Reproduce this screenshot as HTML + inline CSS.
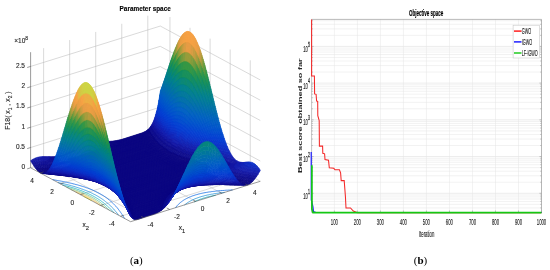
<!DOCTYPE html><html><head><meta charset="utf-8"><style>
html,body{margin:0;padding:0;background:#fff;}
svg{display:block}
text{font-family:"Liberation Sans",Arial,sans-serif;fill:#262626}
.g{stroke:#b4b4b4;stroke-width:.5}
.a{stroke:#555;stroke-width:.6}
.ct polyline{fill:none;stroke-width:.75}
.SU path{stroke-width:6;stroke-linejoin:round}
.ttl{font-size:6.4px;font-weight:bold;fill:#000;stroke:#000;stroke-width:.1}
.tk{font-size:6.5px;stroke:#262626;stroke-width:.12}
.sup{font-size:4.4px}
.sup8{font-size:5px}
.sub{font-size:4.4px}
.asub{font-size:5.8px}
.zl{font-size:6.9px}
.zl .sub{font-size:4.8px}
.mg{stroke:#e4e4e4;stroke-width:.5}
.rg{stroke:#d8d8d8;stroke-width:.5}
.rv{stroke:#e4e4e4;stroke-width:.5}
.rb{fill:none;stroke:#9c9c9c;stroke-width:.7}
.ra{fill:none;stroke:#9a9a9a;stroke-width:.6}
.rt{font-size:9.3px;stroke:#262626;stroke-width:.15}
.rlg{font-size:8.9px;stroke:#262626;stroke-width:.15}
.ryl{font-size:9.15px;font-weight:bold}
.rsup{font-size:7.6px;stroke-width:.25}
.rtt{font-size:9.6px;font-weight:bold;fill:#000;stroke:#000;stroke-width:.15}
.cap{font-family:"Liberation Serif",serif;font-size:11px;fill:#000}
.sa{fill:#080480;stroke:#080480}.sb{fill:#0c0a8b;stroke:#0c0a8b}.sc{fill:#0f0f96;stroke:#0f0f96}.sd{fill:#1216a2;stroke:#1216a2}.se{fill:#141eaf;stroke:#141eaf}.sf{fill:#1124b7;stroke:#1124b7}.sg{fill:#0f2ac0;stroke:#0f2ac0}.sh{fill:#0c30c8;stroke:#0c30c8}.si{fill:#0a35cb;stroke:#0a35cb}.sj{fill:#0739cf;stroke:#0739cf}.sk{fill:#053ed2;stroke:#053ed2}.sl{fill:#0442d1;stroke:#0442d1}.sm{fill:#0247d0;stroke:#0247d0}.sn{fill:#014cce;stroke:#014cce}.so{fill:#0050cd;stroke:#0050cd}.sp{fill:#0054cb;stroke:#0054cb}.sq{fill:#0058c8;stroke:#0058c8}.sr{fill:#005bc5;stroke:#005bc5}.ss{fill:#005fc3;stroke:#005fc3}.st{fill:#0062be;stroke:#0062be}.su{fill:#0065b9;stroke:#0065b9}.sv{fill:#0068b4;stroke:#0068b4}.sw{fill:#006baf;stroke:#006baf}.sx{fill:#006eaa;stroke:#006eaa}.sy{fill:#0071a5;stroke:#0071a5}.sz{fill:#0074a0;stroke:#0074a0}.sA{fill:#00779b;stroke:#00779b}.sB{fill:#007a96;stroke:#007a96}.sC{fill:#007d91;stroke:#007d91}.sD{fill:#00808c;stroke:#00808c}.sE{fill:#028284;stroke:#028284}.sF{fill:#05847d;stroke:#05847d}.sG{fill:#088676;stroke:#088676}.sH{fill:#0a886e;stroke:#0a886e}.sI{fill:#0c8a66;stroke:#0c8a66}.sJ{fill:#0f8c5f;stroke:#0f8c5f}.sK{fill:#168e59;stroke:#168e59}.sL{fill:#1d9053;stroke:#1d9053}.sM{fill:#24924d;stroke:#24924d}.sN{fill:#2b9447;stroke:#2b9447}.sO{fill:#329641;stroke:#329641}.sP{fill:#46973f;stroke:#46973f}.sQ{fill:#5a983d;stroke:#5a983d}.sR{fill:#6e993b;stroke:#6e993b}.sS{fill:#829a39;stroke:#829a39}.sT{fill:#969b37;stroke:#969b37}.sU{fill:#a69b39;stroke:#a69b39}.sV{fill:#b69b3b;stroke:#b69b3b}.sW{fill:#c69b3d;stroke:#c69b3d}.sX{fill:#d69b3f;stroke:#d69b3f}.sY{fill:#e69b41;stroke:#e69b41}.sZ{fill:#e99c41;stroke:#e99c41}.sba{fill:#ec9d41;stroke:#ec9d41}.sbb{fill:#f09e41;stroke:#f09e41}.sbc{fill:#f39f41;stroke:#f39f41}.sbd{fill:#f6a041;stroke:#f6a041}.sbe{fill:#f1a641;stroke:#f1a641}.sbf{fill:#ecac41;stroke:#ecac41}.sbg{fill:#e2b841;stroke:#e2b841}.sbh{fill:#d7c341;stroke:#d7c341}.sbi{fill:#d4c741;stroke:#d4c741}.sbj{fill:#d2cc41;stroke:#d2cc41}.sbk{fill:#d0d041;stroke:#d0d041}.sbl{fill:#cdd441;stroke:#cdd441}</style></head><body><svg width="550" height="270" viewBox="0 0 550 270"><g><line class="g" x1="143.62" y1="217.64" x2="43.62" y2="163.74"/><line class="g" x1="120.56" y1="216.29" x2="250.26" y2="175.89"/><line class="g" x1="169.67" y1="209.53" x2="69.67" y2="155.63"/><line class="g" x1="100.48" y1="205.47" x2="230.18" y2="165.07"/><line class="g" x1="195.71" y1="201.42" x2="95.71" y2="147.52"/><line class="g" x1="80.40" y1="194.64" x2="210.10" y2="154.24"/><line class="g" x1="221.75" y1="193.31" x2="121.75" y2="139.41"/><line class="g" x1="60.32" y1="183.82" x2="190.02" y2="143.42"/><line class="g" x1="247.80" y1="185.19" x2="147.80" y2="131.29"/><line class="g" x1="40.24" y1="173.00" x2="169.94" y2="132.60"/><line class="g" x1="43.62" y1="163.74" x2="43.62" y2="48.14"/><line class="g" x1="69.67" y1="155.63" x2="69.67" y2="40.03"/><line class="g" x1="95.71" y1="147.52" x2="95.71" y2="31.92"/><line class="g" x1="121.75" y1="139.41" x2="121.75" y2="23.81"/><line class="g" x1="147.80" y1="131.29" x2="147.80" y2="15.69"/><line class="g" x1="30.60" y1="167.80" x2="160.30" y2="127.40"/><line class="g" x1="30.60" y1="147.53" x2="160.30" y2="107.13"/><line class="g" x1="30.60" y1="127.26" x2="160.30" y2="86.86"/><line class="g" x1="30.60" y1="106.99" x2="160.30" y2="66.59"/><line class="g" x1="30.60" y1="86.72" x2="160.30" y2="46.32"/><line class="g" x1="30.60" y1="66.44" x2="160.30" y2="26.04"/><line class="g" x1="250.26" y1="175.89" x2="250.26" y2="60.29"/><line class="g" x1="230.18" y1="165.07" x2="230.18" y2="49.47"/><line class="g" x1="210.10" y1="154.24" x2="210.10" y2="38.64"/><line class="g" x1="190.02" y1="143.42" x2="190.02" y2="27.82"/><line class="g" x1="169.94" y1="132.60" x2="169.94" y2="17.00"/><line class="g" x1="260.30" y1="181.30" x2="160.30" y2="127.40"/><line class="g" x1="260.30" y1="161.03" x2="160.30" y2="107.13"/><line class="g" x1="260.30" y1="140.76" x2="160.30" y2="86.86"/><line class="g" x1="260.30" y1="120.49" x2="160.30" y2="66.59"/><line class="g" x1="260.30" y1="100.22" x2="160.30" y2="46.32"/><line class="g" x1="260.30" y1="79.94" x2="160.30" y2="26.04"/></g><g><line class="a" x1="30.60" y1="167.80" x2="30.60" y2="52.20"/><line class="a" x1="30.60" y1="167.80" x2="27.20" y2="168.85"/><line class="a" x1="30.60" y1="147.53" x2="27.20" y2="148.58"/><line class="a" x1="30.60" y1="127.26" x2="27.20" y2="128.31"/><line class="a" x1="30.60" y1="106.99" x2="27.20" y2="108.04"/><line class="a" x1="30.60" y1="86.72" x2="27.20" y2="87.77"/><line class="a" x1="30.60" y1="66.44" x2="27.20" y2="67.49"/></g><g class="ct"><polyline stroke="#0363e1" points="232.6,189.9 232.0,189.9 230.8,190.0 230.7,190.0 229.7,190.1 228.7,190.1 228.6,190.1 227.5,190.2 226.7,190.2 226.4,190.2 225.2,190.3 224.6,190.4 224.2,190.4 223.1,190.5 222.5,190.5 222.0,190.6 220.9,190.6 220.3,190.7 219.9,190.7 218.8,190.8 217.9,190.9 217.7,190.9 216.7,191.0 215.7,191.1 215.5,191.2 214.7,191.3 213.6,191.4 212.8,191.5 212.6,191.5 211.6,191.6 210.7,191.8 209.9,191.9 209.7,191.9 208.7,192.0 207.8,192.2 206.8,192.3 206.6,192.4 205.9,192.5 205.0,192.7 204.1,192.8 203.2,193.0 202.4,193.2 202.3,193.2 201.4,193.4 200.5,193.6 199.7,193.8 198.8,194.0 198.0,194.2 197.2,194.5 196.4,194.7 195.6,194.9 194.8,195.2 194.0,195.4 193.3,195.7 192.5,195.9 191.8,196.2 191.1,196.5 190.4,196.8 189.7,197.0 189.0,197.3 188.9,197.4 188.3,197.7 187.7,198.0 187.0,198.3 186.4,198.6 186.1,198.8 185.8,198.9 185.2,199.3 184.6,199.6 184.1,199.9 184.0,200.0 183.4,200.3 182.9,200.7 182.6,200.9 182.3,201.1 181.8,201.5 181.4,201.8 181.3,201.8 180.8,202.2 180.3,202.6 180.3,202.6 179.8,203.0 179.4,203.4 179.4,203.5 178.9,203.9 178.6,204.2 178.5,204.3 178.0,204.7 177.9,204.9 177.6,205.2 177.2,205.6 177.2,205.7 176.8,206.1 176.6,206.4 176.4,206.5 176.0,207.0 176.0,207.0 175.7,207.5 175.5,207.7"/><polyline stroke="#0363e1" points="124.5,218.4 124.3,218.0 124.0,217.6 123.9,217.4 123.8,217.2 123.5,216.7 123.3,216.4 123.2,216.3 123.0,215.9 122.7,215.5 122.7,215.4 122.4,215.0 122.2,214.6 122.0,214.4 121.9,214.2 121.6,213.7 121.3,213.4 121.3,213.3 121.0,212.9 120.7,212.5 120.6,212.3 120.4,212.1 120.1,211.6 119.8,211.3 119.8,211.2 119.5,210.8 119.2,210.4 119.0,210.1 118.9,210.0 118.6,209.6 118.3,209.2 118.1,209.0 117.9,208.7 117.6,208.3 117.3,207.9 117.1,207.8 116.9,207.5 116.6,207.1 116.2,206.7 116.1,206.6 115.9,206.3 115.5,205.9 115.1,205.5 114.9,205.3 114.8,205.1 114.4,204.7 114.0,204.3 113.6,203.9 113.5,203.9 113.2,203.5 112.8,203.2 112.4,202.8 112.0,202.4 112.0,202.4 111.6,202.0 111.2,201.6 110.8,201.2 110.3,200.9 110.1,200.7 109.9,200.5 109.4,200.1 109.0,199.7 108.5,199.4 108.0,199.0 107.6,198.7 107.6,198.6 107.1,198.3 106.6,197.9 106.1,197.6 105.6,197.2 105.1,196.9 104.6,196.5 104.0,196.2 103.5,195.8 103.4,195.7 103.0,195.5 102.4,195.1 101.9,194.8 101.3,194.5 100.7,194.1 100.1,193.8 99.6,193.5 99.0,193.1 98.3,192.8 97.7,192.5 97.1,192.2 96.5,191.9 95.8,191.5 95.2,191.2 94.5,190.9 94.4,190.9 93.8,190.6 93.2,190.3 92.5,190.0 91.8,189.7 91.1,189.4 90.3,189.2 89.6,188.9 88.9,188.6 88.9,188.6 88.1,188.3 87.4,188.0 86.6,187.8 85.8,187.5 85.2,187.3 85.0,187.2 84.3,186.9 83.5,186.7 82.6,186.4 82.1,186.3 81.8,186.2 81.0,185.9 80.2,185.7 79.3,185.4 79.3,185.4 78.5,185.2 77.6,184.9 76.8,184.7 76.7,184.7 75.8,184.5 74.9,184.2 74.4,184.1 74.0,184.0 73.1,183.8 72.2,183.5 72.1,183.5 71.3,183.3 70.3,183.1 69.9,183.0 69.4,182.9 68.4,182.7 67.8,182.5 67.5,182.5 66.5,182.2 65.7,182.1 65.5,182.0 64.5,181.8 63.7,181.7 63.5,181.6 62.5,181.4 61.8,181.3 61.5,181.2 60.5,181.0 59.9,180.9 59.5,180.8 58.4,180.7 58.0,180.6 57.4,180.5 56.3,180.3 56.2,180.3 55.3,180.1 54.4,179.9 54.2,179.9 53.1,179.7 52.6,179.6"/><polyline stroke="#0363e1" points="156.3,128.6 156.6,129.1 156.9,129.5 157.1,129.6 157.2,129.9 157.5,130.3 157.9,130.7 157.9,130.7 158.2,131.1 158.5,131.6 158.7,131.9 158.8,132.0 159.1,132.4 159.5,132.8 159.7,133.0 159.8,133.2 160.1,133.6 160.5,134.0 160.7,134.3 160.8,134.4 161.2,134.8 161.5,135.2 161.8,135.5 161.9,135.6 162.2,136.0 162.6,136.4 163.0,136.8 163.1,136.9 163.4,137.2 163.8,137.6 164.2,138.0 164.5,138.3 164.6,138.4 164.9,138.8 165.4,139.1 165.8,139.5 166.1,139.8 166.2,139.9 166.6,140.3 167.0,140.7 167.5,141.0 167.9,141.4 168.2,141.6 168.4,141.8 168.8,142.2 169.3,142.5 169.8,142.9 170.2,143.3 170.7,143.6 170.9,143.8 171.2,144.0 171.7,144.3 172.2,144.7 172.7,145.0 173.2,145.4 173.8,145.7 174.3,146.1 174.8,146.4 175.4,146.8 176.0,147.1 176.3,147.3 176.5,147.5 177.1,147.8 177.7,148.1 178.3,148.4 178.8,148.8 179.5,149.1 180.1,149.4 180.7,149.7 181.3,150.1 182.0,150.4 182.0,150.4 182.6,150.7 183.2,151.0 183.9,151.3 184.6,151.6 185.3,151.9 185.9,152.2 186.6,152.5 187.3,152.8 188.1,153.1 188.7,153.3 188.8,153.4 189.5,153.7 190.2,153.9 191.0,154.2 191.7,154.5 192.5,154.8 192.7,154.8 193.3,155.0 194.1,155.3 194.8,155.6 195.6,155.8 196.0,156.0 196.4,156.1 197.3,156.4 198.1,156.6 198.9,156.9 199.0,156.9 199.7,157.1 200.6,157.4 201.4,157.6 201.7,157.7 202.3,157.9 203.2,158.1 204.0,158.3 204.3,158.4 204.9,158.6 205.8,158.8 206.7,159.1 206.7,159.1 207.6,159.3 208.5,159.5 209.0,159.6 209.4,159.7 210.3,160.0 211.3,160.2 211.3,160.2 212.2,160.4 213.1,160.6 213.5,160.7 214.1,160.9 215.0,161.1 215.6,161.2 216.0,161.3 217.0,161.5 217.7,161.7 217.9,161.7 218.9,161.9 219.7,162.1 219.9,162.1 220.9,162.3 221.7,162.5 221.9,162.5 222.8,162.7 223.7,162.9 223.8,162.9 224.8,163.1 225.7,163.3 225.8,163.3 226.8,163.5 227.7,163.7"/><polyline stroke="#1389d3" points="224.6,192.4 224.3,192.4 223.2,192.6 222.2,192.7 222.1,192.7 221.2,192.8 220.2,192.9 219.4,193.0 219.2,193.0 218.2,193.2 217.2,193.3 216.5,193.4 216.3,193.4 215.3,193.6 214.3,193.7 213.4,193.9 213.1,193.9 212.5,194.1 211.5,194.2 210.6,194.4 209.7,194.6 209.0,194.7 208.8,194.8 207.9,194.9 207.1,195.1 206.2,195.3 205.3,195.5 204.5,195.7 203.7,196.0 202.8,196.2 202.0,196.4 201.2,196.6 200.4,196.9 199.7,197.1 198.9,197.4 198.2,197.6 197.4,197.9 196.7,198.2 196.0,198.4 195.2,198.7 194.5,199.0 193.9,199.3 193.2,199.6 193.1,199.7 192.5,199.9 191.9,200.2 191.2,200.6 190.6,200.9 190.3,201.0 190.0,201.2 189.4,201.6 188.8,201.9 188.4,202.2 188.2,202.3 187.7,202.6 187.1,203.0 186.9,203.2 186.6,203.4 186.0,203.7 185.6,204.1 185.5,204.1 185.0,204.5 184.5,204.9 184.5,204.9"/><polyline stroke="#1389d3" points="118.6,215.2 118.6,215.2 118.3,214.8 118.0,214.4 117.8,214.1 117.7,213.9 117.4,213.5 117.0,213.1 116.9,213.0 116.7,212.7 116.4,212.3 116.0,211.9 116.0,211.8 115.7,211.5 115.4,211.1 115.0,210.7 115.0,210.6 114.7,210.3 114.3,209.9 114.0,209.5 113.9,209.4 113.6,209.1 113.3,208.7 112.9,208.3 112.7,208.1 112.5,207.9 112.1,207.5 111.7,207.1 111.4,206.7 111.3,206.7 111.0,206.3 110.6,205.9 110.2,205.5 109.8,205.1 109.7,205.1 109.3,204.8 108.9,204.4 108.5,204.0 108.1,203.6 107.9,203.5 107.6,203.2 107.2,202.9 106.7,202.5 106.3,202.1 105.8,201.8 105.5,201.5 105.3,201.4 104.9,201.0 104.4,200.7 103.9,200.3 103.4,199.9 102.9,199.6 102.4,199.2 102.1,199.0 101.9,198.9 101.4,198.5 100.8,198.2 100.3,197.8 99.8,197.5 99.2,197.1 98.7,196.8 98.1,196.5 97.5,196.1 97.0,195.8 96.4,195.5 95.8,195.1 95.2,194.8 94.6,194.5 93.9,194.2 93.3,193.9 92.7,193.5 92.1,193.2 91.4,192.9 90.7,192.6 90.1,192.3 89.4,192.0 88.7,191.7 88.0,191.4 87.8,191.3 87.3,191.1 86.6,190.8 85.9,190.5 85.2,190.2 84.5,190.0 83.7,189.7 83.2,189.5 83.0,189.4 82.2,189.1 81.4,188.9 80.7,188.6 79.9,188.3 79.6,188.2 79.1,188.1 78.3,187.8 77.5,187.5 76.6,187.3 76.5,187.2 75.8,187.0 75.0,186.8 74.1,186.5 73.7,186.4 73.3,186.3 72.4,186.0 71.6,185.8 71.1,185.7 70.7,185.5 69.8,185.3 68.9,185.1 68.7,185.0 68.0,184.8 67.1,184.6 66.4,184.4 66.2,184.4 65.3,184.2 64.3,183.9 64.2,183.9 63.4,183.7 62.5,183.5 62.0,183.4 61.5,183.3 60.5,183.1 59.9,182.9 59.6,182.9 58.6,182.6 57.9,182.5"/><polyline stroke="#1389d3" points="159.7,127.6 160.0,127.9 160.1,128.0 160.4,128.4 160.7,128.8 160.9,129.1 161.0,129.2 161.4,129.6 161.7,130.0 161.9,130.2 162.0,130.4 162.4,130.9 162.7,131.3 162.9,131.5 163.1,131.7 163.4,132.1 163.8,132.5 164.1,132.8 164.2,132.9 164.5,133.3 164.9,133.7 165.3,134.0 165.4,134.1 165.7,134.4 166.1,134.8 166.4,135.2 166.8,135.6 166.9,135.6 167.2,136.0 167.7,136.4 168.1,136.8 168.5,137.1 168.5,137.1 168.9,137.5 169.3,137.9 169.8,138.3 170.2,138.7 170.5,138.9 170.7,139.0 171.1,139.4 171.6,139.8 172.0,140.1 172.5,140.5 173.0,140.9 173.1,140.9 173.5,141.2 174.0,141.6 174.4,142.0 174.9,142.3 175.5,142.7 176.0,143.0 176.5,143.4 177.0,143.7 177.2,143.8 177.6,144.1 178.1,144.4 178.6,144.7 179.2,145.1 179.8,145.4 180.3,145.8 180.9,146.1 181.5,146.4 182.1,146.7 182.7,147.1 183.3,147.4 183.9,147.7 184.5,148.0 185.1,148.4 185.8,148.7 186.4,149.0 187.1,149.3 187.7,149.6 188.4,149.9 188.7,150.0 189.1,150.2 189.8,150.5 190.5,150.8 191.2,151.1 191.9,151.4 192.6,151.7 193.3,152.0 194.0,152.2 194.1,152.3 194.8,152.5 195.5,152.8 196.3,153.1 197.0,153.4 197.8,153.6 198.0,153.7 198.6,153.9 199.4,154.2 200.2,154.4 201.0,154.7 201.3,154.8 201.8,155.0 202.6,155.2 203.4,155.5 204.2,155.7 204.2,155.7 205.1,156.0 205.9,156.2 206.8,156.5 206.9,156.5 207.6,156.7 208.5,157.0 209.4,157.2 209.5,157.2 210.2,157.4 211.1,157.7 211.9,157.9 212.0,157.9 212.9,158.1 213.8,158.4 214.3,158.5 214.7,158.6 215.7,158.8 216.5,159.0 216.6,159.1 217.5,159.3 218.5,159.5 218.7,159.6 219.4,159.7 220.3,159.9 220.9,160.0"/><polyline stroke="#0aacbe" points="215.7,195.2 214.9,195.4 214.0,195.5 213.1,195.7 212.2,195.9 211.3,196.1 211.0,196.1 210.4,196.3 209.6,196.5 208.7,196.7 207.9,196.9 207.0,197.1 206.2,197.3 205.4,197.6 204.6,197.8 203.8,198.0 203.0,198.3 202.3,198.5 201.5,198.8 200.8,199.0 200.0,199.3 199.3,199.6 198.6,199.9 197.9,200.2 197.2,200.4 197.2,200.4 196.5,200.7 195.8,201.0 195.2,201.4 194.5,201.7 194.0,202.0"/><polyline stroke="#0aacbe" points="113.9,212.7 113.8,212.6 113.5,212.2 113.1,211.8 112.8,211.4 112.7,211.4 112.4,211.0 112.0,210.6 111.6,210.2 111.6,210.1 111.3,209.8 110.9,209.4 110.5,209.0 110.2,208.7 110.1,208.6 109.7,208.2 109.3,207.8 108.9,207.4 108.7,207.3 108.5,207.1 108.1,206.7 107.7,206.3 107.3,205.9 107.0,205.6 106.8,205.5 106.4,205.2 106.0,204.8 105.5,204.4 105.1,204.0 104.8,203.8 104.6,203.7 104.2,203.3 103.7,202.9 103.2,202.6 102.8,202.2 102.3,201.8 101.9,201.6 101.8,201.5 101.3,201.1 100.8,200.8 100.3,200.4 99.8,200.1 99.2,199.7 98.7,199.4 98.2,199.0 97.6,198.7 97.1,198.3 96.7,198.1 96.5,198.0 95.9,197.7 95.4,197.3 94.8,197.0 94.2,196.7 93.6,196.3 93.0,196.0 92.4,195.7 91.8,195.4 91.2,195.0 90.5,194.7 89.9,194.4 89.3,194.1 89.2,194.1 88.6,193.8 88.0,193.5 87.3,193.2 86.6,192.9 85.9,192.6 85.2,192.3 84.5,192.0 83.8,191.7 83.1,191.4 82.8,191.3 82.4,191.1 81.7,190.8 80.9,190.5 80.2,190.3 79.4,190.0 78.7,189.7 78.7,189.7 77.9,189.4 77.1,189.2 76.3,188.9 75.5,188.6 75.3,188.6 74.7,188.4 73.9,188.1 73.1,187.9 72.3,187.6 72.3,187.6 71.4,187.4 70.6,187.1 69.7,186.9 69.6,186.8 68.9,186.6 68.0,186.4 67.1,186.1 67.0,186.1 66.3,185.9 65.4,185.7 64.6,185.5 64.5,185.4 63.6,185.2 62.7,185.0 62.3,184.9"/><polyline stroke="#0aacbe" points="164.1,129.4 164.3,129.7 164.7,130.1 165.1,130.5 165.2,130.7 165.4,130.9 165.8,131.3 166.2,131.7 166.5,132.1 166.5,132.1 166.9,132.5 167.3,132.9 167.7,133.3 167.9,133.5 168.1,133.7 168.5,134.1 168.9,134.5 169.3,134.8 169.5,135.0 169.7,135.2 170.1,135.6 170.6,136.0 171.0,136.4 171.4,136.7 171.4,136.7 171.9,137.1 172.3,137.5 172.8,137.9 173.2,138.2 173.7,138.6 173.8,138.7 174.2,139.0 174.6,139.3 175.1,139.7 175.6,140.1 176.1,140.4 176.6,140.8 177.1,141.1 177.1,141.1 177.6,141.5 178.1,141.8 178.7,142.2 179.2,142.5 179.7,142.9 180.3,143.2 180.8,143.6 181.4,143.9 181.9,144.2 182.5,144.6 183.1,144.9 183.7,145.2 184.3,145.6 184.9,145.9 185.5,146.2 186.1,146.5 186.7,146.8 187.3,147.2 188.0,147.5 188.6,147.8 189.2,148.1 189.9,148.4 190.6,148.7 191.2,149.0 191.9,149.3 192.6,149.6 193.3,149.9 193.9,150.2 194.0,150.2 194.7,150.5 195.4,150.8 196.1,151.1 196.9,151.4 197.6,151.6 198.4,151.9 198.5,152.0 199.1,152.2 199.9,152.5 200.6,152.8 201.4,153.0 202.1,153.3 202.2,153.3 203.0,153.6 203.8,153.8 204.6,154.1 205.3,154.3 205.4,154.3 206.2,154.6 207.0,154.9 207.9,155.1 208.2,155.2 208.7,155.4 209.6,155.6 210.4,155.9 210.8,156.0 211.3,156.1 212.1,156.3 213.0,156.6 213.4,156.7 213.9,156.8 214.8,157.1 215.7,157.3 215.8,157.3"/><polyline stroke="#59bd8c" points="109.5,210.3 109.1,209.9 108.7,209.6 108.3,209.2 108.0,208.9 107.9,208.8 107.5,208.4 107.1,208.0 106.7,207.6 106.3,207.3 106.3,207.2 105.9,206.9 105.4,206.5 105.0,206.1 104.5,205.7 104.3,205.5 104.1,205.4 103.6,205.0 103.2,204.6 102.7,204.3 102.3,203.9 101.8,203.5 101.7,203.5 101.3,203.2 100.8,202.8 100.3,202.4 99.8,202.1 99.3,201.7 98.8,201.4 98.3,201.0 97.8,200.7 97.8,200.7 97.2,200.3 96.7,200.0 96.2,199.6 95.6,199.3 95.1,199.0 94.5,198.6 93.9,198.3 93.4,198.0 92.8,197.6 92.2,197.3 91.6,197.0 91.0,196.6 90.4,196.3 89.7,196.0 89.1,195.7 88.5,195.4 87.9,195.1 87.2,194.7 86.5,194.4 85.9,194.1 85.2,193.8 84.5,193.5 84.3,193.4 83.9,193.2 83.2,192.9 82.5,192.6 81.8,192.3 81.0,192.0 80.3,191.8 79.6,191.5 79.2,191.3 78.8,191.2 78.1,190.9 77.4,190.6 76.6,190.4 75.8,190.1 75.4,189.9 75.0,189.8 74.3,189.5 73.5,189.3 72.7,189.0 72.1,188.8 71.9,188.8 71.1,188.5 70.2,188.2 69.4,188.0 69.2,187.9 68.6,187.7 67.7,187.5 66.9,187.2 66.5,187.1"/><polyline stroke="#59bd8c" points="168.7,131.9 168.7,132.0 169.1,132.3 169.5,132.7 169.9,133.1 170.3,133.4 170.3,133.5 170.7,133.9 171.2,134.3 171.6,134.6 172.0,135.0 172.1,135.1 172.4,135.4 172.9,135.8 173.3,136.2 173.8,136.5 174.2,136.9 174.3,136.9 174.7,137.3 175.2,137.6 175.6,138.0 176.1,138.4 176.6,138.7 177.1,139.1 177.2,139.2 177.6,139.4 178.1,139.8 178.6,140.2 179.1,140.5 179.6,140.9 180.1,141.2 180.7,141.6 181.2,141.9 181.7,142.2 182.3,142.6 182.3,142.6 182.9,142.9 183.4,143.3 184.0,143.6 184.6,143.9 185.1,144.3 185.7,144.6 186.3,144.9 186.9,145.2 187.5,145.6 188.2,145.9 188.8,146.2 189.4,146.5 190.0,146.8 190.7,147.1 191.2,147.4 191.3,147.4 192.0,147.8 192.7,148.1 193.3,148.4 194.0,148.7 194.7,149.0 195.4,149.3 196.1,149.6 196.8,149.8 197.5,150.1 197.6,150.1 198.2,150.4 199.0,150.7 199.7,151.0 200.5,151.3 201.2,151.5 201.8,151.7 202.0,151.8 202.7,152.1 203.5,152.4 204.3,152.6 205.1,152.9 205.2,153.0 205.9,153.2 206.7,153.4 207.5,153.7 208.3,153.9 208.3,154.0 209.1,154.2 209.9,154.5 210.8,154.7 211.2,154.8"/><polyline stroke="#b7bd64" points="105.0,207.9 104.8,207.7 104.4,207.3 103.9,207.0 103.5,206.6 103.0,206.2 102.9,206.1 102.6,205.8 102.1,205.5 101.7,205.1 101.2,204.7 100.7,204.4 100.2,204.0 100.2,204.0 99.7,203.6 99.3,203.3 98.8,202.9 98.3,202.6 97.7,202.2 97.2,201.9 96.7,201.5 96.2,201.2 95.9,201.0 95.6,200.8 95.1,200.5 94.6,200.1 94.0,199.8 93.4,199.5 92.9,199.1 92.3,198.8 91.7,198.5 91.1,198.1 90.5,197.8 89.9,197.5 89.3,197.2 88.7,196.8 88.1,196.5 87.5,196.2 86.8,195.9 86.2,195.6 85.5,195.3 84.9,195.0 84.2,194.6 83.5,194.3 83.5,194.3 82.9,194.0 82.2,193.7 81.5,193.4 80.8,193.1 80.1,192.9 79.4,192.6 78.7,192.3 78.1,192.1 77.9,192.0 77.2,191.7 76.4,191.4 75.7,191.2 74.9,190.9 74.2,190.6 74.1,190.6 73.4,190.3 72.6,190.1 71.8,189.8 71.0,189.5 70.8,189.5"/><polyline stroke="#b7bd64" points="173.4,134.5 173.5,134.6 174.0,134.9 174.4,135.3 174.8,135.7 175.3,136.0 175.7,136.4 175.8,136.4 176.2,136.8 176.7,137.1 177.2,137.5 177.7,137.9 178.2,138.2 178.7,138.6 178.9,138.7 179.2,138.9 179.7,139.3 180.2,139.7 180.7,140.0 181.2,140.4 181.7,140.7 182.3,141.0 182.8,141.4 183.4,141.7 183.9,142.1 184.5,142.4 184.9,142.6 185.1,142.7 185.6,143.1 186.2,143.4 186.8,143.7 187.4,144.1 188.0,144.4 188.6,144.7 189.2,145.0 189.8,145.4 190.4,145.7 191.1,146.0 191.2,146.0 191.7,146.3 192.4,146.6 193.0,146.9 193.7,147.2 194.3,147.5 195.0,147.8 195.7,148.1 196.4,148.4 197.1,148.7 197.8,149.0 198.5,149.3 198.5,149.3 199.2,149.6 199.9,149.9 200.7,150.2 201.4,150.5 202.1,150.7 202.9,151.0 202.9,151.0 203.7,151.3 204.4,151.6 205.2,151.8 206.0,152.1 206.4,152.3"/><polyline stroke="#fdbe3d" points="99.9,205.2 99.9,205.1 99.4,204.8 98.9,204.4 98.4,204.1 97.9,203.7 97.4,203.3 96.9,203.0 96.4,202.6 96.2,202.5 95.9,202.3 95.4,201.9 94.8,201.6 94.3,201.2 93.8,200.9 93.2,200.6 92.6,200.2 92.1,199.9 91.5,199.5 90.9,199.2 90.4,198.9 89.8,198.6 89.2,198.2 88.6,197.9 88.0,197.6 87.3,197.3 86.7,196.9 86.1,196.6 85.5,196.3 84.8,196.0 84.2,195.7 83.5,195.4 82.8,195.1 82.2,194.8 81.5,194.5 80.8,194.2 80.7,194.1 80.1,193.9 79.4,193.6 78.7,193.3 78.0,193.0 77.3,192.7 76.5,192.4 75.8,192.1 75.7,192.1"/><polyline stroke="#fdbe3d" points="179.0,137.5 179.5,137.8 180.0,138.2 180.5,138.5 181.0,138.9 181.5,139.2 182.0,139.6 182.6,139.9 183.1,140.3 183.6,140.6 183.8,140.7 184.2,141.0 184.7,141.3 185.3,141.6 185.8,142.0 186.4,142.3 187.0,142.7 187.6,143.0 188.2,143.3 188.8,143.6 189.4,144.0 190.0,144.3 190.6,144.6 191.2,144.9 191.8,145.2 192.5,145.6 193.1,145.9 193.8,146.2 194.4,146.5 194.8,146.6 195.1,146.8 195.8,147.1 196.4,147.4 197.1,147.7 197.8,148.0 198.5,148.3 199.2,148.6 199.9,148.9 200.6,149.2 200.8,149.2"/><polyline stroke="#f6f313" points="91.7,200.8 91.5,200.6 90.9,200.3 90.3,199.9 89.8,199.6 89.2,199.3 88.6,198.9 88.0,198.6 87.4,198.3 86.8,198.0 86.1,197.6 85.5,197.3 84.9,197.0 84.2,196.7 83.8,196.5"/></g><g class="SU" transform="scale(.1)"><path class=ss d="M1601 952l8-54-6 16-8 53z"/><path class=sp d="M1593 1000l8-48-6 15-8 46z"/><path class=sn d="M1586 1043l7-43-6 13-7 41z"/><path class=sl d="M1578 1081l8-38-6 11-8 36z"/><path class=sj d="M1570 1114l8-33-6 9-8 32z"/><path class=si d="M1562 1144l8-30-6 8-8 29z"/><path class=sg d="M1554 1170l8-26-6 7-8 24z"/><path class=sf d="M1547 1193l7-23-6 5-8 22z"/><path class=se d="M1539 1213l8-20-7 4-7 19z"/><path class=sd d="M1523 1246l16-33-6 3-16 32z"/><path class=sc d="M1507 1271l16-25-6 2-16 23z"/><path class=sb d="M1484 1297l16-16 7-10-6 0-7 10-16 15z"/><path class=sa d="M1093 1420l47-5 39-7 39-10 47-14 133-42 31-11 32-16 23-18-6-1-23 17-32 15-179 58-39 11-40 8-39 6-39 3z"/><path class=sb d="M1015 1427l78-7-6-6-78 5z"/><path class=sb d="M554 1570l47-6 39-10 47-17 63-29-6-8-63 30-47 19-39 11-23 4-24 3z"/><path class=sc d="M492 1571l62-1-6-3-31 1-31-1z"/><path class=sd d="M437 1572l55-1-6-4-55-1z"/><path class=se d="M335 1601l24-12 23-9 24-5 31-3-6-6-31 2-24 5-23 7-24 12z"/><path class=sd d="M312 1617l23-16-6-9-23 15z"/><path class=st d="M1607 938l8-56-6 16-8 54z"/><path class=sq d="M1599 988l8-50-6 14-8 48z"/><path class=so d="M1592 1032l7-44-6 12-7 43z"/><path class=sm d="M1584 1071l8-39-6 11-8 38z"/><path class=sk d="M1576 1106l8-35-6 10-8 33z"/><path class=si d="M1568 1137l8-31-6 8-8 30z"/><path class=sh d="M1560 1164l8-27-6 7-8 26z"/><path class=sg d="M1553 1188l7-24-6 6-7 23z"/><path class=sf d="M1545 1209l8-21-6 5-8 20z"/><path class=se d="M1537 1228l8-19-6 4-8 18z"/><path class=sd d="M1529 1244l8-16-6 3-8 15z"/><path class=sc d="M1513 1270l16-26-6 2-16 25z"/><path class=sb d="M1490 1298l16-17 7-11-6 1-7 10-16 16z"/><path class=sa d="M1092 1427l62-9 55-12 47-14 140-44 32-11 23-11 23-14 16-14-6-1-23 18-32 16-31 11-141 45-46 13-40 9-39 7-46 5z"/><path class=sb d="M998 1437l94-10-6-6-94 8z"/><path class=sc d="M498 1575l62-1-6-4-62 1z"/><path class=sd d="M427 1579l32-3 39-1-6-4-39 0-32 2z"/><path class=se d="M365 1597l31-12 31-6-6-6-31 5-31 11z"/><path class=sd d="M318 1627l23-17 24-13-6-8-24 12-23 16z"/><path class=su d="M1613 923l8-58-6 17-8 56z"/><path class=sr d="M1605 975l8-52-6 15-8 50z"/><path class=so d="M1598 1021l7-46-6 13-7 44z"/><path class=sm d="M1590 1061l8-40-6 11-8 39z"/><path class=sk d="M1582 1098l8-37-6 10-8 35z"/><path class=sj d="M1574 1130l8-32-6 8-8 31z"/><path class=sh d="M1566 1158l8-28-6 7-8 27z"/><path class=sg d="M1559 1183l7-25-6 6-7 24z"/><path class=sf d="M1551 1205l8-22-6 5-8 21z"/><path class=se d="M1543 1225l8-20-6 4-8 19z"/><path class=sd d="M1527 1256l16-31-6 3-16 30z"/><path class=sc d="M1512 1281l15-25-6 2-15 23z"/><path class=sb d="M1488 1307l16-16 8-10-6 0-24 24z"/><path class=sa d="M1082 1434l47-6 47-9 39-10 47-13 140-45 32-11 31-16 23-17-6-2-23 17-31 15-180 58-47 13-39 8-39 7-47 5z"/><path class=sc d="M504 1580l62-2-6-4-62 1z"/><path class=sd d="M332 1631l23-16 16-9 16-7 23-9 39-7 55-3-6-5-55 2-39 6-23 8-16 6-16 9-23 15z"/><path class=sc d="M324 1637l8-6-6-10-8 6z"/><path class=sv d="M1619 908l8-60-6 17-8 58z"/><path class=ss d="M1611 961l8-53-6 15-8 52z"/><path class=sp d="M1604 1009l7-48-6 14-7 46z"/><path class=sn d="M1596 1051l8-42-6 12-8 40z"/><path class=sl d="M1588 1089l8-38-6 10-8 37z"/><path class=sj d="M1580 1122l8-33-6 9-8 32z"/><path class=si d="M1572 1152l8-30-6 8-8 28z"/><path class=sh d="M1565 1178l7-26-6 6-7 25z"/><path class=sf d="M1557 1201l8-23-6 5-8 22z"/><path class=se d="M1541 1239l16-38-6 4-16 37z"/><path class=sd d="M1533 1255l8-16-6 3-8 14z"/><path class=sc d="M1518 1280l15-25-6 1-15 25z"/><path class=sb d="M1494 1308l16-17 8-11-6 1-8 10-16 16z"/><path class=sa d="M1072 1442l71-11 62-14 55-16 133-42 39-13 23-11 24-14 15-13-6-1-15 12-16 10-31 14-172 55-47 13-39 10-47 8-55 7z"/><path class=sc d="M502 1584l62-2-6-4-62 2z"/><path class=sd d="M354 1629l31-19 15-7 24-8 31-7 47-4-6-4-47 3-39 7-31 12-31 18z"/><path class=sc d="M330 1646l24-17-6-9-24 17z"/><path class=sw d="M1625 892l8-61-6 17-8 60z"/><path class=st d="M1617 948l8-56-6 16-8 53z"/><path class=sq d="M1610 997l7-49-6 13-7 48z"/><path class=so d="M1602 1041l8-44-6 12-8 42z"/><path class=sm d="M1594 1080l8-39-6 10-8 38z"/><path class=sk d="M1586 1115l8-35-6 9-8 33z"/><path class=si d="M1578 1146l8-31-6 7-8 30z"/><path class=sh d="M1571 1173l7-27-6 6-7 26z"/><path class=sg d="M1563 1197l8-24-6 5-8 23z"/><path class=sf d="M1555 1218l8-21-6 4-8 20z"/><path class=se d="M1547 1237l8-19-6 3-8 18z"/><path class=sd d="M1532 1267l15-30-6 2-15 29z"/><path class=sc d="M1524 1280l8-13-6 1-8 12z"/><path class=sb d="M1500 1309l16-18 8-11-6 0-8 11-16 17z"/><path class=sa d="M1063 1450l78-13 62-14 55-16 141-45 39-13 23-11 24-16 15-13-6-1-15 13-16 10-31 15-31 11-141 44-47 14-47 11-47 9-62 9z"/><path class=sc d="M500 1589l71-3-7-4-70 3z"/><path class=sd d="M375 1628l24-13 31-13 31-8 39-5-6-4-39 3-31 7-31 12-24 12z"/><path class=sc d="M336 1656l39-28-6-9-39 27z"/><path class=sx d="M1631 877l8-64-6 18-8 61z"/><path class=su d="M1624 934l7-57-6 15-8 56z"/><path class=sr d="M1616 985l8-51-7 14-7 49z"/><path class=sp d="M1608 1030l8-45-6 12-8 44z"/><path class=sn d="M1600 1071l8-41-6 11-8 39z"/><path class=sl d="M1592 1107l8-36-6 9-8 35z"/><path class=sj d="M1584 1139l8-32-6 8-8 31z"/><path class=si d="M1577 1167l7-28-6 7-7 27z"/><path class=sg d="M1569 1192l8-25-6 6-8 24z"/><path class=sf d="M1561 1214l8-22-6 5-8 21z"/><path class=se d="M1553 1234l8-20-6 4-8 19z"/><path class=sd d="M1538 1266l15-32-6 3-15 30z"/><path class=sc d="M1522 1291l16-25-6 1-16 24z"/><path class=sb d="M1499 1317l23-26-6 0-24 25z"/><path class=sa d="M1053 1459l70-13 47-10 47-12 55-16 133-42 31-11 31-15 16-10 16-13-7-1-15 12-16 10-31 14-180 57-47 14-46 11-110 19z"/><path class=sc d="M498 1595l79-6-6-3-79 4z"/><path class=sd d="M405 1623l23-11 24-8 23-5 23-4-6-5-23 3-23 5-24 7-23 10z"/><path class=sc d="M350 1658l31-22 24-13-6-8-24 13-31 21z"/><path class=sb d="M342 1664l8-6-6-9-8 7z"/><path class=sy d="M1637 861l8-65-6 17-8 64z"/><path class=sv d="M1630 920l7-59-6 16-7 57z"/><path class=ss d="M1622 972l8-52-6 14-8 51z"/><path class=sp d="M1614 1019l8-47-6 13-8 45z"/><path class=sn d="M1606 1061l8-42-6 11-8 41z"/><path class=sl d="M1598 1099l8-38-6 10-8 36z"/><path class=sk d="M1590 1132l8-33-6 8-8 32z"/><path class=si d="M1583 1161l7-29-6 7-7 28z"/><path class=sh d="M1575 1187l8-26-6 6-8 25z"/><path class=sg d="M1567 1210l8-23-6 5-8 22z"/><path class=sf d="M1559 1231l8-21-6 4-8 20z"/><path class=se d="M1551 1249l8-18-6 3-8 17z"/><path class=sd d="M1544 1264l7-15-6 2-7 15z"/><path class=sc d="M1528 1290l16-26-6 2-16 25z"/><path class=sb d="M1505 1318l15-17 8-11-6 1-23 26z"/><path class=sa d="M1036 1469l101-20 63-15 55-16 148-47 39-14 23-10 24-15 16-14-6-1-16 13-16 10-31 15-31 11-141 44-55 16-46 12-133 25z"/><path class=sc d="M489 1603l39-6 55-4-6-4-63 4-31 4z"/><path class=sd d="M434 1619l24-8 31-8-6-6-31 7-24 8z"/><path class=sc d="M372 1655l31-20 31-16-6-7-31 15-31 20z"/><path class=sb d="M348 1673l24-18-6-8-24 17z"/><path class=sz d="M1643 845l8-67-6 18-8 65z"/><path class=sw d="M1636 905l7-60-6 16-7 59z"/><path class=st d="M1628 960l8-55-6 15-8 52z"/><path class=sq d="M1620 1008l8-48-6 12-8 47z"/><path class=so d="M1612 1052l8-44-6 11-8 42z"/><path class=sm d="M1604 1090l8-38-6 9-8 38z"/><path class=sk d="M1596 1125l8-35-6 9-8 33z"/><path class=sj d="M1589 1155l7-30-6 7-7 29z"/><path class=sh d="M1581 1182l8-27-6 6-8 26z"/><path class=sg d="M1573 1206l8-24-6 5-8 23z"/><path class=sf d="M1565 1227l8-21-6 4-8 21z"/><path class=se d="M1557 1246l8-19-6 4-8 18z"/><path class=sd d="M1542 1277l15-31-6 3-15 29z"/><path class=sc d="M1526 1301l16-24-6 1-16 23z"/><path class=sb d="M1503 1327l23-26-6 0-23 24z"/><path class=sa d="M1018 1479l157-33 46-13 55-16 133-42 31-11 31-15 16-10 16-12-6-2-16 12-16 10-31 14-179 57-47 14-47 12-149 30z"/><path class=sc d="M393 1653l39-23 39-15 24-6 23-5 63-6-6-4-63 5-23 4-24 5-23 8-16 7-15 7-24 15z"/><path class=sb d="M354 1681l39-28-6-8-39 28z"/><path class=sA d="M1649 829l8-69-6 18-8 67z"/><path class=sx d="M1642 891l7-62-6 16-7 60z"/><path class=su d="M1634 947l8-56-6 14-8 55z"/><path class=sr d="M1626 997l8-50-6 13-8 48z"/><path class=sp d="M1618 1042l8-45-6 11-8 44z"/><path class=sn d="M1610 1082l8-40-6 10-8 38z"/><path class=sl d="M1603 1117l7-35-6 8-8 35z"/><path class=sj d="M1595 1149l8-32-7 8-7 30z"/><path class=si d="M1587 1177l8-28-6 6-8 27z"/><path class=sg d="M1579 1202l8-25-6 5-8 24z"/><path class=sf d="M1571 1224l8-22-6 4-8 21z"/><path class=se d="M1556 1261l15-37-6 3-15 36z"/><path class=sd d="M1548 1276l8-15-6 2-8 14z"/><path class=sc d="M1532 1301l16-25-6 1-16 24z"/><path class=sb d="M1509 1328l23-27-6 0-23 26z"/><path class=sa d="M977 1497l47-12 118-26 62-16 55-16 140-44 39-13 24-10 23-14 24-18-6-1-16 12-16 10-31 15-31 11-148 47-47 13-47 13-141 30-55 13z"/><path class=sc d="M407 1656l39-22 39-15 24-7 23-4 55-6-6-4-63 6-39 8-39 14-39 22z"/><path class=sb d="M360 1689l47-33-6-8-47 33z"/><path class=sB d="M1655 813l8-71-6 18-8 69z"/><path class=sy d="M1648 877l7-64-6 16-7 62z"/><path class=sv d="M1640 934l8-57-6 14-8 56z"/><path class=ss d="M1632 986l8-52-6 13-8 50z"/><path class=sp d="M1624 1032l8-46-6 11-8 45z"/><path class=sn d="M1616 1073l8-41-6 10-8 40z"/><path class=sl d="M1609 1110l7-37-6 9-7 35z"/><path class=sk d="M1601 1143l8-33-6 7-8 32z"/><path class=si d="M1593 1172l8-29-6 6-8 28z"/><path class=sh d="M1585 1198l8-26-6 5-8 25z"/><path class=sg d="M1577 1220l8-22-6 4-8 22z"/><path class=sf d="M1569 1241l8-21-6 4-8 19z"/><path class=se d="M1562 1259l7-18-6 2-7 18z"/><path class=sd d="M1546 1288l16-29-6 2-16 28z"/><path class=sc d="M1530 1311l16-23-6 1-16 22z"/><path class=sb d="M1507 1336l23-25-6 0-23 24z"/><path class=sa d="M687 1593l39-8 47-13 148-50 62-20 55-14 141-33 94-27 140-44 31-11 32-15 15-10 16-12-6-1-16 11-15 10-32 14-171 55-94 26-141 32-62 16-63 20-140 49-47 13-39 9z"/><path class=sc d="M429 1654l31-17 39-15 39-9 47-6-6-5-47 6-39 8-39 14-31 16z"/><path class=sb d="M382 1685l47-31-6-8-47 31z"/><path class=sa d="M366 1696l16-11-6-8-16 12z"/><path class=sC d="M1661 796l8-72-6 18-8 71z"/><path class=sz d="M1654 862l7-66-6 17-7 64z"/><path class=sv d="M1646 921l8-59-6 15-8 57z"/><path class=st d="M1638 974l8-53-6 13-8 52z"/><path class=sq d="M1630 1022l8-48-6 12-8 46z"/><path class=so d="M1622 1064l8-42-6 10-8 41z"/><path class=sm d="M1615 1102l7-38-6 9-7 37z"/><path class=sk d="M1607 1136l8-34-6 8-8 33z"/><path class=sj d="M1599 1166l8-30-6 7-8 29z"/><path class=sh d="M1591 1193l8-27-6 6-8 26z"/><path class=sg d="M1583 1217l8-24-6 5-8 22z"/><path class=sf d="M1576 1238l7-21-6 3-8 21z"/><path class=se d="M1568 1256l8-18-7 3-7 18z"/><path class=sd d="M1552 1287l16-31-6 3-16 29z"/><path class=sc d="M1536 1311l16-24-6 1-16 23z"/><path class=sb d="M1513 1337l23-26-6 0-23 25z"/><path class=sa d="M685 1598l47-9 47-12 148-50 63-19 54-15 141-34 94-28 132-42 39-14 32-15 15-10 16-13-6-1-16 12-15 10-32 15-39 13-140 45-94 26-133 31-55 14-62 20-148 50-47 13-47 10z"/><path class=sc d="M450 1652l32-15 31-11 31-8 47-7-6-4-47 6-31 7-31 11-32 14z"/><path class=sb d="M396 1687l31-21 23-14-6-7-23 14-31 21z"/><path class=sa d="M372 1703l24-16-6-7-24 16z"/><path class=sD d="M1667 780l8-75-6 19-8 72z"/><path class=sA d="M1660 847l7-67-6 16-7 66z"/><path class=sw d="M1652 908l8-61-6 15-8 59z"/><path class=st d="M1644 962l8-54-6 13-8 53z"/><path class=sr d="M1636 1011l8-49-6 12-8 48z"/><path class=sp d="M1628 1055l8-44-6 11-8 42z"/><path class=sn d="M1621 1094l7-39-6 9-7 38z"/><path class=sl d="M1613 1129l8-35-6 8-8 34z"/><path class=sj d="M1605 1160l8-31-6 7-8 30z"/><path class=si d="M1597 1188l8-28-6 6-8 27z"/><path class=sh d="M1589 1213l8-25-6 5-8 24z"/><path class=sf d="M1574 1254l15-41-6 4-15 39z"/><path class=se d="M1566 1271l8-17-6 2-8 17z"/><path class=sd d="M1558 1286l8-15-6 2-8 14z"/><path class=sc d="M1542 1311l16-25-6 1-16 24z"/><path class=sb d="M1511 1346l16-15 15-20-6 0-15 19-16 14z"/><path class=sa d="M691 1602l39-8 47-11 47-14 109-37 55-17 54-15 141-35 86-26 141-44 39-14 31-14 16-9 15-12-6-2-15 12-16 9-31 14-180 57-86 25-180 45-62 18-156 53-47 12-47 9z"/><path class=sc d="M472 1651l23-10 32-11 31-8 31-6-6-4-31 5-31 7-32 10-23 10z"/><path class=sb d="M410 1689l31-20 31-18-6-7-31 17-31 21z"/><path class=sa d="M378 1709l32-20-6-7-32 21z"/><path class=sE d="M1674 764l7-77-6 18-8 75z"/><path class=sB d="M1666 833l8-69-7 16-7 67z"/><path class=sx d="M1658 895l8-62-6 14-8 61z"/><path class=su d="M1650 951l8-56-6 13-8 54z"/><path class=ss d="M1642 1001l8-50-6 11-8 49z"/><path class=sp d="M1634 1046l8-45-6 10-8 44z"/><path class=sn d="M1627 1086l7-40-6 9-7 39z"/><path class=sl d="M1619 1123l8-37-6 8-8 35z"/><path class=sk d="M1611 1155l8-32-6 6-8 31z"/><path class=si d="M1603 1183l8-28-6 5-8 28z"/><path class=sh d="M1595 1209l8-26-6 5-8 25z"/><path class=sg d="M1588 1231l7-22-6 4-7 22z"/><path class=sf d="M1580 1252l8-21-6 4-8 19z"/><path class=se d="M1572 1269l8-17-6 2-8 17z"/><path class=sd d="M1556 1299l16-30-6 2-16 28z"/><path class=sc d="M1541 1322l15-23-6 0-15 23z"/><path class=sb d="M1517 1347l24-25-6 0-24 24z"/><path class=sa d="M697 1606l47-10 47-11 203-65 195-52 94-28 133-42 39-14 31-14 16-10 15-13-6-1-15 12-16 9-31 14-39 14-141 44-86 26-141 35-54 15-55 17-109 37-47 14-47 11-39 8z"/><path class=sc d="M502 1647l39-14 39-9-6-5-39 8-40 14z"/><path class=sb d="M431 1686l39-24 32-15-7-6-31 14-39 24z"/><path class=sa d="M384 1714l47-28-6-7-47 30z"/><path class=sF d="M1680 747l7-78-6 18-7 77z"/><path class=sC d="M1672 818l8-71-6 17-8 69z"/><path class=sy d="M1664 882l8-64-6 15-8 62z"/><path class=sv d="M1656 939l8-57-6 13-8 56z"/><path class=ss d="M1648 991l8-52-6 12-8 50z"/><path class=sq d="M1640 1037l8-46-6 10-8 45z"/><path class=so d="M1633 1078l7-41-6 9-7 40z"/><path class=sm d="M1625 1116l8-38-6 8-8 37z"/><path class=sk d="M1617 1149l8-33-6 7-8 32z"/><path class=sj d="M1609 1178l8-29-6 6-8 28z"/><path class=sh d="M1601 1205l8-27-6 5-8 26z"/><path class=sg d="M1594 1228l7-23-6 4-7 22z"/><path class=sf d="M1586 1249l8-21-6 3-8 21z"/><path class=se d="M1570 1284l16-35-6 3-16 33z"/><path class=sd d="M1562 1298l8-14-6 1-8 14z"/><path class=sc d="M1547 1322l15-24-6 1-15 23z"/><path class=sb d="M1523 1349l24-27-6 0-24 25z"/><path class=sa d="M703 1609l55-11 54-14 180-57 227-62 187-58 39-14 31-13 24-13 23-18-6-2-15 13-16 10-31 14-39 14-133 42-94 28-195 52-203 65-47 11-47 10z"/><path class=sb d="M445 1688l31-19 24-12 23-10 24-8-6-6-24 8-23 10-24 11-31 19z"/><path class=sa d="M390 1719l24-12 31-19-6-7-55 33z"/><path class=sG d="M1686 731l7-80-6 18-7 78z"/><path class=sD d="M1678 803l8-72-6 16-8 71z"/><path class=sz d="M1670 868l8-65-6 15-8 64z"/><path class=sw d="M1662 927l8-59-6 14-8 57z"/><path class=st d="M1654 980l8-53-6 12-8 52z"/><path class=sr d="M1646 1028l8-48-6 11-8 46z"/><path class=so d="M1639 1070l7-42-6 9-7 41z"/><path class=sm d="M1631 1109l8-39-6 8-8 38z"/><path class=sl d="M1623 1143l8-34-6 7-8 33z"/><path class=sj d="M1615 1173l8-30-6 6-8 29z"/><path class=si d="M1607 1201l8-28-6 5-8 27z"/><path class=sh d="M1600 1225l7-24-6 4-7 23z"/><path class=sf d="M1584 1265l16-40-6 3-16 39z"/><path class=se d="M1576 1282l8-17-6 2-8 17z"/><path class=sd d="M1568 1297l8-15-6 2-8 14z"/><path class=sc d="M1545 1333l16-23 7-13-6 1-7 13-16 21z"/><path class=sb d="M1521 1357l24-24-6-1-24 23z"/><path class=sa d="M701 1614l63-12 54-14 196-61 179-50 86-25 141-45 39-14 31-14 16-10 15-12-6-2-15 12-16 9-31 14-39 14-149 47-78 23-179 48-204 64-54 14-55 10z"/><path class=sb d="M467 1685l47-25 23-10 23-8 55-14 86-14-6-4-94 15-47 11-23 8-23 9-47 25z"/><path class=sa d="M396 1724l24-11 47-28-6-7-47 29-24 12z"/><path class=sH d="M1692 715l7-82-6 18-7 80z"/><path class=sE d="M1684 789l8-74-6 16-8 72z"/><path class=sA d="M1676 855l8-66-6 14-8 65z"/><path class=sx d="M1668 916l8-61-6 13-8 59z"/><path class=su d="M1660 970l8-54-6 11-8 53z"/><path class=sr d="M1653 1019l7-49-6 10-8 48z"/><path class=sp d="M1645 1062l8-43-7 9-7 42z"/><path class=sn d="M1637 1102l8-40-6 8-8 39z"/><path class=sl d="M1629 1137l8-35-6 7-8 34z"/><path class=sk d="M1621 1168l8-31-6 6-8 30z"/><path class=si d="M1613 1196l8-28-6 5-8 28z"/><path class=sh d="M1606 1221l7-25-6 5-7 24z"/><path class=sg d="M1598 1244l8-23-6 4-8 21z"/><path class=sf d="M1590 1263l8-19-6 2-8 19z"/><path class=se d="M1582 1281l8-18-6 2-8 17z"/><path class=sd d="M1567 1310l15-29-6 1-15 28z"/><path class=sc d="M1551 1333l16-23-6 0-16 23z"/><path class=sb d="M1527 1358l24-25-6 0-24 24z"/><path class=sa d="M707 1618l70-14 63-17 180-56 218-62 172-53 39-14 32-13 23-13 23-18-6-1-15 12-16 10-31 14-39 14-141 45-86 25-179 50-196 61-54 14-63 12z"/><path class=sb d="M481 1687l46-24 47-18 47-12 86-15-6-4-86 14-47 11-23 8-24 9-47 24z"/><path class=sa d="M402 1727l16-6 16-7 47-27-7-7-54 33-24 11z"/><path class=sJ d="M1698 699l7-84-6 18-7 82z"/><path class=sF d="M1690 774l8-75-6 16-8 74z"/><path class=sB d="M1682 842l8-68-6 15-8 66z"/><path class=sy d="M1674 904l8-62-6 13-8 61z"/><path class=sv d="M1666 959l8-55-6 12-8 54z"/><path class=ss d="M1659 1009l7-50-6 11-7 49z"/><path class=sq d="M1651 1054l8-45-6 10-8 43z"/><path class=so d="M1643 1095l8-41-6 8-8 40z"/><path class=sm d="M1635 1131l8-36-6 7-8 35z"/><path class=sk d="M1627 1163l8-32-6 6-8 31z"/><path class=sj d="M1619 1192l8-29-6 5-8 28z"/><path class=sh d="M1612 1218l7-26-6 4-7 25z"/><path class=sg d="M1604 1241l8-23-6 3-8 23z"/><path class=sf d="M1596 1261l8-20-6 3-8 19z"/><path class=se d="M1580 1295l16-34-6 2-16 33z"/><path class=sd d="M1573 1310l7-15-6 1-7 14z"/><path class=sc d="M1557 1333l16-23-6 0-16 23z"/><path class=sb d="M1526 1367l15-15 16-19-6 0-16 18-15 14z"/><path class=sa d="M705 1623l71-14 62-16 188-58 172-48 78-24 179-58 39-17 16-10 16-11-6-2-16 11-16 9-39 17-187 60-70 21-172 48-196 61-62 15-63 12z"/><path class=sb d="M502 1684l47-22 39-14 47-12 70-13-6-4-70 12-47 11-47 17-39 19z"/><path class=sa d="M408 1730l16-4 16-7 62-35-6-6-62 36-16 7-16 6z"/><path class=sK d="M1704 683l7-85-6 17-7 84z"/><path class=sF d="M1696 760l8-77-6 16-8 75z"/><path class=sC d="M1688 829l8-69-6 14-8 68z"/><path class=sy d="M1680 892l8-63-6 13-8 62z"/><path class=sv d="M1672 949l8-57-6 12-8 55z"/><path class=st d="M1665 1000l7-51-6 10-7 50z"/><path class=sq d="M1657 1046l8-46-6 9-8 45z"/><path class=so d="M1649 1088l8-42-6 8-8 41z"/><path class=sm d="M1641 1125l8-37-6 7-8 36z"/><path class=sl d="M1633 1158l8-33-6 6-8 32z"/><path class=sj d="M1625 1188l8-30-6 5-8 29z"/><path class=si d="M1618 1214l7-26-6 4-7 26z"/><path class=sg d="M1610 1238l8-24-6 4-8 23z"/><path class=sf d="M1594 1278l16-40-6 3-16 38z"/><path class=se d="M1586 1294l8-16-6 1-8 16z"/><path class=sd d="M1571 1322l15-28-6 1-15 27z"/><path class=sc d="M1555 1344l16-22-6 0-16 21z"/><path class=sb d="M1532 1368l23-24-6-1-23 24z"/><path class=sa d="M711 1626l78-15 71-19 179-55 196-56 172-54 47-16 31-13 23-12 24-18-6-1-16 11-16 10-39 17-179 58-78 24-172 48-188 58-62 16-71 14z"/><path class=sa d="M414 1733l16-4 23-9 63-34-6-6-70 39-16 7-16 4z"/><path class=sL d="M1710 667l7-86-6 17-7 85z"/><path class=sG d="M1702 745l8-78-6 16-8 77z"/><path class=sD d="M1694 816l8-71-6 15-8 69z"/><path class=sz d="M1686 881l8-65-6 13-8 63z"/><path class=sw d="M1678 939l8-58-6 11-8 57z"/><path class=st d="M1671 991l7-52-6 10-7 51z"/><path class=sr d="M1663 1038l8-47-6 9-8 46z"/><path class=sp d="M1655 1081l8-43-6 8-8 42z"/><path class=sn d="M1647 1119l8-38-6 7-8 37z"/><path class=sl d="M1639 1153l8-34-6 6-8 33z"/><path class=sj d="M1632 1183l7-30-6 5-8 30z"/><path class=si d="M1624 1211l8-28-7 5-7 26z"/><path class=sh d="M1616 1235l8-24-6 3-8 24z"/><path class=sg d="M1608 1257l8-22-6 3-8 21z"/><path class=sf d="M1600 1276l8-19-6 2-8 19z"/><path class=se d="M1592 1293l8-17-6 2-8 16z"/><path class=sd d="M1577 1322l15-29-6 1-15 28z"/><path class=sc d="M1561 1344l16-22-6 0-16 22z"/><path class=sb d="M1538 1370l23-26-6 0-23 24z"/><path class=sa d="M710 1632l85-18 79-20 172-53 187-55 180-56 47-16 31-13 23-13 24-18-6-2-16 12-16 10-39 18-39 14-140 44-78 24-165 47-187 57-70 18-78 16z"/><path class=sa d="M420 1734l16-2 24-8 78-40-6-5-79 41-23 9-16 4z"/><path class=sM d="M1716 652l7-88-6 17-7 86z"/><path class=sH d="M1708 731l8-79-6 15-8 78z"/><path class=sE d="M1700 804l8-73-6 14-8 71z"/><path class=sA d="M1692 869l8-65-6 12-8 65z"/><path class=sx d="M1684 929l8-60-6 12-8 58z"/><path class=su d="M1677 982l7-53-6 10-7 52z"/><path class=ss d="M1669 1030l8-48-6 9-8 47z"/><path class=sp d="M1661 1074l8-44-6 8-8 43z"/><path class=sn d="M1653 1113l8-39-6 7-8 38z"/><path class=sl d="M1645 1148l8-35-6 6-8 34z"/><path class=sk d="M1638 1179l7-31-6 5-7 30z"/><path class=si d="M1630 1207l8-28-6 4-8 28z"/><path class=sh d="M1622 1232l8-25-6 4-8 24z"/><path class=sg d="M1614 1254l8-22-6 3-8 22z"/><path class=sf d="M1606 1274l8-20-6 3-8 19z"/><path class=se d="M1591 1308l15-34-6 2-15 32z"/><path class=sd d="M1583 1322l8-14-6 0-8 14z"/><path class=sc d="M1567 1345l16-23-6 0-16 22z"/><path class=sb d="M1536 1378l16-14 15-19-6-1-15 18-16 15z"/><path class=sa d="M716 1635l86-18 70-18 414-124 141-44 39-14 39-17 15-10 16-12-6-1-16 11-15 9-39 17-39 14-149 46-226 67-188 57-70 18-78 16z"/><path class=sa d="M426 1735l8 0 16-2 23-8 86-42-6-6-93 47-24 8-16 2z"/><path class=sN d="M1722 636l8-89-7 17-7 88z"/><path class=sI d="M1714 718l8-82-6 16-8 79z"/><path class=sE d="M1706 791l8-73-6 13-8 73z"/><path class=sB d="M1698 858l8-67-6 13-8 65z"/><path class=sy d="M1690 919l8-61-6 11-8 60z"/><path class=sv d="M1683 973l7-54-6 10-7 53z"/><path class=ss d="M1675 1022l8-49-6 9-8 48z"/><path class=sq d="M1667 1067l8-45-6 8-8 44z"/><path class=so d="M1659 1107l8-40-6 7-8 39z"/><path class=sm d="M1651 1142l8-35-6 6-8 35z"/><path class=sk d="M1644 1174l7-32-6 6-7 31z"/><path class=sj d="M1636 1203l8-29-6 5-8 28z"/><path class=si d="M1628 1229l8-26-6 4-8 25z"/><path class=sg d="M1620 1252l8-23-6 3-8 22z"/><path class=sf d="M1604 1291l16-39-6 2-16 38z"/><path class=se d="M1597 1307l7-16-6 1-7 16z"/><path class=sd d="M1581 1334l16-27-6 1-16 26z"/><path class=sc d="M1565 1356l16-22-6 0-16 21z"/><path class=sb d="M1542 1380l23-24-6-1-23 23z"/><path class=sa d="M714 1641l101-22 78-20 344-104 172-53 55-19 31-13 24-13 23-17-6-2-16 12-15 10-39 17-39 14-149 47-406 121-70 18-94 20z"/><path class=sa d="M433 1735l7 1 16 0 23-7 24-10 78-38-6-5-102 49-23 8-16 2-8 0z"/><path class=sO d="M1728 621l8-91-6 17-8 89z"/><path class=sJ d="M1720 704l8-83-6 15-8 82z"/><path class=sF d="M1712 779l8-75-6 14-8 73z"/><path class=sC d="M1704 847l8-68-6 12-8 67z"/><path class=sy d="M1696 909l8-62-6 11-8 61z"/><path class=sv d="M1689 964l7-55-6 10-7 54z"/><path class=st d="M1681 1015l8-51-6 9-8 49z"/><path class=sq d="M1673 1060l8-45-6 7-8 45z"/><path class=so d="M1665 1101l8-41-6 7-8 40z"/><path class=sm d="M1657 1137l8-36-6 6-8 35z"/><path class=sl d="M1650 1170l7-33-6 5-7 32z"/><path class=sj d="M1642 1200l8-30-6 4-8 29z"/><path class=si d="M1634 1226l8-26-6 3-8 26z"/><path class=sh d="M1626 1250l8-24-6 3-8 23z"/><path class=sg d="M1618 1271l8-21-6 2-8 20z"/><path class=sf d="M1611 1289l7-18-6 1-8 19z"/><path class=se d="M1603 1306l8-17-7 2-7 16z"/><path class=sd d="M1587 1334l16-28-6 1-16 27z"/><path class=sc d="M1571 1356l16-22-6 0-16 22z"/><path class=sb d="M1548 1382l23-26-6 0-23 24z"/><path class=sa d="M712 1647l109-24 86-23 328-99 188-59 47-16 31-13 24-13 23-18-6-2-23 17-24 13-31 13-55 19-172 53-344 104-78 20-109 24z"/><path class=sa d="M439 1734l7 2 16 1 23-4 32-12 86-41-6-5-32 13-62 31-24 10-23 7-16 0-7-1z"/><path class=sP d="M1734 607l8-93-6 16-8 91z"/><path class=sK d="M1726 691l8-84-6 14-8 83z"/><path class=sG d="M1718 767l8-76-6 13-8 75z"/><path class=sC d="M1710 836l8-69-6 12-8 68z"/><path class=sz d="M1702 899l8-63-6 11-8 62z"/><path class=sw d="M1695 956l7-57-6 10-7 55z"/><path class=st d="M1687 1007l8-51-6 8-8 51z"/><path class=sr d="M1679 1053l8-46-6 8-8 45z"/><path class=sp d="M1671 1095l8-42-6 7-8 41z"/><path class=sn d="M1663 1132l8-37-6 6-8 36z"/><path class=sl d="M1656 1166l7-34-6 5-7 33z"/><path class=sk d="M1648 1196l8-30-6 4-8 30z"/><path class=si d="M1640 1223l8-27-6 4-8 26z"/><path class=sh d="M1632 1247l8-24-6 3-8 24z"/><path class=sg d="M1624 1269l8-22-6 3-8 21z"/><path class=sf d="M1617 1288l7-19-6 2-7 18z"/><path class=se d="M1609 1305l8-17-6 1-8 17z"/><path class=sd d="M1593 1334l16-29-6 1-16 28z"/><path class=sc d="M1577 1357l16-23-6 0-16 22z"/><path class=sb d="M1546 1390l16-14 15-19-6-1-15 18-16 14z"/><path class=sa d="M702 1655l133-31 78-21 321-96 172-54 54-18 32-12 31-16 23-17-6-2-15 12-16 9-39 17-47 16-156 49-383 115-70 18-118 26z"/><path class=sb d="M445 1732l7 4-6 0-7-2z"/><path class=sQ d="M1740 592l8-93-6 15-8 93z"/><path class=sL d="M1732 678l8-86-6 15-8 84z"/><path class=sH d="M1724 755l8-77-6 13-8 76z"/><path class=sD d="M1716 826l8-71-6 12-8 69z"/><path class=sA d="M1709 889l7-63-6 10-8 63z"/><path class=sx d="M1701 947l8-58-7 10-7 57z"/><path class=su d="M1693 999l8-52-6 9-8 51z"/><path class=sr d="M1685 1046l8-47-6 8-8 46z"/><path class=sp d="M1677 1089l8-43-6 7-8 42z"/><path class=sn d="M1669 1127l8-38-6 6-8 37z"/><path class=sm d="M1662 1162l7-35-6 5-7 34z"/><path class=sk d="M1654 1192l8-30-6 4-8 30z"/><path class=sj d="M1646 1220l8-28-6 4-8 27z"/><path class=sh d="M1638 1245l8-25-6 3-8 24z"/><path class=sg d="M1630 1267l8-22-6 2-8 22z"/><path class=sf d="M1623 1287l7-20-6 2-7 19z"/><path class=se d="M1607 1320l16-33-6 1-16 33z"/><path class=sd d="M1599 1334l8-14-6 1-8 13z"/><path class=sc d="M1576 1368l23-34-6 0-23 33z"/><path class=sb d="M1552 1392l24-24-6-1-24 23z"/><path class=sa d="M466 1737l8 2 16 1 23-5 31-12 78-36 55-19 47-13 133-31 70-19 313-95 187-59 47-16 31-13 24-13 23-17-6-2-23 17-24 12-31 13-39 14-187 58-329 99-70 19-125 29-47 12-31 10-31 12-79 37-23 9-23 7-16 1-8-1z"/><path class=sb d="M451 1730l15 7-6 1-15-6z"/><path class=sR d="M1746 579l8-95-6 15-8 93z"/><path class=sM d="M1738 665l8-86-6 13-8 86z"/><path class=sI d="M1730 744l8-79-6 13-8 77z"/><path class=sE d="M1722 815l8-71-6 11-8 71z"/><path class=sA d="M1715 880l7-65-6 11-7 63z"/><path class=sx d="M1707 939l8-59-6 9-8 58z"/><path class=sv d="M1699 992l8-53-6 8-8 52z"/><path class=ss d="M1691 1040l8-48-6 7-8 47z"/><path class=sq d="M1683 1083l8-43-6 6-8 43z"/><path class=so d="M1675 1122l8-39-6 6-8 38z"/><path class=sm d="M1668 1157l7-35-6 5-7 35z"/><path class=sk d="M1660 1189l8-32-6 5-8 30z"/><path class=sj d="M1652 1217l8-28-6 3-8 28z"/><path class=si d="M1644 1243l8-26-6 3-8 25z"/><path class=sh d="M1636 1265l8-22-6 2-8 22z"/><path class=sg d="M1629 1286l7-21-6 2-7 20z"/><path class=sf d="M1621 1304l8-18-6 1-8 17z"/><path class=se d="M1613 1320l8-16-6 0-8 16z"/><path class=sd d="M1597 1347l16-27-6 0-16 27z"/><path class=sc d="M1582 1369l15-22-6 0-15 21z"/><path class=sb d="M1550 1400l16-14 16-17-6-1-16 17-16 13z"/><path class=sa d="M472 1736l8 3 16 2 15-1 16-4 23-9 86-38 55-19 47-13 117-28 70-19 352-106 156-49 47-17 39-17 16-10 15-11-6-2-23 16-23 12-32 12-54 18-172 54-313 95-70 19-133 31-47 13-55 19-78 36-31 12-23 5-16-1-8-2z"/><path class=sb d="M457 1727l15 9-6 1-15-7z"/><path class=sS d="M1752 565l8-96-6 15-8 95z"/><path class=sN d="M1744 653l8-88-6 14-8 86z"/><path class=sJ d="M1736 733l8-80-6 12-8 79z"/><path class=sF d="M1728 805l8-72-6 11-8 71z"/><path class=sB d="M1721 871l7-66-6 10-7 65z"/><path class=sy d="M1713 931l8-60-6 9-8 59z"/><path class=sv d="M1705 985l8-54-6 8-8 53z"/><path class=st d="M1697 1034l8-49-6 7-8 48z"/><path class=sq d="M1689 1078l8-44-6 6-8 43z"/><path class=so d="M1681 1117l8-39-6 5-8 39z"/><path class=sm d="M1674 1153l7-36-6 5-7 35z"/><path class=sl d="M1666 1185l8-32-6 4-8 32z"/><path class=sj d="M1658 1214l8-29-6 4-8 28z"/><path class=si d="M1650 1240l8-26-6 3-8 26z"/><path class=sh d="M1642 1263l8-23-6 3-8 22z"/><path class=sg d="M1635 1284l7-21-6 2-7 21z"/><path class=sf d="M1627 1303l8-19-6 2-8 18z"/><path class=se d="M1619 1319l8-16-6 1-8 16z"/><path class=sd d="M1603 1348l16-29-6 1-16 27z"/><path class=sc d="M1588 1370l15-22-6-1-15 22z"/><path class=sb d="M1556 1402l16-14 16-18-6-1-16 17-16 14z"/><path class=sa d="M486 1738l8 3 16 1 15-1 16-4 23-9 86-37 55-19 47-13 125-31 70-19 289-88 180-56 55-18 31-12 31-16 23-17-6-2-23 16-23 13-32 12-47 16-187 59-297 90-70 19-133 32-47 13-55 19-86 38-23 9-24 5-15-1-8-1z"/><path class=sb d="M470 1730l16 8-6 1-16-7z"/><path class=sc d="M463 1723l7 7-6 2-7-5z"/><path class=sS d="M1758 552l8-97-6 14-8 96z"/><path class=sO d="M1750 641l8-89-6 13-8 88z"/><path class=sJ d="M1742 722l8-81-6 12-8 80z"/><path class=sF d="M1734 795l8-73-6 11-8 72z"/><path class=sC d="M1727 862l7-67-6 10-7 66z"/><path class=sz d="M1719 923l8-61-6 9-8 60z"/><path class=sw d="M1711 978l8-55-6 8-8 54z"/><path class=st d="M1703 1027l8-49-6 7-8 49z"/><path class=sr d="M1695 1072l8-45-6 7-8 44z"/><path class=sp d="M1688 1113l7-41-6 6-8 39z"/><path class=sn d="M1680 1149l8-36-7 4-7 36z"/><path class=sl d="M1672 1182l8-33-6 4-8 32z"/><path class=sk d="M1664 1212l8-30-6 3-8 29z"/><path class=si d="M1656 1238l8-26-6 2-8 26z"/><path class=sh d="M1648 1262l8-24-6 2-8 23z"/><path class=sg d="M1641 1283l7-21-6 1-7 21z"/><path class=sf d="M1633 1302l8-19-6 1-8 19z"/><path class=se d="M1617 1334l16-32-6 1-16 31z"/><path class=sd d="M1609 1348l8-14-6 0-8 14z"/><path class=sc d="M1586 1381l23-33-6 0-23 31z"/><path class=sb d="M1563 1404l23-23-6-2-24 23z"/><path class=sa d="M500 1740l8 2 15 1 16-2 16-3 23-9 86-36 47-17 47-13 125-31 78-22 273-83 196-61 47-16 31-12 31-17 24-17-7-2-23 17-23 12-32 13-47 16-195 61-289 88-70 19-125 31-47 13-55 19-86 37-23 9-24 5-15 0-8-1z"/><path class=sb d="M484 1732l16 8-6 1-16-6z"/><path class=sc d="M469 1718l15 14-6 3-15-12z"/><path class=sT d="M1764 540l8-99-6 14-8 97z"/><path class=sO d="M1756 630l8-90-6 12-8 89z"/><path class=sK d="M1748 712l8-82-6 11-8 81z"/><path class=sG d="M1740 786l8-74-6 10-8 73z"/><path class=sC d="M1733 854l7-68-6 9-7 67z"/><path class=sz d="M1725 915l8-61-6 8-8 61z"/><path class=sw d="M1717 971l8-56-6 8-8 55z"/><path class=su d="M1709 1021l8-50-6 7-8 49z"/><path class=sr d="M1701 1067l8-46-6 6-8 45z"/><path class=sp d="M1694 1108l7-41-6 5-7 41z"/><path class=sn d="M1686 1145l8-37-6 5-8 36z"/><path class=sl d="M1678 1179l8-34-6 4-8 33z"/><path class=sk d="M1670 1209l8-30-6 3-8 30z"/><path class=sj d="M1662 1236l8-27-6 3-8 26z"/><path class=sh d="M1654 1260l8-24-6 2-8 24z"/><path class=sg d="M1647 1282l7-22-6 2-7 21z"/><path class=sf d="M1639 1301l8-19-6 1-8 19z"/><path class=se d="M1623 1334l16-33-6 1-16 32z"/><path class=sd d="M1608 1361l15-27-6 0-15 26z"/><path class=sc d="M1592 1382l16-21-6-1-16 21z"/><path class=sb d="M1561 1412l15-13 16-17-6-1-16 16-15 13z"/><path class=sa d="M514 1742l8 2 15 0 16-2 15-4 24-8 86-36 47-16 54-15 125-32 71-20 445-137 55-18 31-12 31-16 24-16-6-2-24 16-23 12-31 12-47 16-196 61-273 83-78 22-125 31-47 13-47 17-86 36-23 9-24 5-15 0-8-1z"/><path class=sb d="M490 1729l8 6 16 7-6 0-16-5-8-5z"/><path class=sc d="M482 1722l8 7-6 3-8-6z"/><path class=sd d="M475 1713l7 9-6 4-7-8z"/><path class=sU d="M1770 528l8-100-6 13-8 99z"/><path class=sP d="M1762 619l8-91-6 12-8 90z"/><path class=sL d="M1754 702l8-83-6 11-8 82z"/><path class=sH d="M1746 777l8-75-6 10-8 74z"/><path class=sD d="M1739 846l7-69-6 9-7 68z"/><path class=sA d="M1731 908l8-62-6 8-8 61z"/><path class=sx d="M1723 965l8-57-6 7-8 56z"/><path class=su d="M1715 1016l8-51-6 6-8 50z"/><path class=ss d="M1707 1062l8-46-6 5-8 46z"/><path class=sp d="M1700 1104l7-42-6 5-7 41z"/><path class=so d="M1692 1142l8-38-6 4-8 37z"/><path class=sm d="M1684 1176l8-34-6 3-8 34z"/><path class=sk d="M1676 1206l8-30-6 3-8 30z"/><path class=sj d="M1668 1234l8-28-6 3-8 27z"/><path class=si d="M1660 1259l8-25-6 2-8 24z"/><path class=sg d="M1645 1301l15-42-6 1-15 41z"/><path class=sf d="M1637 1319l8-18-6 0-8 18z"/><path class=se d="M1629 1334l8-15-6 0-8 15z"/><path class=sd d="M1614 1361l15-27-6 0-15 27z"/><path class=sc d="M1598 1383l16-22-6 0-16 21z"/><path class=sb d="M1567 1414l15-14 16-17-6-1-16 17-15 13z"/><path class=sa d="M528 1744l7 1 16 1 16-3 15-4 24-8 78-32 55-19 46-13 133-35 71-20 445-137 47-16 31-12 31-16 24-17-6-2-24 16-23 13-31 12-47 16-196 61-265 81-71 20-125 32-54 15-47 16-86 36-24 8-23 6-23 0z"/><path class=sb d="M504 1732l8 5 16 7-6 0-16-5-8-4z"/><path class=sc d="M489 1717l15 15-6 3-16-13z"/><path class=sd d="M481 1706l8 11-7 5-7-9z"/><path class=sV d="M1776 516l8-101-6 13-8 100z"/><path class=sQ d="M1768 608l8-92-6 12-8 91z"/><path class=sM d="M1760 692l8-84-6 11-8 83z"/><path class=sH d="M1752 768l8-76-6 10-8 75z"/><path class=sE d="M1745 838l7-70-6 9-7 69z"/><path class=sA d="M1737 901l8-63-6 8-8 62z"/><path class=sx d="M1729 958l8-57-6 7-8 57z"/><path class=sv d="M1721 1010l8-52-6 7-8 51z"/><path class=ss d="M1713 1057l8-47-6 6-8 46z"/><path class=sq d="M1706 1100l7-43-6 5-7 42z"/><path class=so d="M1698 1138l8-38-6 4-8 38z"/><path class=sm d="M1690 1173l8-35-6 4-8 34z"/><path class=sl d="M1682 1204l8-31-6 3-8 30z"/><path class=sj d="M1674 1232l8-28-6 2-8 28z"/><path class=si d="M1667 1257l7-25-6 2-8 25z"/><path class=sh d="M1659 1280l8-23-7 2-7 22z"/><path class=sg d="M1651 1300l8-20-6 1-8 20z"/><path class=sf d="M1643 1318l8-18-6 1-8 18z"/><path class=se d="M1635 1335l8-17-6 1-8 15z"/><path class=sd d="M1620 1362l15-27-6-1-15 27z"/><path class=sc d="M1604 1384l16-22-6-1-16 22z"/><path class=sb d="M1573 1417l15-15 16-18-6-1-16 17-15 14z"/><path class=sa d="M534 1743l15 4 16 0 15-3 16-4 24-8 78-31 54-19 243-66 429-133 55-18 39-15 31-17 24-16-6-3-24 17-31 16-31 12-47 16-445 137-71 20-133 35-46 13-55 19-78 32-24 8-15 4-16 3-16-1-7-1z"/><path class=sb d="M518 1735l16 8-6 1-16-7z"/><path class=sc d="M502 1721l16 14-6 2-16-12z"/><path class=sd d="M495 1711l7 10-6 4-7-8z"/><path class=se d="M487 1699l8 12-6 6-8-11z"/><path class=sW d="M1782 505l8-102-6 12-8 101z"/><path class=sR d="M1774 598l8-93-6 11-8 92z"/><path class=sM d="M1766 683l8-85-6 10-8 84z"/><path class=sI d="M1758 760l8-77-6 9-8 76z"/><path class=sE d="M1751 830l7-70-6 8-7 70z"/><path class=sB d="M1743 894l8-64-6 8-8 63z"/><path class=sy d="M1735 952l8-58-6 7-8 57z"/><path class=sv d="M1727 1005l8-53-6 6-8 52z"/><path class=st d="M1719 1053l8-48-6 5-8 47z"/><path class=sq d="M1712 1096l7-43-6 4-7 43z"/><path class=so d="M1704 1135l8-39-6 4-8 38z"/><path class=sm d="M1696 1170l8-35-6 3-8 35z"/><path class=sl d="M1688 1202l8-32-6 3-8 31z"/><path class=sj d="M1680 1230l8-28-6 2-8 28z"/><path class=si d="M1673 1256l7-26-6 2-7 25z"/><path class=sh d="M1665 1279l8-23-6 1-8 23z"/><path class=sg d="M1657 1299l8-20-6 1-8 20z"/><path class=sf d="M1649 1318l8-19-6 1-8 18z"/><path class=se d="M1633 1350l16-32-6 0-16 31z"/><path class=sd d="M1626 1363l7-13-6-1-7 13z"/><path class=sc d="M1602 1395l24-32-6-1-24 32z"/><path class=sb d="M1579 1419l23-24-6-1-23 23z"/><path class=sa d="M547 1745l16 3 16 0 15-3 16-4 102-39 54-18 242-67 430-133 47-16 39-15 31-17 24-17-6-2-24 16-31 17-31 12-47 16-438 135-70 21-133 34-47 14-54 19-78 31-24 8-16 4-15 3-16 0-8-2z"/><path class=sb d="M532 1737l15 8-6 0-15-5z"/><path class=sc d="M516 1725l16 12-6 3-16-11z"/><path class=sd d="M501 1705l15 20-6 4-15-18z"/><path class=se d="M493 1691l8 14-6 6-8-12z"/><path class=sX d="M1788 495l8-103-6 11-8 102z"/><path class=sR d="M1780 589l8-94-6 10-8 93z"/><path class=sN d="M1772 674l8-85-6 9-8 85z"/><path class=sJ d="M1765 752l7-78-6 9-8 77z"/><path class=sF d="M1757 823l8-71-7 8-7 70z"/><path class=sB d="M1749 888l8-65-6 7-8 64z"/><path class=sy d="M1741 947l8-59-6 6-8 58z"/><path class=sv d="M1733 1000l8-53-6 5-8 53z"/><path class=st d="M1725 1048l8-48-6 5-8 48z"/><path class=sr d="M1718 1092l7-44-6 5-7 43z"/><path class=sp d="M1710 1132l8-40-6 4-8 39z"/><path class=sn d="M1702 1167l8-35-6 3-8 35z"/><path class=sl d="M1694 1199l8-32-6 3-8 32z"/><path class=sk d="M1686 1228l8-29-6 3-8 28z"/><path class=si d="M1679 1255l7-27-6 2-7 26z"/><path class=sh d="M1671 1278l8-23-6 1-8 23z"/><path class=sg d="M1663 1299l8-21-6 1-8 20z"/><path class=sf d="M1655 1318l8-19-6 0-8 19z"/><path class=se d="M1640 1350l15-32-6 0-16 32z"/><path class=sd d="M1624 1376l16-26-7 0-15 25z"/><path class=sc d="M1608 1397l16-21-6-1-16 20z"/><path class=sb d="M1577 1427l16-14 15-16-6-2-15 17-16 13z"/><path class=sa d="M561 1747l16 2 16 0 31-7 101-38 47-16 250-70 407-126 54-18 39-15 32-16 23-16-6-2-23 16-32 15-31 12-47 16-430 133-242 67-54 18-102 39-16 4-15 3-24-1z"/><path class=sb d="M538 1735l8 5 15 7-6 0-15-5-8-5z"/><path class=sc d="M530 1728l8 7-6 2-8-5z"/><path class=sd d="M514 1710l16 18-6 4-16-16z"/><path class=se d="M507 1697l7 13-6 6-7-11z"/><path class=sf d="M499 1683l8 14-6 8-8-14z"/><path class=sX d="M1794 485l8-103-6 10-8 103z"/><path class=sS d="M1786 580l8-95-6 10-8 94z"/><path class=sN d="M1778 666l8-86-6 9-8 85z"/><path class=sJ d="M1771 745l7-79-6 8-7 78z"/><path class=sF d="M1763 817l8-72-6 7-8 71z"/><path class=sC d="M1755 882l8-65-6 6-8 65z"/><path class=sz d="M1747 942l8-60-6 6-8 59z"/><path class=sw d="M1739 996l8-54-6 5-8 53z"/><path class=st d="M1731 1044l8-48-6 4-8 48z"/><path class=sr d="M1724 1089l7-45-6 4-7 44z"/><path class=sp d="M1716 1129l8-40-6 3-8 40z"/><path class=sn d="M1708 1165l8-36-6 3-8 35z"/><path class=sl d="M1700 1197l8-32-6 2-8 32z"/><path class=sk d="M1692 1227l8-30-6 2-8 29z"/><path class=sj d="M1685 1253l7-26-6 1-7 27z"/><path class=sh d="M1677 1277l8-24-6 2-8 23z"/><path class=sg d="M1669 1299l8-22-6 1-8 21z"/><path class=sf d="M1653 1335l16-36-6 0-16 36z"/><path class=se d="M1646 1351l7-16-6 0-7 15z"/><path class=sd d="M1630 1377l16-26-6-1-16 26z"/><path class=sc d="M1614 1398l16-21-6-1-16 21z"/><path class=sb d="M1583 1429l16-14 15-17-6-1-15 16-16 14z"/><path class=sa d="M575 1749l16 2 15-1 32-7 101-38 47-16 250-70 406-126 47-16 39-15 32-16 23-17-6-2-23 16-32 16-31 12-47 16-422 131-250 70-47 16-101 38-31 7-24-1z"/><path class=sb d="M552 1738l7 5 16 6-6-1-16-4-7-4z"/><path class=sc d="M536 1724l16 14-6 2-16-12z"/><path class=sd d="M528 1715l8 9-6 4-8-8z"/><path class=se d="M520 1703l8 12-6 5-8-10z"/><path class=sf d="M513 1689l7 14-6 7-7-13z"/><path class=sg d="M505 1673l8 16-6 8-8-14z"/><path class=sY d="M1800 476l8-104-6 10-8 103z"/><path class=sT d="M1792 571l8-95-6 9-8 95z"/><path class=sO d="M1784 659l8-88-6 9-8 86z"/><path class=sK d="M1777 738l7-79-6 7-7 79z"/><path class=sG d="M1769 811l8-73-6 7-8 72z"/><path class=sC d="M1761 877l8-66-6 6-8 65z"/><path class=sz d="M1753 937l8-60-6 5-8 60z"/><path class=sw d="M1745 991l8-54-6 5-8 54z"/><path class=su d="M1737 1041l8-50-6 5-8 48z"/><path class=sr d="M1730 1085l7-44-6 3-7 45z"/><path class=sp d="M1722 1126l8-41-6 4-8 40z"/><path class=sn d="M1714 1163l8-37-6 3-8 36z"/><path class=sm d="M1706 1196l8-33-6 2-8 32z"/><path class=sk d="M1698 1225l8-29-6 1-8 30z"/><path class=sj d="M1691 1252l7-27-6 2-7 26z"/><path class=si d="M1683 1277l8-25-6 1-8 24z"/><path class=sh d="M1675 1298l8-21-6 0-8 22z"/><path class=sg d="M1667 1318l8-20-6 1-8 19z"/><path class=sf d="M1659 1335l8-17-6 0-8 17z"/><path class=se d="M1652 1351l7-16-6 0-7 16z"/><path class=sd d="M1636 1378l16-27-6 0-16 26z"/><path class=sc d="M1612 1409l24-31-6-1-24 30z"/><path class=sb d="M1589 1431l23-22-6-2-23 22z"/><path class=sa d="M589 1750l16 2 15-1 31-7 102-38 47-15 242-69 406-126 47-15 39-16 32-17 23-17-6-2-23 17-32 16-31 13-47 15-414 129-250 70-47 16-101 38-32 7-23 0z"/><path class=sb d="M566 1741l7 4 16 5-6 0-16-4-8-3z"/><path class=sc d="M550 1728l16 13-7 2-15-11z"/><path class=sd d="M542 1719l8 9-6 4-8-8z"/><path class=se d="M526 1696l16 23-6 5-16-21z"/><path class=sf d="M519 1681l7 15-6 7-7-14z"/><path class=sg d="M511 1663l8 18-6 8-8-16z"/><path class=sZ d="M1806 468l8-106-6 10-8 104z"/><path class=sT d="M1798 564l8-96-6 8-8 95z"/><path class=sP d="M1790 652l8-88-6 7-8 88z"/><path class=sK d="M1783 732l7-80-6 7-7 79z"/><path class=sG d="M1775 805l8-73-6 6-8 73z"/><path class=sD d="M1767 872l8-67-6 6-8 66z"/><path class=sA d="M1759 932l8-60-6 5-8 60z"/><path class=sx d="M1751 987l8-55-6 5-8 54z"/><path class=su d="M1744 1037l7-50-6 4-8 50z"/><path class=ss d="M1736 1082l8-45-7 4-7 44z"/><path class=sq d="M1728 1123l8-41-6 3-8 41z"/><path class=so d="M1720 1161l8-38-6 3-8 37z"/><path class=sm d="M1712 1194l8-33-6 2-8 33z"/><path class=sk d="M1704 1224l8-30-6 2-8 29z"/><path class=sj d="M1697 1251l7-27-6 1-7 27z"/><path class=si d="M1689 1276l8-25-6 1-8 25z"/><path class=sh d="M1681 1298l8-22-6 1-8 21z"/><path class=sg d="M1673 1318l8-20-6 0-8 20z"/><path class=sf d="M1665 1336l8-18-6 0-8 17z"/><path class=se d="M1650 1366l15-30-6-1-15 30z"/><path class=sd d="M1642 1379l8-13-6-1-8 13z"/><path class=sc d="M1619 1411l23-32-6-1-24 31z"/><path class=sb d="M1587 1440l16-13 16-16-7-2-15 16-16 13z"/><path class=sa d="M595 1750l16 3 15 0 31-6 32-10 78-29 47-16 234-67 375-116 63-20 39-14 31-15 31-20-6-2-23 15-31 15-40 15-46 16-399 123-242 69-47 15-102 38-31 7-15 1-16-2z"/><path class=sb d="M579 1744l16 6-6 0-16-5z"/><path class=sc d="M564 1732l15 12-6 1-15-10z"/><path class=sd d="M548 1714l16 18-6 3-16-16z"/><path class=se d="M540 1702l8 12-6 5-8-10z"/><path class=sf d="M532 1688l8 14-6 7-8-13z"/><path class=sg d="M525 1671l7 17-6 8-7-15z"/><path class=sh d="M517 1652l8 19-6 10-8-18z"/><path class=sZ d="M1812 460l8-106-6 8-8 106z"/><path class=sU d="M1804 557l8-97-6 8-8 96z"/><path class=sP d="M1796 645l8-88-6 7-8 88z"/><path class=sL d="M1789 726l7-81-6 7-7 80z"/><path class=sH d="M1781 800l8-74-6 6-8 73z"/><path class=sD d="M1773 867l8-67-6 5-8 67z"/><path class=sA d="M1765 928l8-61-6 5-8 60z"/><path class=sx d="M1757 984l8-56-6 4-8 55z"/><path class=su d="M1750 1034l7-50-6 3-7 50z"/><path class=ss d="M1742 1080l8-46-6 3-8 45z"/><path class=sq d="M1734 1121l8-41-6 2-8 41z"/><path class=so d="M1726 1159l8-38-6 2-8 38z"/><path class=sm d="M1718 1193l8-34-6 2-8 33z"/><path class=sl d="M1710 1223l8-30-6 1-8 30z"/><path class=sj d="M1703 1251l7-28-6 1-7 27z"/><path class=si d="M1695 1276l8-25-6 0-8 25z"/><path class=sh d="M1687 1298l8-22-6 0-8 22z"/><path class=sg d="M1679 1318l8-20-6 0-8 20z"/><path class=sf d="M1671 1336l8-18-6 0-8 18z"/><path class=se d="M1656 1367l15-31-6 0-15 30z"/><path class=sd d="M1640 1392l16-25-6-1-16 25z"/><path class=sc d="M1625 1412l15-20-6-1-15 20z"/><path class=sb d="M1593 1442l16-13 16-17-6-1-16 16-16 13z"/><path class=sa d="M609 1752l15 2 16 0 31-6 32-10 78-29 47-15 234-68 375-116 63-20 39-16 31-16 23-16-6-2-23 16-31 15-39 15-47 16-391 121-242 69-47 16-102 37-31 7-16 1-15-1z"/><path class=sb d="M585 1742l8 4 16 6-6 0-16-5-8-3z"/><path class=sc d="M570 1728l15 14-6 2-15-12z"/><path class=sd d="M562 1719l8 9-6 4-8-8z"/><path class=se d="M554 1708l8 11-6 5-8-10z"/><path class=sf d="M546 1695l8 13-6 6-8-12z"/><path class=sg d="M538 1679l8 16-6 7-8-14z"/><path class=sh d="M531 1661l7 18-6 9-7-17z"/><path class=si d="M523 1640l8 21-6 10-8-19z"/><path class=sba d="M1818 453l8-107-6 8-8 106z"/><path class=sU d="M1810 550l8-97-6 7-8 97z"/><path class=sQ d="M1802 639l8-89-6 7-8 88z"/><path class=sL d="M1795 721l7-82-6 6-7 81z"/><path class=sH d="M1787 795l8-74-6 5-8 74z"/><path class=sE d="M1779 863l8-68-6 5-8 67z"/><path class=sA d="M1771 924l8-61-6 4-8 61z"/><path class=sx d="M1763 980l8-56-6 4-8 56z"/><path class=sv d="M1756 1031l7-51-6 4-7 50z"/><path class=ss d="M1748 1077l8-46-6 3-8 46z"/><path class=sq d="M1740 1119l8-42-6 3-8 41z"/><path class=so d="M1732 1157l8-38-6 2-8 38z"/><path class=sm d="M1724 1191l8-34-6 2-8 34z"/><path class=sl d="M1717 1222l7-31-6 2-8 30z"/><path class=sj d="M1709 1250l8-28-7 1-7 28z"/><path class=si d="M1701 1275l8-25-6 1-8 25z"/><path class=sh d="M1693 1298l8-23-6 1-8 22z"/><path class=sg d="M1685 1319l8-21-6 0-8 20z"/><path class=sf d="M1677 1337l8-18-6-1-8 18z"/><path class=se d="M1662 1368l15-31-6-1-15 31z"/><path class=sd d="M1646 1394l16-26-6-1-16 25z"/><path class=sc d="M1631 1414l15-20-6-2-15 20z"/><path class=sb d="M1599 1445l16-14 16-17-6-2-16 17-16 13z"/><path class=sa d="M623 1754l15 2 16-1 31-6 149-51 242-71 375-116 55-18 39-16 31-16 23-16-6-3-23 16-31 16-39 16-47 15-391 121-234 68-47 15-102 36-31 8-16 2-15-1z"/><path class=sb d="M599 1745l8 4 16 5-6 0-16-4-8-4z"/><path class=sc d="M584 1732l15 13-6 1-15-10z"/><path class=sd d="M576 1724l8 8-6 4-8-8z"/><path class=se d="M560 1701l16 23-6 4-16-20z"/><path class=sf d="M552 1687l8 14-6 7-8-13z"/><path class=sg d="M545 1670l7 17-6 8-8-16z"/><path class=si d="M537 1650l8 20-7 9-7-18z"/><path class=sj d="M529 1628l8 22-6 11-8-21z"/><path class=sba d="M1824 446l8-107-6 7-8 107z"/><path class=sV d="M1816 544l8-98-6 7-8 97z"/><path class=sQ d="M1808 634l8-90-6 6-8 89z"/><path class=sM d="M1801 716l7-82-6 5-7 82z"/><path class=sI d="M1793 791l8-75-6 5-8 74z"/><path class=sE d="M1785 859l8-68-6 4-8 68z"/><path class=sB d="M1777 921l8-62-6 4-8 61z"/><path class=sy d="M1769 977l8-56-6 3-8 56z"/><path class=sv d="M1762 1029l7-52-6 3-7 51z"/><path class=st d="M1754 1075l8-46-6 2-8 46z"/><path class=sq d="M1746 1117l8-42-6 2-8 42z"/><path class=so d="M1738 1156l8-39-6 2-8 38z"/><path class=sn d="M1730 1190l8-34-6 1-8 34z"/><path class=sl d="M1723 1222l7-32-6 1-7 31z"/><path class=sk d="M1715 1250l8-28-6 0-8 28z"/><path class=si d="M1707 1275l8-25-6 0-8 25z"/><path class=sh d="M1699 1298l8-23-6 0-8 23z"/><path class=sg d="M1691 1319l8-21-6 0-8 21z"/><path class=sf d="M1676 1354l15-35-6 0-15 34z"/><path class=se d="M1668 1369l8-15-6-1-8 15z"/><path class=sd d="M1652 1395l16-26-6-1-16 26z"/><path class=sc d="M1637 1416l15-21-6-1-15 20z"/><path class=sb d="M1605 1447l16-14 16-17-6-2-16 17-16 14z"/><path class=sa d="M636 1756l16 1 16-1 31-6 148-51 235-68 375-117 55-18 39-16 31-17 23-16-6-2-23 16-31 16-32 13-47 16-390 121-242 71-141 48-31 8-16 2-16-1z"/><path class=sb d="M613 1748l8 3 15 5-6-1-15-3-8-3z"/><path class=sc d="M597 1736l16 12-6 1-16-10z"/><path class=sd d="M582 1719l15 17-6 3-15-15z"/><path class=se d="M574 1708l8 11-6 5-8-10z"/><path class=sf d="M566 1694l8 14-6 6-8-13z"/><path class=sg d="M558 1679l8 15-6 7-8-14z"/><path class=sh d="M551 1660l7 19-6 8-7-17z"/><path class=si d="M543 1639l8 21-6 10-8-20z"/><path class=sk d="M535 1614l8 25-6 11-8-22z"/><path class=sbb d="M1830 441l8-108-6 6-8 107z"/><path class=sV d="M1822 539l8-98-6 5-8 98z"/><path class=sR d="M1814 629l8-90-6 5-8 90z"/><path class=sM d="M1807 712l7-83-6 5-7 82z"/><path class=sI d="M1799 787l8-75-6 4-8 75z"/><path class=sE d="M1791 856l8-69-6 4-8 68z"/><path class=sB d="M1783 918l8-62-6 3-8 62z"/><path class=sy d="M1775 975l8-57-6 3-8 56z"/><path class=sv d="M1768 1027l7-52-6 2-7 52z"/><path class=st d="M1760 1074l8-47-6 2-8 46z"/><path class=sr d="M1752 1116l8-42-6 1-8 42z"/><path class=sp d="M1744 1155l8-39-6 1-8 39z"/><path class=sn d="M1736 1190l8-35-6 1-8 34z"/><path class=sl d="M1729 1221l7-31-6 0-7 32z"/><path class=sk d="M1721 1250l8-29-6 1-8 28z"/><path class=sj d="M1713 1275l8-25-6 0-8 25z"/><path class=sh d="M1705 1299l8-24-6 0-8 23z"/><path class=sg d="M1689 1338l16-39-6-1-16 40z"/><path class=sf d="M1682 1355l7-17-6 0-7 16z"/><path class=se d="M1674 1371l8-16-6-1-8 15z"/><path class=sd d="M1658 1397l16-26-6-2-16 26z"/><path class=sc d="M1635 1427l23-30-6-2-23 30z"/><path class=sb d="M1604 1455l15-12 16-16-6-2-16 15-15 13z"/><path class=sa d="M643 1756l15 3 16-1 15-2 24-6 148-50 227-66 344-107 70-23 39-14 31-15 32-20-6-2-24 15-31 16-39 15-55 18-367 114-235 68-148 51-31 6-16 1-16-1z"/><path class=sb d="M619 1746l8 4 16 6-7 0-15-5-8-3z"/><path class=sc d="M603 1733l16 13-6 2-16-12z"/><path class=sd d="M596 1724l7 9-6 3-7-7z"/><path class=se d="M588 1714l8 10-6 5-8-10z"/><path class=sf d="M572 1687l16 27-6 5-16-25z"/><path class=sh d="M564 1670l8 17-6 7-8-15z"/><path class=si d="M557 1650l7 20-6 9-7-19z"/><path class=sj d="M549 1627l8 23-6 10-8-21z"/><path class=sl d="M541 1601l8 26-6 12-8-25z"/><path class=sbb d="M1836 436l8-108-6 5-8 108z"/><path class=sW d="M1828 535l8-99-6 5-8 98z"/><path class=sR d="M1821 625l7-90-6 4-8 90z"/><path class=sN d="M1813 708l8-83-7 4-7 83z"/><path class=sJ d="M1805 784l8-76-6 4-8 75z"/><path class=sF d="M1797 853l8-69-6 3-8 69z"/><path class=sB d="M1789 916l8-63-6 3-8 62z"/><path class=sy d="M1781 973l8-57-6 2-8 57z"/><path class=sw d="M1774 1025l7-52-6 2-7 52z"/><path class=st d="M1766 1072l8-47-6 2-8 47z"/><path class=sr d="M1758 1115l8-43-6 2-8 42z"/><path class=sp d="M1750 1154l8-39-6 1-8 39z"/><path class=sn d="M1742 1189l8-35-6 1-8 35z"/><path class=sm d="M1735 1221l7-32-6 1-7 31z"/><path class=sk d="M1727 1250l8-29-6 0-8 29z"/><path class=sj d="M1719 1276l8-26-6 0-8 25z"/><path class=si d="M1711 1299l8-23-6-1-8 24z"/><path class=sh d="M1703 1320l8-21-6 0-8 21z"/><path class=sg d="M1696 1339l7-19-6 0-8 18z"/><path class=sf d="M1688 1357l8-18-7-1-7 17z"/><path class=se d="M1680 1372l8-15-6-2-8 16z"/><path class=sd d="M1664 1399l16-27-6-1-16 26z"/><path class=sc d="M1641 1429l23-30-6-2-23 30z"/><path class=sb d="M1610 1458l15-13 16-16-6-2-16 16-15 12z"/><path class=sa d="M656 1758l16 2 16-1 15-2 24-6 148-49 227-67 351-110 63-20 39-16 31-15 24-16-6-3-24 16-31 15-39 16-55 18-359 111-235 69-148 50-31 7-16 2-16-1z"/><path class=sb d="M633 1749l8 4 15 5-6 0-15-4-8-4z"/><path class=sc d="M617 1737l16 12-6 1-16-10z"/><path class=sd d="M602 1720l15 17-6 3-15-16z"/><path class=se d="M594 1708l8 12-6 4-8-10z"/><path class=sf d="M586 1695l8 13-6 6-8-13z"/><path class=sg d="M578 1679l8 16-6 6-8-14z"/><path class=sh d="M570 1660l8 19-6 8-8-17z"/><path class=sj d="M563 1639l7 21-6 10-7-20z"/><path class=sk d="M555 1614l8 25-6 11-8-23z"/><path class=sm d="M547 1586l8 28-6 13-8-26z"/><path class=sbc d="M1842 432l8-108-6 4-8 108z"/><path class=sW d="M1834 531l8-99-6 4-8 99z"/><path class=sR d="M1827 622l7-91-6 4-7 90z"/><path class=sN d="M1819 705l8-83-6 3-8 83z"/><path class=sJ d="M1811 781l8-76-6 3-8 76z"/><path class=sF d="M1803 850l8-69-6 3-8 69z"/><path class=sC d="M1795 914l8-64-6 3-8 63z"/><path class=sz d="M1787 971l8-57-6 2-8 57z"/><path class=sw d="M1780 1023l7-52-6 2-7 52z"/><path class=st d="M1772 1071l8-48-6 2-8 47z"/><path class=sr d="M1764 1114l8-43-6 1-8 43z"/><path class=sp d="M1756 1153l8-39-6 1-8 39z"/><path class=sn d="M1748 1189l8-36-6 1-8 35z"/><path class=sm d="M1741 1221l7-32-6 0-7 32z"/><path class=sk d="M1733 1250l8-29-6 0-8 29z"/><path class=sj d="M1725 1276l8-26-6 0-8 26z"/><path class=si d="M1717 1300l8-24-6 0-8 23z"/><path class=sh d="M1709 1321l8-21-6-1-8 21z"/><path class=sg d="M1702 1340l7-19-6-1-7 19z"/><path class=sf d="M1694 1358l8-18-6-1-8 18z"/><path class=se d="M1678 1388l16-30-6-1-16 29z"/><path class=sd d="M1670 1400l8-12-6-2-8 13z"/><path class=sc d="M1647 1431l23-31-6-1-23 30z"/><path class=sb d="M1616 1461l15-14 16-16-6-2-16 16-15 13z"/><path class=sa d="M670 1760l16 2 15-1 16-3 24-6 148-49 227-67 343-107 55-18 39-15 31-15 32-20-6-3-24 16-31 15-39 16-47 16-359 111-235 70-148 49-32 7-15 2-16-1z"/><path class=sb d="M647 1752l8 4 15 4-6-1-15-3-8-3z"/><path class=sc d="M631 1742l16 10-6 1-16-9z"/><path class=sd d="M615 1725l16 17-6 2-16-15z"/><path class=se d="M608 1715l7 10-6 4-7-9z"/><path class=sf d="M600 1702l8 13-6 5-8-12z"/><path class=sg d="M592 1687l8 15-6 6-8-13z"/><path class=sh d="M584 1670l8 17-6 8-8-16z"/><path class=si d="M576 1650l8 20-6 9-8-19z"/><path class=sj d="M569 1627l7 23-6 10-7-21z"/><path class=sl d="M561 1601l8 26-6 12-8-25z"/><path class=sn d="M553 1571l8 30-6 13-8-28z"/><path class=sbc d="M1848 429l8-109-6 4-8 108z"/><path class=sX d="M1840 528l8-99-6 3-8 99z"/><path class=sS d="M1833 619l7-91-6 3-7 91z"/><path class=sN d="M1825 703l8-84-6 3-8 83z"/><path class=sJ d="M1817 779l8-76-6 2-8 76z"/><path class=sF d="M1809 849l8-70-6 2-8 69z"/><path class=sC d="M1801 912l8-63-6 1-8 64z"/><path class=sz d="M1794 970l7-58-6 2-8 57z"/><path class=sw d="M1786 1022l8-52-7 1-7 52z"/><path class=su d="M1778 1070l8-48-6 1-8 48z"/><path class=sr d="M1770 1114l8-44-6 1-8 43z"/><path class=sp d="M1762 1153l8-39-6 0-8 39z"/><path class=so d="M1754 1189l8-36-6 0-8 36z"/><path class=sm d="M1747 1221l7-32-6 0-7 32z"/><path class=sk d="M1739 1250l8-29-6 0-8 29z"/><path class=sj d="M1731 1277l8-27-6 0-8 26z"/><path class=si d="M1723 1301l8-24-6-1-8 24z"/><path class=sh d="M1715 1322l8-21-6-1-8 21z"/><path class=sg d="M1708 1342l7-20-6-1-7 19z"/><path class=sf d="M1700 1359l8-17-6-2-8 18z"/><path class=se d="M1684 1389l16-30-6-1-16 30z"/><path class=sd d="M1668 1414l16-25-6-1-16 24z"/><path class=sc d="M1653 1433l15-19-6-2-15 19z"/><path class=sb d="M1622 1463l15-13 16-17-6-2-16 16-15 14z"/><path class=sa d="M676 1761l16 2 15 0 24-4 23-6 141-47 227-67 336-105 62-20 39-15 31-15 32-21-6-2-32 20-31 15-39 15-55 18-343 107-227 67-148 49-24 6-16 3-15 1-16-2z"/><path class=sb d="M653 1751l8 4 15 6-6-1-15-4-8-4z"/><path class=sc d="M637 1739l16 12-6 1-16-10z"/><path class=sd d="M629 1731l8 8-6 3-8-8z"/><path class=se d="M614 1709l15 22-6 3-15-19z"/><path class=sf d="M606 1695l8 14-6 6-8-13z"/><path class=sg d="M598 1679l8 16-6 7-8-15z"/><path class=sh d="M590 1661l8 18-6 8-8-17z"/><path class=sj d="M582 1640l8 21-6 9-8-20z"/><path class=sk d="M575 1615l7 25-6 10-7-23z"/><path class=sm d="M567 1587l8 28-6 12-8-26z"/><path class=so d="M559 1556l8 31-6 14-8-30z"/><path class=sbc d="M1854 426l8-109-6 3-8 109z"/><path class=sX d="M1846 526l8-100-6 3-8 99z"/><path class=sS d="M1839 617l7-91-6 2-7 91z"/><path class=sN d="M1831 701l8-84-6 2-8 84z"/><path class=sJ d="M1823 777l8-76-6 2-8 76z"/><path class=sG d="M1815 847l8-70-6 2-8 70z"/><path class=sC d="M1807 911l8-64-6 2-8 63z"/><path class=sz d="M1800 969l7-58-6 1-7 58z"/><path class=sw d="M1792 1022l8-53-6 1-8 52z"/><path class=su d="M1784 1070l8-48-6 0-8 48z"/><path class=ss d="M1776 1114l8-44-6 0-8 44z"/><path class=sq d="M1768 1153l8-39-6 0-8 39z"/><path class=so d="M1760 1189l8-36-6 0-8 36z"/><path class=sm d="M1753 1222l7-33-6 0-7 32z"/><path class=sl d="M1745 1251l8-29-6-1-8 29z"/><path class=sj d="M1737 1278l8-27-6-1-8 27z"/><path class=si d="M1729 1302l8-24-6-1-8 24z"/><path class=sh d="M1721 1323l8-21-6-1-8 21z"/><path class=sg d="M1714 1343l7-20-6-1-7 20z"/><path class=sf d="M1706 1361l8-18-6-1-8 17z"/><path class=se d="M1690 1391l16-30-6-2-16 30z"/><path class=sd d="M1675 1416l15-25-6-2-16 25z"/><path class=sc d="M1659 1436l16-20-7-2-15 19z"/><path class=sb d="M1628 1466l15-14 16-16-6-3-16 17-15 13z"/><path class=sa d="M690 1763l16 1 15 0 24-4 23-6 141-46 226-68 336-105 55-18 39-15 31-16 32-20-6-3-24 16-31 16-39 16-55 18-351 110-227 67-141 47-39 9-15 1-16-1z"/><path class=sb d="M667 1754l7 4 16 5-6-1-16-4-7-3z"/><path class=sc d="M651 1743l16 11-6 1-16-9z"/><path class=sd d="M635 1727l16 16-6 3-16-15z"/><path class=se d="M628 1716l7 11-6 4-7-10z"/><path class=sf d="M620 1703l8 13-6 5-8-12z"/><path class=sg d="M612 1688l8 15-6 6-8-14z"/><path class=sh d="M604 1671l8 17-6 7-8-16z"/><path class=si d="M596 1651l8 20-6 8-8-18z"/><path class=sk d="M588 1629l8 22-6 10-8-21z"/><path class=sl d="M581 1602l7 27-6 11-7-25z"/><path class=sn d="M573 1573l8 29-6 13-8-28z"/><path class=sp d="M565 1540l8 33-6 14-8-31z"/><path class=sbd d="M1860 424l8-109-6 2-8 109z"/><path class=sX d="M1852 524l8-100-6 2-8 100z"/><path class=sS d="M1845 616l7-92-6 2-7 91z"/><path class=sO d="M1837 700l8-84-6 1-8 84z"/><path class=sK d="M1829 777l8-77-6 1-8 76z"/><path class=sG d="M1821 847l8-70-6 0-8 70z"/><path class=sC d="M1813 910l8-63-6 0-8 64z"/><path class=sz d="M1806 969l7-59-6 1-7 58z"/><path class=sx d="M1798 1022l8-53-6 0-8 53z"/><path class=su d="M1790 1070l8-48-6 0-8 48z"/><path class=ss d="M1782 1114l8-44-6 0-8 44z"/><path class=sq d="M1774 1154l8-40-6 0-8 39z"/><path class=so d="M1766 1190l8-36-6-1-8 36z"/><path class=sm d="M1759 1222l7-32-6-1-7 33z"/><path class=sl d="M1751 1252l8-30-6 0-8 29z"/><path class=sj d="M1743 1279l8-27-6-1-8 27z"/><path class=si d="M1735 1303l8-24-6-1-8 24z"/><path class=sh d="M1727 1325l8-22-6-1-8 21z"/><path class=sg d="M1720 1344l7-19-6-2-7 20z"/><path class=sf d="M1712 1362l8-18-6-1-8 18z"/><path class=se d="M1696 1393l16-31-6-1-16 30z"/><path class=sd d="M1681 1418l15-25-6-2-15 25z"/><path class=sc d="M1665 1438l16-20-6-2-16 20z"/><path class=sb d="M1634 1468l15-13 16-17-6-2-16 16-15 14z"/><path class=sa d="M704 1765l16 1 15-1 24-4 23-6 141-46 218-66 336-105 55-18 39-15 31-16 32-21-6-2-24 16-31 16-39 16-55 19-344 107-226 68-141 46-39 9-16 1-15 0z"/><path class=sb d="M680 1757l8 4 16 4-6-1-24-6z"/><path class=sc d="M657 1741l8 7 15 9-6 1-15-9-8-6z"/><path class=sd d="M649 1732l8 9-6 2-8-7z"/><path class=se d="M641 1723l8 9-6 4-8-9z"/><path class=sf d="M626 1697l15 26-6 4-15-24z"/><path class=sg d="M618 1681l8 16-6 6-8-15z"/><path class=si d="M610 1663l8 18-6 7-8-17z"/><path class=sj d="M602 1641l8 22-6 8-8-20z"/><path class=sk d="M594 1617l8 24-6 10-8-22z"/><path class=sm d="M587 1589l7 28-6 12-7-27z"/><path class=so d="M579 1558l8 31-6 13-8-29z"/><path class=sq d="M571 1523l8 35-6 15-8-33z"/><path class=sbd d="M1866 424l8-110-6 1-8 109z"/><path class=sX d="M1858 524l8-100-6 0-8 100z"/><path class=sS d="M1851 615l7-91-6 0-7 92z"/><path class=sO d="M1843 699l8-84-6 1-8 84z"/><path class=sK d="M1835 776l8-77-6 1-8 77z"/><path class=sG d="M1827 846l8-70-6 1-8 70z"/><path class=sD d="M1819 910l8-64-6 1-8 63z"/><path class=sA d="M1812 969l7-59-6 0-7 59z"/><path class=sx d="M1804 1022l8-53-6 0-8 53z"/><path class=su d="M1796 1070l8-48-6 0-8 48z"/><path class=ss d="M1788 1114l8-44-6 0-8 44z"/><path class=sq d="M1780 1154l8-40-6 0-8 40z"/><path class=so d="M1773 1190l7-36-6 0-8 36z"/><path class=sm d="M1765 1223l8-33-7 0-7 32z"/><path class=sl d="M1757 1253l8-30-6-1-8 30z"/><path class=sj d="M1749 1280l8-27-6-1-8 27z"/><path class=si d="M1741 1304l8-24-6-1-8 24z"/><path class=sh d="M1733 1326l8-22-6-1-8 22z"/><path class=sg d="M1726 1346l7-20-6-1-7 19z"/><path class=sf d="M1710 1380l16-34-6-2-16 34z"/><path class=se d="M1702 1395l8-15-6-2-8 15z"/><path class=sd d="M1687 1420l15-25-6-2-15 25z"/><path class=sc d="M1663 1449l24-29-6-2-24 29z"/><path class=sb d="M1632 1477l16-13 15-15-6-2-16 15-15 12z"/><path class=sa d="M710 1765l16 2 15 0 24-3 23-6 148-48 211-64 297-92 78-25 47-18 32-14 31-20-6-3-31 20-32 14-39 15-62 20-321 100-218 66-141 46-23 6-24 4-15 1-16-1z"/><path class=sb d="M686 1756l8 4 16 5-6 0-16-4-8-4z"/><path class=sc d="M671 1745l15 11-6 1-15-9z"/><path class=sd d="M655 1729l16 16-6 3-16-16z"/><path class=se d="M647 1718l8 11-6 3-8-9z"/><path class=sf d="M640 1705l7 13-6 5-7-12z"/><path class=sg d="M632 1690l8 15-6 6-8-14z"/><path class=sh d="M624 1673l8 17-6 7-8-16z"/><path class=si d="M616 1653l8 20-6 8-8-18z"/><path class=sk d="M608 1631l8 22-6 10-8-22z"/><path class=sl d="M601 1605l7 26-6 10-8-24z"/><path class=sn d="M593 1576l8 29-7 12-7-28z"/><path class=sp d="M585 1543l8 33-6 13-8-31z"/><path class=sr d="M577 1506l8 37-6 15-8-35z"/><path class=sbd d="M1872 423l8-109-6 0-8 110z"/><path class=sY d="M1864 524l8-101-6 1-8 100z"/><path class=sT d="M1857 615l7-91-6 0-7 91z"/><path class=sO d="M1849 700l8-85-6 0-8 84z"/><path class=sK d="M1841 776l8-76-6-1-8 77z"/><path class=sG d="M1833 847l8-71-6 0-8 70z"/><path class=sD d="M1825 911l8-64-6-1-8 64z"/><path class=sA d="M1818 969l7-58-6-1-7 59z"/><path class=sx d="M1810 1023l8-54-6 0-8 53z"/><path class=su d="M1802 1071l8-48-6-1-8 48z"/><path class=ss d="M1794 1115l8-44-6-1-8 44z"/><path class=sq d="M1786 1155l8-40-6-1-8 40z"/><path class=so d="M1779 1192l7-37-6-1-7 36z"/><path class=sm d="M1771 1225l8-33-6-2-8 33z"/><path class=sl d="M1763 1254l8-29-6-2-8 30z"/><path class=sk d="M1755 1281l8-27-6-1-8 27z"/><path class=si d="M1747 1306l8-25-6-1-8 24z"/><path class=sh d="M1739 1328l8-22-6-2-8 22z"/><path class=sg d="M1732 1348l7-20-6-2-7 20z"/><path class=sf d="M1716 1382l16-34-6-2-16 34z"/><path class=se d="M1708 1397l8-15-6-2-8 15z"/><path class=sd d="M1693 1422l15-25-6-2-15 25z"/><path class=sc d="M1669 1452l24-30-6-2-24 29z"/><path class=sb d="M1638 1480l16-13 15-15-6-3-15 15-16 13z"/><path class=sa d="M724 1767l15 2 16-1 23-3 24-6 141-46 210-63 313-98 63-20 46-18 32-14 31-20-6-3-31 20-32 14-39 15-54 18-329 102-211 64-140 46-24 6-23 4-16 1-15 0z"/><path class=sb d="M700 1760l8 3 16 4-6 0-24-7z"/><path class=sc d="M685 1750l15 10-6 0-15-8z"/><path class=sd d="M669 1735l16 15-6 2-16-14z"/><path class=se d="M661 1725l8 10-6 3-8-9z"/><path class=sf d="M653 1713l8 12-6 4-8-11z"/><path class=sg d="M646 1699l7 14-6 5-7-13z"/><path class=sh d="M638 1683l8 16-6 6-8-15z"/><path class=si d="M630 1665l8 18-6 7-8-17z"/><path class=sj d="M622 1644l8 21-6 8-8-20z"/><path class=sk d="M614 1620l8 24-6 9-8-22z"/><path class=sm d="M607 1593l7 27-6 11-7-26z"/><path class=so d="M599 1562l8 31-6 12-8-29z"/><path class=sq d="M591 1527l8 35-6 14-8-33z"/><path class=ss d="M583 1488l8 39-6 16-8-37z"/><path class=sbd d="M1878 424l8-109-6-1-8 109z"/><path class=sY d="M1871 524l7-100-6-1-8 101z"/><path class=sT d="M1863 616l8-92-7 0-7 91z"/><path class=sO d="M1855 700l8-84-6-1-8 85z"/><path class=sK d="M1847 777l8-77-6 0-8 76z"/><path class=sG d="M1839 848l8-71-6-1-8 71z"/><path class=sD d="M1831 912l8-64-6-1-8 64z"/><path class=sA d="M1824 970l7-58-6-1-7 58z"/><path class=sx d="M1816 1024l8-54-6-1-8 54z"/><path class=su d="M1808 1072l8-48-6-1-8 48z"/><path class=ss d="M1800 1116l8-44-6-1-8 44z"/><path class=sq d="M1792 1157l8-41-6-1-8 40z"/><path class=so d="M1785 1193l7-36-6-2-7 37z"/><path class=sm d="M1777 1226l8-33-6-1-8 33z"/><path class=sl d="M1769 1256l8-30-6-1-8 29z"/><path class=sk d="M1761 1283l8-27-6-2-8 27z"/><path class=si d="M1753 1308l8-25-6-2-8 25z"/><path class=sh d="M1745 1330l8-22-6-2-8 22z"/><path class=sg d="M1738 1350l7-20-6-2-7 20z"/><path class=sf d="M1722 1384l16-34-6-2-16 34z"/><path class=se d="M1714 1399l8-15-6-2-8 15z"/><path class=sd d="M1699 1425l15-26-6-2-15 25z"/><path class=sc d="M1675 1454l24-29-6-3-24 30z"/><path class=sb d="M1644 1483l16-13 15-16-6-2-15 15-16 13z"/><path class=sa d="M738 1770l15 1 16-1 23-4 24-6 140-46 211-64 313-97 62-21 39-15 32-15 31-19-6-3-24 15-31 16-39 16-55 18-328 102-218 66-133 43-24 7-23 4-16 2-15 0z"/><path class=sb d="M706 1759l16 7 16 4-6-1-16-3-16-6z"/><path class=sc d="M691 1748l15 11-6 1-15-10z"/><path class=sd d="M683 1740l8 8-6 2-8-7z"/><path class=se d="M667 1720l16 20-6 3-16-18z"/><path class=sf d="M659 1708l8 12-6 5-8-12z"/><path class=sg d="M652 1693l7 15-6 5-7-14z"/><path class=sh d="M644 1676l8 17-6 6-8-16z"/><path class=si d="M636 1657l8 19-6 7-8-18z"/><path class=sk d="M628 1634l8 23-6 8-8-21z"/><path class=sl d="M620 1609l8 25-6 10-8-24z"/><path class=sn d="M613 1580l7 29-6 11-7-27z"/><path class=sp d="M605 1548l8 32-6 13-8-31z"/><path class=sr d="M597 1511l8 37-6 14-8-35z"/><path class=st d="M589 1470l8 41-6 16-8-39z"/><path class=sbd d="M1884 426l8-109-6-2-8 109z"/><path class=sY d="M1877 526l7-100-6-2-7 100z"/><path class=sT d="M1869 618l8-92-6-2-8 92z"/><path class=sO d="M1861 702l8-84-6-2-8 84z"/><path class=sK d="M1853 779l8-77-6-2-8 77z"/><path class=sG d="M1845 849l8-70-6-2-8 71z"/><path class=sD d="M1837 913l8-64-6-1-8 64z"/><path class=sA d="M1830 972l7-59-6-1-7 58z"/><path class=sx d="M1822 1025l8-53-6-2-8 54z"/><path class=sv d="M1814 1074l8-49-6-1-8 48z"/><path class=ss d="M1806 1118l8-44-6-2-8 44z"/><path class=sq d="M1798 1158l8-40-6-2-8 41z"/><path class=so d="M1791 1195l7-37-6-1-7 36z"/><path class=sn d="M1783 1228l8-33-6-2-8 33z"/><path class=sl d="M1775 1258l8-30-6-2-8 30z"/><path class=sk d="M1767 1285l8-27-6-2-8 27z"/><path class=si d="M1759 1310l8-25-6-2-8 25z"/><path class=sh d="M1752 1332l7-22-6-2-8 22z"/><path class=sg d="M1744 1352l8-20-7-2-7 20z"/><path class=sf d="M1728 1387l16-35-6-2-16 34z"/><path class=se d="M1720 1401l8-14-6-3-8 15z"/><path class=sd d="M1705 1427l15-26-6-2-15 26z"/><path class=sc d="M1681 1457l24-30-6-2-24 29z"/><path class=sb d="M1650 1485l16-13 15-15-6-3-15 16-16 13z"/><path class=sa d="M744 1770l15 2 24-1 23-4 24-7 140-45 203-61 305-95 63-21 46-17 32-16 31-20-6-2-31 19-32 15-39 15-62 21-313 97-211 64-140 46-24 6-23 4-16 1-15-1z"/><path class=sb d="M720 1763l8 3 16 4-6 0-24-7z"/><path class=sc d="M705 1753l15 10-6 0-15-9z"/><path class=sd d="M689 1737l16 16-6 1-16-14z"/><path class=se d="M681 1728l8 9-6 3-8-9z"/><path class=sf d="M673 1716l8 12-6 3-8-11z"/><path class=sg d="M665 1702l8 14-6 4-8-12z"/><path class=sh d="M658 1687l7 15-6 6-7-15z"/><path class=si d="M650 1669l8 18-6 6-8-17z"/><path class=sj d="M642 1648l8 21-6 7-8-19z"/><path class=sk d="M634 1624l8 24-6 9-8-23z"/><path class=sm d="M626 1597l8 27-6 10-8-25z"/><path class=so d="M619 1567l7 30-6 12-7-29z"/><path class=sq d="M611 1533l8 34-6 13-8-32z"/><path class=ss d="M603 1494l8 39-6 15-8-37z"/><path class=sv d="M595 1452l8 42-6 17-8-41z"/><path class=sbd d="M1890 428l8-109-6-2-8 109z"/><path class=sY d="M1883 528l7-100-6-2-7 100z"/><path class=sT d="M1875 620l8-92-6-2-8 92z"/><path class=sO d="M1867 704l8-84-6-2-8 84z"/><path class=sK d="M1859 781l8-77-6-2-8 77z"/><path class=sH d="M1851 851l8-70-6-2-8 70z"/><path class=sD d="M1843 915l8-64-6-2-8 64z"/><path class=sA d="M1836 974l7-59-6-2-7 59z"/><path class=sx d="M1828 1027l8-53-6-2-8 53z"/><path class=sv d="M1820 1076l8-49-6-2-8 49z"/><path class=ss d="M1812 1120l8-44-6-2-8 44z"/><path class=sq d="M1804 1160l8-40-6-2-8 40z"/><path class=so d="M1797 1197l7-37-6-2-7 37z"/><path class=sn d="M1789 1230l8-33-6-2-8 33z"/><path class=sl d="M1781 1260l8-30-6-2-8 30z"/><path class=sk d="M1773 1287l8-27-6-2-8 27z"/><path class=sj d="M1765 1312l8-25-6-2-8 25z"/><path class=sh d="M1758 1334l7-22-6-2-7 22z"/><path class=sg d="M1742 1373l16-39-6-2-16 38z"/><path class=sf d="M1734 1389l8-16-6-3-8 17z"/><path class=se d="M1726 1404l8-15-6-2-8 14z"/><path class=sd d="M1711 1430l15-26-6-3-15 26z"/><path class=sc d="M1687 1460l24-30-6-3-24 30z"/><path class=sb d="M1656 1488l16-13 15-15-6-3-15 15-16 13z"/><path class=sa d="M757 1773l16 1 24-2 23-5 23-6 141-45 508-156 62-21 39-15 32-16 31-20-6-3-31 20-32 16-39 15-54 18-313 97-211 64-140 45-24 7-23 4-16 1-16 0z"/><path class=sb d="M734 1766l23 7-6-1-23-6z"/><path class=sc d="M711 1751l7 6 16 9-6 0-16-8-7-5z"/><path class=sd d="M703 1743l8 8-6 2-8-7z"/><path class=se d="M687 1724l16 19-6 3-16-18z"/><path class=sf d="M679 1711l8 13-6 4-8-12z"/><path class=sg d="M672 1697l7 14-6 5-8-14z"/><path class=sh d="M664 1680l8 17-7 5-7-15z"/><path class=si d="M656 1661l8 19-6 7-8-18z"/><path class=sk d="M648 1639l8 22-6 8-8-21z"/><path class=sl d="M640 1614l8 25-6 9-8-24z"/><path class=sn d="M632 1586l8 28-6 10-8-27z"/><path class=sp d="M625 1554l7 32-6 11-7-30z"/><path class=sr d="M617 1518l8 36-6 13-8-34z"/><path class=st d="M609 1478l8 40-6 15-8-39z"/><path class=sw d="M601 1433l8 45-6 16-8-42z"/><path class=sbd d="M1896 432l8-109-6-4-8 109z"/><path class=sY d="M1889 531l7-99-6-4-7 100z"/><path class=sT d="M1881 623l8-92-6-3-8 92z"/><path class=sO d="M1873 707l8-84-6-3-8 84z"/><path class=sK d="M1865 783l8-76-6-3-8 77z"/><path class=sH d="M1857 854l8-71-6-2-8 70z"/><path class=sD d="M1850 918l7-64-6-3-8 64z"/><path class=sA d="M1842 976l8-58-7-3-7 59z"/><path class=sx d="M1834 1030l8-54-6-2-8 53z"/><path class=sv d="M1826 1078l8-48-6-3-8 49z"/><path class=ss d="M1818 1122l8-44-6-2-8 44z"/><path class=sq d="M1810 1163l8-41-6-2-8 40z"/><path class=so d="M1803 1199l7-36-6-3-7 37z"/><path class=sn d="M1795 1232l8-33-6-2-8 33z"/><path class=sl d="M1787 1262l8-30-6-2-8 30z"/><path class=sk d="M1779 1290l8-28-6-2-8 27z"/><path class=sj d="M1771 1314l8-24-6-3-8 25z"/><path class=sh d="M1764 1337l7-23-6-2-7 22z"/><path class=sg d="M1748 1375l16-38-6-3-16 39z"/><path class=sf d="M1740 1392l8-17-6-2-8 16z"/><path class=se d="M1724 1420l16-28-6-3-16 28z"/><path class=sd d="M1717 1432l7-12-6-3-7 13z"/><path class=sc d="M1693 1462l24-30-6-2-24 30z"/><path class=sb d="M1662 1491l16-13 15-16-6-2-15 15-16 13z"/><path class=sa d="M763 1774l16 1 24-1 23-4 31-8 133-42 492-152 71-23 46-18 32-16 31-20-6-3-31 20-32 16-39 15-62 21-508 156-141 45-23 6-23 5-24 2-16-1z"/><path class=sb d="M740 1766l23 8-6-1-23-7z"/><path class=sc d="M724 1756l16 10-6 0-16-9z"/><path class=sd d="M709 1741l15 15-6 1-15-14z"/><path class=se d="M701 1731l8 10-6 2-8-9z"/><path class=sf d="M693 1720l8 11-6 3-8-10z"/><path class=sg d="M685 1706l8 14-6 4-8-13z"/><path class=sh d="M678 1691l7 15-6 5-7-14z"/><path class=si d="M670 1673l8 18-6 6-8-17z"/><path class=sj d="M662 1653l8 20-6 7-8-19z"/><path class=sk d="M654 1629l8 24-6 8-8-22z"/><path class=sm d="M646 1603l8 26-6 10-8-25z"/><path class=so d="M638 1573l8 30-6 11-8-28z"/><path class=sq d="M631 1540l7 33-6 13-7-32z"/><path class=ss d="M623 1502l8 38-6 14-8-36z"/><path class=su d="M615 1460l8 42-6 16-8-40z"/><path class=sx d="M607 1414l8 46-6 18-8-45z"/><path class=sbd d="M1902 436l8-109-6-4-8 109z"/><path class=sY d="M1895 535l7-99-6-4-7 99z"/><path class=sT d="M1887 627l8-92-6-4-8 92z"/><path class=sO d="M1879 710l8-83-6-4-8 84z"/><path class=sK d="M1871 787l8-77-6-3-8 76z"/><path class=sH d="M1863 857l8-70-6-4-8 71z"/><path class=sD d="M1856 921l7-64-6-3-7 64z"/><path class=sA d="M1848 979l8-58-6-3-8 58z"/><path class=sx d="M1840 1032l8-53-6-3-8 54z"/><path class=sv d="M1832 1081l8-49-6-2-8 48z"/><path class=ss d="M1824 1125l8-44-6-3-8 44z"/><path class=sq d="M1816 1165l8-40-6-3-8 41z"/><path class=so d="M1809 1202l7-37-6-2-7 36z"/><path class=sn d="M1801 1235l8-33-6-3-8 33z"/><path class=sl d="M1793 1265l8-30-6-3-8 30z"/><path class=sk d="M1785 1292l8-27-6-3-8 28z"/><path class=sj d="M1777 1317l8-25-6-2-8 24z"/><path class=sh d="M1770 1339l7-22-6-3-7 23z"/><path class=sg d="M1754 1378l16-39-6-2-16 38z"/><path class=sf d="M1746 1394l8-16-6-3-8 17z"/><path class=se d="M1731 1423l15-29-6-2-16 28z"/><path class=sd d="M1715 1446l16-23-7-3-15 23z"/><path class=sc d="M1699 1465l16-19-6-3-16 19z"/><path class=sb d="M1668 1494l16-13 15-16-6-3-15 16-16 13z"/><path class=sa d="M777 1776l16 1 23-1 24-5 31-8 625-195 63-20 47-18 31-16 31-20-6-3-31 20-32 16-39 15-54 18-516 160-133 42-47 11-23 2-16 0z"/><path class=sb d="M754 1769l23 7-6-1-23-6z"/><path class=sc d="M730 1754l8 6 16 9-6 0-16-8-8-5z"/><path class=sd d="M723 1747l7 7-6 2-7-7z"/><path class=se d="M707 1727l16 20-6 2-16-18z"/><path class=sf d="M699 1715l8 12-6 4-8-11z"/><path class=sg d="M691 1701l8 14-6 5-8-14z"/><path class=sh d="M684 1685l7 16-6 5-7-15z"/><path class=si d="M676 1666l8 19-6 6-8-18z"/><path class=sk d="M668 1644l8 22-6 7-8-20z"/><path class=sl d="M660 1620l8 24-6 9-8-24z"/><path class=sn d="M652 1592l8 28-6 9-8-26z"/><path class=sp d="M644 1561l8 31-6 11-8-30z"/><path class=sr d="M637 1526l7 35-6 12-7-33z"/><path class=st d="M629 1487l8 39-6 14-8-38z"/><path class=sw d="M621 1443l8 44-6 15-8-42z"/><path class=sy d="M613 1394l8 49-6 17-8-46z"/><path class=sbd d="M1908 441l8-108-6-6-8 109z"/><path class=sY d="M1901 540l7-99-6-5-7 99z"/><path class=sT d="M1893 631l8-91-6-5-8 92z"/><path class=sO d="M1885 714l8-83-6-4-8 83z"/><path class=sK d="M1877 791l8-77-6-4-8 77z"/><path class=sH d="M1869 861l8-70-6-4-8 70z"/><path class=sD d="M1862 924l7-63-6-4-7 64z"/><path class=sA d="M1854 983l8-59-6-3-8 58z"/><path class=sx d="M1846 1036l8-53-6-4-8 53z"/><path class=sv d="M1838 1084l8-48-6-4-8 49z"/><path class=ss d="M1830 1128l8-44-6-3-8 44z"/><path class=sq d="M1822 1168l8-40-6-3-8 40z"/><path class=so d="M1815 1205l7-37-6-3-7 37z"/><path class=sn d="M1807 1238l8-33-6-3-8 33z"/><path class=sl d="M1799 1268l8-30-6-3-8 30z"/><path class=sk d="M1791 1295l8-27-6-3-8 27z"/><path class=sj d="M1783 1320l8-25-6-3-8 25z"/><path class=si d="M1776 1342l7-22-6-3-7 22z"/><path class=sh d="M1768 1362l8-20-6-3-8 20z"/><path class=sg d="M1760 1381l8-19-6-3-8 19z"/><path class=sf d="M1752 1397l8-16-6-3-8 16z"/><path class=se d="M1737 1426l15-29-6-3-15 29z"/><path class=sd d="M1721 1449l16-23-6-3-16 23z"/><path class=sc d="M1705 1468l16-19-6-3-16 19z"/><path class=sb d="M1674 1497l16-13 15-16-6-3-15 16-16 13z"/><path class=sa d="M791 1778l16 1 23-2 24-5 31-8 625-195 62-21 40-15 31-15 31-21-6-3-31 20-31 16-40 15-54 19-641 199-47 11-23 3-16 0z"/><path class=sb d="M760 1769l16 6 15 3-6-1-16-3-15-5z"/><path class=sc d="M744 1759l16 10-6 0-16-9z"/><path class=sd d="M729 1744l15 15-6 1-15-13z"/><path class=se d="M721 1735l8 9-6 3-8-9z"/><path class=sf d="M713 1724l8 11-6 3-8-11z"/><path class=sg d="M705 1711l8 13-6 3-8-12z"/><path class=sh d="M697 1696l8 15-6 4-8-14z"/><path class=si d="M690 1678l7 18-6 5-7-16z"/><path class=sj d="M682 1658l8 20-6 7-8-19z"/><path class=sk d="M674 1636l8 22-6 8-8-22z"/><path class=sm d="M666 1610l8 26-6 8-8-24z"/><path class=so d="M658 1581l8 29-6 10-8-28z"/><path class=sp d="M651 1548l7 33-6 11-8-31z"/><path class=ss d="M643 1512l8 36-7 13-7-35z"/><path class=su d="M635 1471l8 41-6 14-8-39z"/><path class=sx d="M627 1425l8 46-6 16-8-44z"/><path class=sA d="M619 1375l8 50-6 18-8-49z"/><path class=sbd d="M1914 447l8-108-6-6-8 108z"/><path class=sY d="M1907 545l7-98-6-6-7 99z"/><path class=sT d="M1899 636l8-91-6-5-8 91z"/><path class=sO d="M1891 719l8-83-6-5-8 83z"/><path class=sK d="M1883 795l8-76-6-5-8 77z"/><path class=sG d="M1875 865l8-70-6-4-8 70z"/><path class=sD d="M1868 928l7-63-6-4-7 63z"/><path class=sA d="M1860 987l8-59-6-4-8 59z"/><path class=sx d="M1852 1040l8-53-6-4-8 53z"/><path class=sv d="M1844 1088l8-48-6-4-8 48z"/><path class=ss d="M1836 1132l8-44-6-4-8 44z"/><path class=sq d="M1829 1172l7-40-6-4-8 40z"/><path class=so d="M1821 1208l8-36-7-4-7 37z"/><path class=sn d="M1813 1241l8-33-6-3-8 33z"/><path class=sl d="M1805 1271l8-30-6-3-8 30z"/><path class=sk d="M1797 1298l8-27-6-3-8 27z"/><path class=sj d="M1789 1323l8-25-6-3-8 25z"/><path class=si d="M1782 1345l7-22-6-3-7 22z"/><path class=sh d="M1774 1365l8-20-6-3-8 20z"/><path class=sg d="M1766 1384l8-19-6-3-8 19z"/><path class=sf d="M1758 1400l8-16-6-3-8 16z"/><path class=se d="M1743 1429l15-29-6-3-15 29z"/><path class=sd d="M1727 1452l16-23-6-3-16 23z"/><path class=sc d="M1711 1471l16-19-6-3-16 19z"/><path class=sb d="M1672 1506l24-19 15-16-6-3-15 16-24 19z"/><path class=sa d="M797 1779l16 2 23-2 24-4 31-8 578-180 86-27 47-17 39-18 31-19-6-3-31 19-31 14-47 18-63 20-617 192-47 11-23 2-16-1z"/><path class=sb d="M774 1773l23 6-6-1-23-5z"/><path class=sc d="M750 1758l8 6 16 9-6 0-16-8-8-6z"/><path class=sd d="M742 1751l8 7-6 1-8-7z"/><path class=se d="M727 1732l15 19-6 1-15-17z"/><path class=sf d="M719 1720l8 12-6 3-8-11z"/><path class=sg d="M711 1706l8 14-6 4-8-13z"/><path class=sh d="M703 1690l8 16-6 5-8-15z"/><path class=si d="M696 1672l7 18-6 6-7-18z"/><path class=sj d="M688 1651l8 21-6 6-8-20z"/><path class=sl d="M680 1627l8 24-6 7-8-22z"/><path class=sn d="M672 1600l8 27-6 9-8-26z"/><path class=so d="M664 1570l8 30-6 10-8-29z"/><path class=sq d="M657 1536l7 34-6 11-7-33z"/><path class=st d="M649 1498l8 38-6 12-8-36z"/><path class=sv d="M641 1455l8 43-6 14-8-41z"/><path class=sy d="M633 1407l8 48-6 16-8-46z"/><path class=sB d="M625 1355l8 52-6 18-8-50z"/><path class=sbd d="M1920 453l8-107-6-7-8 108z"/><path class=sX d="M1913 552l7-99-6-6-7 98z"/><path class=sT d="M1905 642l8-90-6-7-8 91z"/><path class=sO d="M1897 725l8-83-6-6-8 83z"/><path class=sK d="M1889 800l8-75-6-6-8 76z"/><path class=sG d="M1881 870l8-70-6-5-8 70z"/><path class=sD d="M1874 933l7-63-6-5-7 63z"/><path class=sA d="M1866 991l8-58-6-5-8 59z"/><path class=sx d="M1858 1044l8-53-6-4-8 53z"/><path class=sv d="M1850 1092l8-48-6-4-8 48z"/><path class=ss d="M1842 1136l8-44-6-4-8 44z"/><path class=sq d="M1835 1175l7-39-6-4-7 40z"/><path class=so d="M1827 1212l8-37-6-3-8 36z"/><path class=sn d="M1819 1245l8-33-6-4-8 33z"/><path class=sl d="M1811 1274l8-29-6-4-8 30z"/><path class=sk d="M1803 1302l8-28-6-3-8 27z"/><path class=sj d="M1795 1326l8-24-6-4-8 25z"/><path class=si d="M1788 1348l7-22-6-3-7 22z"/><path class=sh d="M1780 1368l8-20-6-3-8 20z"/><path class=sg d="M1772 1387l8-19-6-3-8 19z"/><path class=sf d="M1764 1403l8-16-6-3-8 16z"/><path class=se d="M1749 1432l15-29-6-3-15 29z"/><path class=sd d="M1733 1455l16-23-6-3-16 23z"/><path class=sc d="M1717 1474l16-19-6-3-16 19z"/><path class=sb d="M1678 1509l24-19 15-16-6-3-15 16-24 19z"/><path class=sa d="M811 1782l16 1 23-2 24-5 31-8 594-185 70-23 47-17 31-15 31-19-6-3-31 19-31 14-39 15-63 21-617 192-47 11-23 3-16-1z"/><path class=sb d="M780 1773l15 6 16 3-6-2-16-2-15-5z"/><path class=sc d="M764 1763l16 10-6 0-16-9z"/><path class=sd d="M749 1749l15 14-6 1-16-13z"/><path class=se d="M741 1739l8 10-7 2-7-9z"/><path class=sf d="M725 1716l16 23-6 3-16-22z"/><path class=sg d="M717 1701l8 15-6 4-8-14z"/><path class=si d="M709 1684l8 17-6 5-8-16z"/><path class=sj d="M702 1665l7 19-6 6-7-18z"/><path class=sk d="M694 1643l8 22-6 7-8-21z"/><path class=sm d="M686 1618l8 25-6 8-8-24z"/><path class=sn d="M678 1590l8 28-6 9-8-27z"/><path class=sp d="M670 1558l8 32-6 10-8-30z"/><path class=sr d="M663 1523l7 35-6 12-7-34z"/><path class=su d="M655 1483l8 40-6 13-8-38z"/><path class=sw d="M647 1439l8 44-6 15-8-43z"/><path class=sz d="M639 1389l8 50-6 16-8-48z"/><path class=sC d="M631 1335l8 54-6 18-8-52z"/><path class=sbd d="M1927 461l7-107-6-8-8 107z"/><path class=sX d="M1919 559l8-98-7-8-7 99z"/><path class=sS d="M1911 648l8-89-6-7-8 90z"/><path class=sO d="M1903 731l8-83-6-6-8 83z"/><path class=sK d="M1895 806l8-75-6-6-8 75z"/><path class=sG d="M1887 875l8-69-6-6-8 70z"/><path class=sD d="M1880 938l7-63-6-5-7 63z"/><path class=sA d="M1872 996l8-58-6-5-8 58z"/><path class=sx d="M1864 1048l8-52-6-5-8 53z"/><path class=sv d="M1856 1096l8-48-6-4-8 48z"/><path class=ss d="M1848 1140l8-44-6-4-8 44z"/><path class=sq d="M1841 1180l7-40-6-4-7 39z"/><path class=so d="M1833 1216l8-36-6-5-8 37z"/><path class=sn d="M1825 1248l8-32-6-4-8 33z"/><path class=sl d="M1817 1278l8-30-6-3-8 29z"/><path class=sk d="M1809 1305l8-27-6-4-8 28z"/><path class=sj d="M1801 1330l8-25-6-3-8 24z"/><path class=si d="M1794 1352l7-22-6-4-7 22z"/><path class=sh d="M1786 1372l8-20-6-4-8 20z"/><path class=sg d="M1778 1390l8-18-6-4-8 19z"/><path class=sf d="M1770 1406l8-16-6-3-8 16z"/><path class=se d="M1755 1435l15-29-6-3-15 29z"/><path class=sd d="M1739 1458l16-23-6-3-16 23z"/><path class=sc d="M1723 1477l16-19-6-3-16 19z"/><path class=sb d="M1684 1512l24-19 15-16-6-3-15 16-24 19z"/><path class=sa d="M817 1783l16 1 23-1 24-4 31-8 570-177 86-28 47-17 39-18 31-19-6-3-31 19-31 15-47 17-70 23-594 185-31 8-24 5-23 2-16-1z"/><path class=sb d="M794 1777l23 6-6-1-23-6z"/><path class=sc d="M770 1762l8 6 16 9-6-1-16-8-8-5z"/><path class=sd d="M762 1755l8 7-6 1-8-6z"/><path class=se d="M747 1737l15 18-6 2-15-18z"/><path class=sf d="M739 1725l8 12-6 2-8-10z"/><path class=sg d="M731 1712l8 13-6 4-8-13z"/><path class=sh d="M723 1696l8 16-6 4-8-15z"/><path class=si d="M715 1678l8 18-6 5-8-17z"/><path class=sj d="M708 1658l7 20-6 6-7-19z"/><path class=sl d="M700 1635l8 23-6 7-8-22z"/><path class=sm d="M692 1609l8 26-6 8-8-25z"/><path class=so d="M684 1580l8 29-6 9-8-28z"/><path class=sq d="M676 1547l8 33-6 10-8-32z"/><path class=ss d="M669 1510l7 37-6 11-7-35z"/><path class=sv d="M661 1468l8 42-6 13-8-40z"/><path class=sx d="M653 1422l8 46-6 15-8-44z"/><path class=sA d="M645 1371l8 51-6 17-8-50z"/><path class=sE d="M637 1315l8 56-6 18-8-54z"/><path class=sbc d="M1933 469l7-106-6-9-7 107z"/><path class=sX d="M1925 566l8-97-6-8-8 98z"/><path class=sS d="M1917 656l8-90-6-7-8 89z"/><path class=sO d="M1909 737l8-81-6-8-8 83z"/><path class=sK d="M1901 812l8-75-6-6-8 75z"/><path class=sG d="M1893 881l8-69-6-6-8 69z"/><path class=sD d="M1886 944l7-63-6-6-7 63z"/><path class=sA d="M1878 1001l8-57-6-6-8 58z"/><path class=sx d="M1870 1053l8-52-6-5-8 52z"/><path class=su d="M1862 1101l8-48-6-5-8 48z"/><path class=ss d="M1854 1144l8-43-6-5-8 44z"/><path class=sq d="M1847 1184l7-40-6-4-7 40z"/><path class=so d="M1839 1220l8-36-6-4-8 36z"/><path class=sn d="M1831 1252l8-32-6-4-8 32z"/><path class=sl d="M1823 1282l8-30-6-4-8 30z"/><path class=sk d="M1815 1309l8-27-6-4-8 27z"/><path class=sj d="M1808 1333l7-24-6-4-8 25z"/><path class=sh d="M1792 1375l16-42-7-3-15 42z"/><path class=sg d="M1784 1394l8-19-6-3-8 18z"/><path class=sf d="M1776 1410l8-16-6-4-8 16z"/><path class=se d="M1761 1438l15-28-6-4-15 29z"/><path class=sd d="M1745 1461l16-23-6-3-16 23z"/><path class=sc d="M1729 1480l16-19-6-3-16 19z"/><path class=sb d="M1690 1515l24-19 15-16-6-3-15 16-24 19z"/><path class=sa d="M831 1786l15 0 24-2 23-4 32-8 578-180 70-23 47-17 39-18 31-19-6-3-31 19-31 15-47 17-63 21-593 185-32 8-23 5-24 2-15 0z"/><path class=sb d="M800 1777l15 6 16 3-6-2-16-2-15-5z"/><path class=sc d="M784 1767l16 10-6 0-16-9z"/><path class=sd d="M768 1754l16 13-6 1-16-13z"/><path class=se d="M761 1745l7 9-6 1-7-8z"/><path class=sf d="M745 1722l16 23-6 2-16-22z"/><path class=sg d="M737 1707l8 15-6 3-8-13z"/><path class=sh d="M729 1691l8 16-6 5-8-16z"/><path class=sj d="M721 1672l8 19-6 5-8-18z"/><path class=sk d="M714 1651l7 21-6 6-7-20z"/><path class=sl d="M706 1627l8 24-6 7-8-23z"/><path class=sn d="M698 1600l8 27-6 8-8-26z"/><path class=sp d="M690 1569l8 31-6 9-8-29z"/><path class=sr d="M682 1535l8 34-6 11-8-33z"/><path class=st d="M675 1496l7 39-6 12-7-37z"/><path class=sw d="M667 1454l8 42-6 14-8-42z"/><path class=sy d="M659 1406l8 48-6 14-8-46z"/><path class=sB d="M651 1353l8 53-6 16-8-51z"/><path class=sF d="M643 1294l8 59-6 18-8-56z"/><path class=sbc d="M1939 478l7-105-6-10-7 106z"/><path class=sX d="M1931 575l8-97-6-9-8 97z"/><path class=sS d="M1923 664l8-89-6-9-8 90z"/><path class=sO d="M1915 745l8-81-6-8-8 81z"/><path class=sK d="M1907 819l8-74-6-8-8 75z"/><path class=sG d="M1899 888l8-69-6-7-8 69z"/><path class=sD d="M1892 950l7-62-6-7-7 63z"/><path class=sA d="M1884 1007l8-57-6-6-8 57z"/><path class=sx d="M1876 1059l8-52-6-6-8 52z"/><path class=su d="M1868 1106l8-47-6-6-8 48z"/><path class=ss d="M1860 1149l8-43-6-5-8 43z"/><path class=sq d="M1853 1189l7-40-6-5-7 40z"/><path class=so d="M1845 1224l8-35-6-5-8 36z"/><path class=sn d="M1837 1257l8-33-6-4-8 32z"/><path class=sl d="M1829 1286l8-29-6-5-8 30z"/><path class=sk d="M1821 1313l8-27-6-4-8 27z"/><path class=sj d="M1814 1337l7-24-6-4-7 24z"/><path class=sh d="M1806 1359l8-22-6-4-8 22z"/><path class=sg d="M1790 1397l16-38-6-4-16 39z"/><path class=sf d="M1782 1413l8-16-6-3-8 16z"/><path class=se d="M1767 1442l15-29-6-3-15 28z"/><path class=sd d="M1751 1465l16-23-6-4-16 23z"/><path class=sc d="M1735 1484l16-19-6-4-16 19z"/><path class=sb d="M1696 1518l24-18 15-16-6-4-15 16-24 19z"/><path class=sa d="M837 1787l16 1 23-1 31-6 31-8 547-170 86-28 55-20 39-17 31-20-6-3-31 19-39 18-47 17-70 23-578 180-32 8-23 4-24 2-15 0z"/><path class=sb d="M813 1781l24 6-6-1-24-6z"/><path class=sc d="M790 1767l8 5 15 9-6-1-15-7-8-6z"/><path class=sd d="M774 1752l16 15-6 0-16-13z"/><path class=se d="M767 1742l7 10-6 2-7-9z"/><path class=sf d="M759 1731l8 11-6 3-8-11z"/><path class=sg d="M751 1718l8 13-6 3-8-12z"/><path class=sh d="M743 1703l8 15-6 4-8-15z"/><path class=si d="M735 1686l8 17-6 4-8-16z"/><path class=sj d="M728 1666l7 20-6 5-8-19z"/><path class=sk d="M720 1644l8 22-7 6-7-21z"/><path class=sm d="M712 1619l8 25-6 7-8-24z"/><path class=so d="M704 1591l8 28-6 8-8-27z"/><path class=sq d="M696 1559l8 32-6 9-8-31z"/><path class=ss d="M688 1523l8 36-6 10-8-34z"/><path class=su d="M681 1483l7 40-6 12-7-39z"/><path class=sx d="M673 1439l8 44-6 13-8-42z"/><path class=sz d="M665 1389l8 50-6 15-8-48z"/><path class=sD d="M657 1335l8 54-6 17-8-53z"/><path class=sG d="M649 1274l8 61-6 18-8-59z"/><path class=sbc d="M1945 488l7-105-6-10-7 105z"/><path class=sW d="M1937 584l8-96-6-10-8 97z"/><path class=sS d="M1929 672l8-88-6-9-8 89z"/><path class=sN d="M1921 753l8-81-6-8-8 81z"/><path class=sJ d="M1913 827l8-74-6-8-8 74z"/><path class=sG d="M1906 895l7-68-6-8-8 69z"/><path class=sC d="M1898 957l8-62-7-7-7 62z"/><path class=sz d="M1890 1013l8-56-6-7-8 57z"/><path class=sx d="M1882 1065l8-52-6-6-8 52z"/><path class=su d="M1874 1112l8-47-6-6-8 47z"/><path class=ss d="M1866 1155l8-43-6-6-8 43z"/><path class=sq d="M1859 1194l7-39-6-6-7 40z"/><path class=so d="M1851 1229l8-35-6-5-8 35z"/><path class=sn d="M1843 1261l8-32-6-5-8 33z"/><path class=sl d="M1835 1291l8-30-6-4-8 29z"/><path class=sk d="M1827 1317l8-26-6-5-8 27z"/><path class=si d="M1820 1341l7-24-6-4-7 24z"/><path class=sh d="M1812 1363l8-22-6-4-8 22z"/><path class=sg d="M1796 1401l16-38-6-4-16 38z"/><path class=sf d="M1788 1417l8-16-6-4-8 16z"/><path class=se d="M1773 1445l15-28-6-4-15 29z"/><path class=sd d="M1757 1468l16-23-6-3-16 23z"/><path class=sc d="M1741 1487l16-19-6-3-16 19z"/><path class=sb d="M1702 1522l24-19 15-16-6-3-15 16-24 18z"/><path class=sa d="M851 1789l15 1 24-2 31-6 31-9 563-174 70-23 47-17 39-18 31-19-6-4-31 20-31 14-47 18-63 20-586 183-31 8-23 5-24 2-15 0z"/><path class=sb d="M819 1781l16 6 16 2-6-1-16-2-16-5z"/><path class=sc d="M804 1772l15 9-6 0-15-9z"/><path class=sd d="M788 1759l16 13-6 0-16-12z"/><path class=se d="M773 1740l15 19-6 1-15-18z"/><path class=sf d="M765 1728l8 12-6 2-8-11z"/><path class=sg d="M757 1715l8 13-6 3-8-13z"/><path class=sh d="M749 1699l8 16-6 3-8-15z"/><path class=si d="M741 1681l8 18-6 4-8-17z"/><path class=sk d="M734 1660l7 21-6 5-7-20z"/><path class=sl d="M726 1637l8 23-6 6-8-22z"/><path class=sn d="M718 1611l8 26-6 7-8-25z"/><path class=so d="M710 1581l8 30-6 8-8-28z"/><path class=sq d="M702 1548l8 33-6 10-8-32z"/><path class=ss d="M694 1511l8 37-6 11-8-36z"/><path class=sv d="M687 1470l7 41-6 12-7-40z"/><path class=sy d="M679 1424l8 46-6 13-8-44z"/><path class=sB d="M671 1373l8 51-6 15-8-50z"/><path class=sE d="M663 1316l8 57-6 16-8-54z"/><path class=sH d="M655 1254l8 62-6 19-8-61z"/><path class=sbb d="M1951 499l7-104-6-12-7 105z"/><path class=sW d="M1943 594l8-95-6-11-8 96z"/><path class=sR d="M1935 681l8-87-6-10-8 88z"/><path class=sN d="M1927 762l8-81-6-9-8 81z"/><path class=sJ d="M1919 835l8-73-6-9-8 74z"/><path class=sF d="M1912 902l7-67-6-8-7 68z"/><path class=sC d="M1904 964l8-62-6-7-8 62z"/><path class=sz d="M1896 1020l8-56-6-7-8 56z"/><path class=sx d="M1888 1071l8-51-6-7-8 52z"/><path class=su d="M1880 1118l8-47-6-6-8 47z"/><path class=ss d="M1872 1160l8-42-6-6-8 43z"/><path class=sq d="M1865 1199l7-39-6-5-7 39z"/><path class=so d="M1857 1234l8-35-6-5-8 35z"/><path class=sm d="M1849 1266l8-32-6-5-8 32z"/><path class=sl d="M1841 1295l8-29-6-5-8 30z"/><path class=sk d="M1833 1322l8-27-6-4-8 26z"/><path class=si d="M1826 1346l7-24-6-5-7 24z"/><path class=sh d="M1818 1367l8-21-6-5-8 22z"/><path class=sg d="M1802 1405l16-38-6-4-16 38z"/><path class=sf d="M1794 1421l8-16-6-4-8 16z"/><path class=se d="M1779 1449l15-28-6-4-15 28z"/><path class=sd d="M1763 1472l16-23-6-4-16 23z"/><path class=sc d="M1747 1491l16-19-6-4-16 19z"/><path class=sb d="M1708 1525l24-19 15-15-6-4-15 16-24 19z"/><path class=sa d="M857 1791l15 1 24-1 31-6 31-8 532-165 93-30 55-20 39-18 31-19-6-3-31 19-39 18-47 17-70 23-563 174-31 9-31 6-24 2-15-1z"/><path class=sc d="M810 1772l8 5 15 8-6-1-15-7-8-5z"/><path class=sd d="M794 1758l16 14-6 0-16-13z"/><path class=se d="M786 1748l8 10-6 1-8-9z"/><path class=sf d="M779 1738l7 10-6 2-7-10z"/><path class=sg d="M771 1725l8 13-6 2-8-12z"/><path class=sh d="M763 1711l8 14-6 3-8-13z"/><path class=si d="M755 1694l8 17-6 4-8-16z"/><path class=sj d="M747 1676l8 18-6 5-8-18z"/><path class=sk d="M740 1654l7 22-6 5-7-21z"/><path class=sm d="M732 1630l8 24-6 6-8-23z"/><path class=sn d="M724 1603l8 27-6 7-8-26z"/><path class=sp d="M716 1572l8 31-6 8-8-30z"/><path class=sr d="M708 1538l8 34-6 9-8-33z"/><path class=st d="M700 1499l8 39-6 10-8-37z"/><path class=sw d="M693 1457l7 42-6 12-7-41z"/><path class=sz d="M685 1409l8 48-6 13-8-46z"/><path class=sC d="M677 1356l8 53-6 15-8-51z"/><path class=sF d="M669 1298l8 58-6 17-8-57z"/><path class=sJ d="M661 1234l8 64-6 18-8-62z"/><path class=sbb d="M1957 510l7-103-6-12-7 104z"/><path class=sW d="M1949 605l8-95-6-11-8 95z"/><path class=sR d="M1941 691l8-86-6-11-8 87z"/><path class=sN d="M1933 771l8-80-6-10-8 81z"/><path class=sJ d="M1925 844l8-73-6-9-8 73z"/><path class=sF d="M1918 910l7-66-6-9-7 67z"/><path class=sC d="M1910 971l8-61-6-8-8 62z"/><path class=sz d="M1902 1027l8-56-6-7-8 56z"/><path class=sw d="M1894 1078l8-51-6-7-8 51z"/><path class=su d="M1886 1124l8-46-6-7-8 47z"/><path class=ss d="M1878 1166l8-42-6-6-8 42z"/><path class=sq d="M1871 1205l7-39-6-6-7 39z"/><path class=so d="M1863 1240l8-35-6-6-8 35z"/><path class=sm d="M1855 1272l8-32-6-6-8 32z"/><path class=sl d="M1847 1300l8-28-6-6-8 29z"/><path class=sk d="M1839 1327l8-27-6-5-8 27z"/><path class=si d="M1832 1350l7-23-6-5-7 24z"/><path class=sh d="M1824 1372l8-22-6-4-8 21z"/><path class=sg d="M1808 1409l16-37-6-5-16 38z"/><path class=sf d="M1800 1425l8-16-6-4-8 16z"/><path class=se d="M1793 1440l7-15-6-4-7 15z"/><path class=sd d="M1769 1475l24-35-6-4-24 36z"/><path class=sc d="M1753 1494l16-19-6-3-16 19z"/><path class=sb d="M1714 1528l24-18 15-16-6-3-15 15-24 19z"/><path class=sa d="M871 1794l15 0 24-2 31-6 31-9 555-172 70-23 47-17 39-18 31-19-6-3-31 19-31 15-47 17-62 21-571 177-31 9-31 6-24 3-15 0z"/><path class=sb d="M839 1786l16 5 16 3-6-2-16-2-16-5z"/><path class=sc d="M824 1777l15 9-6-1-15-8z"/><path class=sd d="M808 1765l16 12-6 0-16-12z"/><path class=se d="M792 1747l16 18-6 0-16-17z"/><path class=sf d="M785 1735l7 12-6 1-7-10z"/><path class=sg d="M777 1722l8 13-6 3-8-13z"/><path class=sh d="M769 1707l8 15-6 3-8-14z"/><path class=si d="M761 1690l8 17-6 4-8-17z"/><path class=sj d="M753 1670l8 20-6 4-8-18z"/><path class=sl d="M746 1648l7 22-6 6-7-22z"/><path class=sm d="M738 1623l8 25-6 6-8-24z"/><path class=so d="M730 1594l8 29-6 7-8-27z"/><path class=sq d="M722 1563l8 31-6 9-8-31z"/><path class=ss d="M714 1527l8 36-6 9-8-34z"/><path class=su d="M707 1487l7 40-6 11-8-39z"/><path class=sx d="M699 1443l8 44-7 12-7-42z"/><path class=sA d="M691 1394l8 49-6 14-8-48z"/><path class=sD d="M683 1340l8 54-6 15-8-53z"/><path class=sG d="M675 1280l8 60-6 16-8-58z"/><path class=sK d="M667 1213l8 67-6 18-8-64z"/><path class=sba d="M1963 522l7-102-6-13-7 103z"/><path class=sV d="M1955 616l8-94-6-12-8 95z"/><path class=sR d="M1947 702l8-86-6-11-8 86z"/><path class=sM d="M1939 781l8-79-6-11-8 80z"/><path class=sI d="M1931 853l8-72-6-10-8 73z"/><path class=sF d="M1924 919l7-66-6-9-7 66z"/><path class=sC d="M1916 980l8-61-6-9-8 61z"/><path class=sz d="M1908 1035l8-55-6-9-8 56z"/><path class=sw d="M1900 1085l8-50-6-8-8 51z"/><path class=su d="M1892 1131l8-46-6-7-8 46z"/><path class=ss d="M1885 1173l7-42-6-7-8 42z"/><path class=sq d="M1877 1211l8-38-7-7-7 39z"/><path class=so d="M1869 1246l8-35-6-6-8 35z"/><path class=sm d="M1861 1277l8-31-6-6-8 32z"/><path class=sl d="M1853 1306l8-29-6-5-8 28z"/><path class=sj d="M1845 1332l8-26-6-6-8 27z"/><path class=si d="M1838 1355l7-23-6-5-7 23z"/><path class=sh d="M1830 1376l8-21-6-5-8 22z"/><path class=sg d="M1822 1396l8-20-6-4-8 19z"/><path class=sf d="M1806 1429l16-33-6-5-16 34z"/><path class=se d="M1799 1444l7-15-6-4-7 15z"/><path class=sd d="M1783 1468l16-24-6-4-16 25z"/><path class=sc d="M1760 1498l23-30-6-3-24 29z"/><path class=sb d="M1720 1532l24-19 16-15-7-4-15 16-24 18z"/><path class=sa d="M877 1795l15 1 24-1 31-6 31-8 524-163 86-27 54-20 47-20 31-19-6-4-31 19-39 18-47 17-70 23-555 172-31 9-31 6-24 2-15 0z"/><path class=sb d="M845 1787l16 5 16 3-6-1-16-3-16-5z"/><path class=sc d="M830 1777l15 10-6-1-15-9z"/><path class=sd d="M814 1764l16 13-6 0-16-12z"/><path class=se d="M806 1755l8 9-6 1-8-9z"/><path class=sf d="M791 1733l15 22-6 1-15-21z"/><path class=sg d="M783 1719l8 14-6 2-8-13z"/><path class=sh d="M775 1703l8 16-6 3-8-15z"/><path class=si d="M767 1685l8 18-6 4-8-17z"/><path class=sk d="M759 1665l8 20-6 5-8-20z"/><path class=sl d="M752 1642l7 23-6 5-7-22z"/><path class=sn d="M744 1616l8 26-6 6-8-25z"/><path class=so d="M736 1586l8 30-6 7-8-29z"/><path class=sq d="M728 1553l8 33-6 8-8-31z"/><path class=st d="M720 1517l8 36-6 10-8-36z"/><path class=sv d="M713 1476l7 41-6 10-7-40z"/><path class=sy d="M705 1430l8 46-6 11-8-44z"/><path class=sB d="M697 1379l8 51-6 13-8-49z"/><path class=sE d="M689 1323l8 56-6 15-8-54z"/><path class=sH d="M681 1262l8 61-6 17-8-60z"/><path class=sL d="M673 1193l8 69-6 18-8-67z"/><path class=sba d="M1969 535l7-101-6-14-7 102z"/><path class=sV d="M1961 628l8-93-6-13-8 94z"/><path class=sQ d="M1953 713l8-85-6-12-8 86z"/><path class=sM d="M1945 791l8-78-6-11-8 79z"/><path class=sI d="M1937 863l8-72-6-10-8 72z"/><path class=sF d="M1930 928l7-65-6-10-7 66z"/><path class=sB d="M1922 988l8-60-6-9-8 61z"/><path class=sz d="M1914 1043l8-55-6-8-8 55z"/><path class=sw d="M1906 1093l8-50-6-8-8 50z"/><path class=su d="M1898 1138l8-45-6-8-8 46z"/><path class=sr d="M1891 1180l7-42-6-7-7 42z"/><path class=sp d="M1883 1217l8-37-6-7-8 38z"/><path class=so d="M1875 1252l8-35-6-6-8 35z"/><path class=sm d="M1867 1283l8-31-6-6-8 31z"/><path class=sl d="M1859 1311l8-28-6-6-8 29z"/><path class=sj d="M1851 1337l8-26-6-5-8 26z"/><path class=si d="M1844 1360l7-23-6-5-7 23z"/><path class=sh d="M1836 1381l8-21-6-5-8 21z"/><path class=sg d="M1828 1400l8-19-6-5-8 20z"/><path class=sf d="M1812 1433l16-33-6-4-16 33z"/><path class=se d="M1805 1448l7-15-6-4-7 15z"/><path class=sd d="M1789 1472l16-24-6-4-16 24z"/><path class=sc d="M1766 1501l23-29-6-4-23 30z"/><path class=sb d="M1734 1530l16-13 16-16-6-3-16 15-16 13z"/><path class=sa d="M890 1798l16 0 24-2 31-6 31-9 570-177 63-21 47-18 31-15 31-20-6-4-31 20-31 16-39 15-63 21-578 180-31 9-32 6-23 3-16 0z"/><path class=sc d="M836 1777l8 6 15 8-6-1-15-8-8-5z"/><path class=sd d="M828 1771l8 6-6 0-8-6z"/><path class=se d="M812 1754l16 17-6 0-16-16z"/><path class=sf d="M805 1743l7 11-6 1-8-10z"/><path class=sg d="M797 1731l8 12-7 2-7-12z"/><path class=sh d="M789 1716l8 15-6 2-8-14z"/><path class=si d="M781 1700l8 16-6 3-8-16z"/><path class=sj d="M773 1681l8 19-6 3-8-18z"/><path class=sk d="M765 1660l8 21-6 4-8-20z"/><path class=sm d="M758 1636l7 24-6 5-7-23z"/><path class=sn d="M750 1609l8 27-6 6-8-26z"/><path class=sp d="M742 1578l8 31-6 7-8-30z"/><path class=sr d="M734 1544l8 34-6 8-8-33z"/><path class=st d="M726 1506l8 38-6 9-8-36z"/><path class=sw d="M719 1464l7 42-6 11-7-41z"/><path class=sz d="M711 1417l8 47-6 12-8-46z"/><path class=sC d="M703 1365l8 52-6 13-8-51z"/><path class=sF d="M695 1307l8 58-6 14-8-56z"/><path class=sJ d="M687 1244l8 63-6 16-8-61z"/><path class=sN d="M679 1173l8 71-6 18-8-69z"/><path class=sZ d="M1975 549l8-100-7-15-7 101z"/><path class=sU d="M1967 641l8-92-6-14-8 93z"/><path class=sQ d="M1959 725l8-84-6-13-8 85z"/><path class=sL d="M1951 802l8-77-6-12-8 78z"/><path class=sI d="M1943 873l8-71-6-11-8 72z"/><path class=sE d="M1936 938l7-65-6-10-7 65z"/><path class=sB d="M1928 997l8-59-6-10-8 60z"/><path class=sy d="M1920 1051l8-54-6-9-8 55z"/><path class=sw d="M1912 1101l8-50-6-8-8 50z"/><path class=st d="M1904 1146l8-45-6-8-8 45z"/><path class=sr d="M1897 1187l7-41-6-8-7 42z"/><path class=sp d="M1889 1224l8-37-6-7-8 37z"/><path class=sn d="M1881 1258l8-34-6-7-8 35z"/><path class=sm d="M1873 1289l8-31-6-6-8 31z"/><path class=sk d="M1865 1317l8-28-6-6-8 28z"/><path class=sj d="M1858 1342l7-25-6-6-8 26z"/><path class=si d="M1850 1365l8-23-7-5-7 23z"/><path class=sh d="M1842 1386l8-21-6-5-8 21z"/><path class=sg d="M1834 1405l8-19-6-5-8 19z"/><path class=sf d="M1818 1438l16-33-6-5-16 33z"/><path class=se d="M1811 1452l7-14-6-5-7 15z"/><path class=sd d="M1795 1476l16-24-6-4-16 24z"/><path class=sc d="M1772 1505l23-29-6-4-23 29z"/><path class=sb d="M1740 1533l16-13 16-15-6-4-16 16-16 13z"/><path class=sa d="M896 1800l16 0 24-1 31-6 31-8 555-173 70-23 47-17 39-19 31-20-6-3-31 20-31 15-47 18-63 21-570 177-31 9-31 6-24 2-16 0z"/><path class=sb d="M865 1792l16 5 15 3-6-2-15-2-16-5z"/><path class=sc d="M850 1783l15 9-6-1-15-8z"/><path class=sd d="M834 1770l16 13-6 0-16-12z"/><path class=se d="M818 1752l16 18-6 1-16-17z"/><path class=sf d="M811 1741l7 11-6 2-7-11z"/><path class=sg d="M803 1728l8 13-6 2-8-12z"/><path class=sh d="M795 1713l8 15-6 3-8-15z"/><path class=si d="M787 1696l8 17-6 3-8-16z"/><path class=sj d="M779 1677l8 19-6 4-8-19z"/><path class=sl d="M771 1654l8 23-6 4-8-21z"/><path class=sm d="M764 1630l7 24-6 6-7-24z"/><path class=so d="M756 1602l8 28-6 6-8-27z"/><path class=sq d="M748 1570l8 32-6 7-8-31z"/><path class=ss d="M740 1535l8 35-6 8-8-34z"/><path class=su d="M732 1496l8 39-6 9-8-38z"/><path class=sx d="M725 1452l7 44-6 10-7-42z"/><path class=sz d="M717 1404l8 48-6 12-8-47z"/><path class=sD d="M709 1350l8 54-6 13-8-52z"/><path class=sG d="M701 1291l8 59-6 15-8-58z"/><path class=sK d="M693 1226l8 65-6 16-8-63z"/><path class=sO d="M686 1154l7 72-6 18-8-71z"/><path class=sY d="M1981 563l8-99-6-15-8 100z"/><path class=sU d="M1973 654l8-91-6-14-8 92z"/><path class=sP d="M1965 738l8-84-6-13-8 84z"/><path class=sL d="M1957 814l8-76-6-13-8 77z"/><path class=sH d="M1949 884l8-70-6-12-8 71z"/><path class=sE d="M1942 948l7-64-6-11-7 65z"/><path class=sB d="M1934 1007l8-59-6-10-8 59z"/><path class=sy d="M1926 1060l8-53-6-10-8 54z"/><path class=sv d="M1918 1109l8-49-6-9-8 50z"/><path class=st d="M1910 1153l8-44-6-8-8 45z"/><path class=sr d="M1903 1194l7-41-6-7-7 41z"/><path class=sp d="M1895 1231l8-37-6-7-8 37z"/><path class=sn d="M1887 1264l8-33-6-7-8 34z"/><path class=sm d="M1879 1295l8-31-6-6-8 31z"/><path class=sk d="M1871 1323l8-28-6-6-8 28z"/><path class=sj d="M1864 1348l7-25-6-6-7 25z"/><path class=si d="M1856 1371l8-23-6-6-8 23z"/><path class=sh d="M1848 1391l8-20-6-6-8 21z"/><path class=sg d="M1840 1410l8-19-6-5-8 19z"/><path class=sf d="M1824 1442l16-32-6-5-16 33z"/><path class=se d="M1817 1456l7-14-6-4-7 14z"/><path class=sd d="M1801 1480l16-24-6-4-16 24z"/><path class=sc d="M1778 1509l23-29-6-4-23 29z"/><path class=sb d="M1746 1537l16-13 16-15-6-4-16 15-16 13z"/><path class=sa d="M910 1802l16 1 23-3 32-6 31-9 562-174 63-21 47-18 31-16 31-19-6-4-31 20-31 15-39 16-63 21-570 177-31 9-32 6-23 3-16 0z"/><path class=sc d="M856 1784l7 5 16 7-6-1-16-7-7-5z"/><path class=sd d="M840 1770l16 14-6-1-16-13z"/><path class=se d="M832 1761l8 9-6 0-8-8z"/><path class=sf d="M817 1739l15 22-6 1-15-21z"/><path class=sg d="M809 1726l8 13-6 2-8-13z"/><path class=sh d="M801 1710l8 16-6 2-8-15z"/><path class=si d="M793 1692l8 18-6 3-8-17z"/><path class=sk d="M785 1672l8 20-6 4-8-19z"/><path class=sl d="M777 1649l8 23-6 5-8-23z"/><path class=sn d="M770 1624l7 25-6 5-7-24z"/><path class=so d="M762 1595l8 29-6 6-8-28z"/><path class=sq d="M754 1562l8 33-6 7-8-32z"/><path class=ss d="M746 1526l8 36-6 8-8-35z"/><path class=sv d="M738 1486l8 40-6 9-8-39z"/><path class=sx d="M731 1441l7 45-6 10-7-44z"/><path class=sA d="M723 1391l8 50-6 11-8-48z"/><path class=sE d="M715 1336l8 55-6 13-8-54z"/><path class=sH d="M707 1275l8 61-6 14-8-59z"/><path class=sL d="M699 1208l8 67-6 16-8-65z"/><path class=sP d="M692 1134l7 74-6 18-7-72z"/><path class=sY d="M1987 578l8-98-6-16-8 99z"/><path class=sT d="M1979 668l8-90-6-15-8 91z"/><path class=sP d="M1971 751l8-83-6-14-8 84z"/><path class=sL d="M1963 826l8-75-6-13-8 76z"/><path class=sH d="M1956 895l7-69-6-12-8 70z"/><path class=sD d="M1948 959l8-64-7-11-7 64z"/><path class=sA d="M1940 1017l8-58-6-11-8 59z"/><path class=sy d="M1932 1069l8-52-6-10-8 53z"/><path class=sv d="M1924 1118l8-49-6-9-8 49z"/><path class=st d="M1916 1162l8-44-6-9-8 44z"/><path class=sr d="M1909 1202l7-40-6-9-7 41z"/><path class=sp d="M1901 1238l8-36-6-8-8 37z"/><path class=sn d="M1893 1271l8-33-6-7-8 33z"/><path class=sm d="M1885 1301l8-30-6-7-8 31z"/><path class=sk d="M1877 1329l8-28-6-6-8 28z"/><path class=sj d="M1870 1354l7-25-6-6-7 25z"/><path class=si d="M1862 1376l8-22-6-6-8 23z"/><path class=sh d="M1854 1396l8-20-6-5-8 20z"/><path class=sg d="M1846 1415l8-19-6-5-8 19z"/><path class=sf d="M1838 1432l8-17-6-5-8 17z"/><path class=se d="M1823 1461l15-29-6-5-15 29z"/><path class=sd d="M1807 1485l16-24-6-5-16 24z"/><path class=sc d="M1784 1513l23-28-6-5-23 29z"/><path class=sb d="M1752 1540l16-12 16-15-6-4-16 15-16 13z"/><path class=sa d="M916 1804l24 1 23-3 31-7 32-9 539-167 70-23 47-18 39-18 31-20-6-3-31 19-31 16-47 18-63 21-562 174-31 9-32 6-23 3-16-1z"/><path class=sb d="M885 1797l16 5 15 2-6-2-15-2-16-4z"/><path class=sc d="M862 1784l7 5 16 8-6-1-16-7-7-5z"/><path class=sd d="M854 1777l8 7-6 0-8-7z"/><path class=se d="M838 1760l16 17-6 0-16-16z"/><path class=sf d="M830 1750l8 10-6 1-8-10z"/><path class=sg d="M823 1738l7 12-6 1-7-12z"/><path class=sh d="M815 1723l8 15-6 1-8-13z"/><path class=si d="M807 1707l8 16-6 3-8-16z"/><path class=sj d="M799 1689l8 18-6 3-8-18z"/><path class=sk d="M791 1668l8 21-6 3-8-20z"/><path class=sm d="M784 1644l7 24-6 4-8-23z"/><path class=sn d="M776 1618l8 26-7 5-7-25z"/><path class=sp d="M768 1588l8 30-6 6-8-29z"/><path class=sr d="M760 1554l8 34-6 7-8-33z"/><path class=st d="M752 1517l8 37-6 8-8-36z"/><path class=sw d="M744 1476l8 41-6 9-8-40z"/><path class=sy d="M737 1429l7 47-6 10-7-45z"/><path class=sB d="M729 1378l8 51-6 12-8-50z"/><path class=sE d="M721 1322l8 56-6 13-8-55z"/><path class=sI d="M713 1260l8 62-6 14-8-61z"/><path class=sM d="M705 1191l8 69-6 15-8-67z"/><path class=sQ d="M698 1115l7 76-6 17-7-74z"/><path class=sX d="M1993 594l8-97-6-17-8 98z"/><path class=sS d="M1985 683l8-89-6-16-8 90z"/><path class=sO d="M1977 764l8-81-6-15-8 83z"/><path class=sK d="M1969 839l8-75-6-13-8 75z"/><path class=sG d="M1962 907l7-68-6-13-7 69z"/><path class=sD d="M1954 970l8-63-6-12-8 64z"/><path class=sA d="M1946 1027l8-57-6-11-8 58z"/><path class=sx d="M1938 1079l8-52-6-10-8 52z"/><path class=sv d="M1930 1127l8-48-6-10-8 49z"/><path class=ss d="M1922 1170l8-43-6-9-8 44z"/><path class=sq d="M1915 1210l7-40-6-8-7 40z"/><path class=sp d="M1907 1246l8-36-6-8-8 36z"/><path class=sn d="M1899 1278l8-32-6-8-8 33z"/><path class=sl d="M1891 1308l8-30-6-7-8 30z"/><path class=sk d="M1883 1335l8-27-6-7-8 28z"/><path class=sj d="M1876 1360l7-25-6-6-7 25z"/><path class=si d="M1868 1382l8-22-6-6-8 22z"/><path class=sh d="M1860 1402l8-20-6-6-8 20z"/><path class=sg d="M1852 1420l8-18-6-6-8 19z"/><path class=sf d="M1844 1437l8-17-6-5-8 17z"/><path class=se d="M1829 1465l15-28-6-5-15 29z"/><path class=sd d="M1813 1489l16-24-6-4-16 24z"/><path class=sc d="M1790 1517l23-28-6-4-23 28z"/><path class=sb d="M1758 1544l16-13 16-14-6-4-16 15-16 12z"/><path class=sa d="M922 1807l24 0 23-3 31-6 32-8 523-163 86-28 47-17 39-19 31-19-6-4-31 20-39 18-47 18-70 23-539 167-32 9-31 7-23 3-24-1z"/><path class=sb d="M891 1799l16 5 15 3-6-3-15-2-16-5z"/><path class=sc d="M875 1790l16 9-6-2-16-8z"/><path class=sd d="M860 1777l15 13-6-1-15-12z"/><path class=se d="M844 1760l16 17-6 0-16-17z"/><path class=sf d="M836 1749l8 11-6 0-8-10z"/><path class=sg d="M829 1736l7 13-6 1-7-12z"/><path class=sh d="M821 1721l8 15-6 2-8-15z"/><path class=si d="M813 1704l8 17-6 2-8-16z"/><path class=sj d="M805 1685l8 19-6 3-8-18z"/><path class=sl d="M797 1664l8 21-6 4-8-21z"/><path class=sm d="M790 1639l7 25-6 4-7-24z"/><path class=so d="M782 1612l8 27-6 5-8-26z"/><path class=sq d="M774 1581l8 31-6 6-8-30z"/><path class=ss d="M766 1547l8 34-6 7-8-34z"/><path class=su d="M758 1508l8 39-6 7-8-37z"/><path class=sw d="M750 1466l8 42-6 9-8-41z"/><path class=sz d="M743 1418l7 48-6 10-7-47z"/><path class=sC d="M735 1366l8 52-6 11-8-51z"/><path class=sF d="M727 1308l8 58-6 12-8-56z"/><path class=sJ d="M719 1244l8 64-6 14-8-62z"/><path class=sN d="M711 1174l8 70-6 16-8-69z"/><path class=sS d="M704 1096l7 78-6 17-7-76z"/><path class=sW d="M1999 610l8-95-6-18-8 97z"/><path class=sS d="M1991 698l8-88-6-16-8 89z"/><path class=sN d="M1983 778l8-80-6-15-8 81z"/><path class=sJ d="M1975 852l8-74-6-14-8 75z"/><path class=sG d="M1968 920l7-68-6-13-7 68z"/><path class=sD d="M1960 981l8-61-6-13-8 63z"/><path class=sA d="M1952 1038l8-57-6-11-8 57z"/><path class=sx d="M1944 1089l8-51-6-11-8 52z"/><path class=su d="M1936 1136l8-47-6-10-8 48z"/><path class=ss d="M1928 1179l8-43-6-9-8 43z"/><path class=sq d="M1921 1218l7-39-6-9-7 40z"/><path class=so d="M1913 1253l8-35-6-8-8 36z"/><path class=sn d="M1905 1286l8-33-6-7-8 32z"/><path class=sl d="M1897 1315l8-29-6-8-8 30z"/><path class=sk d="M1889 1342l8-27-6-7-8 27z"/><path class=sj d="M1882 1366l7-24-6-7-7 25z"/><path class=si d="M1874 1388l8-22-6-6-8 22z"/><path class=sh d="M1866 1407l8-19-6-6-8 20z"/><path class=sg d="M1858 1425l8-18-6-5-8 18z"/><path class=sf d="M1850 1442l8-17-6-5-8 17z"/><path class=se d="M1835 1470l15-28-6-5-15 28z"/><path class=sd d="M1819 1493l16-23-6-5-16 24z"/><path class=sc d="M1796 1521l23-28-6-4-23 28z"/><path class=sb d="M1764 1547l16-12 16-14-6-4-16 14-16 13z"/><path class=sa d="M936 1809l24 0 23-3 31-7 32-9 531-165 70-23 47-17 39-18 31-20-6-3-31 19-31 15-47 18-63 21-546 170-63 16-23 3-24 1z"/><path class=sc d="M882 1791l23 12-6-1-24-12z"/><path class=sd d="M866 1777l16 14-7-1-15-13z"/><path class=se d="M858 1769l8 8-6 0-8-8z"/><path class=sf d="M842 1747l16 22-6 0-16-20z"/><path class=sg d="M835 1734l7 13-6 2-7-13z"/><path class=sh d="M827 1719l8 15-6 2-8-15z"/><path class=si d="M819 1702l8 17-6 2-8-17z"/><path class=sk d="M811 1682l8 20-6 2-8-19z"/><path class=sl d="M803 1659l8 23-6 3-8-21z"/><path class=sm d="M796 1634l7 25-6 5-7-25z"/><path class=so d="M788 1606l8 28-6 5-8-27z"/><path class=sq d="M780 1574l8 32-6 6-8-31z"/><path class=ss d="M772 1539l8 35-6 7-8-34z"/><path class=su d="M764 1500l8 39-6 8-8-39z"/><path class=sx d="M756 1456l8 44-6 8-8-42z"/><path class=sA d="M749 1407l7 49-6 10-7-48z"/><path class=sD d="M741 1354l8 53-6 11-8-52z"/><path class=sG d="M733 1294l8 60-6 12-8-58z"/><path class=sK d="M725 1229l8 65-6 14-8-64z"/><path class=sO d="M717 1157l8 72-6 15-8-70z"/><path class=sT d="M710 1078l7 79-6 17-7-78z"/><path class=sW d="M2005 627l8-94-6-18-8 95z"/><path class=sR d="M1997 714l8-87-6-17-8 88z"/><path class=sN d="M1989 793l8-79-6-16-8 80z"/><path class=sJ d="M1981 866l8-73-6-15-8 74z"/><path class=sF d="M1974 932l7-66-6-14-7 68z"/><path class=sC d="M1966 993l8-61-6-12-8 61z"/><path class=sz d="M1958 1049l8-56-6-12-8 57z"/><path class=sw d="M1950 1100l8-51-6-11-8 51z"/><path class=su d="M1942 1146l8-46-6-11-8 47z"/><path class=ss d="M1935 1188l7-42-6-10-8 43z"/><path class=sq d="M1927 1226l8-38-7-9-7 39z"/><path class=so d="M1919 1261l8-35-6-8-8 35z"/><path class=sm d="M1911 1293l8-32-6-8-8 33z"/><path class=sl d="M1903 1322l8-29-6-7-8 29z"/><path class=sk d="M1895 1348l8-26-6-7-8 27z"/><path class=si d="M1888 1372l7-24-6-6-7 24z"/><path class=sh d="M1880 1394l8-22-6-6-8 22z"/><path class=sg d="M1864 1431l16-37-6-6-16 37z"/><path class=sf d="M1856 1447l8-16-6-6-8 17z"/><path class=se d="M1841 1475l15-28-6-5-15 28z"/><path class=sd d="M1825 1498l16-23-6-5-16 23z"/><path class=sc d="M1809 1516l16-18-6-5-16 19z"/><path class=sb d="M1770 1551l24-19 15-16-6-4-15 16-24 19z"/><path class=sa d="M942 1811l24 0 23-2 31-7 32-8 515-161 86-27 47-18 39-18 31-19-6-4-31 20-39 18-47 17-70 23-531 165-32 9-31 7-23 3-24 0z"/><path class=sb d="M911 1804l16 5 15 2-6-2-15-2-16-4z"/><path class=sc d="M888 1791l7 6 16 7-6-1-23-12z"/><path class=sd d="M880 1785l8 6-6 0-8-6z"/><path class=se d="M864 1769l16 16-6 0-16-16z"/><path class=sf d="M856 1758l8 11-6 0-8-10z"/><path class=sg d="M848 1746l8 12-6 1-8-12z"/><path class=sh d="M841 1733l7 13-6 1-7-13z"/><path class=si d="M833 1717l8 16-6 1-8-15z"/><path class=sj d="M825 1699l8 18-6 2-8-17z"/><path class=sk d="M817 1678l8 21-6 3-8-20z"/><path class=sl d="M809 1655l8 23-6 4-8-23z"/><path class=sn d="M802 1630l7 25-6 4-7-25z"/><path class=sp d="M794 1601l8 29-6 4-8-28z"/><path class=sr d="M786 1568l8 33-6 5-8-32z"/><path class=st d="M778 1532l8 36-6 6-8-35z"/><path class=sv d="M770 1491l8 41-6 7-8-39z"/><path class=sy d="M763 1447l7 44-6 9-8-44z"/><path class=sB d="M755 1397l8 50-7 9-7-49z"/><path class=sE d="M747 1342l8 55-6 10-8-53z"/><path class=sH d="M739 1281l8 61-6 12-8-60z"/><path class=sL d="M731 1214l8 67-6 13-8-65z"/><path class=sP d="M723 1141l8 73-6 15-8-72z"/><path class=sU d="M716 1060l7 81-6 16-7-79z"/><path class=sV d="M2011 645l8-93-6-19-8 94z"/><path class=sQ d="M2003 730l8-85-6-18-8 87z"/><path class=sM d="M1995 808l8-78-6-16-8 79z"/><path class=sI d="M1987 880l8-72-6-15-8 73z"/><path class=sF d="M1980 945l7-65-6-14-7 66z"/><path class=sC d="M1972 1005l8-60-6-13-8 61z"/><path class=sz d="M1964 1060l8-55-6-12-8 56z"/><path class=sw d="M1956 1110l8-50-6-11-8 51z"/><path class=su d="M1948 1156l8-46-6-10-8 46z"/><path class=sr d="M1941 1197l7-41-6-10-7 42z"/><path class=sq d="M1933 1235l8-38-6-9-8 38z"/><path class=so d="M1925 1270l8-35-6-9-8 35z"/><path class=sm d="M1917 1301l8-31-6-9-8 32z"/><path class=sl d="M1909 1329l8-28-6-8-8 29z"/><path class=sj d="M1901 1355l8-26-6-7-8 26z"/><path class=si d="M1894 1379l7-24-6-7-7 24z"/><path class=sh d="M1886 1400l8-21-6-7-8 22z"/><path class=sg d="M1878 1419l8-19-6-6-8 19z"/><path class=sf d="M1862 1452l16-33-6-6-16 34z"/><path class=se d="M1855 1467l7-15-6-5-7 15z"/><path class=sd d="M1831 1502l24-35-6-5-24 36z"/><path class=sc d="M1816 1521l15-19-6-4-16 18z"/><path class=sb d="M1776 1555l24-19 16-15-7-5-15 16-24 19z"/><path class=sa d="M948 1814l24 0 23-3 31-6 32-8 476-148 110-35 54-19 47-21 31-19-6-4-31 19-39 18-47 18-86 27-515 161-32 8-31 7-23 2-24 0z"/><path class=sc d="M901 1798l16 8-6-2-16-7z"/><path class=sd d="M886 1786l15 12-6-1-15-12z"/><path class=se d="M870 1768l16 18-6-1-16-16z"/><path class=sf d="M862 1758l8 10-6 1-8-11z"/><path class=sg d="M854 1745l8 13-6 0-8-12z"/><path class=sh d="M847 1731l7 14-6 1-7-13z"/><path class=si d="M839 1715l8 16-6 2-8-16z"/><path class=sj d="M831 1696l8 19-6 2-8-18z"/><path class=sk d="M823 1675l8 21-6 3-8-21z"/><path class=sm d="M815 1652l8 23-6 3-8-23z"/><path class=sn d="M808 1625l7 27-6 3-7-25z"/><path class=sp d="M800 1595l8 30-6 5-8-29z"/><path class=sr d="M792 1562l8 33-6 6-8-33z"/><path class=st d="M784 1525l8 37-6 6-8-36z"/><path class=sw d="M776 1483l8 42-6 7-8-41z"/><path class=sy d="M769 1437l7 46-6 8-7-44z"/><path class=sB d="M761 1386l8 51-6 10-8-50z"/><path class=sF d="M753 1330l8 56-6 11-8-55z"/><path class=sI d="M745 1268l8 62-6 12-8-61z"/><path class=sM d="M737 1200l8 68-6 13-8-67z"/><path class=sQ d="M729 1125l8 75-6 14-8-73z"/><path class=sV d="M722 1042l7 83-6 16-7-81z"/><path class=sU d="M2017 663l8-92-6-19-8 93z"/><path class=sQ d="M2009 747l8-84-6-18-8 85z"/><path class=sL d="M2001 824l8-77-6-17-8 78z"/><path class=sI d="M1993 894l8-70-6-16-8 72z"/><path class=sE d="M1986 959l7-65-6-14-7 65z"/><path class=sB d="M1978 1018l8-59-6-14-8 60z"/><path class=sy d="M1970 1072l8-54-6-13-8 55z"/><path class=sw d="M1962 1121l8-49-6-12-8 50z"/><path class=st d="M1954 1166l8-45-6-11-8 46z"/><path class=sr d="M1947 1207l7-41-6-10-7 41z"/><path class=sp d="M1939 1244l8-37-6-10-8 38z"/><path class=sn d="M1931 1278l8-34-6-9-8 35z"/><path class=sm d="M1923 1309l8-31-6-8-8 31z"/><path class=sk d="M1915 1337l8-28-6-8-8 28z"/><path class=sj d="M1907 1362l8-25-6-8-8 26z"/><path class=si d="M1900 1385l7-23-6-7-7 24z"/><path class=sh d="M1892 1406l8-21-6-6-8 21z"/><path class=sg d="M1884 1425l8-19-6-6-8 19z"/><path class=sf d="M1868 1458l16-33-6-6-16 33z"/><path class=se d="M1861 1472l7-14-6-6-7 15z"/><path class=sd d="M1845 1496l16-24-6-5-16 24z"/><path class=sc d="M1822 1525l23-29-6-5-23 30z"/><path class=sb d="M1782 1558l24-18 16-15-6-4-16 15-24 19z"/><path class=sa d="M962 1817l24-1 23-3 31-7 31-8 508-158 86-28 47-17 39-18 31-19-6-3-31 19-39 18-47 17-70 23-524 162-62 16-24 3-23 1z"/><path class=sc d="M907 1799l24 12-6-2-24-11z"/><path class=sd d="M892 1786l15 13-6-1-15-12z"/><path class=se d="M884 1778l8 8-6 0-8-8z"/><path class=sf d="M868 1757l16 21-6 0-16-20z"/><path class=sg d="M861 1744l7 13-6 1-8-13z"/><path class=sh d="M853 1730l8 14-7 1-7-14z"/><path class=si d="M845 1713l8 17-6 1-8-16z"/><path class=sj d="M837 1694l8 19-6 2-8-19z"/><path class=sl d="M829 1672l8 22-6 2-8-21z"/><path class=sm d="M821 1648l8 24-6 3-8-23z"/><path class=so d="M814 1621l7 27-6 4-7-27z"/><path class=sq d="M806 1590l8 31-6 4-8-30z"/><path class=ss d="M798 1556l8 34-6 5-8-33z"/><path class=su d="M790 1518l8 38-6 6-8-37z"/><path class=sw d="M782 1475l8 43-6 7-8-42z"/><path class=sz d="M775 1428l7 47-6 8-7-46z"/><path class=sC d="M767 1376l8 52-6 9-8-51z"/><path class=sF d="M759 1319l8 57-6 10-8-56z"/><path class=sJ d="M751 1256l8 63-6 11-8-62z"/><path class=sN d="M743 1186l8 70-6 12-8-68z"/><path class=sR d="M736 1109l7 77-6 14-8-75z"/><path class=sW d="M728 1025l8 84-7 16-7-83z"/><path class=sT d="M2023 681l8-90-6-20-8 92z"/><path class=sP d="M2015 764l8-83-6-18-8 84z"/><path class=sL d="M2007 840l8-76-6-17-8 77z"/><path class=sH d="M1999 909l8-69-6-16-8 70z"/><path class=sE d="M1992 973l7-64-6-15-7 65z"/><path class=sB d="M1984 1031l8-58-6-14-8 59z"/><path class=sy d="M1976 1084l8-53-6-13-8 54z"/><path class=sv d="M1968 1133l8-49-6-12-8 49z"/><path class=st d="M1960 1177l8-44-6-12-8 45z"/><path class=sr d="M1953 1217l7-40-6-11-7 41z"/><path class=sp d="M1945 1254l8-37-6-10-8 37z"/><path class=sn d="M1937 1287l8-33-6-10-8 34z"/><path class=sm d="M1929 1317l8-30-6-9-8 31z"/><path class=sk d="M1921 1344l8-27-6-8-8 28z"/><path class=sj d="M1914 1369l7-25-6-7-8 25z"/><path class=si d="M1906 1392l8-23-7-7-7 23z"/><path class=sh d="M1898 1412l8-20-6-7-8 21z"/><path class=sg d="M1890 1431l8-19-6-6-8 19z"/><path class=sf d="M1882 1448l8-17-6-6-8 17z"/><path class=se d="M1867 1477l15-29-6-6-15 30z"/><path class=sd d="M1851 1501l16-24-6-5-16 24z"/><path class=sc d="M1828 1529l23-28-6-5-23 29z"/><path class=sb d="M1796 1557l16-13 16-15-6-4-16 15-16 13z"/><path class=sa d="M968 1819l24 0 23-3 31-7 31-8 524-163 78-25 47-18 39-18 31-20-6-4-31 20-39 19-47 17-62 21-540 168-31 8-31 7-23 3-24 1z"/><path class=sc d="M913 1800l24 12-6-1-24-12z"/><path class=sd d="M898 1787l15 13-6-1-15-13z"/><path class=se d="M890 1778l8 9-6-1-8-8z"/><path class=sf d="M874 1757l16 21-6 0-16-21z"/><path class=sg d="M867 1743l7 14-6 0-7-13z"/><path class=sh d="M859 1728l8 15-6 1-8-14z"/><path class=si d="M851 1711l8 17-6 2-8-17z"/><path class=sk d="M843 1691l8 20-6 2-8-19z"/><path class=sl d="M835 1669l8 22-6 3-8-22z"/><path class=sn d="M827 1644l8 25-6 3-8-24z"/><path class=so d="M820 1616l7 28-6 4-7-27z"/><path class=sq d="M812 1585l8 31-6 5-8-31z"/><path class=ss d="M804 1550l8 35-6 5-8-34z"/><path class=su d="M796 1511l8 39-6 6-8-38z"/><path class=sx d="M788 1468l8 43-6 7-8-43z"/><path class=sA d="M781 1420l7 48-6 7-7-47z"/><path class=sD d="M773 1367l8 53-6 8-8-52z"/><path class=sG d="M765 1308l8 59-6 9-8-57z"/><path class=sK d="M757 1243l8 65-6 11-8-63z"/><path class=sO d="M749 1172l8 71-6 13-8-70z"/><path class=sS d="M742 1094l7 78-6 14-7-77z"/><path class=sX d="M734 1008l8 86-6 15-8-84z"/><path class=sS d="M2029 700l8-88-6-21-8 90z"/><path class=sO d="M2021 782l8-82-6-19-8 83z"/><path class=sK d="M2013 857l8-75-6-18-8 76z"/><path class=sG d="M2005 925l8-68-6-17-8 69z"/><path class=sD d="M1998 987l7-62-6-16-7 64z"/><path class=sA d="M1990 1045l8-58-6-14-8 58z"/><path class=sx d="M1982 1097l8-52-6-14-8 53z"/><path class=sv d="M1974 1144l8-47-6-13-8 49z"/><path class=ss d="M1966 1188l8-44-6-11-8 44z"/><path class=sq d="M1959 1227l7-39-6-11-7 40z"/><path class=sp d="M1951 1263l8-36-6-10-8 37z"/><path class=sn d="M1943 1296l8-33-6-9-8 33z"/><path class=sl d="M1935 1325l8-29-6-9-8 30z"/><path class=sk d="M1927 1352l8-27-6-8-8 27z"/><path class=sj d="M1920 1377l7-25-6-8-7 25z"/><path class=si d="M1912 1399l8-22-6-8-8 23z"/><path class=sh d="M1904 1419l8-20-6-7-8 20z"/><path class=sg d="M1896 1437l8-18-6-7-8 19z"/><path class=sf d="M1888 1454l8-17-6-6-8 17z"/><path class=se d="M1873 1482l15-28-6-6-15 29z"/><path class=sd d="M1857 1506l16-24-6-5-16 24z"/><path class=sc d="M1834 1534l23-28-6-5-23 28z"/><path class=sb d="M1802 1561l16-13 16-14-6-5-16 15-16 13z"/><path class=sa d="M974 1821l24 0 23-2 31-7 32-8 507-158 86-27 55-21 39-18 31-19-6-4-31 20-39 18-47 18-78 25-524 163-31 8-31 7-23 3-24 0z"/><path class=sc d="M927 1806l16 8-6-2-16-7z"/><path class=sd d="M912 1795l15 11-6-1-15-11z"/><path class=se d="M896 1779l16 16-6-1-16-16z"/><path class=sf d="M888 1768l8 11-6-1-8-10z"/><path class=sg d="M880 1756l8 12-6 0-8-11z"/><path class=sh d="M873 1743l7 13-6 1-7-14z"/><path class=si d="M865 1727l8 16-6 0-8-15z"/><path class=sj d="M857 1709l8 18-6 1-8-17z"/><path class=sk d="M849 1689l8 20-6 2-8-20z"/><path class=sl d="M841 1667l8 22-6 2-8-22z"/><path class=sn d="M833 1641l8 26-6 2-8-25z"/><path class=sp d="M826 1612l7 29-6 3-7-28z"/><path class=sr d="M818 1580l8 32-6 4-8-31z"/><path class=st d="M810 1544l8 36-6 5-8-35z"/><path class=sv d="M802 1505l8 39-6 6-8-39z"/><path class=sy d="M794 1460l8 45-6 6-8-43z"/><path class=sA d="M787 1411l7 49-6 8-7-48z"/><path class=sE d="M779 1357l8 54-6 9-8-53z"/><path class=sH d="M771 1297l8 60-6 10-8-59z"/><path class=sL d="M763 1232l8 65-6 11-8-65z"/><path class=sP d="M755 1159l8 73-6 11-8-71z"/><path class=sT d="M748 1079l7 80-6 13-7-78z"/><path class=sY d="M740 992l8 87-6 15-8-86z"/><path class=sR d="M2035 720l8-87-6-21-8 88z"/><path class=sN d="M2027 800l8-80-6-20-8 82z"/><path class=sJ d="M2019 873l8-73-6-18-8 75z"/><path class=sG d="M2012 941l7-68-6-16-8 68z"/><path class=sC d="M2004 1002l8-61-7-16-7 62z"/><path class=sz d="M1996 1058l8-56-6-15-8 58z"/><path class=sx d="M1988 1109l8-51-6-13-8 52z"/><path class=su d="M1980 1156l8-47-6-12-8 47z"/><path class=ss d="M1972 1199l8-43-6-12-8 44z"/><path class=sq d="M1965 1237l7-38-6-11-7 39z"/><path class=so d="M1957 1273l8-36-6-10-8 36z"/><path class=sn d="M1949 1305l8-32-6-10-8 33z"/><path class=sl d="M1941 1334l8-29-6-9-8 29z"/><path class=sk d="M1933 1360l8-26-6-9-8 27z"/><path class=sj d="M1926 1384l7-24-6-8-7 25z"/><path class=sh d="M1910 1426l16-42-6-7-16 42z"/><path class=sg d="M1902 1444l8-18-6-7-8 18z"/><path class=sf d="M1894 1460l8-16-6-7-8 17z"/><path class=se d="M1879 1488l15-28-6-6-15 28z"/><path class=sd d="M1863 1511l16-23-6-6-16 24z"/><path class=sc d="M1840 1538l23-27-6-5-23 28z"/><path class=sb d="M1808 1564l16-12 16-14-6-4-16 14-16 13z"/><path class=sa d="M988 1824l23 0 24-4 62-15 524-163 70-23 47-17 39-18 31-20-6-3-31 19-31 15-47 18-70 23-532 166-62 15-24 4-23 1z"/><path class=sc d="M933 1808l16 8-6-2-16-8z"/><path class=sd d="M918 1796l15 12-6-2-15-11z"/><path class=se d="M902 1779l16 17-6-1-16-16z"/><path class=sf d="M894 1768l8 11-6 0-8-11z"/><path class=sg d="M886 1756l8 12-6 0-8-12z"/><path class=sh d="M879 1742l7 14-6 0-7-13z"/><path class=si d="M871 1726l8 16-6 1-8-16z"/><path class=sj d="M863 1708l8 18-6 1-8-18z"/><path class=sk d="M855 1687l8 21-6 1-8-20z"/><path class=sm d="M847 1664l8 23-6 2-8-22z"/><path class=sn d="M840 1638l7 26-6 3-8-26z"/><path class=sp d="M832 1609l8 29-7 3-7-29z"/><path class=sr d="M824 1576l8 33-6 3-8-32z"/><path class=st d="M816 1539l8 37-6 4-8-36z"/><path class=sv d="M808 1499l8 40-6 5-8-39z"/><path class=sy d="M800 1453l8 46-6 6-8-45z"/><path class=sB d="M793 1403l7 50-6 7-7-49z"/><path class=sE d="M785 1348l8 55-6 8-8-54z"/><path class=sI d="M777 1287l8 61-6 9-8-60z"/><path class=sM d="M769 1220l8 67-6 10-8-65z"/><path class=sQ d="M761 1146l8 74-6 12-8-73z"/><path class=sU d="M754 1065l7 81-6 13-7-80z"/><path class=sZ d="M746 977l8 88-6 14-8-87z"/><path class=sQ d="M2041 740l8-86-6-21-8 87z"/><path class=sM d="M2033 819l8-79-6-20-8 80z"/><path class=sI d="M2025 891l8-72-6-19-8 73z"/><path class=sF d="M2018 957l7-66-6-18-7 68z"/><path class=sC d="M2010 1017l8-60-6-16-8 61z"/><path class=sz d="M2002 1072l8-55-6-15-8 56z"/><path class=sw d="M1994 1122l8-50-6-14-8 51z"/><path class=su d="M1986 1168l8-46-6-13-8 47z"/><path class=ss d="M1978 1210l8-42-6-12-8 43z"/><path class=sq d="M1971 1248l7-38-6-11-7 38z"/><path class=so d="M1963 1283l8-35-6-11-8 36z"/><path class=sm d="M1955 1314l8-31-6-10-8 32z"/><path class=sl d="M1947 1342l8-28-6-9-8 29z"/><path class=sj d="M1939 1368l8-26-6-8-8 26z"/><path class=si d="M1932 1392l7-24-6-8-7 24z"/><path class=sh d="M1924 1413l8-21-6-8-8 22z"/><path class=sg d="M1916 1432l8-19-6-7-8 20z"/><path class=sf d="M1900 1466l16-34-6-6-16 34z"/><path class=se d="M1893 1480l7-14-6-6-8 14z"/><path class=sd d="M1869 1516l24-36-7-6-23 37z"/><path class=sc d="M1853 1534l16-18-6-5-16 19z"/><path class=sb d="M1814 1568l24-18 15-16-6-4-15 15-24 19z"/><path class=sa d="M994 1827l23-1 24-3 31-7 31-8 500-155 86-28 55-20 39-18 31-19-6-4-31 20-39 18-47 17-70 23-524 163-62 15-24 4-23 0z"/><path class=sc d="M939 1809l24 12-6-2-24-11z"/><path class=sd d="M924 1797l15 12-6-1-15-12z"/><path class=se d="M908 1780l16 17-6-1-16-17z"/><path class=sf d="M900 1769l8 11-6-1-8-11z"/><path class=sg d="M892 1756l8 13-6-1-8-12z"/><path class=sh d="M885 1742l7 14-6 0-7-14z"/><path class=si d="M877 1725l8 17-6 0-8-16z"/><path class=sj d="M869 1707l8 18-6 1-8-18z"/><path class=sl d="M861 1685l8 22-6 1-8-21z"/><path class=sm d="M853 1662l8 23-6 2-8-23z"/><path class=so d="M846 1635l7 27-6 2-7-26z"/><path class=sp d="M838 1605l8 30-6 3-8-29z"/><path class=sr d="M830 1572l8 33-6 4-8-33z"/><path class=su d="M822 1534l8 38-6 4-8-37z"/><path class=sw d="M814 1493l8 41-6 5-8-40z"/><path class=sz d="M806 1447l8 46-6 6-8-46z"/><path class=sC d="M799 1396l7 51-6 6-7-50z"/><path class=sF d="M791 1340l8 56-6 7-8-55z"/><path class=sI d="M783 1278l8 62-6 8-8-61z"/><path class=sM d="M775 1209l8 69-6 9-8-67z"/><path class=sR d="M767 1134l8 75-6 11-8-74z"/><path class=sV d="M760 1052l7 82-6 12-7-81z"/><path class=sba d="M752 962l8 90-6 13-8-88z"/><path class=sQ d="M2047 760l8-84-6-22-8 86z"/><path class=sL d="M2039 838l8-78-6-20-8 79z"/><path class=sI d="M2031 908l8-70-6-19-8 72z"/><path class=sE d="M2024 973l7-65-6-17-7 66z"/><path class=sB d="M2016 1032l8-59-6-16-8 60z"/><path class=sy d="M2008 1086l8-54-6-15-8 55z"/><path class=sw d="M2000 1136l8-50-6-14-8 50z"/><path class=st d="M1992 1181l8-45-6-14-8 46z"/><path class=sr d="M1984 1221l8-40-6-13-8 42z"/><path class=sp d="M1977 1259l7-38-6-11-7 38z"/><path class=sn d="M1969 1293l8-34-6-11-8 35z"/><path class=sm d="M1961 1323l8-30-6-10-8 31z"/><path class=sk d="M1953 1351l8-28-6-9-8 28z"/><path class=sj d="M1945 1377l8-26-6-9-8 26z"/><path class=si d="M1938 1400l7-23-6-9-7 24z"/><path class=sh d="M1930 1420l8-20-6-8-8 21z"/><path class=sg d="M1922 1439l8-19-6-7-8 19z"/><path class=sf d="M1906 1472l16-33-6-7-16 34z"/><path class=se d="M1899 1486l7-14-6-6-7 14z"/><path class=sd d="M1883 1510l16-24-6-6-16 25z"/><path class=sc d="M1859 1539l24-29-6-5-24 29z"/><path class=sb d="M1820 1572l24-18 15-15-6-5-15 16-24 18z"/><path class=sa d="M1000 1829l23 0 24-3 31-6 31-9 461-143 110-34 62-22 47-21 31-19-6-4-31 19-39 18-55 20-86 28-500 155-31 8-31 7-24 3-23 1z"/><path class=sc d="M945 1811l24 12-6-2-24-12z"/><path class=sd d="M930 1798l15 13-6-2-15-12z"/><path class=se d="M922 1790l8 8-6-1-8-8z"/><path class=sf d="M906 1769l16 21-6-1-16-20z"/><path class=sg d="M898 1756l8 13-6 0-8-13z"/><path class=sh d="M891 1741l7 15-6 0-7-14z"/><path class=si d="M883 1725l8 16-6 1-8-17z"/><path class=sj d="M875 1705l8 20-6 0-8-18z"/><path class=sl d="M867 1684l8 21-6 2-8-22z"/><path class=sm d="M859 1660l8 24-6 1-8-23z"/><path class=so d="M852 1632l7 28-6 2-7-27z"/><path class=sq d="M844 1602l8 30-6 3-8-30z"/><path class=ss d="M836 1568l8 34-6 3-8-33z"/><path class=su d="M828 1530l8 38-6 4-8-38z"/><path class=sw d="M820 1487l8 43-6 4-8-41z"/><path class=sz d="M812 1441l8 46-6 6-8-46z"/><path class=sC d="M805 1389l7 52-6 6-7-51z"/><path class=sF d="M797 1331l8 58-6 7-8-56z"/><path class=sJ d="M789 1268l8 63-6 9-8-62z"/><path class=sN d="M781 1199l8 69-6 10-8-69z"/><path class=sR d="M773 1123l8 76-6 10-8-75z"/><path class=sW d="M766 1039l7 84-6 11-7-82z"/><path class=sbb d="M758 947l8 92-6 13-8-90z"/><path class=sP d="M2053 781l8-82-6-23-8 84z"/><path class=sL d="M2045 857l8-76-6-21-8 78z"/><path class=sH d="M2037 926l8-69-6-19-8 70z"/><path class=sD d="M2030 990l7-64-6-18-7 65z"/><path class=sA d="M2022 1048l8-58-6-17-8 59z"/><path class=sy d="M2014 1101l8-53-6-16-8 54z"/><path class=sv d="M2006 1149l8-48-6-15-8 50z"/><path class=st d="M1998 1193l8-44-6-13-8 45z"/><path class=sr d="M1991 1233l7-40-6-12-8 40z"/><path class=sp d="M1983 1270l8-37-7-12-7 38z"/><path class=sn d="M1975 1303l8-33-6-11-8 34z"/><path class=sm d="M1967 1333l8-30-6-10-8 30z"/><path class=sk d="M1959 1360l8-27-6-10-8 28z"/><path class=sj d="M1951 1385l8-25-6-9-8 26z"/><path class=si d="M1944 1407l7-22-6-8-7 23z"/><path class=sh d="M1936 1428l8-21-6-7-8 20z"/><path class=sg d="M1928 1446l8-18-6-8-8 19z"/><path class=sf d="M1920 1463l8-17-6-7-8 17z"/><path class=se d="M1905 1492l15-29-6-7-15 30z"/><path class=sd d="M1889 1515l16-23-6-6-16 24z"/><path class=sc d="M1866 1544l23-29-6-5-24 29z"/><path class=sb d="M1834 1571l16-13 16-14-7-5-15 15-16 13z"/><path class=sa d="M1006 1832l23 0 24-3 31-6 31-9 500-155 86-27 55-20 47-22 31-19-6-4-31 20-39 18-47 18-78 26-524 162-31 9-31 6-24 3-23 0z"/><path class=sc d="M951 1813l24 12-6-2-24-12z"/><path class=sd d="M936 1799l15 14-6-2-15-13z"/><path class=se d="M928 1791l8 8-6-1-8-8z"/><path class=sf d="M920 1781l8 10-6-1-8-10z"/><path class=sg d="M904 1756l16 25-6-1-16-24z"/><path class=sh d="M897 1741l7 15-6 0-7-15z"/><path class=si d="M889 1724l8 17-6 0-8-16z"/><path class=sk d="M881 1705l8 19-6 1-8-20z"/><path class=sl d="M873 1683l8 22-6 0-8-21z"/><path class=sn d="M865 1658l8 25-6 1-8-24z"/><path class=so d="M858 1630l7 28-6 2-7-28z"/><path class=sq d="M850 1599l8 31-6 2-8-30z"/><path class=ss d="M842 1564l8 35-6 3-8-34z"/><path class=su d="M834 1525l8 39-6 4-8-38z"/><path class=sx d="M826 1482l8 43-6 5-8-43z"/><path class=sA d="M819 1435l7 47-6 5-8-46z"/><path class=sD d="M811 1382l8 53-7 6-7-52z"/><path class=sG d="M803 1324l8 58-6 7-8-58z"/><path class=sK d="M795 1260l8 64-6 7-8-63z"/><path class=sO d="M787 1189l8 71-6 8-8-69z"/><path class=sS d="M779 1112l8 77-6 10-8-76z"/><path class=sX d="M772 1027l7 85-6 11-7-84z"/><path class=sbc d="M764 934l8 93-6 12-8-92z"/><path class=sO d="M2059 802l8-81-6-22-8 82z"/><path class=sK d="M2051 877l8-75-6-21-8 76z"/><path class=sG d="M2043 945l8-68-6-20-8 69z"/><path class=sD d="M2036 1007l7-62-6-19-7 64z"/><path class=sA d="M2028 1064l8-57-6-17-8 58z"/><path class=sx d="M2020 1116l8-52-6-16-8 53z"/><path class=su d="M2012 1163l8-47-6-15-8 48z"/><path class=ss d="M2004 1206l8-43-6-14-8 44z"/><path class=sq d="M1997 1245l7-39-6-13-7 40z"/><path class=so d="M1989 1281l8-36-6-12-8 37z"/><path class=sn d="M1981 1313l8-32-6-11-8 33z"/><path class=sl d="M1973 1342l8-29-6-10-8 30z"/><path class=sk d="M1965 1369l8-27-6-9-8 27z"/><path class=sj d="M1957 1393l8-24-6-9-8 25z"/><path class=si d="M1950 1415l7-22-6-8-7 22z"/><path class=sh d="M1942 1435l8-20-6-8-8 21z"/><path class=sg d="M1934 1453l8-18-6-7-8 18z"/><path class=sf d="M1926 1469l8-16-6-7-8 17z"/><path class=se d="M1911 1498l15-29-6-6-15 29z"/><path class=sd d="M1895 1521l16-23-6-6-16 23z"/><path class=sc d="M1872 1548l23-27-6-6-23 29z"/><path class=sb d="M1840 1575l16-12 16-15-6-4-16 14-16 13z"/><path class=sa d="M1012 1835l24 0 23-3 31-6 31-8 461-143 118-38 62-22 47-21 31-19-6-4-31 19-47 22-55 20-86 27-500 155-31 9-31 6-24 3-23 0z"/><path class=sc d="M965 1820l16 8-6-3-16-7z"/><path class=sd d="M950 1808l15 12-6-2-15-11z"/><path class=se d="M934 1792l16 16-6-1-16-16z"/><path class=sf d="M926 1782l8 10-6-1-8-10z"/><path class=sg d="M918 1770l8 12-6-1-8-11z"/><path class=sh d="M910 1757l8 13-6 0-8-14z"/><path class=si d="M903 1741l7 16-6-1-7-15z"/><path class=sj d="M895 1724l8 17-6 0-8-17z"/><path class=sk d="M887 1704l8 20-6 0-8-19z"/><path class=sl d="M879 1681l8 23-6 1-8-22z"/><path class=sn d="M871 1656l8 25-6 2-8-25z"/><path class=sp d="M864 1628l7 28-6 2-7-28z"/><path class=sq d="M856 1596l8 32-6 2-8-31z"/><path class=ss d="M848 1561l8 35-6 3-8-35z"/><path class=sv d="M840 1521l8 40-6 3-8-39z"/><path class=sx d="M832 1478l8 43-6 4-8-43z"/><path class=sA d="M825 1429l7 49-6 4-7-47z"/><path class=sD d="M817 1376l8 53-6 6-8-53z"/><path class=sH d="M809 1317l8 59-6 6-8-58z"/><path class=sK d="M801 1251l8 66-6 7-8-64z"/><path class=sP d="M793 1180l8 71-6 9-8-71z"/><path class=sT d="M785 1101l8 79-6 9-8-77z"/><path class=sY d="M778 1015l7 86-6 11-7-85z"/><path class=sbd d="M770 921l8 94-6 12-8-93z"/><path class=sN d="M2065 824l8-80-6-23-8 81z"/><path class=sJ d="M2057 897l8-73-6-22-8 75z"/><path class=sF d="M2049 963l8-66-6-20-8 68z"/><path class=sC d="M2042 1024l7-61-6-18-7 62z"/><path class=sz d="M2034 1080l8-56-6-17-8 57z"/><path class=sw d="M2026 1130l8-50-6-16-8 52z"/><path class=su d="M2018 1177l8-47-6-14-8 47z"/><path class=ss d="M2010 1219l8-42-6-14-8 43z"/><path class=sq d="M2003 1257l7-38-6-13-7 39z"/><path class=so d="M1995 1292l8-35-6-12-8 36z"/><path class=sm d="M1987 1323l8-31-6-11-8 32z"/><path class=sl d="M1979 1352l8-29-6-10-8 29z"/><path class=sk d="M1971 1378l8-26-6-10-8 27z"/><path class=si d="M1963 1402l8-24-6-9-8 24z"/><path class=sh d="M1956 1423l7-21-6-9-7 22z"/><path class=sg d="M1940 1460l16-37-6-8-16 38z"/><path class=sf d="M1932 1476l8-16-6-7-8 16z"/><path class=se d="M1917 1504l15-28-6-7-15 29z"/><path class=sd d="M1901 1526l16-22-6-6-16 23z"/><path class=sc d="M1885 1545l16-19-6-5-16 19z"/><path class=sb d="M1846 1579l24-19 15-15-6-5-15 16-24 19z"/><path class=sa d="M1026 1838l23-1 24-3 62-15 493-153 93-31 55-20 39-17 31-19-6-4-31 19-39 18-47 18-78 25-516 160-62 16-24 3-23 1z"/><path class=sb d="M987 1830l15 5 24 3-6-3-24-3-15-4z"/><path class=sc d="M971 1822l16 8-6-2-16-8z"/><path class=sd d="M956 1810l15 12-6-2-15-12z"/><path class=se d="M940 1793l16 17-6-2-16-16z"/><path class=sf d="M932 1783l8 10-6-1-8-10z"/><path class=sg d="M924 1771l8 12-6-1-8-12z"/><path class=sh d="M917 1757l7 14-6-1-8-13z"/><path class=si d="M909 1741l8 16-7 0-7-16z"/><path class=sj d="M901 1724l8 17-6 0-8-17z"/><path class=sk d="M893 1703l8 21-6 0-8-20z"/><path class=sm d="M885 1680l8 23-6 1-8-23z"/><path class=sn d="M877 1655l8 25-6 1-8-25z"/><path class=sp d="M870 1626l7 29-6 1-7-28z"/><path class=sr d="M862 1594l8 32-6 2-8-32z"/><path class=st d="M854 1558l8 36-6 2-8-35z"/><path class=sv d="M846 1518l8 40-6 3-8-40z"/><path class=sy d="M838 1473l8 45-6 3-8-43z"/><path class=sB d="M831 1424l7 49-6 5-7-49z"/><path class=sE d="M823 1370l8 54-6 5-8-53z"/><path class=sH d="M815 1310l8 60-6 6-8-59z"/><path class=sL d="M807 1244l8 66-6 7-8-66z"/><path class=sP d="M799 1171l8 73-6 7-8-71z"/><path class=sU d="M792 1091l7 80-6 9-8-79z"/><path class=sZ d="M784 1004l8 87-7 10-7-86z"/><path class=sbe d="M776 908l8 96-6 11-8-94z"/><path class=sM d="M2071 846l8-78-6-24-8 80z"/><path class=sI d="M2063 917l8-71-6-22-8 73z"/><path class=sE d="M2055 982l8-65-6-20-8 66z"/><path class=sB d="M2048 1042l7-60-6-19-7 61z"/><path class=sy d="M2040 1096l8-54-6-18-8 56z"/><path class=sw d="M2032 1145l8-49-6-16-8 50z"/><path class=st d="M2024 1191l8-46-6-15-8 47z"/><path class=sr d="M2016 1232l8-41-6-14-8 42z"/><path class=sp d="M2009 1269l7-37-6-13-7 38z"/><path class=sn d="M2001 1303l8-34-6-12-8 35z"/><path class=sm d="M1993 1334l8-31-6-11-8 31z"/><path class=sk d="M1985 1362l8-28-6-11-8 29z"/><path class=sj d="M1977 1387l8-25-6-10-8 26z"/><path class=si d="M1970 1410l7-23-6-9-8 24z"/><path class=sh d="M1962 1431l8-21-7-8-7 21z"/><path class=sg d="M1954 1450l8-19-6-8-8 20z"/><path class=sf d="M1938 1483l16-33-6-7-16 33z"/><path class=se d="M1930 1497l8-14-6-7-8 14z"/><path class=sd d="M1915 1521l15-24-6-7-15 25z"/><path class=sc d="M1891 1550l24-29-6-6-24 30z"/><path class=sb d="M1852 1583l24-18 15-15-6-5-15 15-24 19z"/><path class=sa d="M1032 1841l23-1 24-3 62-15 453-141 118-37 62-22 47-21 31-18-6-4-31 19-39 17-55 20-93 31-493 153-62 15-24 3-23 1z"/><path class=sc d="M977 1824l24 11-6-2-24-11z"/><path class=sd d="M962 1812l15 12-6-2-15-12z"/><path class=se d="M946 1795l16 17-6-2-16-17z"/><path class=sf d="M938 1784l8 11-6-2-8-10z"/><path class=sg d="M930 1772l8 12-6-1-8-12z"/><path class=sh d="M923 1758l7 14-6-1-7-14z"/><path class=si d="M915 1742l8 16-6-1-8-16z"/><path class=sj d="M907 1724l8 18-6-1-8-17z"/><path class=sk d="M899 1703l8 21-6 0-8-21z"/><path class=sm d="M891 1680l8 23-6 0-8-23z"/><path class=sn d="M883 1654l8 26-6 0-8-25z"/><path class=sp d="M876 1624l7 30-6 1-7-29z"/><path class=sr d="M868 1592l8 32-6 2-8-32z"/><path class=st d="M860 1555l8 37-6 2-8-36z"/><path class=sw d="M852 1514l8 41-6 3-8-40z"/><path class=sy d="M844 1469l8 45-6 4-8-45z"/><path class=sB d="M837 1420l7 49-6 4-7-49z"/><path class=sE d="M829 1364l8 56-6 4-8-54z"/><path class=sI d="M821 1304l8 60-6 6-8-60z"/><path class=sM d="M813 1237l8 67-6 6-8-66z"/><path class=sQ d="M805 1163l8 74-6 7-8-73z"/><path class=sU d="M798 1082l7 81-6 8-7-80z"/><path class=sZ d="M790 994l8 88-6 9-8-87z"/><path class=sbf d="M782 897l8 97-6 10-8-96z"/><path class=sL d="M2077 868l8-76-6-24-8 78z"/><path class=sH d="M2069 937l8-69-6-22-8 71z"/><path class=sD d="M2061 1001l8-64-6-20-8 65z"/><path class=sA d="M2054 1059l7-58-6-19-7 60z"/><path class=sy d="M2046 1112l8-53-6-17-8 54z"/><path class=sv d="M2038 1161l8-49-6-16-8 49z"/><path class=st d="M2030 1205l8-44-6-16-8 46z"/><path class=sr d="M2022 1245l8-40-6-14-8 41z"/><path class=sp d="M2015 1281l7-36-6-13-7 37z"/><path class=sn d="M2007 1314l8-33-6-12-8 34z"/><path class=sl d="M1999 1345l8-31-6-11-8 31z"/><path class=sk d="M1991 1372l8-27-6-11-8 28z"/><path class=sj d="M1983 1397l8-25-6-10-8 25z"/><path class=si d="M1976 1419l7-22-6-10-7 23z"/><path class=sh d="M1968 1439l8-20-6-9-8 21z"/><path class=sg d="M1960 1458l8-19-6-8-8 19z"/><path class=sf d="M1952 1474l8-16-6-8-8 17z"/><path class=se d="M1936 1503l16-29-6-7-16 30z"/><path class=sd d="M1921 1527l15-24-6-6-15 24z"/><path class=sc d="M1897 1554l24-27-6-6-24 29z"/><path class=sb d="M1866 1581l16-12 15-15-6-4-15 15-16 12z"/><path class=sa d="M1038 1844l23-1 24-3 31-7 31-8 493-153 93-30 55-20 47-21 31-20-6-4-31 20-39 19-47 17-86 29-516 160-62 15-24 3-23 1z"/><path class=sc d="M983 1826l24 12-6-3-24-11z"/><path class=sd d="M968 1814l15 12-6-2-15-12z"/><path class=se d="M952 1796l16 18-6-2-16-17z"/><path class=sf d="M944 1786l8 10-6-1-8-11z"/><path class=sg d="M936 1773l8 13-6-2-8-12z"/><path class=sh d="M929 1759l7 14-6-1-7-14z"/><path class=si d="M921 1742l8 17-6-1-8-16z"/><path class=sj d="M913 1724l8 18-6 0-8-18z"/><path class=sk d="M905 1703l8 21-6 0-8-21z"/><path class=sm d="M897 1679l8 24-6 0-8-23z"/><path class=so d="M889 1653l8 26-6 1-8-26z"/><path class=sp d="M882 1623l7 30-6 1-7-30z"/><path class=sr d="M874 1590l8 33-6 1-8-32z"/><path class=st d="M866 1553l8 37-6 2-8-37z"/><path class=sw d="M858 1512l8 41-6 2-8-41z"/><path class=sz d="M850 1466l8 46-6 2-8-45z"/><path class=sB d="M843 1415l7 51-6 3-7-49z"/><path class=sF d="M835 1360l8 55-6 5-8-56z"/><path class=sI d="M827 1298l8 62-6 4-8-60z"/><path class=sM d="M819 1230l8 68-6 6-8-67z"/><path class=sQ d="M811 1156l8 74-6 7-8-74z"/><path class=sV d="M804 1074l7 82-6 7-7-81z"/><path class=sba d="M796 984l8 90-6 8-8-88z"/><path class=sbg d="M788 886l8 98-6 10-8-97z"/><path class=sJ d="M2083 890l8-74-6-24-8 76z"/><path class=sG d="M2075 958l8-68-6-22-8 69z"/><path class=sD d="M2068 1020l7-62-6-21-8 64z"/><path class=sA d="M2060 1077l8-57-7-19-7 58z"/><path class=sx d="M2052 1129l8-52-6-18-8 53z"/><path class=su d="M2044 1176l8-47-6-17-8 49z"/><path class=ss d="M2036 1219l8-43-6-15-8 44z"/><path class=sq d="M2028 1258l8-39-6-14-8 40z"/><path class=so d="M2021 1294l7-36-6-13-7 36z"/><path class=sn d="M2013 1326l8-32-6-13-8 33z"/><path class=sl d="M2005 1355l8-29-6-12-8 31z"/><path class=sk d="M1997 1382l8-27-6-10-8 27z"/><path class=sj d="M1989 1406l8-24-6-10-8 25z"/><path class=sh d="M1982 1428l7-22-6-9-7 22z"/><path class=sg d="M1966 1465l16-37-6-9-16 39z"/><path class=sf d="M1958 1481l8-16-6-7-8 16z"/><path class=se d="M1942 1509l16-28-6-7-16 29z"/><path class=sd d="M1927 1532l15-23-6-6-15 24z"/><path class=sc d="M1911 1551l16-19-6-5-16 19z"/><path class=sb d="M1872 1586l24-19 15-16-6-5-15 16-24 19z"/><path class=sa d="M1044 1846l23 0 24-3 31-6 31-9 454-140 117-38 62-21 47-20 24-13 15-10-6-5-31 20-47 21-55 20-93 30-493 153-31 8-31 7-24 3-23 1z"/><path class=sc d="M989 1828l24 12-6-2-24-12z"/><path class=sd d="M974 1816l15 12-6-2-15-12z"/><path class=se d="M966 1808l8 8-6-2-8-8z"/><path class=sf d="M950 1787l16 21-6-2-16-20z"/><path class=sg d="M942 1774l8 13-6-1-8-13z"/><path class=sh d="M935 1760l7 14-6-1-7-14z"/><path class=si d="M927 1743l8 17-6-1-8-17z"/><path class=sj d="M919 1724l8 19-6-1-8-18z"/><path class=sl d="M911 1703l8 21-6 0-8-21z"/><path class=sm d="M903 1679l8 24-6 0-8-24z"/><path class=so d="M896 1652l7 27-6 0-8-26z"/><path class=sq d="M888 1622l8 30-7 1-7-30z"/><path class=ss d="M880 1588l8 34-6 1-8-33z"/><path class=su d="M872 1551l8 37-6 2-8-37z"/><path class=sw d="M864 1509l8 42-6 2-8-41z"/><path class=sz d="M856 1463l8 46-6 3-8-46z"/><path class=sC d="M849 1412l7 51-6 3-7-51z"/><path class=sF d="M841 1355l8 57-6 3-8-55z"/><path class=sJ d="M833 1293l8 62-6 5-8-62z"/><path class=sN d="M825 1224l8 69-6 5-8-68z"/><path class=sR d="M817 1149l8 75-6 6-8-74z"/><path class=sW d="M810 1066l7 83-6 7-7-82z"/><path class=sbb d="M802 975l8 91-6 8-8-90z"/><path class=sbg d="M794 876l8 99-6 9-8-98z"/><path class=sI d="M2089 912l8-72-6-24-8 74z"/><path class=sF d="M2081 979l8-67-6-22-8 68z"/><path class=sC d="M2074 1039l7-60-6-21-7 62z"/><path class=sz d="M2066 1095l8-56-6-19-8 57z"/><path class=sw d="M2058 1145l8-50-6-18-8 52z"/><path class=su d="M2050 1191l8-46-6-16-8 47z"/><path class=sr d="M2042 1233l8-42-6-15-8 43z"/><path class=sp d="M2034 1271l8-38-6-14-8 39z"/><path class=so d="M2027 1306l7-35-6-13-7 36z"/><path class=sm d="M2019 1337l8-31-6-12-8 32z"/><path class=sl d="M2011 1366l8-29-6-11-8 29z"/><path class=sj d="M2003 1392l8-26-6-11-8 27z"/><path class=si d="M1995 1415l8-23-6-10-8 24z"/><path class=sh d="M1988 1436l7-21-6-9-7 22z"/><path class=sg d="M1980 1455l8-19-6-8-8 19z"/><path class=sf d="M1964 1489l16-34-6-8-16 34z"/><path class=se d="M1956 1503l8-14-6-8-8 15z"/><path class=sd d="M1941 1527l15-24-6-7-15 25z"/><path class=sc d="M1917 1556l24-29-6-6-24 30z"/><path class=sb d="M1878 1590l24-19 15-15-6-5-15 16-24 19z"/><path class=sa d="M1050 1849l23 0 24-3 55-12 78-24 336-104 156-50 70-24 47-20 24-12 15-10-6-4-15 10-24 13-47 20-62 21-117 38-454 140-31 9-31 6-24 3-23 0z"/><path class=sc d="M995 1831l24 12-6-3-24-12z"/><path class=sd d="M980 1818l15 13-6-3-15-12z"/><path class=se d="M972 1810l8 8-6-2-8-8z"/><path class=sf d="M956 1789l16 21-6-2-16-21z"/><path class=sg d="M948 1776l8 13-6-2-8-13z"/><path class=sh d="M941 1761l7 15-6-2-7-14z"/><path class=si d="M933 1744l8 17-6-1-8-17z"/><path class=sj d="M925 1725l8 19-6-1-8-19z"/><path class=sl d="M917 1704l8 21-6-1-8-21z"/><path class=sm d="M909 1679l8 25-6-1-8-24z"/><path class=so d="M902 1652l7 27-6 0-7-27z"/><path class=sq d="M894 1621l8 31-6 0-8-30z"/><path class=ss d="M886 1587l8 34-6 1-8-34z"/><path class=su d="M878 1549l8 38-6 1-8-37z"/><path class=sw d="M870 1507l8 42-6 2-8-42z"/><path class=sz d="M862 1460l8 47-6 2-8-46z"/><path class=sC d="M855 1408l7 52-6 3-7-51z"/><path class=sG d="M847 1351l8 57-6 4-8-57z"/><path class=sJ d="M839 1288l8 63-6 4-8-62z"/><path class=sN d="M831 1219l8 69-6 5-8-69z"/><path class=sR d="M823 1143l8 76-6 5-8-75z"/><path class=sW d="M816 1059l7 84-6 6-7-83z"/><path class=sbb d="M808 967l8 92-6 7-8-91z"/><path class=sbh d="M800 867l8 100-6 8-8-99z"/><path class=sH d="M2095 935l8-71-6-24-8 72z"/><path class=sE d="M2087 1000l8-65-6-23-8 67z"/><path class=sB d="M2080 1059l7-59-6-21-7 60z"/><path class=sy d="M2072 1113l8-54-6-20-8 56z"/><path class=sv d="M2064 1162l8-49-6-18-8 50z"/><path class=st d="M2056 1207l8-45-6-17-8 46z"/><path class=sr d="M2048 1248l8-41-6-16-8 42z"/><path class=sp d="M2040 1285l8-37-6-15-8 38z"/><path class=sn d="M2033 1318l7-33-6-14-7 35z"/><path class=sm d="M2025 1349l8-31-6-12-8 31z"/><path class=sk d="M2017 1377l8-28-6-12-8 29z"/><path class=sj d="M2009 1402l8-25-6-11-8 26z"/><path class=si d="M2001 1424l8-22-6-10-8 23z"/><path class=sh d="M1994 1445l7-21-6-9-7 21z"/><path class=sg d="M1986 1464l8-19-6-9-8 19z"/><path class=sf d="M1978 1480l8-16-6-9-8 18z"/><path class=se d="M1962 1509l16-29-6-7-16 30z"/><path class=sd d="M1947 1533l15-24-6-6-15 24z"/><path class=sc d="M1923 1561l24-28-6-6-24 29z"/><path class=sb d="M1892 1588l16-12 15-15-6-5-15 15-16 13z"/><path class=sa d="M1056 1852l23 0 24-3 31-6 31-8 454-141 125-40 62-22 47-20 23-13 16-11-6-4-31 20-47 22-55 20-101 33-493 152-31 9-31 6-24 3-23 0z"/><path class=sc d="M1001 1833l24 13-6-3-24-12z"/><path class=sd d="M986 1820l15 13-6-2-15-13z"/><path class=se d="M978 1812l8 8-6-2-8-8z"/><path class=sf d="M962 1791l16 21-6-2-16-21z"/><path class=sg d="M954 1777l8 14-6-2-8-13z"/><path class=sh d="M947 1762l7 15-6-1-7-15z"/><path class=si d="M939 1745l8 17-6-1-8-17z"/><path class=sk d="M931 1726l8 19-6-1-8-19z"/><path class=sl d="M923 1704l8 22-6-1-8-21z"/><path class=sm d="M915 1680l8 24-6 0-8-25z"/><path class=so d="M908 1652l7 28-6-1-7-27z"/><path class=sq d="M900 1621l8 31-6 0-8-31z"/><path class=ss d="M892 1587l8 34-6 0-8-34z"/><path class=su d="M884 1548l8 39-6 0-8-38z"/><path class=sx d="M876 1505l8 43-6 1-8-42z"/><path class=sA d="M869 1458l7 47-6 2-8-47z"/><path class=sD d="M861 1406l8 52-7 2-7-52z"/><path class=sG d="M853 1348l8 58-6 2-8-57z"/><path class=sK d="M845 1284l8 64-6 3-8-63z"/><path class=sO d="M837 1214l8 70-6 4-8-69z"/><path class=sS d="M829 1137l8 77-6 5-8-76z"/><path class=sX d="M822 1053l7 84-6 6-7-84z"/><path class=sbc d="M814 960l8 93-6 6-8-92z"/><path class=sbi d="M806 859l8 101-6 7-8-100z"/><path class=sG d="M2101 957l8-69-6-24-8 71z"/><path class=sD d="M2093 1021l8-64-6-22-8 65z"/><path class=sA d="M2086 1078l7-57-6-21-7 59z"/><path class=sx d="M2078 1131l8-53-6-19-8 54z"/><path class=sv d="M2070 1179l8-48-6-18-8 49z"/><path class=ss d="M2062 1222l8-43-6-17-8 45z"/><path class=sq d="M2054 1262l8-40-6-15-8 41z"/><path class=so d="M2047 1298l7-36-6-14-8 37z"/><path class=sn d="M2039 1331l8-33-7-13-7 33z"/><path class=sl d="M2031 1360l8-29-6-13-8 31z"/><path class=sk d="M2023 1387l8-27-6-11-8 28z"/><path class=sj d="M2015 1412l8-25-6-10-8 25z"/><path class=si d="M2007 1434l8-22-6-10-8 22z"/><path class=sh d="M2000 1454l7-20-6-10-7 21z"/><path class=sg d="M1992 1472l8-18-6-9-8 19z"/><path class=sf d="M1984 1488l8-16-6-8-8 16z"/><path class=sb d="M1898 1593l16-12 15-15-6-5-15 15-16 12z"/><path class=sa d="M1062 1855l23 0 24-2 31-7 31-8 415-128 156-50 70-24 47-20 23-13 16-10-6-5-16 11-23 13-47 20-62 22-125 40-454 141-31 8-31 6-24 3-23 0z"/><path class=sc d="M1007 1836l24 13-6-3-24-13z"/><path class=sd d="M992 1823l15 13-6-3-15-13z"/><path class=se d="M984 1814l8 9-6-3-8-8z"/><path class=sf d="M976 1804l8 10-6-2-8-10z"/><path class=sg d="M960 1779l16 25-6-2-16-25z"/><path class=sh d="M953 1764l7 15-6-2-7-15z"/><path class=si d="M945 1747l8 17-6-2-8-17z"/><path class=sk d="M937 1727l8 20-6-2-8-19z"/><path class=sl d="M929 1705l8 22-6-1-8-22z"/><path class=sn d="M921 1680l8 25-6-1-8-24z"/><path class=so d="M914 1652l7 28-6 0-7-28z"/><path class=sq d="M906 1621l8 31-6 0-8-31z"/><path class=ss d="M898 1586l8 35-6 0-8-34z"/><path class=su d="M890 1547l8 39-6 1-8-39z"/><path class=sx d="M882 1504l8 43-6 1-8-43z"/><path class=sA d="M875 1456l7 48-6 1-7-47z"/><path class=sD d="M867 1404l8 52-6 2-8-52z"/><path class=sG d="M859 1345l8 59-6 2-8-58z"/><path class=sK d="M851 1281l8 64-6 3-8-64z"/><path class=sO d="M843 1210l8 71-6 3-8-70z"/><path class=sS d="M835 1132l8 78-6 4-8-77z"/><path class=sX d="M828 1047l7 85-6 5-7-84z"/><path class=sbd d="M820 954l8 93-6 6-8-93z"/><path class=sbi d="M812 851l8 103-6 6-8-101z"/><path class=sF d="M2107 980l8-67-6-25-8 69z"/><path class=sC d="M2099 1042l8-62-6-23-8 64z"/><path class=sz d="M2092 1098l7-56-6-21-7 57z"/><path class=sw d="M2084 1149l8-51-6-20-8 53z"/><path class=su d="M2076 1196l8-47-6-18-8 48z"/><path class=ss d="M2068 1238l8-42-6-17-8 43z"/><path class=sq d="M2060 1276l8-38-6-16-8 40z"/><path class=so d="M2053 1311l7-35-6-14-7 36z"/><path class=sm d="M2045 1343l8-32-6-13-8 33z"/><path class=sl d="M2037 1372l8-29-6-12-8 29z"/><path class=sj d="M2029 1398l8-26-6-12-8 27z"/><path class=si d="M2021 1422l8-24-6-11-8 25z"/><path class=sh d="M2013 1443l8-21-6-10-8 22z"/><path class=sg d="M2006 1462l7-19-6-9-7 20z"/><path class=sb d="M1904 1597l24-18 15-16-6-5-15 16-24 19z"/><path class=sa d="M1068 1858l24 0 23-2 55-13 70-20 312-98 180-57 78-26 55-23 23-12 16-10-6-4-16 10-23 13-47 20-70 24-156 50-415 128-31 8-31 7-24 2-23 0z"/><path class=sc d="M1021 1844l16 7-6-2-16-8z"/><path class=sd d="M1006 1832l15 12-6-3-15-11z"/><path class=se d="M990 1816l16 16-6-2-16-16z"/><path class=sf d="M982 1806l8 10-6-2-8-10z"/><path class=sg d="M974 1795l8 11-6-2-8-11z"/><path class=sh d="M959 1766l15 29-6-2-15-29z"/><path class=sj d="M951 1748l8 18-6-2-8-17z"/><path class=sk d="M943 1729l8 19-6-1-8-20z"/><path class=sl d="M935 1706l8 23-6-2-8-22z"/><path class=sn d="M927 1681l8 25-6-1-8-25z"/><path class=so d="M920 1653l7 28-6-1-7-28z"/><path class=sq d="M912 1621l8 32-6-1-8-31z"/><path class=ss d="M904 1586l8 35-6 0-8-35z"/><path class=sv d="M896 1547l8 39-6 0-8-39z"/><path class=sx d="M888 1504l8 43-6 0-8-43z"/><path class=sA d="M881 1455l7 49-6 0-7-48z"/><path class=sD d="M873 1402l8 53-6 1-8-52z"/><path class=sH d="M865 1343l8 59-6 2-8-59z"/><path class=sK d="M857 1278l8 65-6 2-8-64z"/><path class=sO d="M849 1207l8 71-6 3-8-71z"/><path class=sT d="M841 1128l8 79-6 3-8-78z"/><path class=sY d="M834 1042l7 86-6 4-7-85z"/><path class=sbd d="M826 948l8 94-6 5-8-93z"/><path class=sbj d="M818 845l8 103-6 6-8-103z"/><path class=sE d="M2113 1003l8-66-6-24-8 67z"/><path class=sB d="M2105 1063l8-60-6-23-8 62z"/><path class=sy d="M2098 1117l7-54-6-21-7 56z"/><path class=sv d="M2090 1167l8-50-6-19-8 51z"/><path class=st d="M2082 1212l8-45-6-18-8 47z"/><path class=sr d="M2074 1253l8-41-6-16-8 42z"/><path class=sp d="M2066 1291l8-38-6-15-8 38z"/><path class=sn d="M2059 1325l7-34-6-15-7 35z"/><path class=sm d="M2051 1355l8-30-6-14-8 32z"/><path class=sk d="M2043 1383l8-28-6-12-8 29z"/><path class=sj d="M2035 1409l8-26-6-11-8 26z"/><path class=si d="M2027 1431l8-22-6-11-8 24z"/><path class=sh d="M2019 1452l8-21-6-9-8 21z"/><path class=sa d="M1074 1861l24 1 23-3 31-6 31-9 422-130 157-50 70-25 47-20 23-13 16-10-6-5-16 11-23 13-47 21-63 22-132 43-454 140-31 8-31 7-23 2-24 0z"/><path class=sc d="M1027 1847l16 7-6-3-16-7z"/><path class=sd d="M1012 1835l15 12-6-3-15-12z"/><path class=se d="M996 1819l16 16-6-3-16-16z"/><path class=sf d="M988 1809l8 10-6-3-8-10z"/><path class=sg d="M980 1797l8 12-6-3-8-11z"/><path class=sh d="M973 1783l7 14-6-2-8-14z"/><path class=si d="M965 1768l8 15-7-2-7-15z"/><path class=sj d="M957 1750l8 18-6-2-8-18z"/><path class=sk d="M949 1730l8 20-6-2-8-19z"/><path class=sl d="M941 1708l8 22-6-1-8-23z"/><path class=sn d="M933 1683l8 25-6-2-8-25z"/><path class=sp d="M926 1654l7 29-6-2-7-28z"/><path class=sq d="M918 1622l8 32-6-1-8-32z"/><path class=st d="M910 1587l8 35-6-1-8-35z"/><path class=sv d="M902 1547l8 40-6-1-8-39z"/><path class=sx d="M894 1503l8 44-6 0-8-43z"/><path class=sA d="M887 1455l7 48-6 1-7-49z"/><path class=sD d="M879 1401l8 54-6 0-8-53z"/><path class=sH d="M871 1341l8 60-6 1-8-59z"/><path class=sL d="M863 1276l8 65-6 2-8-65z"/><path class=sP d="M855 1204l8 72-6 2-8-71z"/><path class=sT d="M848 1125l7 79-6 3-8-79z"/><path class=sY d="M840 1038l8 87-7 3-7-86z"/><path class=sbe d="M832 943l8 95-6 4-8-94z"/><path class=sbj d="M824 839l8 104-6 5-8-103z"/><path class=sD d="M2119 1026l8-64-6-25-8 66z"/><path class=sA d="M2111 1084l8-58-6-23-8 60z"/><path class=sx d="M2104 1137l7-53-6-21-7 54z"/><path class=sv d="M2096 1185l8-48-6-20-8 50z"/><path class=ss d="M2088 1229l8-44-6-18-8 45z"/><path class=sq d="M2080 1269l8-40-6-17-8 41z"/><path class=so d="M2072 1305l8-36-6-16-8 38z"/><path class=sn d="M2065 1338l7-33-6-14-7 34z"/><path class=sl d="M2057 1368l8-30-6-13-8 30z"/><path class=sk d="M2049 1395l8-27-6-13-8 28z"/><path class=sj d="M2041 1419l8-24-6-12-8 26z"/><path class=sh d="M2026 1461l15-42-6-10-16 43z"/><path class=sa d="M1080 1865l24 0 23-3 55-12 78-23 320-100 172-55 78-27 55-22 23-13 16-10-6-4-16 10-23 13-47 20-70 25-157 50-422 130-31 9-31 6-23 3-24-1z"/><path class=sc d="M1033 1850l16 7-6-3-16-7z"/><path class=sd d="M1018 1838l15 12-6-3-15-12z"/><path class=se d="M1002 1822l16 16-6-3-16-16z"/><path class=sf d="M994 1811l8 11-6-3-8-10z"/><path class=sg d="M986 1800l8 11-6-2-8-12z"/><path class=sh d="M979 1786l7 14-6-3-7-14z"/><path class=si d="M971 1770l8 16-6-3-8-15z"/><path class=sj d="M963 1752l8 18-6-2-8-18z"/><path class=sk d="M955 1732l8 20-6-2-8-20z"/><path class=sl d="M947 1710l8 22-6-2-8-22z"/><path class=sn d="M939 1684l8 26-6-2-8-25z"/><path class=sp d="M932 1655l7 29-6-1-7-29z"/><path class=sr d="M924 1623l8 32-6-1-8-32z"/><path class=st d="M916 1588l8 35-6-1-8-35z"/><path class=sv d="M908 1548l8 40-6-1-8-40z"/><path class=sy d="M900 1503l8 45-6-1-8-44z"/><path class=sA d="M893 1454l7 49-6 0-7-48z"/><path class=sE d="M885 1400l8 54-6 1-8-54z"/><path class=sH d="M877 1340l8 60-6 1-8-60z"/><path class=sL d="M869 1274l8 66-6 1-8-65z"/><path class=sP d="M861 1202l8 72-6 2-8-72z"/><path class=sU d="M854 1122l7 80-6 2-7-79z"/><path class=sY d="M846 1035l8 87-6 3-8-87z"/><path class=sbe d="M838 939l8 96-6 3-8-95z"/><path class=sbk d="M830 834l8 105-6 4-8-104z"/><path class=sC d="M2125 1048l8-62-6-24-8 64z"/><path class=sz d="M2117 1105l8-57-6-22-8 58z"/><path class=sw d="M2110 1156l7-51-6-21-7 53z"/><path class=su d="M2102 1203l8-47-6-19-8 48z"/><path class=ss d="M2094 1246l8-43-6-18-8 44z"/><path class=sq d="M2086 1284l8-38-6-17-8 40z"/><path class=so d="M2078 1319l8-35-6-15-8 36z"/><path class=sm d="M2071 1351l7-32-6-14-7 33z"/><path class=sl d="M2063 1380l8-29-6-13-8 30z"/><path class=sj d="M2055 1406l8-26-6-12-8 27z"/><path class=si d="M2047 1430l8-24-6-11-8 24z"/><path class=sh d="M2039 1451l8-21-6-11-8 22z"/><path class=sa d="M1086 1868l24 0 23-3 55-12 70-21 297-92 187-60 94-31 55-23 23-12 16-10-6-4-16 10-23 13-55 22-78 27-172 55-320 100-78 23-55 12-23 3-24 0z"/><path class=sd d="M1024 1841l15 12-6-3-15-12z"/><path class=se d="M1008 1825l16 16-6-3-16-16z"/><path class=sf d="M1000 1814l8 11-6-3-8-11z"/><path class=sg d="M992 1802l8 12-6-3-8-11z"/><path class=sh d="M985 1788l7 14-6-2-7-14z"/><path class=si d="M977 1773l8 15-6-2-8-16z"/><path class=sj d="M969 1755l8 18-6-3-8-18z"/><path class=sk d="M961 1735l8 20-6-3-8-20z"/><path class=sl d="M953 1712l8 23-6-3-8-22z"/><path class=sn d="M946 1686l7 26-6-2-8-26z"/><path class=sp d="M938 1657l8 29-7-2-7-29z"/><path class=sr d="M930 1625l8 32-6-2-8-32z"/><path class=st d="M922 1589l8 36-6-2-8-35z"/><path class=sv d="M914 1549l8 40-6-1-8-40z"/><path class=sy d="M906 1504l8 45-6-1-8-45z"/><path class=sB d="M899 1455l7 49-6-1-7-49z"/><path class=sE d="M891 1400l8 55-6-1-8-54z"/><path class=sH d="M883 1340l8 60-6 0-8-60z"/><path class=sL d="M875 1274l8 66-6 0-8-66z"/><path class=sP d="M867 1200l8 74-6 0-8-72z"/><path class=sU d="M860 1120l7 80-6 2-7-80z"/><path class=sZ d="M852 1032l8 88-6 2-8-87z"/><path class=sbe d="M844 936l8 96-6 3-8-96z"/><path class=sbk d="M836 831l8 105-6 3-8-105z"/><path class=sB d="M2131 1071l8-60-6-25-8 62z"/><path class=sy d="M2124 1126l7-55-6-23-8 57z"/><path class=sv d="M2116 1176l8-50-7-21-7 51z"/><path class=st d="M2108 1221l8-45-6-20-8 47z"/><path class=sr d="M2100 1262l8-41-6-18-8 43z"/><path class=sp d="M2092 1300l8-38-6-16-8 38z"/><path class=sn d="M2084 1334l8-34-6-16-8 35z"/><path class=sm d="M2077 1364l7-30-6-15-7 32z"/><path class=sk d="M2069 1392l8-28-6-13-8 29z"/><path class=sj d="M2061 1417l8-25-6-12-8 26z"/><path class=si d="M2053 1440l8-23-6-11-8 24z"/><path class=sa d="M1092 1871l16 1 23-2 24-4 31-8 70-20 235-73 203-64 140-46 32-12 31-13 39-22-6-4-16 10-23 12-55 23-94 31-187 60-297 92-70 21-55 12-23 3-24 0z"/><path class=sc d="M1045 1856l16 8-6-3-16-8z"/><path class=sd d="M1030 1844l15 12-6-3-15-12z"/><path class=se d="M1014 1827l16 17-6-3-16-16z"/><path class=sf d="M1006 1817l8 10-6-2-8-11z"/><path class=sg d="M998 1805l8 12-6-3-8-12z"/><path class=sh d="M991 1791l7 14-6-3-7-14z"/><path class=si d="M983 1775l8 16-6-3-8-15z"/><path class=sj d="M975 1757l8 18-6-2-8-18z"/><path class=sk d="M967 1737l8 20-6-2-8-20z"/><path class=sl d="M959 1714l8 23-6-2-8-23z"/><path class=sn d="M952 1688l7 26-6-2-7-26z"/><path class=sp d="M944 1659l8 29-6-2-8-29z"/><path class=sr d="M936 1627l8 32-6-2-8-32z"/><path class=st d="M928 1590l8 37-6-2-8-36z"/><path class=sv d="M920 1550l8 40-6-1-8-40z"/><path class=sy d="M912 1505l8 45-6-1-8-45z"/><path class=sB d="M905 1456l7 49-6-1-7-49z"/><path class=sE d="M897 1401l8 55-6-1-8-55z"/><path class=sH d="M889 1340l8 61-6-1-8-60z"/><path class=sL d="M881 1273l8 67-6 0-8-66z"/><path class=sP d="M873 1200l8 73-6 1-8-74z"/><path class=sU d="M866 1119l7 81-6 0-7-80z"/><path class=sZ d="M858 1031l8 88-6 1-8-88z"/><path class=sbf d="M850 934l8 97-6 1-8-96z"/><path class=sbl d="M842 828l8 106-6 2-8-105z"/><path class=sA d="M2137 1093l8-58-6-24-8 60z"/><path class=sx d="M2130 1147l7-54-6-22-7 55z"/><path class=su d="M2122 1195l8-48-6-21-8 50z"/><path class=ss d="M2114 1239l8-44-6-19-8 45z"/><path class=sq d="M2106 1279l8-40-6-18-8 41z"/><path class=so d="M2098 1315l8-36-6-17-8 38z"/><path class=sn d="M2090 1348l8-33-6-15-8 34z"/><path class=sl d="M2083 1377l7-29-6-14-7 30z"/><path class=sk d="M2075 1404l8-27-6-13-8 28z"/><path class=si d="M2067 1428l8-24-6-12-8 25z"/><path class=sa d="M1098 1874l24 1 23-3 55-12 70-21 313-98 172-55 101-34 55-22 23-13 16-10-6-4-16 10-23 13-55 23-78 27-164 52-336 105-78 23-55 13-23 2-24 0z"/><path class=sc d="M1051 1859l16 8-6-3-16-8z"/><path class=sd d="M1036 1847l15 12-6-3-15-12z"/><path class=se d="M1020 1831l16 16-6-3-16-17z"/><path class=sf d="M1012 1820l8 11-6-4-8-10z"/><path class=sg d="M1004 1808l8 12-6-3-8-12z"/><path class=sh d="M997 1794l7 14-6-3-7-14z"/><path class=si d="M989 1778l8 16-6-3-8-16z"/><path class=sj d="M981 1760l8 18-6-3-8-18z"/><path class=sk d="M973 1740l8 20-6-3-8-20z"/><path class=sm d="M965 1717l8 23-6-3-8-23z"/><path class=sn d="M958 1691l7 26-6-3-7-26z"/><path class=sp d="M950 1661l8 30-6-3-8-29z"/><path class=sr d="M942 1629l8 32-6-2-8-32z"/><path class=st d="M934 1592l8 37-6-2-8-37z"/><path class=sv d="M926 1552l8 40-6-2-8-40z"/><path class=sy d="M918 1507l8 45-6-2-8-45z"/><path class=sB d="M911 1457l7 50-6-2-7-49z"/><path class=sE d="M903 1402l8 55-6-1-8-55z"/><path class=sI d="M895 1341l8 61-6-1-8-61z"/><path class=sL d="M887 1274l8 67-6-1-8-67z"/><path class=sQ d="M879 1200l8 74-6-1-8-73z"/><path class=sU d="M872 1119l7 81-6 0-7-81z"/><path class=sZ d="M864 1030l8 89-6 0-8-88z"/><path class=sbf d="M856 932l8 98-6 1-8-97z"/><path class=sbl d="M848 826l8 106-6 2-8-106z"/><path class=sz d="M2143 1116l8-57-6-24-8 58z"/><path class=sw d="M2136 1167l7-51-6-23-7 54z"/><path class=su d="M2128 1214l8-47-6-20-8 48z"/><path class=sr d="M2120 1256l8-42-6-19-8 44z"/><path class=sp d="M2112 1295l8-39-6-17-8 40z"/><path class=so d="M2104 1330l8-35-6-16-8 36z"/><path class=sm d="M2096 1361l8-31-6-15-8 33z"/><path class=sl d="M2089 1390l7-29-6-13-7 29z"/><path class=sj d="M2081 1416l8-26-6-13-8 27z"/><path class=si d="M2073 1439l8-23-6-12-8 24z"/><path class=sa d="M1104 1878l24 0 23-3 55-12 359-111 172-55 125-42 55-22 39-22-6-4-16 10-23 13-55 22-101 34-172 55-313 98-70 21-55 12-23 3-24-1z"/><path class=sc d="M1057 1862l16 8-6-3-16-8z"/><path class=sd d="M1042 1851l15 11-6-3-15-12z"/><path class=se d="M1026 1834l16 17-6-4-16-16z"/><path class=sf d="M1018 1823l8 11-6-3-8-11z"/><path class=sg d="M1010 1811l8 12-6-3-8-12z"/><path class=sh d="M1003 1797l7 14-6-3-7-14z"/><path class=si d="M995 1781l8 16-6-3-8-16z"/><path class=sj d="M987 1763l8 18-6-3-8-18z"/><path class=sk d="M979 1743l8 20-6-3-8-20z"/><path class=sm d="M971 1720l8 23-6-3-8-23z"/><path class=sn d="M964 1693l7 27-6-3-7-26z"/><path class=sp d="M956 1664l8 29-6-2-8-30z"/><path class=sr d="M948 1631l8 33-6-3-8-32z"/><path class=st d="M940 1595l8 36-6-2-8-37z"/><path class=sv d="M932 1554l8 41-6-3-8-40z"/><path class=sy d="M925 1509l7 45-6-2-8-45z"/><path class=sB d="M917 1459l8 50-7-2-7-50z"/><path class=sE d="M909 1403l8 56-6-2-8-55z"/><path class=sI d="M901 1342l8 61-6-1-8-61z"/><path class=sM d="M893 1275l8 67-6-1-8-67z"/><path class=sQ d="M885 1201l8 74-6-1-8-74z"/><path class=sU d="M878 1119l7 82-6-1-7-81z"/><path class=sZ d="M870 1030l8 89-6 0-8-89z"/><path class=sbf d="M862 932l8 98-6 0-8-98z"/><path class=sbl d="M854 825l8 107-6 0-8-106z"/><path class=sy d="M2149 1138l8-55-6-24-8 57z"/><path class=sv d="M2142 1188l7-50-6-22-7 51z"/><path class=st d="M2134 1233l8-45-6-21-8 47z"/><path class=sr d="M2126 1274l8-41-6-19-8 42z"/><path class=sp d="M2118 1311l8-37-6-18-8 39z"/><path class=sn d="M2110 1345l8-34-6-16-8 35z"/><path class=sl d="M2103 1375l7-30-6-15-8 31z"/><path class=sk d="M2095 1403l8-28-7-14-7 29z"/><path class=sj d="M2087 1428l8-25-6-13-8 26z"/><path class=sa d="M1110 1881l16 1 23-2 32-6 31-8 70-21 328-102 164-53 102-34 55-23 23-13 16-10-6-4-16 10-23 13-47 20-78 28-172 55-344 108-78 23-55 12-23 3-24 0z"/><path class=sd d="M1048 1854l15 12-6-4-15-11z"/><path class=se d="M1032 1837l16 17-6-3-16-17z"/><path class=sf d="M1024 1827l8 10-6-3-8-11z"/><path class=sg d="M1016 1815l8 12-6-4-8-12z"/><path class=sh d="M1009 1801l7 14-6-4-7-14z"/><path class=si d="M1001 1785l8 16-6-4-8-16z"/><path class=sj d="M993 1767l8 18-6-4-8-18z"/><path class=sk d="M985 1746l8 21-6-4-8-20z"/><path class=sm d="M977 1723l8 23-6-3-8-23z"/><path class=sn d="M970 1697l7 26-6-3-7-27z"/><path class=sp d="M962 1667l8 30-6-4-8-29z"/><path class=sr d="M954 1634l8 33-6-3-8-33z"/><path class=st d="M946 1598l8 36-6-3-8-36z"/><path class=sv d="M938 1557l8 41-6-3-8-41z"/><path class=sy d="M931 1511l7 46-6-3-7-45z"/><path class=sB d="M923 1461l8 50-6-2-8-50z"/><path class=sE d="M915 1406l8 55-6-2-8-56z"/><path class=sI d="M907 1344l8 62-6-3-8-61z"/><path class=sM d="M899 1276l8 68-6-2-8-67z"/><path class=sQ d="M891 1202l8 74-6-1-8-74z"/><path class=sV d="M884 1120l7 82-6-1-7-82z"/><path class=sba d="M876 1030l8 90-6-1-8-89z"/><path class=sbf d="M868 932l8 98-6 0-8-98z"/><path class=sbl d="M860 825l8 107-6 0-8-107z"/><path class=sx d="M2155 1160l8-53-6-24-8 55z"/><path class=su d="M2148 1208l7-48-6-22-7 50z"/><path class=ss d="M2140 1252l8-44-6-20-8 45z"/><path class=sq d="M2132 1291l8-39-6-19-8 41z"/><path class=so d="M2124 1327l8-36-6-17-8 37z"/><path class=sm d="M2116 1359l8-32-6-16-8 34z"/><path class=sl d="M2109 1389l7-30-6-14-7 30z"/><path class=sj d="M2101 1415l8-26-6-14-8 28z"/><path class=si d="M2093 1439l8-24-6-12-8 25z"/><path class=sa d="M1116 1885l16 0 23-2 32-6 31-8 383-118 156-50 125-42 55-23 23-12 16-9-6-5-16 10-23 13-55 23-102 34-164 53-328 102-70 21-31 8-32 6-23 2-16-1z"/><path class=sc d="M1069 1869l16 8-6-3-16-8z"/><path class=sd d="M1054 1858l15 11-6-3-15-12z"/><path class=se d="M1038 1841l16 17-6-4-16-17z"/><path class=sf d="M1030 1830l8 11-6-4-8-10z"/><path class=sg d="M1023 1818l7 12-6-3-8-12z"/><path class=sh d="M1015 1804l8 14-7-3-7-14z"/><path class=si d="M1007 1788l8 16-6-3-8-16z"/><path class=sj d="M999 1770l8 18-6-3-8-18z"/><path class=sk d="M991 1750l8 20-6-3-8-21z"/><path class=sm d="M983 1726l8 24-6-4-8-23z"/><path class=sn d="M976 1700l7 26-6-3-7-26z"/><path class=sp d="M968 1671l8 29-6-3-8-30z"/><path class=sr d="M960 1638l8 33-6-4-8-33z"/><path class=st d="M952 1601l8 37-6-4-8-36z"/><path class=sv d="M944 1560l8 41-6-3-8-41z"/><path class=sy d="M937 1514l7 46-6-3-7-46z"/><path class=sB d="M929 1464l8 50-6-3-8-50z"/><path class=sE d="M921 1408l8 56-6-3-8-55z"/><path class=sI d="M913 1347l8 61-6-2-8-62z"/><path class=sM d="M905 1279l8 68-6-3-8-68z"/><path class=sQ d="M897 1204l8 75-6-3-8-74z"/><path class=sV d="M890 1122l7 82-6-2-7-82z"/><path class=sba d="M882 1032l8 90-6-2-8-90z"/><path class=sbf d="M874 934l8 98-6-2-8-98z"/><path class=sbl d="M866 826l8 108-6-2-8-107z"/><path class=sw d="M2161 1182l8-51-6-24-8 53z"/><path class=st d="M2154 1228l7-46-6-22-7 48z"/><path class=sr d="M2146 1270l8-42-6-20-8 44z"/><path class=sp d="M2138 1308l8-38-6-18-8 39z"/><path class=sn d="M2130 1343l8-35-6-17-8 36z"/><path class=sm d="M2122 1374l8-31-6-16-8 32z"/><path class=sk d="M2115 1402l7-28-6-15-7 30z"/><path class=sj d="M2107 1428l8-26-6-13-8 26z"/><path class=si d="M2099 1451l8-23-6-13-8 24z"/><path class=sa d="M1122 1888l16 1 23-2 32-6 31-8 367-114 156-50 141-47 55-22 39-21-6-4-16 9-23 12-55 23-125 42-156 50-383 118-31 8-32 6-23 2-16 0z"/><path class=se d="M1044 1845l16 16-6-3-16-17z"/><path class=sf d="M1036 1834l8 11-6-4-8-11z"/><path class=sg d="M1029 1822l7 12-6-4-7-12z"/><path class=sh d="M1021 1808l8 14-6-4-8-14z"/><path class=si d="M1013 1792l8 16-6-4-8-16z"/><path class=sj d="M1005 1774l8 18-6-4-8-18z"/><path class=sk d="M997 1753l8 21-6-4-8-20z"/><path class=sl d="M989 1730l8 23-6-3-8-24z"/><path class=sn d="M982 1704l7 26-6-4-7-26z"/><path class=sp d="M974 1674l8 30-6-4-8-29z"/><path class=sr d="M966 1641l8 33-6-3-8-33z"/><path class=st d="M958 1605l8 36-6-3-8-37z"/><path class=sv d="M950 1564l8 41-6-4-8-41z"/><path class=sy d="M943 1518l7 46-6-4-7-46z"/><path class=sB d="M935 1467l8 51-6-4-8-50z"/><path class=sE d="M927 1412l8 55-6-3-8-56z"/><path class=sI d="M919 1350l8 62-6-4-8-61z"/><path class=sM d="M911 1282l8 68-6-3-8-68z"/><path class=sQ d="M904 1207l7 75-6-3-8-75z"/><path class=sV d="M896 1125l8 82-7-3-7-82z"/><path class=sba d="M888 1035l8 90-6-3-8-90z"/><path class=sbf d="M880 936l8 99-6-3-8-98z"/><path class=sbl d="M872 828l8 108-6-2-8-108z"/><path class=sv d="M2167 1203l8-49-6-23-8 51z"/><path class=ss d="M2160 1248l7-45-6-21-7 46z"/><path class=sq d="M2152 1288l8-40-6-20-8 42z"/><path class=so d="M2144 1325l8-37-6-18-8 38z"/><path class=sn d="M2136 1358l8-33-6-17-8 35z"/><path class=sl d="M2128 1388l8-30-6-15-8 31z"/><path class=sk d="M2121 1415l7-27-6-14-7 28z"/><path class=si d="M2113 1440l8-25-6-13-8 26z"/><path class=sa d="M1128 1892l16 0 23-2 32-6 31-8 351-109 157-49 156-53 55-22 39-20-6-4-39 21-55 22-141 47-156 50-367 114-31 8-32 6-23 2-16-1z"/><path class=sd d="M1066 1865l8 6-6-3-8-7z"/><path class=se d="M1050 1849l16 16-6-4-16-16z"/><path class=sf d="M1042 1838l8 11-6-4-8-11z"/><path class=sg d="M1035 1826l7 12-6-4-7-12z"/><path class=sh d="M1027 1812l8 14-6-4-8-14z"/><path class=si d="M1019 1796l8 16-6-4-8-16z"/><path class=sj d="M1011 1778l8 18-6-4-8-18z"/><path class=sk d="M1003 1757l8 21-6-4-8-21z"/><path class=sl d="M995 1734l8 23-6-4-8-23z"/><path class=sn d="M988 1708l7 26-6-4-7-26z"/><path class=sp d="M980 1678l8 30-6-4-8-30z"/><path class=sr d="M972 1645l8 33-6-4-8-33z"/><path class=st d="M964 1609l8 36-6-4-8-36z"/><path class=sv d="M956 1568l8 41-6-4-8-41z"/><path class=sy d="M949 1522l7 46-6-4-7-46z"/><path class=sB d="M941 1471l8 51-6-4-8-51z"/><path class=sE d="M933 1416l8 55-6-4-8-55z"/><path class=sI d="M925 1354l8 62-6-4-8-62z"/><path class=sM d="M917 1286l8 68-6-4-8-68z"/><path class=sQ d="M910 1211l7 75-6-4-7-75z"/><path class=sV d="M902 1128l8 83-6-4-8-82z"/><path class=sba d="M894 1038l8 90-6-3-8-90z"/><path class=sbf d="M886 939l8 99-6-3-8-99z"/><path class=sbl d="M878 830l8 109-6-3-8-108z"/><path class=su d="M2174 1224l7-47-6-23-8 49z"/><path class=sr d="M2166 1267l8-43-7-21-7 45z"/><path class=sp d="M2158 1306l8-39-6-19-8 40z"/><path class=so d="M2150 1341l8-35-6-18-8 37z"/><path class=sm d="M2142 1373l8-32-6-16-8 33z"/><path class=sk d="M2134 1402l8-29-6-15-8 30z"/><path class=sj d="M2127 1428l7-26-6-14-7 27z"/><path class=si d="M2119 1452l8-24-6-13-8 25z"/><path class=sa d="M1134 1895l16 1 23-3 32-6 31-8 391-121 140-45 141-48 55-22 39-21-6-4-16 9-23 13-55 22-133 45-141 46-398 123-31 8-32 6-23 2-16 0z"/><path class=se d="M1056 1853l16 16-6-4-16-16z"/><path class=sf d="M1048 1842l8 11-6-4-8-11z"/><path class=sg d="M1041 1830l7 12-6-4-7-12z"/><path class=sh d="M1033 1816l8 14-6-4-8-14z"/><path class=si d="M1025 1800l8 16-6-4-8-16z"/><path class=sj d="M1017 1782l8 18-6-4-8-18z"/><path class=sk d="M1009 1762l8 20-6-4-8-21z"/><path class=sl d="M1002 1738l7 24-6-5-8-23z"/><path class=sn d="M994 1712l8 26-7-4-7-26z"/><path class=sp d="M986 1683l8 29-6-4-8-30z"/><path class=sr d="M978 1650l8 33-6-5-8-33z"/><path class=st d="M970 1613l8 37-6-5-8-36z"/><path class=sv d="M962 1572l8 41-6-4-8-41z"/><path class=sy d="M955 1526l7 46-6-4-7-46z"/><path class=sB d="M947 1476l8 50-6-4-8-51z"/><path class=sE d="M939 1420l8 56-6-5-8-55z"/><path class=sI d="M931 1358l8 62-6-4-8-62z"/><path class=sM d="M923 1290l8 68-6-4-8-68z"/><path class=sQ d="M916 1215l7 75-6-4-7-75z"/><path class=sV d="M908 1132l8 83-6-4-8-83z"/><path class=sba d="M900 1042l8 90-6-4-8-90z"/><path class=sbf d="M892 943l8 99-6-4-8-99z"/><path class=sbl d="M884 834l8 109-6-4-8-109z"/><path class=st d="M2180 1245l7-45-6-23-7 47z"/><path class=sr d="M2172 1286l8-41-6-21-8 43z"/><path class=sp d="M2164 1324l8-38-6-19-8 39z"/><path class=sn d="M2156 1358l8-34-6-18-8 35z"/><path class=sl d="M2148 1388l8-30-6-17-8 32z"/><path class=sk d="M2140 1416l8-28-6-15-8 29z"/><path class=sj d="M2133 1441l7-25-6-14-7 26z"/><path class=si d="M2125 1463l8-22-6-13-8 24z"/><path class=sa d="M1140 1899l16 0 23-2 32-6 31-8 383-119 133-43 156-53 55-22 39-20-6-4-39 21-55 22-141 48-140 45-391 121-31 8-32 6-23 3-16-1z"/><path class=sc d="M1086 1879l7 5 16 8-6-4-16-7-7-6z"/><path class=sd d="M1070 1865l16 14-6-4-16-14z"/><path class=se d="M1062 1857l8 8-6-4-8-8z"/><path class=sf d="M1054 1846l8 11-6-4-8-11z"/><path class=sg d="M1039 1821l15 25-6-4-15-26z"/><path class=sh d="M1031 1805l8 16-6-5-8-16z"/><path class=sj d="M1023 1787l8 18-6-5-8-18z"/><path class=sk d="M1015 1766l8 21-6-5-8-20z"/><path class=sl d="M1008 1743l7 23-6-4-7-24z"/><path class=sn d="M1000 1717l8 26-6-5-8-26z"/><path class=sp d="M992 1688l8 29-6-5-8-29z"/><path class=sr d="M984 1655l8 33-6-5-8-33z"/><path class=st d="M976 1618l8 37-6-5-8-37z"/><path class=sv d="M968 1577l8 41-6-5-8-41z"/><path class=sy d="M961 1531l7 46-6-5-7-46z"/><path class=sB d="M953 1481l8 50-6-5-8-50z"/><path class=sE d="M945 1425l8 56-6-5-8-56z"/><path class=sI d="M937 1363l8 62-6-5-8-62z"/><path class=sL d="M929 1295l8 68-6-5-8-68z"/><path class=sQ d="M922 1220l7 75-6-5-7-75z"/><path class=sU d="M914 1137l8 83-6-5-8-83z"/><path class=sba d="M906 1047l8 90-6-5-8-90z"/><path class=sbf d="M898 948l8 99-6-5-8-99z"/><path class=sbl d="M890 839l8 109-6-5-8-109z"/><path class=ss d="M2186 1266l7-44-6-22-7 45z"/><path class=sq d="M2178 1305l8-39-6-21-8 41z"/><path class=so d="M2170 1341l8-36-6-19-8 38z"/><path class=sm d="M2162 1374l8-33-6-17-8 34z"/><path class=sl d="M2154 1403l8-29-6-16-8 30z"/><path class=sj d="M2146 1429l8-26-6-15-8 28z"/><path class=si d="M2139 1453l7-24-6-13-7 25z"/><path class=sh d="M2131 1475l8-22-6-12-8 22z"/><path class=sa d="M1146 1902l16 1 23-3 32-6 31-8 375-116 141-46 156-53 55-21 39-20-6-4-39 20-55 22-156 53-133 43-383 119-31 8-32 6-23 2-16 0z"/><path class=sd d="M1076 1870l16 13-6-4-16-14z"/><path class=se d="M1068 1861l8 9-6-5-8-8z"/><path class=sf d="M1060 1851l8 10-6-4-8-11z"/><path class=sg d="M1045 1825l15 26-6-5-15-25z"/><path class=sh d="M1037 1809l8 16-6-4-8-16z"/><path class=sj d="M1029 1791l8 18-6-4-8-18z"/><path class=sk d="M1021 1771l8 20-6-4-8-21z"/><path class=sl d="M1014 1748l7 23-6-5-7-23z"/><path class=sn d="M1006 1722l8 26-6-5-8-26z"/><path class=sp d="M998 1693l8 29-6-5-8-29z"/><path class=sr d="M990 1660l8 33-6-5-8-33z"/><path class=st d="M982 1623l8 37-6-5-8-37z"/><path class=sv d="M974 1582l8 41-6-5-8-41z"/><path class=sy d="M967 1537l7 45-6-5-7-46z"/><path class=sB d="M959 1486l8 51-6-6-8-50z"/><path class=sE d="M951 1431l8 55-6-5-8-56z"/><path class=sH d="M943 1369l8 62-6-6-8-62z"/><path class=sL d="M935 1301l8 68-6-6-8-68z"/><path class=sQ d="M928 1226l7 75-6-6-7-75z"/><path class=sU d="M920 1143l8 83-6-6-8-83z"/><path class=sZ d="M912 1053l8 90-6-6-8-90z"/><path class=sbf d="M904 953l8 100-6-6-8-99z"/><path class=sbl d="M896 845l8 108-6-5-8-109z"/><path class=sr d="M2192 1286l7-42-6-22-7 44z"/><path class=sp d="M2184 1324l8-38-6-20-8 39z"/><path class=sn d="M2176 1358l8-34-6-19-8 36z"/><path class=sl d="M2168 1389l8-31-6-17-8 33z"/><path class=sk d="M2160 1417l8-28-6-15-8 29z"/><path class=sj d="M2153 1442l7-25-6-14-8 26z"/><path class=si d="M2145 1465l8-23-7-13-7 24z"/><path class=sa d="M1152 1906l16 0 23-2 32-6 31-9 406-126 125-41 157-54 46-18 39-21-6-4-39 21-54 22-149 51-125 41-406 126-31 8-32 6-23 3-16-1z"/><path class=sd d="M1082 1874l16 13-6-4-16-13z"/><path class=sf d="M1059 1843l15 22-6-4-15-22z"/><path class=sg d="M1051 1830l8 13-6-4-8-14z"/><path class=sh d="M1043 1814l8 16-6-5-8-16z"/><path class=si d="M1035 1796l8 18-6-5-8-18z"/><path class=sk d="M1027 1776l8 20-6-5-8-20z"/><path class=sl d="M1020 1753l7 23-6-5-7-23z"/><path class=sn d="M1012 1727l8 26-6-5-8-26z"/><path class=so d="M1004 1698l8 29-6-5-8-29z"/><path class=sq d="M996 1665l8 33-6-5-8-33z"/><path class=st d="M988 1629l8 36-6-5-8-37z"/><path class=sv d="M981 1588l7 41-6-6-8-41z"/><path class=sy d="M973 1543l8 45-7-6-7-45z"/><path class=sA d="M965 1492l8 51-6-6-8-51z"/><path class=sE d="M957 1437l8 55-6-6-8-55z"/><path class=sH d="M949 1375l8 62-6-6-8-62z"/><path class=sL d="M941 1307l8 68-6-6-8-68z"/><path class=sP d="M934 1232l7 75-6-6-7-75z"/><path class=sU d="M926 1150l8 82-6-6-8-83z"/><path class=sZ d="M918 1059l8 91-6-7-8-90z"/><path class=sbf d="M910 960l8 99-6-6-8-100z"/><path class=sbl d="M902 852l8 108-6-7-8-108z"/><path class=sq d="M2198 1305l7-40-6-21-7 42z"/><path class=so d="M2190 1342l8-37-6-19-8 38z"/><path class=sm d="M2182 1375l8-33-6-18-8 34z"/><path class=sl d="M2174 1404l8-29-6-17-8 31z"/><path class=sj d="M2166 1431l8-27-6-15-8 28z"/><path class=si d="M2159 1455l7-24-6-14-7 25z"/><path class=sh d="M2151 1477l8-22-6-13-8 23z"/><path class=sa d="M1151 1909l15 1 24-2 23-4 31-7 63-18 312-98 141-45 172-59 62-24 40-20-7-4-39 21-54 21-172 59-149 48-367 113-31 8-31 6-24 1-15-1z"/><path class=sd d="M1088 1878l16 14-6-5-16-13z"/><path class=se d="M1080 1870l8 8-6-4-8-9z"/><path class=sf d="M1065 1848l15 22-6-5-15-22z"/><path class=sg d="M1057 1835l8 13-6-5-8-13z"/><path class=sh d="M1049 1819l8 16-6-5-8-16z"/><path class=si d="M1041 1801l8 18-6-5-8-18z"/><path class=sk d="M1033 1781l8 20-6-5-8-20z"/><path class=sl d="M1026 1758l7 23-6-5-7-23z"/><path class=sn d="M1018 1733l8 25-6-5-8-26z"/><path class=so d="M1010 1704l8 29-6-6-8-29z"/><path class=sq d="M1002 1671l8 33-6-6-8-33z"/><path class=ss d="M994 1635l8 36-6-6-8-36z"/><path class=sv d="M987 1594l7 41-6-6-7-41z"/><path class=sx d="M979 1549l8 45-6-6-8-45z"/><path class=sA d="M971 1499l8 50-6-6-8-51z"/><path class=sE d="M963 1443l8 56-6-7-8-55z"/><path class=sH d="M955 1382l8 61-6-6-8-62z"/><path class=sL d="M947 1314l8 68-6-7-8-68z"/><path class=sP d="M940 1239l7 75-6-7-7-75z"/><path class=sU d="M932 1157l8 82-6-7-8-82z"/><path class=sZ d="M924 1067l8 90-6-7-8-91z"/><path class=sbf d="M916 968l8 99-6-8-8-99z"/><path class=sbl d="M908 859l8 109-6-8-8-108z"/><path class=sp d="M2204 1324l7-38-6-21-7 40z"/><path class=sn d="M2196 1359l8-35-6-19-8 37z"/><path class=sm d="M2188 1391l8-32-6-17-8 33z"/><path class=sk d="M2180 1419l8-28-6-16-8 29z"/><path class=sj d="M2172 1445l8-26-6-15-8 27z"/><path class=si d="M2165 1468l7-23-6-14-7 24z"/><path class=sh d="M2157 1488l8-20-6-13-8 22z"/><path class=sa d="M1157 1913l15 1 24-2 23-4 31-8 63-18 312-98 141-45 172-59 62-24 40-19-6-4-40 20-62 24-172 59-141 45-312 98-63 18-31 7-23 4-24 2-15-1z"/><path class=se d="M1079 1865l15 18-6-5-16-18z"/><path class=sf d="M1071 1853l8 12-7-5-7-12z"/><path class=sg d="M1063 1840l8 13-6-5-8-13z"/><path class=sh d="M1055 1824l8 16-6-5-8-16z"/><path class=si d="M1047 1807l8 17-6-5-8-18z"/><path class=sj d="M1039 1787l8 20-6-6-8-20z"/><path class=sl d="M1032 1764l7 23-6-6-7-23z"/><path class=sm d="M1024 1738l8 26-6-6-8-25z"/><path class=so d="M1016 1710l8 28-6-5-8-29z"/><path class=sq d="M1008 1677l8 33-6-6-8-33z"/><path class=ss d="M1000 1641l8 36-6-6-8-36z"/><path class=sv d="M993 1601l7 40-6-6-7-41z"/><path class=sx d="M985 1556l8 45-6-7-8-45z"/><path class=sA d="M977 1506l8 50-6-7-8-50z"/><path class=sD d="M969 1450l8 56-6-7-8-56z"/><path class=sH d="M961 1389l8 61-6-7-8-61z"/><path class=sL d="M953 1322l8 67-6-7-8-68z"/><path class=sP d="M946 1247l7 75-6-8-7-75z"/><path class=sU d="M938 1165l8 82-6-8-8-82z"/><path class=sZ d="M930 1075l8 90-6-8-8-90z"/><path class=sbe d="M922 976l8 99-6-8-8-99z"/><path class=sbl d="M914 868l8 108-6-8-8-109z"/><path class=so d="M2210 1343l7-37-6-20-7 38z"/><path class=sm d="M2202 1376l8-33-6-19-8 35z"/><path class=sl d="M2194 1406l8-30-6-17-8 32z"/><path class=sk d="M2186 1433l8-27-6-15-8 28z"/><path class=si d="M2178 1458l8-25-6-14-8 26z"/><path class=sh d="M2171 1480l7-22-6-13-7 23z"/><path class=sg d="M2163 1499l8-19-6-12-8 20z"/><path class=sa d="M1163 1917l15 0 24-1 23-5 31-7 383-119 141-45 164-57 62-24 40-19-6-3-40 19-62 24-172 59-141 45-312 98-63 18-31 8-23 4-24 2-15-1z"/><path class=sd d="M1100 1888l16 12-6-4-16-13z"/><path class=se d="M1085 1869l15 19-6-5-15-18z"/><path class=sf d="M1077 1858l8 11-6-4-8-12z"/><path class=sg d="M1069 1845l8 13-6-5-8-13z"/><path class=sh d="M1061 1830l8 15-6-5-8-16z"/><path class=si d="M1053 1812l8 18-6-6-8-17z"/><path class=sj d="M1045 1792l8 20-6-5-8-20z"/><path class=sl d="M1038 1770l7 22-6-5-7-23z"/><path class=sm d="M1030 1745l8 25-6-6-8-26z"/><path class=so d="M1022 1716l8 29-6-7-8-28z"/><path class=sq d="M1014 1684l8 32-6-6-8-33z"/><path class=ss d="M1006 1648l8 36-6-7-8-36z"/><path class=su d="M999 1608l7 40-6-7-7-40z"/><path class=sx d="M991 1563l8 45-6-7-8-45z"/><path class=sA d="M983 1513l8 50-6-7-8-50z"/><path class=sD d="M975 1458l8 55-6-7-8-56z"/><path class=sH d="M967 1397l8 61-6-8-8-61z"/><path class=sK d="M960 1330l7 67-6-8-8-67z"/><path class=sP d="M952 1255l8 75-7-8-7-75z"/><path class=sT d="M944 1174l8 81-6-8-8-82z"/><path class=sY d="M936 1084l8 90-6-9-8-90z"/><path class=sbe d="M928 985l8 99-6-9-8-99z"/><path class=sbk d="M920 877l8 108-6-9-8-108z"/><path class=sn d="M2216 1361l7-35-6-20-7 37z"/><path class=sm d="M2208 1393l8-32-6-18-8 33z"/><path class=sk d="M2200 1422l8-29-6-17-8 30z"/><path class=sj d="M2192 1447l8-25-6-16-8 27z"/><path class=si d="M2184 1471l8-24-6-14-8 25z"/><path class=sh d="M2177 1491l7-20-6-13-7 22z"/><path class=sg d="M2169 1510l8-19-6-11-8 19z"/><path class=sa d="M1169 1921l15 0 24-2 23-4 31-8 407-126 125-41 172-60 54-21 39-19-6-4-39 20-54 21-164 58-133 43-399 123-31 9-31 6-24 1-15 0z"/><path class=sd d="M1106 1892l16 13-6-5-16-12z"/><path class=se d="M1091 1874l15 18-6-4-15-19z"/><path class=sf d="M1083 1863l8 11-6-5-8-11z"/><path class=sg d="M1075 1850l8 13-6-5-8-13z"/><path class=sh d="M1067 1835l8 15-6-5-8-15z"/><path class=si d="M1059 1818l8 17-6-5-8-18z"/><path class=sj d="M1051 1798l8 20-6-6-8-20z"/><path class=sl d="M1044 1776l7 22-6-6-7-22z"/><path class=sm d="M1036 1751l8 25-6-6-8-25z"/><path class=so d="M1028 1723l8 28-6-6-8-29z"/><path class=sq d="M1020 1691l8 32-6-7-8-32z"/><path class=ss d="M1012 1655l8 36-6-7-8-36z"/><path class=su d="M1005 1615l7 40-6-7-7-40z"/><path class=sx d="M997 1571l8 44-6-7-8-45z"/><path class=sA d="M989 1521l8 50-6-8-8-50z"/><path class=sD d="M981 1466l8 55-6-8-8-55z"/><path class=sG d="M973 1406l8 60-6-8-8-61z"/><path class=sK d="M966 1339l7 67-6-9-7-67z"/><path class=sO d="M958 1265l8 74-6-9-8-75z"/><path class=sT d="M950 1183l8 82-6-10-8-81z"/><path class=sY d="M942 1094l8 89-6-9-8-90z"/><path class=sbe d="M934 995l8 99-6-10-8-99z"/><path class=sbk d="M926 888l8 107-6-10-8-108z"/><path class=sn d="M2222 1379l8-34-7-19-7 35z"/><path class=sl d="M2214 1409l8-30-6-18-8 32z"/><path class=sk d="M2206 1436l8-27-6-16-8 29z"/><path class=si d="M2198 1461l8-25-6-14-8 25z"/><path class=sh d="M2190 1483l8-22-6-14-8 24z"/><path class=sg d="M2175 1520l15-37-6-12-15 39z"/><path class=sa d="M1175 1925l15 0 24-2 23-5 31-8 415-128 125-41 164-58 54-21 39-19-6-3-39 19-54 21-172 60-125 41-407 126-31 8-23 4-24 2-15 0z"/><path class=se d="M1097 1880l15 17-6-5-15-18z"/><path class=sf d="M1089 1869l8 11-6-6-8-11z"/><path class=sg d="M1081 1856l8 13-6-6-8-13z"/><path class=sh d="M1073 1841l8 15-6-6-8-15z"/><path class=si d="M1065 1824l8 17-6-6-8-17z"/><path class=sj d="M1058 1805l7 19-6-6-8-20z"/><path class=sk d="M1050 1783l8 22-7-7-7-22z"/><path class=sm d="M1042 1758l8 25-6-7-8-25z"/><path class=so d="M1034 1729l8 29-6-7-8-28z"/><path class=sp d="M1026 1698l8 31-6-6-8-32z"/><path class=ss d="M1018 1662l8 36-6-7-8-36z"/><path class=su d="M1011 1623l7 39-6-7-7-40z"/><path class=sw d="M1003 1579l8 44-6-8-8-44z"/><path class=sz d="M995 1530l8 49-6-8-8-50z"/><path class=sC d="M987 1475l8 55-6-9-8-55z"/><path class=sG d="M979 1415l8 60-6-9-8-60z"/><path class=sK d="M972 1348l7 67-6-9-7-67z"/><path class=sO d="M964 1274l8 74-6-9-8-74z"/><path class=sT d="M956 1193l8 81-6-9-8-82z"/><path class=sY d="M948 1104l8 89-6-10-8-89z"/><path class=sbd d="M940 1006l8 98-6-10-8-99z"/><path class=sbj d="M933 899l7 107-6-11-8-107z"/><path class=sm d="M2228 1396l8-32-6-19-8 34z"/><path class=sk d="M2220 1425l8-29-6-17-8 30z"/><path class=sj d="M2212 1451l8-26-6-16-8 27z"/><path class=si d="M2204 1474l8-23-6-15-8 25z"/><path class=sh d="M2196 1495l8-21-6-13-8 22z"/><path class=sg d="M2189 1513l7-18-6-12-7 20z"/><path class=sa d="M1181 1929l15 0 24-3 23-4 31-8 422-131 118-39 156-56 62-23 39-18-6-4-39 19-54 21-164 58-125 41-415 128-31 8-23 5-24 2-15 0z"/><path class=sd d="M1110 1894l16 15-6-5-16-15z"/><path class=se d="M1103 1885l7 9-6-5-7-9z"/><path class=sf d="M1095 1874l8 11-6-5-8-11z"/><path class=sg d="M1087 1861l8 13-6-5-8-13z"/><path class=sh d="M1079 1847l8 14-6-5-8-15z"/><path class=si d="M1071 1830l8 17-6-6-8-17z"/><path class=sj d="M1064 1811l7 19-6-6-7-19z"/><path class=sk d="M1056 1789l8 22-6-6-8-22z"/><path class=sm d="M1048 1764l8 25-6-6-8-25z"/><path class=sn d="M1040 1737l8 27-6-6-8-29z"/><path class=sp d="M1032 1705l8 32-6-8-8-31z"/><path class=sr d="M1024 1670l8 35-6-7-8-36z"/><path class=su d="M1017 1631l7 39-6-8-7-39z"/><path class=sw d="M1009 1587l8 44-6-8-8-44z"/><path class=sz d="M1001 1538l8 49-6-8-8-49z"/><path class=sC d="M993 1484l8 54-6-8-8-55z"/><path class=sG d="M985 1424l8 60-6-9-8-60z"/><path class=sJ d="M978 1358l7 66-6-9-7-67z"/><path class=sO d="M970 1285l8 73-6-10-8-74z"/><path class=sS d="M962 1204l8 81-6-11-8-81z"/><path class=sX d="M954 1115l8 89-6-11-8-89z"/><path class=sbd d="M946 1018l8 97-6-11-8-98z"/><path class=sbj d="M939 911l7 107-6-12-7-107z"/><path class=sl d="M2234 1413l8-31-6-18-8 32z"/><path class=sk d="M2226 1440l8-27-6-17-8 29z"/><path class=si d="M2218 1464l8-24-6-15-8 26z"/><path class=sh d="M2210 1486l8-22-6-13-8 23z"/><path class=sg d="M2195 1524l15-38-6-12-15 39z"/><path class=sa d="M1179 1932l16 1 23-2 23-4 32-8 406-126 102-32 93-33 149-54 54-24-6-3-23 11-31 13-141 51-101 35-118 38-390 121-32 7-23 4-23 2-16-1z"/><path class=sf d="M1101 1880l8 10-6-5-8-11z"/><path class=sg d="M1085 1853l16 27-6-6-16-27z"/><path class=si d="M1077 1836l8 17-6-6-8-17z"/><path class=sj d="M1070 1817l7 19-6-6-7-19z"/><path class=sk d="M1062 1796l8 21-6-6-8-22z"/><path class=sl d="M1054 1772l8 24-6-7-8-25z"/><path class=sn d="M1046 1744l8 28-6-8-8-27z"/><path class=sp d="M1038 1713l8 31-6-7-8-32z"/><path class=sr d="M1030 1678l8 35-6-8-8-35z"/><path class=st d="M1023 1639l7 39-6-8-7-39z"/><path class=sw d="M1015 1596l8 43-6-8-8-44z"/><path class=sz d="M1007 1548l8 48-6-9-8-49z"/><path class=sC d="M999 1494l8 54-6-10-8-54z"/><path class=sF d="M991 1434l8 60-6-10-8-60z"/><path class=sJ d="M984 1368l7 66-6-10-7-66z"/><path class=sN d="M976 1296l8 72-6-10-8-73z"/><path class=sS d="M968 1216l8 80-6-11-8-81z"/><path class=sX d="M960 1127l8 89-6-12-8-89z"/><path class=sbc d="M952 1030l8 97-6-12-8-97z"/><path class=sbi d="M945 924l7 106-6-12-7-107z"/><path class=sk d="M2240 1429l8-29-6-18-8 31z"/><path class=sj d="M2232 1454l8-25-6-16-8 27z"/><path class=si d="M2224 1478l8-24-6-14-8 24z"/><path class=sh d="M2216 1499l8-21-6-14-8 22z"/><path class=sg d="M2209 1517l7-18-6-13-8 20z"/><path class=sf d="M2201 1534l8-17-7-11-7 18z"/><path class=sa d="M1185 1936l16 1 23-2 23-5 32-8 406-125 94-31 78-27 164-60 55-22-6-3-55 23-164 59-86 30-109 35-383 118-32 8-23 4-23 2-16-1z"/><path class=sd d="M1122 1905l16 13-6-5-16-14z"/><path class=sf d="M1099 1873l16 23-6-6-16-23z"/><path class=sg d="M1091 1859l8 14-6-6-8-14z"/><path class=sh d="M1083 1843l8 16-6-6-8-17z"/><path class=si d="M1076 1824l7 19-6-7-7-19z"/><path class=sk d="M1068 1803l8 21-6-7-8-21z"/><path class=sl d="M1060 1779l8 24-6-7-8-24z"/><path class=sn d="M1052 1752l8 27-6-7-8-28z"/><path class=sp d="M1044 1721l8 31-6-8-8-31z"/><path class=sr d="M1037 1687l7 34-6-8-8-35z"/><path class=st d="M1029 1648l8 39-7-9-7-39z"/><path class=sw d="M1021 1605l8 43-6-9-8-43z"/><path class=sy d="M1013 1557l8 48-6-9-8-48z"/><path class=sB d="M1005 1504l8 53-6-9-8-54z"/><path class=sF d="M997 1445l8 59-6-10-8-60z"/><path class=sJ d="M990 1380l7 65-6-11-7-66z"/><path class=sN d="M982 1307l8 73-6-12-8-72z"/><path class=sR d="M974 1228l8 79-6-11-8-80z"/><path class=sW d="M966 1140l8 88-6-12-8-89z"/><path class=sbc d="M958 1044l8 96-6-13-8-97z"/><path class=sbi d="M951 938l7 106-6-14-7-106z"/><path class=sk d="M2246 1444l8-27-6-17-8 29z"/><path class=si d="M2238 1468l8-24-6-15-8 25z"/><path class=sh d="M2230 1490l8-22-6-14-8 24z"/><path class=sg d="M2215 1528l15-38-6-12-15 39z"/><path class=sf d="M2207 1543l8-15-6-11-8 17z"/><path class=sa d="M1191 1940l16 0 23-2 24-4 31-8 422-131 86-28 70-24 172-64 47-19-6-3-55 22-164 60-78 27-94 31-406 125-32 8-23 5-23 2-16-1z"/><path class=sd d="M1128 1910l16 13-6-5-16-13z"/><path class=se d="M1113 1891l15 19-6-5-15-20z"/><path class=sf d="M1105 1879l8 12-6-6-8-12z"/><path class=sg d="M1097 1865l8 14-6-6-8-14z"/><path class=sh d="M1089 1849l8 16-6-6-8-16z"/><path class=si d="M1082 1831l7 18-6-6-7-19z"/><path class=sk d="M1074 1810l8 21-6-7-8-21z"/><path class=sl d="M1066 1786l8 24-6-7-8-24z"/><path class=sn d="M1058 1760l8 26-6-7-8-27z"/><path class=so d="M1050 1729l8 31-6-8-8-31z"/><path class=sq d="M1043 1695l7 34-6-8-7-34z"/><path class=st d="M1035 1657l8 38-6-8-8-39z"/><path class=sv d="M1027 1615l8 42-6-9-8-43z"/><path class=sy d="M1019 1567l8 48-6-10-8-48z"/><path class=sB d="M1011 1515l8 52-6-10-8-53z"/><path class=sE d="M1003 1456l8 59-6-11-8-59z"/><path class=sI d="M996 1391l7 65-6-11-7-65z"/><path class=sM d="M988 1320l8 71-6-11-8-73z"/><path class=sR d="M980 1241l8 79-6-13-8-79z"/><path class=sW d="M972 1154l8 87-6-13-8-88z"/><path class=sbb d="M964 1058l8 96-6-14-8-96z"/><path class=sbh d="M957 953l7 105-6-14-7-106z"/><path class=sj d="M2252 1459l8-26-6-16-8 27z"/><path class=si d="M2244 1482l8-23-6-15-8 24z"/><path class=sh d="M2236 1503l8-21-6-14-8 22z"/><path class=sg d="M2228 1521l8-18-6-13-8 20z"/><path class=sf d="M2221 1538l7-17-6-11-7 18z"/><path class=se d="M2205 1566l16-28-6-10-16 30z"/><path class=sa d="M1197 1944l16 0 23-2 24-5 31-8 437-136 71-23 70-24 172-65 47-18-6-3-47 19-172 64-70 24-86 28-422 131-31 8-24 4-23 2-16 0z"/><path class=se d="M1119 1897l16 18-7-5-15-19z"/><path class=sf d="M1111 1885l8 12-6-6-8-12z"/><path class=sg d="M1103 1872l8 13-6-6-8-14z"/><path class=sh d="M1095 1856l8 16-6-7-8-16z"/><path class=si d="M1088 1838l7 18-6-7-7-18z"/><path class=sj d="M1080 1818l8 20-6-7-8-21z"/><path class=sl d="M1072 1794l8 24-6-8-8-24z"/><path class=sm d="M1064 1768l8 26-6-8-8-26z"/><path class=so d="M1056 1738l8 30-6-8-8-31z"/><path class=sq d="M1049 1704l7 34-6-9-7-34z"/><path class=ss d="M1041 1667l8 37-6-9-8-38z"/><path class=sv d="M1033 1625l8 42-6-10-8-42z"/><path class=sy d="M1025 1578l8 47-6-10-8-48z"/><path class=sB d="M1017 1526l8 52-6-11-8-52z"/><path class=sE d="M1010 1468l7 58-6-11-8-59z"/><path class=sI d="M1002 1403l8 65-7-12-7-65z"/><path class=sM d="M994 1332l8 71-6-12-8-71z"/><path class=sQ d="M986 1254l8 78-6-12-8-79z"/><path class=sV d="M978 1168l8 86-6-13-8-87z"/><path class=sba d="M970 1073l8 95-6-14-8-96z"/><path class=sbg d="M963 968l7 105-6-15-7-105z"/><path class=si d="M2258 1473l8-25-6-15-8 26z"/><path class=sh d="M2250 1495l8-22-6-14-8 23z"/><path class=sg d="M2234 1532l16-37-6-13-16 39z"/><path class=sf d="M2227 1547l7-15-6-11-7 17z"/><path class=se d="M2211 1574l16-27-6-9-16 28z"/><path class=sa d="M1195 1947l16 1 23-1 24-4 31-8 422-131 86-28 70-24 219-83-6-3-180 68-101 36-454 143-62 18-39 10-31 3-24-1z"/><path class=sd d="M1133 1912l15 15-6-5-15-15z"/><path class=sf d="M1117 1891l8 12-6-6-8-12z"/><path class=sg d="M1109 1878l8 13-6-6-8-13z"/><path class=sh d="M1101 1863l8 15-6-6-8-16z"/><path class=si d="M1094 1845l7 18-6-7-7-18z"/><path class=sj d="M1086 1825l8 20-6-7-8-20z"/><path class=sl d="M1078 1802l8 23-6-7-8-24z"/><path class=sm d="M1070 1776l8 26-6-8-8-26z"/><path class=so d="M1062 1747l8 29-6-8-8-30z"/><path class=sq d="M1055 1714l7 33-6-9-7-34z"/><path class=ss d="M1047 1677l8 37-6-10-8-37z"/><path class=su d="M1039 1635l8 42-6-10-8-42z"/><path class=sx d="M1031 1589l8 46-6-10-8-47z"/><path class=sA d="M1023 1537l8 52-6-11-8-52z"/><path class=sD d="M1016 1480l7 57-6-11-7-58z"/><path class=sH d="M1008 1416l8 64-6-12-8-65z"/><path class=sL d="M1000 1346l8 70-6-13-8-71z"/><path class=sQ d="M992 1268l8 78-6-14-8-78z"/><path class=sU d="M984 1182l8 86-6-14-8-86z"/><path class=sba d="M976 1088l8 94-6-14-8-95z"/><path class=sbg d="M969 985l7 103-6-15-7-105z"/><path class=si d="M2264 1486l8-23-6-15-8 25z"/><path class=sh d="M2256 1507l8-21-6-13-8 22z"/><path class=sg d="M2248 1525l8-18-6-12-8 19z"/><path class=sf d="M2240 1542l8-17-6-11-8 18z"/><path class=se d="M2225 1569l15-27-6-10-15 29z"/><path class=sa d="M1201 1952l16 0 23-2 24-4 31-8 438-136 78-25 62-22 211-81-6-2-219 83-70 24-78 25-422 131-31 8-24 4-23 1-16-1z"/><path class=se d="M1131 1909l8 9-6-6-8-9z"/><path class=sf d="M1123 1898l8 11-6-6-8-12z"/><path class=sg d="M1115 1885l8 13-6-7-8-13z"/><path class=sh d="M1108 1870l7 15-6-7-8-15z"/><path class=si d="M1100 1853l8 17-7-7-7-18z"/><path class=sj d="M1092 1833l8 20-6-8-8-20z"/><path class=sk d="M1084 1810l8 23-6-8-8-23z"/><path class=sm d="M1076 1785l8 25-6-8-8-26z"/><path class=so d="M1068 1756l8 29-6-9-8-29z"/><path class=sp d="M1061 1723l7 33-6-9-7-33z"/><path class=ss d="M1053 1687l8 36-6-9-8-37z"/><path class=su d="M1045 1646l8 41-6-10-8-42z"/><path class=sx d="M1037 1600l8 46-6-11-8-46z"/><path class=sA d="M1029 1549l8 51-6-11-8-52z"/><path class=sD d="M1022 1492l7 57-6-12-7-57z"/><path class=sH d="M1014 1429l8 63-6-12-8-64z"/><path class=sL d="M1006 1360l8 69-6-13-8-70z"/><path class=sP d="M998 1283l8 77-6-14-8-78z"/><path class=sU d="M990 1198l8 85-6-15-8-86z"/><path class=sZ d="M982 1104l8 94-6-16-8-94z"/><path class=sbf d="M975 1002l7 102-6-16-7-103z"/><path class=sh d="M2270 1499l8-21-6-15-8 23z"/><path class=sg d="M2254 1536l16-37-6-13-16 39z"/><path class=sf d="M2246 1551l8-15-6-11-8 17z"/><path class=se d="M2231 1577l15-26-6-9-15 27z"/><path class=sa d="M1207 1956l16 0 23-2 24-4 31-9 445-138 71-23 62-22 196-75-6-3-204 78-62 22-78 25-430 133-31 8-24 4-23 2-16 0z"/><path class=sd d="M1145 1924l15 14-6-5-15-15z"/><path class=se d="M1137 1915l8 9-6-6-8-9z"/><path class=sf d="M1121 1892l16 23-6-6-16-24z"/><path class=sg d="M1114 1877l7 15-6-7-7-15z"/><path class=sh d="M1106 1860l8 17-6-7-8-17z"/><path class=sj d="M1098 1841l8 19-6-7-8-20z"/><path class=sk d="M1090 1819l8 22-6-8-8-23z"/><path class=sl d="M1082 1793l8 26-6-9-8-25z"/><path class=sn d="M1074 1765l8 28-6-8-8-29z"/><path class=sp d="M1067 1733l7 32-6-9-7-33z"/><path class=sr d="M1059 1697l8 36-6-10-8-36z"/><path class=su d="M1051 1657l8 40-6-10-8-41z"/><path class=sw d="M1043 1611l8 46-6-11-8-46z"/><path class=sz d="M1035 1561l8 50-6-11-8-51z"/><path class=sC d="M1028 1505l7 56-6-12-7-57z"/><path class=sG d="M1020 1443l8 62-6-13-8-63z"/><path class=sK d="M1012 1374l8 69-6-14-8-69z"/><path class=sO d="M1004 1298l8 76-6-14-8-77z"/><path class=sT d="M996 1214l8 84-6-15-8-85z"/><path class=sY d="M989 1121l7 93-6-16-8-94z"/><path class=sbe d="M981 1020l8 101-7-17-7-102z"/><path class=sh d="M2276 1511l8-20-6-13-8 21z"/><path class=sg d="M2268 1530l8-19-6-12-8 20z"/><path class=sf d="M2252 1560l16-30-6-11-16 32z"/><path class=se d="M2245 1573l7-13-6-9-7 14z"/><path class=sd d="M2221 1604l24-31-6-8-24 33z"/><path class=sa d="M1205 1959l16 1 24-1 23-4 31-8 446-138 78-25 62-22 188-74-6-2-164 64-86 30-477 150-55 16-31 7-31 3-24-1z"/><path class=sd d="M1151 1930l8 7-6-5-8-8z"/><path class=se d="M1135 1911l16 19-6-6-16-20z"/><path class=sf d="M1127 1898l8 13-6-7-8-12z"/><path class=sg d="M1120 1884l7 14-6-6-7-15z"/><path class=sh d="M1112 1868l8 16-6-7-8-17z"/><path class=si d="M1104 1849l8 19-6-8-8-19z"/><path class=sk d="M1096 1827l8 22-6-8-8-22z"/><path class=sl d="M1088 1802l8 25-6-8-8-26z"/><path class=sn d="M1080 1775l8 27-6-9-8-28z"/><path class=sp d="M1073 1743l7 32-6-10-7-32z"/><path class=sr d="M1065 1708l8 35-6-10-8-36z"/><path class=st d="M1057 1668l8 40-6-11-8-40z"/><path class=sw d="M1049 1623l8 45-6-11-8-46z"/><path class=sz d="M1041 1574l8 49-6-12-8-50z"/><path class=sC d="M1034 1518l7 56-6-13-7-56z"/><path class=sF d="M1026 1457l8 61-6-13-8-62z"/><path class=sJ d="M1018 1389l8 68-6-14-8-69z"/><path class=sO d="M1010 1313l8 76-6-15-8-76z"/><path class=sS d="M1002 1230l8 83-6-15-8-84z"/><path class=sY d="M995 1139l7 91-6-16-7-93z"/><path class=sbd d="M987 1038l8 101-6-18-8-101z"/><path class=sg d="M2274 1540l16-36-6-13-16 39z"/><path class=sf d="M2266 1555l8-15-6-10-8 16z"/><path class=se d="M2251 1581l15-26-6-9-15 27z"/><path class=sd d="M2227 1609l24-28-6-8-24 31z"/><path class=sa d="M1212 1963l15 1 24-1 23-5 31-8 461-143 71-23 62-22 172-68-6-3-180 71-62 22-78 25-446 138-31 8-23 4-24 1-16-1z"/><path class=se d="M1141 1917l16 19-6-6-16-19z"/><path class=sf d="M1133 1905l8 12-6-6-8-13z"/><path class=sg d="M1126 1891l7 14-6-7-7-14z"/><path class=sh d="M1118 1875l8 16-6-7-8-16z"/><path class=si d="M1110 1857l8 18-6-7-8-19z"/><path class=sj d="M1102 1836l8 21-6-8-8-22z"/><path class=sl d="M1094 1811l8 25-6-9-8-25z"/><path class=sn d="M1087 1784l7 27-6-9-8-27z"/><path class=so d="M1079 1753l8 31-7-9-7-32z"/><path class=sq d="M1071 1718l8 35-6-10-8-35z"/><path class=st d="M1063 1679l8 39-6-10-8-40z"/><path class=sv d="M1055 1635l8 44-6-11-8-45z"/><path class=sy d="M1047 1586l8 49-6-12-8-49z"/><path class=sB d="M1040 1532l7 54-6-12-7-56z"/><path class=sF d="M1032 1471l8 61-6-14-8-61z"/><path class=sJ d="M1024 1404l8 67-6-14-8-68z"/><path class=sN d="M1016 1330l8 74-6-15-8-76z"/><path class=sS d="M1008 1248l8 82-6-17-8-83z"/><path class=sX d="M1001 1157l7 91-6-18-7-91z"/><path class=sbc d="M993 1057l8 100-6-18-8-101z"/><path class=sg d="M2288 1534l8-18-6-12-8 19z"/><path class=sf d="M2272 1564l16-30-6-11-16 32z"/><path class=se d="M2265 1576l7-12-6-9-8 14z"/><path class=sd d="M2241 1607l24-31-7-7-23 32z"/><path class=sa d="M1218 1968l15 0 24-2 23-4 31-8 477-148 62-21 63-22 156-64-6-2-164 65-62 22-71 23-461 143-31 8-23 5-24 1-15-1z"/><path class=sd d="M1155 1933l16 15-6-5-16-16z"/><path class=sf d="M1139 1912l8 12-6-7-8-12z"/><path class=sg d="M1132 1899l7 13-6-7-7-14z"/><path class=sh d="M1124 1883l8 16-6-8-8-16z"/><path class=si d="M1116 1865l8 18-6-8-8-18z"/><path class=sj d="M1108 1844l8 21-6-8-8-21z"/><path class=sl d="M1100 1821l8 23-6-8-8-25z"/><path class=sm d="M1093 1794l7 27-6-10-7-27z"/><path class=so d="M1085 1764l8 30-6-10-8-31z"/><path class=sq d="M1077 1729l8 35-6-11-8-35z"/><path class=ss d="M1069 1691l8 38-6-11-8-39z"/><path class=sv d="M1061 1648l8 43-6-12-8-44z"/><path class=sy d="M1053 1600l8 48-6-13-8-49z"/><path class=sB d="M1046 1546l7 54-6-14-7-54z"/><path class=sE d="M1038 1486l8 60-6-14-8-61z"/><path class=sI d="M1030 1420l8 66-6-15-8-67z"/><path class=sM d="M1022 1346l8 74-6-16-8-74z"/><path class=sR d="M1014 1265l8 81-6-16-8-82z"/><path class=sW d="M1007 1176l7 89-6-17-7-91z"/><path class=sbb d="M999 1077l8 99-6-19-8-100z"/><path class=sg d="M2294 1544l8-16-6-12-8 18z"/><path class=sf d="M2286 1559l8-15-6-10-8 16z"/><path class=se d="M2271 1584l15-25-6-9-15 26z"/><path class=sd d="M2247 1612l24-28-6-8-24 31z"/><path class=sa d="M1216 1971l15 2 24-2 23-4 32-8 476-148 70-23 55-19 55-22 101-42-6-3-132 55-86 31-493 154-54 16-32 7-31 3-23-1z"/><path class=sf d="M1138 1906l15 24-6-6-15-25z"/><path class=sg d="M1130 1891l8 15-6-7-8-16z"/><path class=si d="M1122 1873l8 18-6-8-8-18z"/><path class=sj d="M1114 1853l8 20-6-8-8-21z"/><path class=sk d="M1106 1830l8 23-6-9-8-23z"/><path class=sm d="M1099 1804l7 26-6-9-7-27z"/><path class=so d="M1091 1774l8 30-6-10-8-30z"/><path class=sq d="M1083 1741l8 33-6-10-8-35z"/><path class=ss d="M1075 1703l8 38-6-12-8-38z"/><path class=su d="M1067 1660l8 43-6-12-8-43z"/><path class=sx d="M1059 1613l8 47-6-12-8-48z"/><path class=sA d="M1052 1560l7 53-6-13-7-54z"/><path class=sD d="M1044 1501l8 59-6-14-8-60z"/><path class=sH d="M1036 1436l8 65-6-15-8-66z"/><path class=sL d="M1028 1364l8 72-6-16-8-74z"/><path class=sQ d="M1020 1283l8 81-6-18-8-81z"/><path class=sV d="M1013 1195l7 88-6-18-7-89z"/><path class=sba d="M1005 1098l8 97-6-19-8-99z"/><path class=sf d="M2292 1568l16-30-6-10-16 31z"/><path class=se d="M2277 1591l15-23-6-9-15 25z"/><path class=sd d="M2261 1609l16-18-6-7-16 20z"/><path class=sc d="M2214 1646l23-16 24-21-6-5-24 22-23 17z"/><path class=sa d="M1222 1976l15 1 24-2 23-4 32-8 492-153 62-21 55-20 141-58-6-3-94 39-55 22-55 19-70 23-476 148-32 8-23 4-24 2-15-2z"/><path class=se d="M1151 1926l16 20-6-6-16-21z"/><path class=sf d="M1144 1913l7 13-6-7-7-13z"/><path class=sg d="M1136 1899l8 14-6-7-8-15z"/><path class=sh d="M1128 1882l8 17-6-8-8-18z"/><path class=si d="M1120 1862l8 20-6-9-8-20z"/><path class=sk d="M1112 1840l8 22-6-9-8-23z"/><path class=sl d="M1105 1814l7 26-6-10-7-26z"/><path class=sn d="M1097 1785l8 29-6-10-8-30z"/><path class=sp d="M1089 1752l8 33-6-11-8-33z"/><path class=sr d="M1081 1715l8 37-6-11-8-38z"/><path class=su d="M1073 1673l8 42-6-12-8-43z"/><path class=sw d="M1066 1627l7 46-6-13-8-47z"/><path class=sz d="M1058 1575l8 52-7-14-7-53z"/><path class=sD d="M1050 1517l8 58-6-15-8-59z"/><path class=sG d="M1042 1452l8 65-6-16-8-65z"/><path class=sL d="M1034 1381l8 71-6-16-8-72z"/><path class=sP d="M1026 1302l8 79-6-17-8-81z"/><path class=sU d="M1019 1215l7 87-6-19-7-88z"/><path class=sZ d="M1011 1119l8 96-6-20-8-97z"/><path class=sf d="M2306 1563l8-15-6-10-8 16z"/><path class=se d="M2290 1587l16-24-6-9-16 26z"/><path class=sd d="M2267 1614l23-27-6-7-23 29z"/><path class=sc d="M2212 1653l32-19 23-20-6-5-24 21-31 20z"/><path class=sa d="M1228 1980l15 1 24-2 47-11 508-158 62-20 55-20 125-53-6-3-133 55-55 20-70 23-484 151-32 8-23 4-24 2-15-1z"/><path class=sd d="M1165 1944l16 15-6-5-16-17z"/><path class=sf d="M1150 1921l7 12-6-7-7-13z"/><path class=sg d="M1142 1907l8 14-6-8-8-14z"/><path class=sh d="M1134 1890l8 17-6-8-8-17z"/><path class=si d="M1126 1871l8 19-6-8-8-20z"/><path class=sj d="M1118 1849l8 22-6-9-8-22z"/><path class=sl d="M1111 1824l7 25-6-9-7-26z"/><path class=sn d="M1103 1796l8 28-6-10-8-29z"/><path class=sp d="M1095 1764l8 32-6-11-8-33z"/><path class=sr d="M1087 1727l8 37-6-12-8-37z"/><path class=st d="M1079 1686l8 41-6-12-8-42z"/><path class=sw d="M1072 1641l7 45-6-13-7-46z"/><path class=sz d="M1064 1590l8 51-6-14-8-52z"/><path class=sC d="M1056 1533l8 57-6-15-8-58z"/><path class=sG d="M1048 1469l8 64-6-16-8-65z"/><path class=sK d="M1040 1399l8 70-6-17-8-71z"/><path class=sO d="M1032 1321l8 78-6-18-8-79z"/><path class=sT d="M1025 1235l7 86-6-19-7-87z"/><path class=sY d="M1017 1140l8 95-6-20-8-96z"/><path class=sf d="M2312 1571l8-13-6-10-8 15z"/><path class=se d="M2296 1593l16-22-6-8-16 24z"/><path class=sd d="M2273 1619l23-26-6-6-23 27z"/><path class=sc d="M2218 1655l32-18 23-18-6-5-23 20-32 19z"/><path class=sa d="M1226 1983l16 2 23-1 24-4 31-8 367-115 141-43 62-21 55-20 55-22 70-32-6-2-110 46-86 32-515 161-47 14-31 8-32 3-23-2z"/><path class=sf d="M1156 1928l8 12-7-7-7-12z"/><path class=sg d="M1148 1915l8 13-6-7-8-14z"/><path class=sh d="M1140 1899l8 16-6-8-8-17z"/><path class=si d="M1132 1880l8 19-6-9-8-19z"/><path class=sj d="M1124 1859l8 21-6-9-8-22z"/><path class=sl d="M1117 1834l7 25-6-10-7-25z"/><path class=sm d="M1109 1807l8 27-6-10-8-28z"/><path class=so d="M1101 1775l8 32-6-11-8-32z"/><path class=sq d="M1093 1740l8 35-6-11-8-37z"/><path class=st d="M1085 1700l8 40-6-13-8-41z"/><path class=sv d="M1078 1655l7 45-6-14-7-45z"/><path class=sy d="M1070 1605l8 50-6-14-8-51z"/><path class=sB d="M1062 1549l8 56-6-15-8-57z"/><path class=sF d="M1054 1487l8 62-6-16-8-64z"/><path class=sJ d="M1046 1417l8 70-6-18-8-70z"/><path class=sN d="M1038 1341l8 76-6-18-8-78z"/><path class=sS d="M1031 1256l7 85-6-20-7-86z"/><path class=sX d="M1023 1162l8 94-6-21-8-95z"/><path class=se d="M2310 1590l16-24-6-8-16 25z"/><path class=sd d="M2279 1623l16-15 15-18-6-7-15 20-16 16z"/><path class=sc d="M2217 1661l31-16 15-10 16-12-6-4-16 12-15 11-32 17z"/><path class=sa d="M1232 1988l16 1 23-1 47-11 375-117 148-46 55-17 55-21 55-22 62-28-6-3-102 44-85 31-516 162-55 16-31 7-24 2-23-2z"/><path class=se d="M1170 1947l7 10-6-7-7-10z"/><path class=sf d="M1154 1923l16 24-6-7-16-25z"/><path class=sh d="M1138 1889l8 18-6-8-8-19z"/><path class=sj d="M1130 1868l8 21-6-9-8-21z"/><path class=sk d="M1123 1845l7 23-6-9-7-25z"/><path class=sm d="M1115 1818l8 27-6-11-8-27z"/><path class=so d="M1107 1787l8 31-6-11-8-32z"/><path class=sq d="M1099 1752l8 35-6-12-8-35z"/><path class=ss d="M1091 1713l8 39-6-12-8-40z"/><path class=sv d="M1084 1669l7 44-6-13-7-45z"/><path class=sx d="M1076 1620l8 49-6-14-8-50z"/><path class=sB d="M1068 1565l8 55-6-15-8-56z"/><path class=sE d="M1060 1504l8 61-6-16-8-62z"/><path class=sI d="M1052 1436l8 68-6-17-8-70z"/><path class=sM d="M1045 1361l7 75-6-19-8-76z"/><path class=sR d="M1037 1277l8 84-7-20-7-85z"/><path class=sW d="M1029 1185l8 92-6-21-8-94z"/><path class=se d="M2316 1596l16-22-6-8-16 24z"/><path class=sd d="M2285 1627l16-14 15-17-6-6-15 18-16 15z"/><path class=sc d="M2207 1670l47-23 31-20-6-4-16 12-15 10-47 23z"/><path class=sa d="M1238 1993l16 0 23-2 47-11 375-118 164-49 55-19 47-17 47-20 62-28-6-3-62 28-55 22-55 21-55 17-148 46-375 117-47 11-23 1-16-1z"/><path class=se d="M1168 1943l15 20-6-6-15-21z"/><path class=sf d="M1160 1931l8 12-6-7-8-13z"/><path class=sg d="M1152 1916l8 15-6-8-8-16z"/><path class=sh d="M1144 1898l8 18-6-9-8-18z"/><path class=si d="M1136 1878l8 20-6-9-8-21z"/><path class=sk d="M1129 1855l7 23-6-10-7-23z"/><path class=sl d="M1121 1829l8 26-6-10-8-27z"/><path class=sn d="M1113 1799l8 30-6-11-8-31z"/><path class=sp d="M1105 1765l8 34-6-12-8-35z"/><path class=sr d="M1097 1727l8 38-6-13-8-39z"/><path class=su d="M1090 1684l7 43-6-14-7-44z"/><path class=sx d="M1082 1636l8 48-6-15-8-49z"/><path class=sA d="M1074 1582l8 54-6-16-8-55z"/><path class=sD d="M1066 1522l8 60-6-17-8-61z"/><path class=sH d="M1058 1455l8 67-6-18-8-68z"/><path class=sL d="M1051 1381l7 74-6-19-7-75z"/><path class=sQ d="M1043 1299l8 82-6-20-8-84z"/><path class=sV d="M1035 1208l8 91-6-22-8-92z"/><path class=se d="M2322 1602l16-20-6-8-16 22z"/><path class=sd d="M2291 1630l16-13 15-15-6-6-15 17-16 14z"/><path class=sc d="M2205 1675l55-26 31-19-6-3-31 20-55 26z"/><path class=sa d="M1236 1996l16 2 23-2 24-4 23-6 203-63 180-58 164-49 55-18 47-18 47-19 62-29-6-3-94 42-86 32-203 62-336 106-47 14-31 6-23 2-24-2z"/><path class=sf d="M1166 1939l8 12-6-8-8-12z"/><path class=sg d="M1158 1924l8 15-6-8-8-15z"/><path class=sh d="M1150 1907l8 17-6-8-8-18z"/><path class=si d="M1143 1888l7 19-6-9-8-20z"/><path class=sj d="M1135 1866l8 22-7-10-7-23z"/><path class=sl d="M1127 1840l8 26-6-11-8-26z"/><path class=sn d="M1119 1811l8 29-6-11-8-30z"/><path class=sp d="M1111 1778l8 33-6-12-8-34z"/><path class=sr d="M1103 1741l8 37-6-13-8-38z"/><path class=st d="M1096 1699l7 42-6-14-7-43z"/><path class=sw d="M1088 1652l8 47-6-15-8-48z"/><path class=sz d="M1080 1599l8 53-6-16-8-54z"/><path class=sD d="M1072 1540l8 59-6-17-8-60z"/><path class=sG d="M1064 1474l8 66-6-18-8-67z"/><path class=sK d="M1057 1402l7 72-6-19-7-74z"/><path class=sP d="M1049 1321l8 81-6-21-8-82z"/><path class=sU d="M1041 1232l8 89-6-22-8-91z"/><path class=se d="M2336 1598l8-10-6-6-8 10z"/><path class=sd d="M2297 1633l24-19 15-16-6-6-16 18-23 20z"/><path class=sc d="M2196 1683l62-28 23-12 16-10-6-3-16 11-23 12-63 28z"/><path class=sa d="M1242 2001l16 1 23-2 47-11 203-63 180-58 172-51 55-18 47-18 46-20 55-26-6-3-62 29-47 19-47 18-55 18-164 49-180 58-203 63-23 6-24 4-23 2-16-2z"/><path class=sb d="M1219 1993l8 4 15 4-6-5-15-5-8-3z"/><path class=sd d="M1188 1968l15 15-6-6-15-16z"/><path class=sf d="M1164 1933l16 25-6-7-16-27z"/><path class=sh d="M1156 1917l8 16-6-9-8-17z"/><path class=si d="M1149 1898l7 19-6-10-7-19z"/><path class=sj d="M1141 1876l8 22-6-10-8-22z"/><path class=sl d="M1133 1851l8 25-6-10-8-26z"/><path class=sm d="M1125 1823l8 28-6-11-8-29z"/><path class=so d="M1117 1791l8 32-6-12-8-33z"/><path class=sq d="M1109 1755l8 36-6-13-8-37z"/><path class=st d="M1102 1714l7 41-6-14-7-42z"/><path class=sv d="M1094 1668l8 46-6-15-8-47z"/><path class=sy d="M1086 1616l8 52-6-16-8-53z"/><path class=sC d="M1078 1558l8 58-6-17-8-59z"/><path class=sF d="M1070 1494l8 64-6-18-8-66z"/><path class=sJ d="M1063 1423l7 71-6-20-7-72z"/><path class=sO d="M1055 1343l8 80-6-21-8-81z"/><path class=sT d="M1047 1255l8 88-6-22-8-89z"/><path class=se d="M2342 1603l8-9-6-6-8 10z"/><path class=sd d="M2303 1636l24-18 15-15-6-5-15 16-24 19z"/><path class=sc d="M2194 1689l70-32 39-21-6-3-16 10-23 12-70 32z"/><path class=sa d="M1248 2005l16 1 23-2 47-11 203-64 188-60 180-54 47-16 46-18 47-21 47-22-6-3-55 26-46 20-47 18-55 18-172 51-180 58-203 63-47 11-23 2-16-1z"/><path class=sb d="M1217 1995l16 7 15 3-6-4-15-4-16-8z"/><path class=se d="M1178 1955l16 20-6-7-16-21z"/><path class=sf d="M1170 1941l8 14-6-8-8-14z"/><path class=sg d="M1162 1926l8 15-6-8-8-16z"/><path class=sh d="M1155 1908l7 18-6-9-7-19z"/><path class=sj d="M1147 1887l8 21-6-10-8-22z"/><path class=sk d="M1139 1863l8 24-6-11-8-25z"/><path class=sm d="M1131 1835l8 28-6-12-8-28z"/><path class=so d="M1123 1804l8 31-6-12-8-32z"/><path class=sq d="M1115 1768l8 36-6-13-8-36z"/><path class=ss d="M1108 1729l7 39-6-13-7-41z"/><path class=sv d="M1100 1684l8 45-6-15-8-46z"/><path class=sy d="M1092 1633l8 51-6-16-8-52z"/><path class=sB d="M1084 1577l8 56-6-17-8-58z"/><path class=sE d="M1076 1514l8 63-6-19-8-64z"/><path class=sI d="M1069 1444l7 70-6-20-7-71z"/><path class=sN d="M1061 1366l8 78-6-21-8-80z"/><path class=sS d="M1053 1280l8 86-6-23-8-88z"/><path class=se d="M2348 1608l8-8-6-6-8 9z"/><path class=sd d="M2301 1643l24-15 23-20-6-5-23 22-24 16z"/><path class=sc d="M2192 1694l78-36 31-15-6-2-31 16-78 35z"/><path class=sa d="M1247 2009l15 1 24-1 23-4 23-7 204-63 195-64 180-53 47-15 46-18 47-21 47-23-6-3-55 26-46 20-47 18-47 16-172 51-195 63-204 63-23 6-23 4-24 1-15-2z"/><path class=sb d="M1223 2000l8 4 16 5-6-5-16-5-8-4z"/><path class=sf d="M1176 1950l8 13-6-8-8-14z"/><path class=sg d="M1168 1935l8 15-6-9-8-15z"/><path class=sh d="M1161 1917l7 18-6-9-7-18z"/><path class=si d="M1153 1897l8 20-6-9-8-21z"/><path class=sk d="M1145 1874l8 23-6-10-8-24z"/><path class=sl d="M1137 1847l8 27-6-11-8-28z"/><path class=sn d="M1129 1817l8 30-6-12-8-31z"/><path class=sp d="M1122 1783l7 34-6-13-8-36z"/><path class=sr d="M1114 1744l8 39-7-15-7-39z"/><path class=su d="M1106 1700l8 44-6-15-8-45z"/><path class=sx d="M1098 1650l8 50-6-16-8-51z"/><path class=sA d="M1090 1595l8 55-6-17-8-56z"/><path class=sE d="M1082 1534l8 61-6-18-8-63z"/><path class=sH d="M1075 1465l7 69-6-20-7-70z"/><path class=sM d="M1067 1389l8 76-6-21-8-78z"/><path class=sR d="M1059 1304l8 85-6-23-8-86z"/><path class=se d="M2354 1612l8-8-6-4-8 8z"/><path class=sd d="M2307 1644l24-14 23-18-6-4-23 20-24 15z"/><path class=sc d="M2190 1700l117-56-6-1-31 15-86 40z"/><path class=sa d="M1253 2014l15 1 24-2 46-11 204-64 195-64 187-55 47-16 39-15 47-20 47-24-6-3-47 23-47 21-46 18-47 15-180 53-195 64-204 63-23 7-23 4-24 1-15-1z"/><path class=sb d="M1229 2006l8 3 16 5-6-5-16-5-8-4z"/><path class=se d="M1190 1970l8 11-6-8-8-10z"/><path class=sf d="M1182 1958l8 12-6-7-8-13z"/><path class=sh d="M1167 1927l7 17-6-9-7-18z"/><path class=sj d="M1151 1885l8 23-6-11-8-23z"/><path class=sl d="M1143 1859l8 26-6-11-8-27z"/><path class=sn d="M1135 1830l8 29-6-12-8-30z"/><path class=sp d="M1128 1797l7 33-6-13-7-34z"/><path class=sr d="M1120 1759l8 38-6-14-8-39z"/><path class=st d="M1112 1716l8 43-6-15-8-44z"/><path class=sw d="M1104 1668l8 48-6-16-8-50z"/><path class=sz d="M1096 1614l8 54-6-18-8-55z"/><path class=sD d="M1088 1554l8 60-6-19-8-61z"/><path class=sG d="M1081 1487l7 67-6-20-7-69z"/><path class=sL d="M1073 1412l8 75-6-22-8-76z"/><path class=sP d="M1065 1329l8 83-6-23-8-85z"/><path class=se d="M2360 1616l8-8-6-4-8 8z"/><path class=sd d="M2298 1654l39-21 23-17-6-4-23 18-39 22z"/><path class=sc d="M2196 1702l102-48-6-2-102 48z"/><path class=sa d="M1251 2017l15 2 24-1 23-5 24-6 203-63 203-68 195-56 47-16 39-15 39-18 47-23-6-4-78 38-39 16-39 14-47 14-164 48-195 64-180 57-39 11-31 7-24 2-23-3z"/><path class=sb d="M1227 2008l8 4 16 5-6-5-16-6-8-4z"/><path class=se d="M1188 1967l16 21-6-7-16-23z"/><path class=sf d="M1180 1953l8 14-6-9-8-14z"/><path class=sg d="M1173 1937l7 16-6-9-7-17z"/><path class=sh d="M1165 1918l8 19-6-10-8-19z"/><path class=sj d="M1157 1896l8 22-6-10-8-23z"/><path class=sk d="M1149 1872l8 24-6-11-8-26z"/><path class=sm d="M1141 1843l8 29-6-13-8-29z"/><path class=so d="M1134 1811l7 32-6-13-7-33z"/><path class=sq d="M1126 1774l8 37-6-14-8-38z"/><path class=st d="M1118 1732l8 42-6-15-8-43z"/><path class=sv d="M1110 1685l8 47-6-16-8-48z"/><path class=sy d="M1102 1633l8 52-6-17-8-54z"/><path class=sC d="M1094 1574l8 59-6-19-8-60z"/><path class=sF d="M1087 1508l7 66-6-20-7-67z"/><path class=sK d="M1079 1435l8 73-6-21-8-75z"/><path class=sO d="M1071 1354l8 81-6-23-8-83z"/><path class=se d="M2366 1619l8-7-6-4-8 8z"/><path class=sd d="M2296 1659l39-20 31-20-6-3-15 12-16 9-39 20z"/><path class=sc d="M2194 1709l47-25 55-25-6-2-55 26-47 23z"/><path class=sa d="M1257 2022l15 1 24-1 23-5 24-6 203-64 203-68 203-58 39-13 39-16 39-17 47-24-6-3-47 23-39 18-39 15-47 16-195 56-203 68-203 63-24 6-23 5-24 1-15-2z"/><path class=sb d="M1233 2014l8 3 16 5-6-5-16-5-8-4z"/><path class=se d="M1194 1975l8 11-6-8-8-11z"/><path class=sf d="M1186 1962l8 13-6-8-8-14z"/><path class=sg d="M1179 1946l7 16-6-9-7-16z"/><path class=sh d="M1171 1928l8 18-6-9-8-19z"/><path class=si d="M1163 1908l8 20-6-10-8-22z"/><path class=sk d="M1155 1884l8 24-6-12-8-24z"/><path class=sl d="M1147 1856l8 28-6-12-8-29z"/><path class=sn d="M1140 1825l7 31-6-13-7-32z"/><path class=sp d="M1132 1789l8 36-6-14-8-37z"/><path class=ss d="M1124 1749l8 40-6-15-8-42z"/><path class=su d="M1116 1703l8 46-6-17-8-47z"/><path class=sx d="M1108 1652l8 51-6-18-8-52z"/><path class=sB d="M1101 1594l7 58-6-19-8-59z"/><path class=sE d="M1093 1530l8 64-7-20-7-66z"/><path class=sJ d="M1085 1459l8 71-6-22-8-73z"/><path class=sN d="M1077 1379l8 80-6-24-8-81z"/><path class=se d="M2372 1621l8-6-6-3-8 7z"/><path class=sd d="M2286 1667l55-26 31-20-6-2-31 20-55 27z"/><path class=sa d="M1263 2027l15 1 16-1 24-5 23-6 211-66 211-72 203-56 39-14 39-15 39-18 39-20-6-4-47 24-39 17-39 16-39 13-203 58-203 68-203 64-24 6-23 5-24 1-15-1z"/><path class=sb d="M1232 2015l15 8 16 4-6-5-16-5-15-8z"/><path class=sd d="M1208 1994l8 8-6-7-8-9z"/><path class=se d="M1200 1983l8 11-6-8-8-11z"/><path class=sh d="M1177 1939l8 17-6-10-8-18z"/><path class=si d="M1169 1919l8 20-6-11-8-20z"/><path class=sj d="M1161 1896l8 23-6-11-8-24z"/><path class=sl d="M1153 1869l8 27-6-12-8-28z"/><path class=sn d="M1146 1839l7 30-6-13-7-31z"/><path class=sp d="M1138 1804l8 35-6-14-8-36z"/><path class=sr d="M1130 1765l8 39-6-15-8-40z"/><path class=su d="M1122 1721l8 44-6-16-8-46z"/><path class=sx d="M1114 1671l8 50-6-18-8-51z"/><path class=sA d="M1107 1615l7 56-6-19-7-58z"/><path class=sD d="M1099 1552l8 63-6-21-8-64z"/><path class=sH d="M1091 1482l8 70-6-22-8-71z"/><path class=sM d="M1083 1405l8 77-6-23-8-80z"/><path class=se d="M2371 1628l15-10-6-3-16 12z"/><path class=sd d="M2277 1676l62-30 32-18-7-1-31 18-62 29z"/><path class=sa d="M1261 2030l16 2 23-1 24-5 23-6 203-64 164-58 55-18 55-16 109-28 47-14 39-13 39-16 39-18 39-21-6-3-47 24-39 18-39 15-39 14-203 56-211 72-211 66-23 6-24 5-23 0-16-2z"/><path class=sb d="M1238 2021l7 4 16 5-6-5-16-6-7-4z"/><path class=se d="M1199 1979l15 22-6-7-16-23z"/><path class=sf d="M1191 1965l8 14-7-8-7-15z"/><path class=sg d="M1183 1949l8 16-6-9-8-17z"/><path class=sh d="M1175 1930l8 19-6-10-8-20z"/><path class=sj d="M1167 1908l8 22-6-11-8-23z"/><path class=sk d="M1159 1882l8 26-6-12-8-27z"/><path class=sm d="M1152 1853l7 29-6-13-7-30z"/><path class=so d="M1144 1819l8 34-6-14-8-35z"/><path class=sq d="M1136 1781l8 38-6-15-8-39z"/><path class=st d="M1128 1738l8 43-6-16-8-44z"/><path class=sw d="M1120 1690l8 48-6-17-8-50z"/><path class=sz d="M1113 1635l7 55-6-19-7-56z"/><path class=sC d="M1105 1574l8 61-6-20-8-63z"/><path class=sG d="M1097 1506l8 68-6-22-8-70z"/><path class=sL d="M1089 1430l8 76-6-24-8-77z"/><path class=se d="M2369 1634l23-14-6-2-23 15z"/><path class=sd d="M2275 1681l94-47-6-1-94 47z"/><path class=sa d="M1267 2035l16 1 15 0 24-5 23-6 211-66 164-58 55-19 55-16 117-29 47-14 39-13 31-13 39-18 39-21-6-4-39 21-39 18-39 16-39 13-47 14-109 28-55 16-55 18-164 58-203 64-23 6-24 5-23 1-16-2z"/><path class=sb d="M1244 2027l7 4 16 4-6-5-16-5-7-4z"/><path class=sf d="M1197 1975l8 13-6-9-8-14z"/><path class=sg d="M1189 1959l8 16-6-10-8-16z"/><path class=si d="M1173 1919l8 22-6-11-8-22z"/><path class=sk d="M1165 1895l8 24-6-11-8-26z"/><path class=sm d="M1158 1867l7 28-6-13-7-29z"/><path class=sn d="M1150 1834l8 33-6-14-8-34z"/><path class=sq d="M1142 1797l8 37-6-15-8-38z"/><path class=ss d="M1134 1756l8 41-6-16-8-43z"/><path class=sv d="M1126 1709l8 47-6-18-8-48z"/><path class=sy d="M1119 1656l7 53-6-19-7-55z"/><path class=sB d="M1111 1596l8 60-6-21-8-61z"/><path class=sF d="M1103 1530l8 66-6-22-8-68z"/><path class=sJ d="M1095 1456l8 74-6-24-8-76z"/><path class=se d="M2367 1639l31-17-6-2-31 19z"/><path class=sd d="M2273 1687l39-21 55-27-6 0-94 46z"/><path class=sa d="M1265 2039l16 2 16-1 23-3 23-6 219-69 164-60 55-18 62-18 118-29 47-13 39-14 31-12 31-15 39-21-6-4-39 21-39 18-31 13-39 13-47 14-117 29-55 16-55 19-164 58-211 66-23 6-24 5-23 0-16-3z"/><path class=sb d="M1242 2029l8 4 15 6-6-6-15-6-8-5z"/><path class=se d="M1211 1997l7 10-6-8-7-11z"/><path class=sf d="M1195 1969l16 28-6-9-16-29z"/><path class=sh d="M1187 1952l8 17-6-10-8-18z"/><path class=si d="M1179 1931l8 21-6-11-8-22z"/><path class=sj d="M1172 1908l7 23-6-12-8-24z"/><path class=sl d="M1164 1880l8 28-7-13-7-28z"/><path class=sn d="M1156 1849l8 31-6-13-8-33z"/><path class=sp d="M1148 1814l8 35-6-15-8-37z"/><path class=sr d="M1140 1773l8 41-6-17-8-41z"/><path class=su d="M1132 1728l8 45-6-17-8-47z"/><path class=sx d="M1125 1676l7 52-6-19-7-53z"/><path class=sA d="M1117 1618l8 58-6-20-8-60z"/><path class=sE d="M1109 1554l8 64-6-22-8-66z"/><path class=sI d="M1101 1482l8 72-6-24-8-74z"/><path class=se d="M2357 1648l47-25-6-1-23 13-24 12z"/><path class=sd d="M2279 1689l39-22 39-19-6-1-78 40z"/><path class=sa d="M1271 2044l16 1 16-1 23-4 23-6 211-66 172-64 63-21 54-15 118-28 54-15 32-11 31-13 31-14 39-21-6-4-39 21-31 15-31 12-39 14-47 13-118 29-62 18-55 18-164 60-219 69-23 6-23 3-16 1-16-2z"/><path class=sb d="M1248 2035l8 4 15 5-6-5-15-6-8-4z"/><path class=sf d="M1201 1979l8 14-6-9-8-15z"/><path class=sg d="M1193 1962l8 17-6-10-8-17z"/><path class=sh d="M1185 1943l8 19-6-10-8-21z"/><path class=sj d="M1178 1920l7 23-6-12-7-23z"/><path class=sk d="M1170 1894l8 26-6-12-8-28z"/><path class=sm d="M1162 1864l8 30-6-14-8-31z"/><path class=so d="M1154 1830l8 34-6-15-8-35z"/><path class=sq d="M1146 1791l8 39-6-16-8-41z"/><path class=st d="M1138 1746l8 45-6-18-8-45z"/><path class=sw d="M1131 1697l7 49-6-18-7-52z"/><path class=sz d="M1123 1641l8 56-6-21-8-58z"/><path class=sD d="M1115 1578l8 63-6-23-8-64z"/><path class=sH d="M1107 1507l8 71-6-24-8-72z"/><path class=se d="M2348 1656l62-32-6-1-62 32z"/><path class=sd d="M2277 1696l39-23 32-17-6-1-39 21-32 18z"/><path class=sa d="M1269 2047l16 2 16 0 23-3 24-6 218-69 55-20 117-45 63-22 62-17 117-27 55-15 31-10 32-13 31-15 39-22-6-4-39 22-31 15-32 13-39 14-54 15-118 28-54 15-63 21-172 64-211 66-23 6-23 4-24 1-16-3z"/><path class=sb d="M1246 2036l8 5 15 6-6-5-15-7-8-5z"/><path class=sd d="M1223 2013l7 10-6-8-7-10z"/><path class=se d="M1215 2002l8 11-6-8-8-12z"/><path class=sh d="M1191 1954l8 19-6-11-8-19z"/><path class=si d="M1184 1933l7 21-6-11-7-23z"/><path class=sk d="M1176 1908l8 25-6-13-8-26z"/><path class=sm d="M1168 1879l8 29-6-14-8-30z"/><path class=so d="M1160 1846l8 33-6-15-8-34z"/><path class=sq d="M1152 1808l8 38-6-16-8-39z"/><path class=ss d="M1144 1765l8 43-6-17-8-45z"/><path class=sv d="M1137 1717l7 48-6-19-7-49z"/><path class=sy d="M1129 1662l8 55-6-20-8-56z"/><path class=sC d="M1121 1601l8 61-6-21-8-63z"/><path class=sG d="M1113 1533l8 68-6-23-8-71z"/><path class=se d="M2346 1661l70-37-6 0-70 36z"/><path class=sd d="M2283 1698l63-37-6-1-63 36z"/><path class=sa d="M1276 2052l15 2 16-1 23-4 24-6 218-69 55-21 117-46 63-22 62-17 125-27 55-15 31-11 32-13 31-15 31-18-6-4-39 22-31 15-32 13-31 10-55 15-117 27-62 17-63 22-117 45-55 20-218 69-24 6-23 3-16 0-16-2z"/><path class=sb d="M1252 2043l8 4 16 5-7-5-15-6-8-5z"/><path class=se d="M1213 1998l16 24-6-9-16-24z"/><path class=sf d="M1205 1983l8 15-6-9-8-16z"/><path class=sg d="M1197 1966l8 17-6-10-8-19z"/><path class=si d="M1190 1945l7 21-6-12-7-21z"/><path class=sj d="M1182 1921l8 24-6-12-8-25z"/><path class=sl d="M1174 1893l8 28-6-13-8-29z"/><path class=sn d="M1166 1861l8 32-6-14-8-33z"/><path class=sp d="M1158 1825l8 36-6-15-8-38z"/><path class=sr d="M1151 1784l7 41-6-17-8-43z"/><path class=su d="M1143 1737l8 47-7-19-7-48z"/><path class=sx d="M1135 1684l8 53-6-20-8-55z"/><path class=sB d="M1127 1625l8 59-6-22-8-61z"/><path class=sE d="M1119 1559l8 66-6-24-8-68z"/><path class=se d="M2344 1666l78-41-6-1-78 41z"/><path class=sd d="M2289 1701l55-35-6-1-55 33z"/><path class=sa d="M1274 2055l15 3 24-1 23-4 31-9 157-49 54-18 47-18 149-60-6-1-196 76-211 67-31 8-23 4-24 0-15-3z"/><path class=sb d="M1258 2049l16 6-6-5-16-7z"/><path class=sc d="M1242 2038l16 11-6-6-16-13z"/><path class=sg d="M1203 1977l8 17-6-11-8-17z"/><path class=sh d="M1196 1957l7 20-6-11-7-21z"/><path class=sj d="M1188 1934l8 23-6-12-8-24z"/><path class=sk d="M1180 1908l8 26-6-13-8-28z"/><path class=sm d="M1172 1877l8 31-6-15-8-32z"/><path class=so d="M1164 1842l8 35-6-16-8-36z"/><path class=sr d="M1157 1802l7 40-6-17-7-41z"/><path class=st d="M1149 1757l8 45-6-18-8-47z"/><path class=sw d="M1141 1706l8 51-6-20-8-53z"/><path class=sz d="M1133 1649l8 57-6-22-8-59z"/><path class=sD d="M1125 1584l8 65-6-24-8-66z"/><path class=sf d="M2413 1633l15-8-6 0-15 8z"/><path class=se d="M2342 1672l32-18 39-21-6 0-71 38z"/><path class=sd d="M2295 1703l47-31-6-1-47 30z"/><path class=sb d="M1749 1912l39-15 39-13 39-11 39-9-6-1-39 9-39 11-39 13-39 15z"/><path class=sa d="M1280 2061l15 2 16-1 31-6 180-55 47-16 47-18 133-55-6-1-110 45-62 23-204 65-31 9-23 4-24 1-15-3z"/><path class=sb d="M1256 2051l8 4 16 6-6-6-16-6-8-5z"/><path class=se d="M1225 2017l8 11-6-8-8-12z"/><path class=sf d="M1217 2004l8 13-6-9-8-14z"/><path class=sh d="M1202 1969l7 19-6-11-7-20z"/><path class=si d="M1194 1947l8 22-6-12-8-23z"/><path class=sk d="M1186 1922l8 25-6-13-8-26z"/><path class=sl d="M1178 1892l8 30-6-14-8-31z"/><path class=sn d="M1170 1859l8 33-6-15-8-35z"/><path class=sq d="M1163 1821l7 38-6-17-7-40z"/><path class=ss d="M1155 1777l8 44-6-19-8-45z"/><path class=sv d="M1147 1728l8 49-6-20-8-51z"/><path class=sy d="M1139 1672l8 56-6-22-8-57z"/><path class=sC d="M1131 1609l8 63-6-23-8-65z"/><path class=sf d="M2403 1641l31-16-6 0-31 16z"/><path class=se d="M2341 1679l31-20 31-18-6 0-31 17-31 19z"/><path class=sd d="M2302 1706l39-27-6-2-40 26z"/><path class=sb d="M1731 1922l55-22 55-19 46-12 55-11-6 0-55 11-47 12-54 19-55 21z"/><path class=sa d="M1286 2066l23 1 31-5 188-58 47-16 39-15 117-51-6-1-94 40-54 21-55 19-148 46-32 9-23 5-24 2-15-2z"/><path class=sb d="M1262 2057l8 4 16 5-6-5-16-6-8-4z"/><path class=sc d="M1247 2045l15 12-6-6-15-14z"/><path class=sf d="M1215 1999l8 15-6-10-8-16z"/><path class=sg d="M1208 1981l7 18-6-11-7-19z"/><path class=si d="M1200 1960l8 21-6-12-8-22z"/><path class=sj d="M1192 1936l8 24-6-13-8-25z"/><path class=sl d="M1184 1908l8 28-6-14-8-30z"/><path class=sn d="M1176 1875l8 33-6-16-8-33z"/><path class=sp d="M1169 1839l7 36-6-16-7-38z"/><path class=sr d="M1161 1797l8 42-6-18-8-44z"/><path class=su d="M1153 1749l8 48-6-20-8-49z"/><path class=sx d="M1145 1695l8 54-6-21-8-56z"/><path class=sB d="M1137 1635l8 60-6-23-8-63z"/><path class=sf d="M2401 1645l39-21-6 1-39 20z"/><path class=se d="M2347 1681l54-36-6 0-54 34z"/><path class=sd d="M2308 1709l39-28-6-2-39 27z"/><path class=sb d="M1714 1933l70-30 55-20 54-15 71-12-6 0-71 13-54 15-55 19-70 30z"/><path class=sa d="M1284 2069l23 3 32-5 31-8 148-47 47-16 39-14 47-20 63-29-6 0-78 34-63 24-203 64-24 7-23 4-23 1-16-3z"/><path class=sb d="M1261 2059l7 4 16 6-6-5-16-7-7-5z"/><path class=sg d="M1214 1992l7 17-6-10-7-18z"/><path class=sh d="M1206 1973l8 19-6-11-8-21z"/><path class=sj d="M1198 1949l8 24-6-13-8-24z"/><path class=sk d="M1190 1923l8 26-6-13-8-28z"/><path class=sm d="M1182 1892l8 31-6-15-8-33z"/><path class=so d="M1175 1856l7 36-6-17-7-36z"/><path class=sq d="M1167 1816l8 40-6-17-8-42z"/><path class=st d="M1159 1770l8 46-6-19-8-48z"/><path class=sw d="M1151 1718l8 52-6-21-8-54z"/><path class=sA d="M1143 1660l8 58-6-23-8-60z"/><path class=sf d="M2399 1651l47-27-6 0-47 26z"/><path class=se d="M2353 1683l46-32-6-1-46 31z"/><path class=sd d="M2314 1712l39-29-6-2-39 28z"/><path class=sb d="M1704 1941l86-39 31-12 32-10 31-9 31-7 70-10-6 0-78 13-31 7-31 9-63 23-78 35z"/><path class=sa d="M1290 2075l23 1 32-5 179-56 47-16 39-15 94-43-6 0-70 31-63 24-195 63-24 6-23 5-23 2-16-3z"/><path class=sb d="M1267 2065l7 5 16 5-6-6-16-6-7-4z"/><path class=sc d="M1251 2053l16 12-6-6-16-14z"/><path class=se d="M1228 2019l15 25-6-9-16-26z"/><path class=sh d="M1212 1985l8 19-6-12-8-19z"/><path class=si d="M1204 1963l8 22-6-12-8-24z"/><path class=sj d="M1196 1937l8 26-6-14-8-26z"/><path class=sl d="M1188 1908l8 29-6-14-8-31z"/><path class=sn d="M1181 1874l7 34-6-16-7-36z"/><path class=sq d="M1173 1835l8 39-6-18-8-40z"/><path class=ss d="M1165 1791l8 44-6-19-8-46z"/><path class=sv d="M1157 1741l8 50-6-21-8-52z"/><path class=sy d="M1149 1684l8 57-6-23-8-58z"/><path class=sf d="M2398 1657l23-16 31-18-6 1-54 32z"/><path class=se d="M2351 1691l47-34-6-1-47 32z"/><path class=sd d="M2320 1716l31-25-6-3-31 24z"/><path class=sc d="M2281 1747l39-31-6-4-40 31z"/><path class=sb d="M1905 1866l47-8 63-6-6-1-63 8-47 9z"/><path class=sc d="M1812 1895l47-17 46-12-6 2-46 12-47 16z"/><path class=sb d="M1695 1950l70-35 47-20-6 1-47 20-71 33z"/><path class=sa d="M1288 2078l24 3 15-2 16-3 31-8 141-45 47-15 39-15 39-17 55-26-7-1-70 32-55 21-195 62-23 7-24 4-23 1-16-3z"/><path class=sb d="M1265 2067l8 5 15 6-6-5-15-8-8-5z"/><path class=sc d="M1257 2060l8 7-6-7-8-7z"/><path class=sf d="M1226 2015l8 14-6-10-8-15z"/><path class=sg d="M1218 1997l8 18-6-11-8-19z"/><path class=sh d="M1210 1976l8 21-6-12-8-22z"/><path class=sj d="M1202 1952l8 24-6-13-8-26z"/><path class=sl d="M1194 1924l8 28-6-15-8-29z"/><path class=sm d="M1187 1891l7 33-6-16-7-34z"/><path class=sp d="M1179 1854l8 37-6-17-8-39z"/><path class=sr d="M1171 1812l8 42-6-19-8-44z"/><path class=su d="M1163 1763l8 49-6-21-8-50z"/><path class=sx d="M1155 1709l8 54-6-22-8-57z"/><path class=sg d="M2451 1627l7-4-6 0-7 5z"/><path class=sf d="M2396 1663l23-16 32-20-6 1-32 18-23 16z"/><path class=se d="M2357 1694l39-31-6-1-39 29z"/><path class=sd d="M2326 1720l31-26-6-3-31 25z"/><path class=sc d="M2287 1752l39-32-6-4-39 31z"/><path class=sb d="M1951 1858l78-7-6 0-78 8z"/><path class=sc d="M1779 1910l47-20 39-14 39-10 47-8-6 1-47 9-39 10-39 14-47 20z"/><path class=sb d="M1693 1954l86-44-6 2-86 42z"/><path class=sa d="M1294 2084l24 1 31-5 180-56 39-13 39-16 39-17 47-24-6 0-63 29-54 22-47 16-149 47-23 6-24 5-23 2-16-3z"/><path class=sb d="M1271 2074l8 4 15 6-6-6-15-6-8-5z"/><path class=sc d="M1255 2060l16 14-6-7-16-15z"/><path class=sh d="M1216 1989l8 20-6-12-8-21z"/><path class=si d="M1208 1966l8 23-6-13-8-24z"/><path class=sk d="M1200 1939l8 27-6-14-8-28z"/><path class=sm d="M1193 1908l7 31-6-15-7-33z"/><path class=so d="M1185 1873l8 35-6-17-8-37z"/><path class=sq d="M1177 1832l8 41-6-19-8-42z"/><path class=st d="M1169 1786l8 46-6-20-8-49z"/><path class=sw d="M1161 1733l8 53-6-23-8-54z"/><path class=sg d="M2441 1637l23-15-6 1-23 14z"/><path class=sf d="M2402 1665l39-28-6 0-39 26z"/><path class=se d="M2363 1697l39-32-6-2-39 31z"/><path class=sd d="M2332 1724l31-27-6-3-31 26z"/><path class=sc d="M2300 1750l32-26-6-4-32 25z"/><path class=sb d="M1980 1853l70-3-6 0-70 5z"/><path class=sc d="M1761 1921l55-27 31-13 24-8 23-6 31-7 55-7-6 2-55 8-31 6-23 7-55 20-55 26z"/><path class=sb d="M1683 1963l78-42-6 1-78 40z"/><path class=sa d="M1292 2087l8 2 16 1 16-2 15-3 172-53 47-16 39-15 39-18 39-20-6-1-55 26-54 23-39 13-157 49-23 7-24 4-23 1-16-4z"/><path class=sb d="M1269 2075l8 5 15 7-6-6-15-7-8-6z"/><path class=sc d="M1261 2068l8 7-6-7-8-8z"/><path class=sd d="M1246 2049l15 19-6-8-15-21z"/><path class=se d="M1238 2036l8 13-6-10-8-14z"/><path class=sg d="M1222 2002l8 18-6-11-8-20z"/><path class=si d="M1214 1980l8 22-6-13-8-23z"/><path class=sj d="M1207 1955l7 25-6-14-8-27z"/><path class=sl d="M1199 1925l8 30-7-16-7-31z"/><path class=sn d="M1191 1891l8 34-6-17-8-35z"/><path class=sp d="M1183 1852l8 39-6-18-8-41z"/><path class=ss d="M1175 1807l8 45-6-20-8-46z"/><path class=sv d="M1167 1757l8 50-6-21-8-53z"/><path class=sg d="M2439 1643l31-21-6 0-31 20z"/><path class=sf d="M2408 1667l31-24-6-1-31 23z"/><path class=se d="M2369 1701l39-34-6-2-39 32z"/><path class=sd d="M2338 1728l31-27-6-4-31 27z"/><path class=sc d="M2306 1755l32-27-6-4-32 26z"/><path class=sb d="M2009 1850l63-1-6 0-63 3z"/><path class=sc d="M1924 1858l39-5 46-3-6 2-46 4-39 6z"/><path class=sd d="M1845 1881l39-13 40-10-6 4-40 9-39 13z"/><path class=sc d="M1752 1928l54-29 39-18-6 3-39 17-54 28z"/><path class=sb d="M1681 1968l71-40-6 1-71 38z"/><path class=sa d="M1298 2092l24 2 31-5 180-56 39-14 31-13 39-18 39-20-6-1-54 27-55 22-39 14-149 46-23 7-23 5-24 2-16-3z"/><path class=sb d="M1275 2082l8 5 15 5-6-5-15-7-8-5z"/><path class=sc d="M1259 2068l16 14-6-7-16-15z"/><path class=sf d="M1236 2031l8 15-6-10-8-16z"/><path class=sg d="M1228 2014l8 17-6-11-8-18z"/><path class=sh d="M1220 1994l8 20-6-12-8-22z"/><path class=sj d="M1213 1969l7 25-6-14-7-25z"/><path class=sk d="M1205 1941l8 28-6-14-8-30z"/><path class=sm d="M1197 1909l8 32-6-16-8-34z"/><path class=so d="M1189 1872l8 37-6-18-8-39z"/><path class=sr d="M1181 1829l8 43-6-20-8-45z"/><path class=su d="M1173 1780l8 49-6-22-8-50z"/><path class=sg d="M2445 1644l31-23-6 1-31 21z"/><path class=sf d="M2406 1676l39-32-6-1-39 31z"/><path class=se d="M2383 1697l23-21-6-2-23 20z"/><path class=sd d="M2351 1726l32-29-6-3-32 27z"/><path class=sc d="M2320 1753l31-27-6-5-31 27z"/><path class=sb d="M2039 1847l55 1-6 0-55 1z"/><path class=sc d="M1969 1849l31-2 39 0-6 2-70 4z"/><path class=sd d="M1805 1900l46-22 39-14 40-10 39-5-6 4-39 5-40 10-39 13-46 22z"/><path class=sc d="M1742 1935l63-35-6 3-63 34z"/><path class=sb d="M1672 1977l70-42-6 2-70 39z"/><path class=sa d="M1297 2096l8 2 15 1 16-1 15-4 172-53 39-13 39-16 32-15 39-20-6-1-55 27-47 19-39 13-156 50-24 6-23 3-16 0-15-4z"/><path class=sb d="M1281 2089l16 7-6-6-16-8z"/><path class=sc d="M1265 2076l16 13-6-7-16-14z"/><path class=sh d="M1226 2007l8 19-6-12-8-20z"/><path class=si d="M1219 1984l7 23-6-13-7-25z"/><path class=sk d="M1211 1957l8 27-6-15-8-28z"/><path class=sl d="M1203 1927l8 30-6-16-8-32z"/><path class=so d="M1195 1891l8 36-6-18-8-37z"/><path class=sq d="M1187 1850l8 41-6-19-8-43z"/><path class=st d="M1179 1803l8 47-6-21-8-49z"/><path class=sg d="M2443 1651l40-30-7 0-39 29z"/><path class=sf d="M2412 1679l31-28-6-1-31 26z"/><path class=se d="M2389 1701l23-22-6-3-23 21z"/><path class=sd d="M2358 1730l31-29-6-4-32 29z"/><path class=sc d="M2326 1759l32-29-7-4-31 27z"/><path class=sa d="M2107 1847l47-2 24-4 23-6 24-9 15-7 24-14 23-15-6-6-23 16-24 14-39 17-23 7-24 5-47 5z"/><path class=sb d="M2061 1846l46 1-6 1-46 0z"/><path class=sc d="M2006 1844l55 2-6 2-55-1z"/><path class=sd d="M1787 1910l55-30 31-13 24-8 23-7 31-5 24-2 31-1-6 3-31 2-24 3-31 5-24 7-23 7-31 13-55 29z"/><path class=sc d="M1732 1943l55-33-6 3-55 32z"/><path class=sb d="M1670 1982l62-39-6 2-62 36z"/><path class=sa d="M1303 2101l23 2 31-5 172-54 39-14 32-12 31-15 39-21-6-1-55 27-47 20-187 60-24 6-23 4-16 1-15-3z"/><path class=sb d="M1279 2091l8 5 16 5-6-5-16-7-8-6z"/><path class=sc d="M1264 2076l15 15-6-8-15-16z"/><path class=sf d="M1240 2038l8 15-6-11-8-16z"/><path class=sg d="M1232 2020l8 18-6-12-8-19z"/><path class=sh d="M1225 1998l7 22-6-13-7-23z"/><path class=sj d="M1217 1973l8 25-6-14-8-27z"/><path class=sl d="M1209 1944l8 29-6-16-8-30z"/><path class=sn d="M1201 1910l8 34-6-17-8-36z"/><path class=sp d="M1193 1871l8 39-6-19-8-41z"/><path class=ss d="M1186 1826l7 45-6-21-8-47z"/><path class=sh d="M2481 1627l8-6-6 0-8 6z"/><path class=sg d="M2449 1653l32-26-6 0-32 24z"/><path class=sf d="M2418 1682l31-29-6-2-31 28z"/><path class=se d="M2395 1705l23-23-6-3-23 22z"/><path class=sd d="M2364 1735l31-30-6-4-31 29z"/><path class=sc d="M2340 1757l24-22-6-5-24 22z"/><path class=sb d="M2082 1844l47 3-6 0-47-1z"/><path class=sc d="M2035 1840l47 4-6 2-47-2z"/><path class=sd d="M1981 1839l54 1-6 4-54 1z"/><path class=se d="M1832 1883l39-19 39-13 32-8 39-4-6 6-39 4-32 7-39 14-39 18z"/><path class=sd d="M1770 1921l62-38-6 5-62 36z"/><path class=sc d="M1723 1952l47-31-6 3-47 29z"/><path class=sb d="M1660 1991l63-39-6 1-63 37z"/><path class=sa d="M1301 2105l8 2 15 1 16-1 16-4 164-51 39-13 31-12 31-15 39-21-6-1-47 24-46 19-188 60-23 7-24 3-15 0-16-4z"/><path class=sb d="M1285 2098l16 7-6-6-16-8z"/><path class=sc d="M1270 2084l15 14-6-7-15-15z"/><path class=sh d="M1231 2012l7 20-6-12-7-22z"/><path class=si d="M1223 1988l8 24-6-14-8-25z"/><path class=sk d="M1215 1960l8 28-6-15-8-29z"/><path class=sm d="M1207 1928l8 32-6-16-8-34z"/><path class=so d="M1199 1891l8 37-6-18-8-39z"/><path class=sq d="M1192 1848l7 43-6-20-7-45z"/><path class=sh d="M2487 1628l8-7-6 0-8 6z"/><path class=sg d="M2456 1655l31-27-6-1-32 26z"/><path class=sf d="M2424 1686l32-31-7-2-31 29z"/><path class=se d="M2401 1709l23-23-6-4-23 23z"/><path class=sd d="M2377 1733l24-24-6-4-24 23z"/><path class=sc d="M2346 1763l31-30-6-5-31 29z"/><path class=sb d="M2307 1795l39-32-6-6-39 32z"/><path class=sb d="M2104 1843l39 3-6 1-39-2z"/><path class=sc d="M2057 1837l47 6-6 2-47-4z"/><path class=sd d="M2018 1833l39 4-6 4-39-2z"/><path class=se d="M1932 1840l39-6 24-1 23 0-6 6-47 1-39 7z"/><path class=sf d="M1901 1849l31-9-6 7-31 8z"/><path class=se d="M1815 1892l47-27 39-16-6 6-39 16-47 25z"/><path class=sd d="M1760 1928l55-36-6 4-55 35z"/><path class=sc d="M1713 1961l47-33-6 3-47 31z"/><path class=sb d="M1659 1996l54-35-6 1-54 34z"/><path class=sa d="M1307 2111l8 1 15 0 32-5 164-52 39-13 31-13 31-15 32-18-6 0-47 24-47 19-180 58-23 6-24 5-15 0-16-3z"/><path class=sb d="M1284 2099l7 5 16 7-6-6-16-7-8-6z"/><path class=sc d="M1268 2084l16 15-7-7-15-17z"/><path class=sj d="M1221 1977l8 26-6-15-8-28z"/><path class=sl d="M1213 1946l8 31-6-17-8-32z"/><path class=sn d="M1205 1911l8 35-6-18-8-37z"/><path class=sp d="M1198 1870l7 41-6-20-7-43z"/><path class=sh d="M2485 1636l16-14-6-1-16 13z"/><path class=sg d="M2462 1658l23-22-6-2-23 21z"/><path class=sf d="M2438 1682l24-24-6-3-24 23z"/><path class=se d="M2407 1714l31-32-6-4-31 31z"/><path class=sd d="M2383 1738l24-24-6-5-24 24z"/><path class=sc d="M2360 1761l23-23-6-5-23 22z"/><path class=sb d="M2321 1794l39-33-6-6-39 34z"/><path class=sb d="M2118 1841l47 5-6 1-47-3z"/><path class=sc d="M2086 1836l32 5-6 3-32-4z"/><path class=sd d="M2047 1829l39 7-6 4-39-5z"/><path class=se d="M2001 1826l46 3-6 6-46-2z"/><path class=sf d="M1844 1871l39-20 39-15 39-8 40-2-6 7-40 3-39 8-39 14-39 20z"/><path class=se d="M1797 1902l47-31-6 7-47 29z"/><path class=sc d="M1711 1965l40-29-7 3-39 27z"/><path class=sb d="M1657 2001l54-36-6 1-54 35z"/><path class=sa d="M1305 2114l8 2 16 1 15-1 16-4 164-51 39-13 31-13 32-16 31-18-6 0-47 24-47 20-180 57-23 7-24 3-15 0-16-4z"/><path class=sb d="M1290 2106l15 8-6-6-15-9z"/><path class=sc d="M1274 2093l16 13-6-7-16-15z"/><path class=sd d="M1266 2083l8 10-6-9-8-11z"/><path class=sf d="M1250 2056l8 15-6-11-8-16z"/><path class=sg d="M1243 2038l7 18-6-12-7-19z"/><path class=sh d="M1235 2017l8 21-6-13-8-22z"/><path class=si d="M1227 1993l8 24-6-14-8-26z"/><path class=sk d="M1219 1964l8 29-6-16-8-31z"/><path class=sm d="M1211 1930l8 34-6-18-8-35z"/><path class=so d="M1204 1891l7 39-6-19-7-41z"/><path class=sh d="M2491 1637l16-14-6-1-16 14z"/><path class=sg d="M2468 1661l23-24-6-1-23 22z"/><path class=sf d="M2444 1686l24-25-6-3-24 24z"/><path class=se d="M2421 1711l23-25-6-4-23 24z"/><path class=sd d="M2397 1736l24-25-6-5-24 24z"/><path class=sc d="M2366 1767l31-31-6-6-31 31z"/><path class=sb d="M2335 1794l31-27-6-6-31 27z"/><path class=sb d="M2139 1840l39 6-6 0-39-3z"/><path class=sc d="M2108 1834l31 6-6 3-31-5z"/><path class=sd d="M2069 1825l39 9-6 4-39-6z"/><path class=se d="M2038 1820l31 5-6 7-31-5z"/><path class=sf d="M1983 1817l24 0 31 3-6 7-31-1-24 0z"/><path class=sg d="M1882 1846l31-14 23-7 24-5 23-3-6 9-23 3-24 5-23 7-31 13z"/><path class=sf d="M1819 1885l31-21 32-18-6 8-32 17-31 20z"/><path class=se d="M1780 1914l39-29-6 6-39 28z"/><path class=sd d="M1741 1944l39-30-6 5-39 28z"/><path class=sc d="M1702 1974l39-30-6 3-39 29z"/><path class=sb d="M1655 2006l47-32-6 2-47 30z"/><path class=sa d="M1311 2120l8 1 16 1 31-6 164-52 31-11 31-13 32-15 31-19-6 0-39 21-47 21-39 13-141 45-23 6-24 5-15 0-16-3z"/><path class=sb d="M1288 2108l8 5 15 7-6-6-15-8-8-6z"/><path class=sc d="M1272 2092l16 16-6-8-16-17z"/><path class=sg d="M1241 2031l8 20-6-13-8-21z"/><path class=si d="M1233 2008l8 23-6-14-8-24z"/><path class=sj d="M1225 1981l8 27-6-15-8-29z"/><path class=sl d="M1217 1949l8 32-6-17-8-34z"/><path class=sn d="M1210 1912l7 37-6-19-7-39z"/><path class=sh d="M2497 1639l16-15-6-1-16 14z"/><path class=sg d="M2474 1664l23-25-6-2-23 24z"/><path class=sf d="M2450 1690l24-26-6-3-24 25z"/><path class=se d="M2427 1716l23-26-6-4-23 25z"/><path class=sd d="M2403 1742l24-26-6-5-24 25z"/><path class=sc d="M2380 1766l23-24-6-6-23 23z"/><path class=sb d="M2341 1800l39-34-6-7-39 35z"/><path class=sb d="M2161 1840l39 6-6 0-39-3z"/><path class=sc d="M2130 1833l31 7-6 3-31-6z"/><path class=sd d="M2099 1824l31 9-6 4-31-7z"/><path class=se d="M2067 1816l32 8-6 6-32-6z"/><path class=sf d="M2028 1809l39 7-6 8-39-6z"/><path class=sg d="M1958 1811l31-4 39 2-6 9-39-1-31 4z"/><path class=sh d="M1919 1822l23-7 16-4-6 10-16 4-23 7z"/><path class=sg d="M1849 1860l39-23 31-15-6 10-31 14-40 23z"/><path class=sf d="M1809 1889l40-29-7 9-39 27z"/><path class=se d="M1770 1921l39-32-6 7-39 30z"/><path class=sc d="M1700 1978l31-25-6 3-31 24z"/><path class=sb d="M1653 2012l47-34-6 2-47 31z"/><path class=sa d="M1309 2123l8 2 16 1 15-1 16-4 164-51 31-11 32-13 31-16 31-18-6-1-39 22-47 20-31 11-148 47-24 7-23 4-16-1-16-4z"/><path class=sb d="M1294 2115l15 8-6-6-15-9z"/><path class=sc d="M1278 2101l16 14-6-7-16-16z"/><path class=sg d="M1247 2045l8 18-6-12-8-20z"/><path class=sh d="M1239 2023l8 22-6-14-8-23z"/><path class=sj d="M1231 1997l8 26-6-15-8-27z"/><path class=sk d="M1223 1967l8 30-6-16-8-32z"/><path class=sn d="M1216 1932l7 35-6-18-7-37z"/><path class=sh d="M2503 1642l16-17-6-1-16 15z"/><path class=sg d="M2480 1668l23-26-6-3-23 25z"/><path class=sf d="M2456 1695l24-27-6-4-24 26z"/><path class=se d="M2433 1722l23-27-6-5-23 26z"/><path class=sd d="M2417 1739l16-17-6-6-16 17z"/><path class=sc d="M2386 1772l31-33-6-6-31 33z"/><path class=sb d="M2355 1799l31-27-6-6-31 28z"/><path class=sb d="M2183 1840l31 6-6 0-31-3z"/><path class=sc d="M2151 1832l32 8-6 3-32-6z"/><path class=sd d="M2120 1822l31 10-6 5-31-9z"/><path class=se d="M2089 1811l31 11-6 6-31-8z"/><path class=sf d="M2058 1803l31 8-6 9-31-7z"/><path class=sg d="M2026 1797l32 6-6 10-32-5z"/><path class=sh d="M1870 1840l39-22 24-10 15-5 16-4 23-3 16 0 23 1-6 11-39 0-23 3-16 4-15 5-24 9-39 21z"/><path class=sg d="M1823 1875l47-35-6 10-47 33z"/><path class=sf d="M1792 1902l31-27-6 8-31 25z"/><path class=se d="M1761 1929l31-27-6 6-31 26z"/><path class=sc d="M1690 1988l40-32-7 4-39 30z"/><path class=sb d="M1644 2022l46-34-6 2-46 31z"/><path class=sa d="M1315 2129l8 1 16 1 23-4 164-52 32-10 31-13 31-16 24-14-6-1-40 21-39 17-179 58-24 6-15 3-16 0-16-3z"/><path class=sb d="M1292 2117l8 5 15 7-6-6-15-8-8-6z"/><path class=sc d="M1276 2100l16 17-6-8-16-18z"/><path class=sf d="M1253 2058l8 17-6-12-8-18z"/><path class=sh d="M1245 2038l8 20-6-13-8-22z"/><path class=si d="M1237 2013l8 25-6-15-8-26z"/><path class=sm d="M1222 1952l7 33-6-18-7-35z"/><path class=sh d="M2509 1645l16-18-6-2-16 17z"/><path class=sg d="M2486 1672l23-27-6-3-23 26z"/><path class=sf d="M2470 1691l16-19-6-4-16 18z"/><path class=se d="M2447 1719l23-28-6-5-23 27z"/><path class=sd d="M2423 1746l24-27-6-6-24 26z"/><path class=sc d="M2400 1770l23-24-6-7-23 25z"/><path class=sb d="M2368 1799l32-29-6-6-32 29z"/><path class=sb d="M2197 1839l31 6-6 1-31-4z"/><path class=sc d="M2165 1829l32 10-6 3-32-8z"/><path class=sd d="M2142 1820l23 9-6 5-23-7z"/><path class=se d="M2118 1811l24 9-6 7-24-8z"/><path class=sf d="M2087 1799l31 12-6 8-31-10z"/><path class=sg d="M2064 1792l23 7-6 10-23-6z"/><path class=sh d="M2025 1784l39 8-6 11-39-6z"/><path class=si d="M1884 1824l23-14 16-8 31-12 32-6 15-1 24 1-6 13-24-1-15 1-32 6-31 11-39 21z"/><path class=sh d="M1845 1853l39-29-6 11-39 28z"/><path class=sg d="M1814 1880l31-27-6 10-31 25z"/><path class=sf d="M1782 1908l32-28-6 8-32 27z"/><path class=se d="M1751 1938l31-30-6 7-31 28z"/><path class=sd d="M1720 1966l31-28-6 5-31 27z"/><path class=sc d="M1689 1993l31-27-6 4-31 24z"/><path class=sb d="M1642 2027l47-34-6 1-47 33z"/><path class=sa d="M1314 2132l7 2 16 2 24-4 23-6 70-23 71-22 31-11 31-13 31-16 24-14-6 0-39 21-39 17-180 58-24 6-15 2-16-1-15-4z"/><path class=sb d="M1298 2124l16 8-6-6-16-9z"/><path class=sc d="M1282 2110l16 14-6-7-16-17z"/><path class=sh d="M1243 2029l8 23-6-14-8-25z"/><path class=sj d="M1235 2002l8 27-6-16-8-28z"/><path class=sl d="M1228 1971l7 31-6-17-7-33z"/><path class=sh d="M2515 1648l16-18-6-3-16 18z"/><path class=sg d="M2492 1677l23-29-6-3-23 27z"/><path class=sf d="M2476 1696l16-19-6-5-16 19z"/><path class=se d="M2453 1725l23-29-6-5-23 28z"/><path class=sd d="M2437 1743l16-18-6-6-16 18z"/><path class=sc d="M2414 1769l23-26-6-6-24 25z"/><path class=sb d="M2382 1799l32-30-7-7-31 30z"/><path class=sa d="M2249 1846l24 1 15-1 16-3 16-5 15-7 16-9 31-23-6-7-31 25-31 17-16 6-16 4-15 2-24 1z"/><path class=sb d="M2218 1839l31 7-6 1-31-4z"/><path class=sc d="M2187 1829l31 10-6 4-31-9z"/><path class=sd d="M2163 1819l24 10-6 5-24-8z"/><path class=se d="M2140 1808l23 11-6 7-23-9z"/><path class=sf d="M2117 1797l23 11-6 9-23-9z"/><path class=sg d="M2093 1787l24 10-6 11-24-9z"/><path class=sh d="M2062 1777l31 10-6 12-31-9z"/><path class=si d="M2031 1770l31 7-6 13-31-6z"/><path class=sj d="M1890 1811l23-15 16-8 31-12 32-6 15-1 24 1-6 14-24-1-15 1-32 6-31 12-16 8-23 14z"/><path class=si d="M1859 1835l31-24-6 13-31 23z"/><path class=sh d="M1828 1863l31-28-6 12-32 26z"/><path class=sg d="M1796 1893l32-30-7 10-31 28z"/><path class=sf d="M1773 1916l23-23-6 8-23 22z"/><path class=se d="M1742 1947l31-31-6 7-31 29z"/><path class=sd d="M1718 1970l24-23-6 5-24 21z"/><path class=sc d="M1687 1997l31-27-6 3-31 26z"/><path class=sb d="M1640 2033l23-17 24-19-6 2-47 33z"/><path class=sa d="M1320 2138l7 2 16 0 24-4 164-52 31-11 23-10 32-16 23-14-6-1-39 22-39 16-172 56-23 6-16 3-16 0-15-3z"/><path class=sb d="M1296 2126l8 5 16 7-6-6-16-8-8-6z"/><path class=sc d="M1288 2118l8 8-6-8-8-8z"/><path class=si d="M1242 2019l7 25-6-15-8-27z"/><path class=sk d="M1234 1990l8 29-7-17-7-31z"/><path class=sh d="M2521 1652l16-19-6-3-16 18z"/><path class=sg d="M2505 1672l16-20-6-4-16 19z"/><path class=sf d="M2482 1702l23-30-6-5-23 29z"/><path class=se d="M2466 1722l16-20-6-6-16 19z"/><path class=sd d="M2443 1750l23-28-6-7-23 28z"/><path class=sc d="M2420 1776l23-26-6-7-23 26z"/><path class=sb d="M2388 1805l32-29-6-7-32 30z"/><path class=sa d="M2263 1846l16 1 16 0 15-2 16-4 15-6 16-8 31-22-6-6-31 23-16 9-15 7-16 5-16 3-15 1-16 0z"/><path class=sb d="M2232 1838l31 8-6 1-31-5z"/><path class=sc d="M2209 1829l23 9-6 4-23-8z"/><path class=sd d="M2185 1818l24 11-6 5-24-9z"/><path class=se d="M2162 1806l23 12-6 7-23-10z"/><path class=sf d="M2138 1793l24 13-6 9-24-11z"/><path class=sg d="M2123 1785l15 8-6 11-15-7z"/><path class=sh d="M2099 1774l24 11-6 12-24-10z"/><path class=si d="M2068 1762l31 12-6 13-31-10z"/><path class=sj d="M2037 1755l31 7-6 15-31-7z"/><path class=sk d="M1904 1791l23-15 16-8 31-11 16-3 15-1 32 2-6 15-32-1-31 5-31 10-16 8-23 14z"/><path class=sj d="M1865 1822l39-31-6 15-39 29z"/><path class=si d="M1834 1851l31-29-6 13-31 28z"/><path class=sh d="M1810 1875l24-24-6 12-24 22z"/><path class=sg d="M1787 1900l23-25-6 10-23 23z"/><path class=sf d="M1763 1925l24-25-6 8-24 24z"/><path class=sd d="M1709 1980l31-31-6 6-31 29z"/><path class=sc d="M1677 2008l32-28-6 4-32 26z"/><path class=sb d="M1638 2038l39-30-6 2-39 28z"/><path class=sa d="M1318 2141l8 3 15 1 24-4 164-51 31-11 24-10 31-16 23-15-6 0-39 21-39 17-172 56-23 6-16 2-16 0-15-5z"/><path class=sb d="M1302 2133l16 8-6-6-16-9z"/><path class=sc d="M1287 2118l15 15-6-7-15-17z"/><path class=sd d="M1279 2108l8 10-6-9-8-12z"/><path class=sf d="M1263 2078l8 16-6-11-8-18z"/><path class=sg d="M1255 2059l8 19-6-13-8-21z"/><path class=sh d="M1248 2035l7 24-6-15-7-25z"/><path class=sj d="M1240 2008l8 27-6-16-8-29z"/><path class=sh d="M2527 1657l16-20-6-4-16 19z"/><path class=sg d="M2512 1677l15-20-6-5-16 20z"/><path class=sf d="M2496 1698l16-21-7-5-15 20z"/><path class=se d="M2472 1728l24-30-6-6-24 30z"/><path class=sd d="M2457 1748l15-20-6-6-15 19z"/><path class=sc d="M2433 1774l24-26-6-7-24 26z"/><path class=sb d="M2402 1805l31-31-6-7-31 31z"/><path class=sa d="M2277 1845l16 2 15 1 16-2 16-4 15-6 16-9 15-10 16-12-6-7-31 24-16 9-15 7-16 5-16 3-15 1-16 0z"/><path class=sb d="M2254 1839l23 6-6 2-23-4z"/><path class=sc d="M2222 1826l32 13-6 4-32-11z"/><path class=sd d="M2207 1818l15 8-6 6-15-7z"/><path class=se d="M2183 1805l24 13-6 7-24-11z"/><path class=sf d="M2168 1795l15 10-6 9-15-8z"/><path class=sg d="M2144 1781l24 14-6 11-24-13z"/><path class=sh d="M2121 1767l23 14-6 12-23-11z"/><path class=si d="M2105 1759l16 8-6 15-16-8z"/><path class=sj d="M2082 1749l23 10-6 15-23-9z"/><path class=sk d="M2051 1739l31 10-6 16-32-9z"/><path class=sl d="M1980 1739l16-3 15-1 16 0 24 4-7 17-23-3-16 0-15 1-16 3z"/><path class=sm d="M1972 1741l8-2-6 18-8 2z"/><path class=sl d="M1902 1780l24-16 15-9 31-14-6 18-31 13-16 9-23 15z"/><path class=sk d="M1871 1807l31-27-6 16-31 26z"/><path class=sj d="M1847 1831l24-24-6 15-24 22z"/><path class=si d="M1824 1856l23-25-6 13-23 23z"/><path class=sh d="M1800 1882l24-26-6 11-24 25z"/><path class=sg d="M1777 1908l23-26-6 10-23 25z"/><path class=sf d="M1754 1935l23-27-6 9-23 24z"/><path class=se d="M1730 1960l24-25-6 6-24 24z"/><path class=sc d="M1675 2013l32-29-6 4-32 27z"/><path class=sb d="M1636 2043l39-30-6 2-39 28z"/><path class=sa d="M1316 2145l16 4 15 0 16-2 23-7 172-55 39-18 39-24-6 0-39 22-39 17-172 55-23 6-16 2-15-1-16-6z"/><path class=sb d="M1300 2135l16 10-6-7-16-11z"/><path class=sd d="M1277 2106l16 21-6-9-16-24z"/><path class=si d="M1246 2025l8 26-6-16-8-27z"/><path class=sh d="M2533 1662l16-21-6-4-16 20z"/><path class=sg d="M2518 1683l15-21-6-5-15 20z"/><path class=sf d="M2502 1705l16-22-6-6-16 21z"/><path class=se d="M2486 1725l16-20-6-7-16 20z"/><path class=sd d="M2463 1755l23-30-6-7-23 30z"/><path class=sc d="M2439 1782l24-27-6-7-24 26z"/><path class=sb d="M2416 1804l23-22-6-8-23 24z"/><path class=sa d="M2299 1847l15 1 16-1 16-2 15-5 24-12 15-11 16-13-6-6-31 25-16 9-16 7-23 7-16 2-15-1z"/><path class=sb d="M2268 1838l15 5 16 4-6 0-16-2-16-3z"/><path class=sc d="M2244 1827l24 11-7 4-23-9z"/><path class=sd d="M2221 1814l23 13-6 6-23-11z"/><path class=se d="M2205 1804l16 10-6 8-16-8z"/><path class=sf d="M2189 1794l16 10-6 10-16-9z"/><path class=sg d="M2166 1777l23 17-6 11-23-15z"/><path class=sh d="M2150 1767l16 10-6 13-16-9z"/><path class=si d="M2135 1757l15 10-6 14-15-9z"/><path class=sj d="M2111 1742l24 15-6 15-24-13z"/><path class=sk d="M2088 1731l23 11-6 17-23-10z"/><path class=sl d="M2064 1722l24 9-6 18-24-8z"/><path class=sm d="M2017 1715l24 1 23 6-6 19-23-5-24-1z"/><path class=sn d="M1947 1735l24-11 15-5 16-3 15-1-6 20-15 1-16 3-15 5-24 11z"/><path class=sm d="M1908 1763l24-18 15-10-6 20-15 9-24 16z"/><path class=sl d="M1877 1791l31-28-6 17-31 27z"/><path class=sk d="M1853 1816l24-25-6 16-24 24z"/><path class=sj d="M1830 1842l23-26-6 15-23 25z"/><path class=si d="M1807 1870l23-28-6 14-24 26z"/><path class=sh d="M1791 1889l16-19-7 12-15 17z"/><path class=sg d="M1767 1917l24-28-6 10-24 27z"/><path class=se d="M1728 1963l24-27-6 7-24 25z"/><path class=sd d="M1705 1988l23-25-6 5-23 24z"/><path class=sc d="M1674 2018l31-30-6 4-31 28z"/><path class=sb d="M1635 2049l39-31-6 2-39 29z"/><path class=sa d="M1322 2151l8 2 16 1 23-4 164-51 31-12 24-10 23-13 24-15-6 0-32 18-39 18-172 55-23 7-16 2-15 0-16-4z"/><path class=sb d="M1306 2143l16 8-6-6-16-10z"/><path class=sc d="M1291 2127l15 16-6-8-15-17z"/><path class=si d="M1252 2042l8 24-6-15-8-26z"/><path class=sh d="M2547 1656l8-11-6-4-8 10z"/><path class=sg d="M2531 1679l16-23-6-5-16 22z"/><path class=sf d="M2516 1701l15-22-6-6-15 21z"/><path class=se d="M2492 1733l24-32-6-7-24 31z"/><path class=sd d="M2477 1753l15-20-6-8-15 20z"/><path class=sc d="M2453 1780l24-27-6-8-24 28z"/><path class=sb d="M2430 1804l23-24-6-7-23 24z"/><path class=sa d="M2313 1846l15 2 16 0 15-3 16-5 24-12 15-11 16-13-6-7-16 14-15 12-16 9-16 8-23 6-16 2-15 0z"/><path class=sb d="M2281 1837l16 5 16 4-6 2-16-3-16-4z"/><path class=sc d="M2266 1829l15 8-6 4-15-6z"/><path class=sd d="M2242 1815l24 14-6 6-24-12z"/><path class=se d="M2227 1804l15 11-6 8-15-9z"/><path class=sf d="M2211 1793l16 11-6 10-16-10z"/><path class=sg d="M2195 1781l16 12-6 11-16-10z"/><path class=sh d="M2172 1763l23 18-6 13-23-17z"/><path class=si d="M2156 1751l16 12-6 14-16-10z"/><path class=sj d="M2141 1739l15 12-6 16-15-10z"/><path class=sk d="M2125 1728l16 11-6 18-16-10z"/><path class=sl d="M2102 1714l23 14-6 19-23-13z"/><path class=sm d="M2078 1703l24 11-6 20-24-10z"/><path class=sn d="M2047 1694l16 4 15 5-6 21-31-8z"/><path class=so d="M1938 1724l15-10 16-8 23-9 24-4 15 0 16 1-6 22-16-1-15 0-24 4-23 8-31 18z"/><path class=sn d="M1906 1750l32-26-6 21-32 24z"/><path class=sm d="M1875 1782l31-32-6 19-31 30z"/><path class=sl d="M1859 1800l16-18-6 17-16 17z"/><path class=sk d="M1836 1828l23-28-6 16-23 26z"/><path class=sj d="M1820 1848l16-20-6 14-16 19z"/><path class=si d="M1797 1878l23-30-6 13-23 28z"/><path class=sh d="M1781 1898l16-20-6 11-16 19z"/><path class=sg d="M1766 1918l15-20-6 10-15 19z"/><path class=sf d="M1742 1947l24-29-6 9-24 27z"/><path class=sd d="M1695 2000l24-26-6 6-24 23z"/><path class=sc d="M1672 2023l23-23-6 3-23 22z"/><path class=sb d="M1633 2055l39-32-6 2-39 29z"/><path class=sa d="M1320 2154l16 4 16 0 15-2 24-7 62-21 78-24 32-11 39-19 31-19-6-1-31 19-40 17-31 11-78 24-62 21-24 6-15 2-16-1-16-6z"/><path class=sb d="M1305 2144l15 10-6-7-15-11z"/><path class=sc d="M1297 2136l8 8-6-8-8-9z"/><path class=sd d="M1281 2114l16 22-6-9-16-24z"/><path class=sg d="M1266 2080l7 19-6-13-7-20z"/><path class=sh d="M1258 2058l8 22-6-14-8-24z"/><path class=sh d="M2553 1662l8-11-6-6-8 11z"/><path class=sg d="M2537 1685l16-23-6-6-16 23z"/><path class=sf d="M2522 1708l15-23-6-6-15 22z"/><path class=se d="M2506 1730l16-22-6-7-16 21z"/><path class=sd d="M2491 1751l15-21-6-8-16 21z"/><path class=sc d="M2467 1779l24-28-7-8-23 29z"/><path class=sb d="M2436 1811l31-32-6-7-31 32z"/><path class=sa d="M2326 1846l16 3 16 0 23-5 24-11 15-10 16-12-6-7-16 13-15 11-24 12-23 7-16 1-16 0z"/><path class=sb d="M2303 1839l23 7-6 2-23-6z"/><path class=sc d="M2280 1827l23 12-6 3-23-9z"/><path class=sd d="M2264 1817l16 10-6 6-16-8z"/><path class=se d="M2248 1805l16 12-6 8-16-10z"/><path class=sf d="M2233 1793l15 12-6 10-15-11z"/><path class=sg d="M2217 1780l16 13-6 11-16-11z"/><path class=sh d="M2201 1766l16 14-6 13-16-12z"/><path class=si d="M2186 1753l15 13-6 15-15-12z"/><path class=sj d="M2170 1739l16 14-6 16-16-12z"/><path class=sk d="M2155 1726l15 13-6 18-15-12z"/><path class=sl d="M2131 1708l24 18-6 19-24-17z"/><path class=sm d="M2115 1697l16 11-6 20-16-9z"/><path class=sn d="M2092 1684l23 13-6 22-23-12z"/><path class=so d="M2069 1674l23 10-6 23-23-9z"/><path class=sp d="M2030 1668l15 1 24 5-6 24-24-5-15-1z"/><path class=sq d="M1967 1686l16-8 15-6 16-3 16-1-6 24-16 2-16 3-15 5-16 7z"/><path class=sp d="M1928 1714l23-18 16-10-6 23-16 10-23 17z"/><path class=so d="M1905 1736l23-22-6 22-24 21z"/><path class=sn d="M1881 1762l24-26-7 21-23 25z"/><path class=sm d="M1858 1791l23-29-6 20-23 27z"/><path class=sl d="M1842 1812l16-21-6 18-16 19z"/><path class=sk d="M1826 1833l16-21-6 16-16 20z"/><path class=sj d="M1811 1854l15-21-6 15-15 20z"/><path class=si d="M1787 1886l24-32-6 14-24 30z"/><path class=sh d="M1772 1908l15-22-6 12-15 20z"/><path class=sg d="M1756 1929l16-21-6 10-16 19z"/><path class=sf d="M1740 1949l16-20-6 8-16 19z"/><path class=se d="M1717 1978l23-29-6 7-23 27z"/><path class=sd d="M1694 2004l23-26-6 5-23 25z"/><path class=sc d="M1670 2028l24-24-6 4-24 22z"/><path class=sb d="M1631 2060l39-32-6 2-39 30z"/><path class=sa d="M1326 2160l8 2 16 1 23-3 86-29 70-21 32-11 23-11 24-12 23-16-6 0-31 19-39 17-32 11-70 21-70 24-24 5-15 2-16-2-8-3z"/><path class=sb d="M1311 2152l15 8-6-6-15-10z"/><path class=sc d="M1295 2136l16 16-6-8-16-17z"/><path class=sd d="M1287 2125l8 11-6-9-8-13z"/><path class=sg d="M1264 2073l8 21-6-14-8-22z"/><path class=sh d="M2559 1668l8-11-6-6-8 11z"/><path class=sg d="M2543 1692l16-24-6-6-16 23z"/><path class=sf d="M2528 1715l15-23-6-7-15 23z"/><path class=se d="M2512 1738l16-23-6-7-16 22z"/><path class=sd d="M2497 1759l15-21-6-8-15 21z"/><path class=sc d="M2481 1778l16-19-6-8-16 19z"/><path class=sb d="M2450 1811l31-33-6-8-31 34z"/><path class=sa d="M2348 1848l24 1 23-5 23-10 16-10 16-13-6-7-16 13-16 12-23 12-23 7-24 1z"/><path class=sb d="M2317 1837l15 7 16 4-6 1-16-3-15-4z"/><path class=sc d="M2301 1829l16 8-6 5-16-7z"/><path class=sd d="M2278 1813l23 16-6 6-23-13z"/><path class=se d="M2262 1800l16 13-6 9-16-11z"/><path class=sf d="M2247 1787l15 13-6 11-16-12z"/><path class=sg d="M2231 1772l16 15-7 12-15-13z"/><path class=sh d="M2223 1765l8 7-6 14-8-6z"/><path class=si d="M2207 1750l16 15-6 15-16-14z"/><path class=sj d="M2192 1734l15 16-6 16-15-13z"/><path class=sk d="M2176 1719l16 15-6 19-16-14z"/><path class=sl d="M2161 1705l15 14-6 20-15-13z"/><path class=sm d="M2145 1691l16 14-6 21-16-12z"/><path class=sn d="M2129 1679l16 12-6 23-16-12z"/><path class=so d="M2114 1668l15 11-6 23-15-10z"/><path class=sp d="M2090 1654l24 14-6 24-24-12z"/><path class=sq d="M2067 1645l23 9-6 26-23-8z"/><path class=sr d="M1950 1676l15-12 16-9 15-7 16-5 24-2 15 1 16 3-6 27-16-3-15-1-24 2-16 5-15 7-16 8-15 11z"/><path class=sq d="M1918 1705l32-29-6 25-32 28z"/><path class=sp d="M1895 1732l23-27-6 24-23 24z"/><path class=so d="M1879 1751l16-19-6 21-16 19z"/><path class=sn d="M1864 1772l15-21-6 21-15 19z"/><path class=sm d="M1848 1793l16-21-6 19-16 21z"/><path class=sl d="M1832 1816l16-23-6 19-16 21z"/><path class=sk d="M1817 1839l15-23-6 17-15 21z"/><path class=sj d="M1801 1862l16-23-6 15-16 21z"/><path class=si d="M1786 1885l15-23-6 13-15 22z"/><path class=sh d="M1770 1907l16-22-6 12-16 21z"/><path class=sg d="M1746 1940l24-33-6 11-24 31z"/><path class=sf d="M1731 1961l15-21-6 9-15 19z"/><path class=se d="M1715 1981l16-20-6 7-16 19z"/><path class=sd d="M1692 2008l23-27-6 6-23 25z"/><path class=sc d="M1668 2033l24-25-6 4-24 23z"/><path class=sb d="M1629 2066l24-19 15-14-6 2-15 13-24 18z"/><path class=sa d="M1325 2163l7 3 16 2 16-1 23-6 63-22 78-23 31-11 39-19 31-20-6 0-31 18-39 18-102 32-70 23-23 6-16 0-16-3-7-3z"/><path class=sb d="M1309 2153l16 10-6-6-16-12z"/><path class=sc d="M1301 2146l8 7-6-8-8-9z"/><path class=sd d="M1285 2123l16 23-6-10-16-25z"/><path class=se d="M1278 2107l7 16-6-12-7-17z"/><path class=sg d="M1270 2088l8 19-6-13-8-21z"/><path class=sg d="M2557 1688l16-25-6-6-16 23z"/><path class=sf d="M2542 1712l15-24-6-8-15 24z"/><path class=se d="M2526 1735l16-23-6-8-16 23z"/><path class=sd d="M2510 1756l16-21-6-8-16 21z"/><path class=sc d="M2487 1786l23-30-6-8-23 30z"/><path class=sb d="M2463 1810l24-24-6-8-24 25z"/><path class=sa d="M2362 1848l23 2 24-5 23-11 16-10 15-14-6-7-15 14-16 12-23 13-24 6-23 1z"/><path class=sb d="M2338 1840l24 8-6 1-24-5z"/><path class=sc d="M2315 1827l23 13-6 4-23-11z"/><path class=sd d="M2299 1815l16 12-6 6-16-9z"/><path class=se d="M2284 1802l15 13-6 9-15-11z"/><path class=sf d="M2268 1788l16 14-6 11-16-13z"/><path class=sg d="M2253 1772l15 16-6 12-15-13z"/><path class=sh d="M2245 1764l8 8-6 15-8-7z"/><path class=si d="M2229 1748l16 16-6 16-16-15z"/><path class=sj d="M2213 1731l16 17-6 17-16-15z"/><path class=sk d="M2206 1722l7 9-6 19-7-8z"/><path class=sl d="M2190 1705l16 17-6 20-16-15z"/><path class=sm d="M2174 1689l16 16-6 22-16-15z"/><path class=sn d="M2159 1674l15 15-6 23-15-14z"/><path class=so d="M2151 1666l8 8-6 24-8-7z"/><path class=sp d="M2135 1653l16 13-6 25-16-12z"/><path class=sq d="M2112 1635l23 18-6 26-23-16z"/><path class=sr d="M2096 1626l16 9-6 28-16-9z"/><path class=ss d="M2065 1614l16 5 15 7-6 28-15-6-16-5z"/><path class=st d="M1963 1642l16-11 16-9 23-8 24-3 23 3-6 29-23-2-24 2-23 8-16 9-16 10z"/><path class=ss d="M1932 1671l31-29-6 28-31 27z"/><path class=sr d="M1917 1688l15-17-6 26-15 17z"/><path class=sq d="M1893 1718l24-30-6 26-24 27z"/><path class=sp d="M1878 1739l15-21-6 23-16 20z"/><path class=so d="M1862 1762l16-23-7 22-15 22z"/><path class=sn d="M1846 1785l16-23-6 21-16 22z"/><path class=sm d="M1831 1810l15-25-6 20-15 22z"/><path class=sl d="M1815 1834l16-24-6 17-16 23z"/><path class=sk d="M1807 1846l8-12-6 16-8 12z"/><path class=sj d="M1792 1871l15-25-6 16-15 23z"/><path class=si d="M1776 1895l16-24-6 14-16 22z"/><path class=sg d="M1745 1942l15-23-6 10-15 22z"/><path class=sf d="M1729 1964l16-22-6 9-16 20z"/><path class=se d="M1706 1994l23-30-6 7-23 29z"/><path class=sd d="M1690 2013l16-19-6 6-16 17z"/><path class=sc d="M1659 2045l31-32-6 4-31 30z"/><path class=sb d="M1627 2072l32-27-6 2-32 24z"/><path class=sa d="M1331 2170l7 2 16 0 23-3 86-29 71-21 23-9 24-10 23-13 23-15-6-1-31 19-39 17-94 30-70 24-23 6-16 1-16-2-7-3z"/><path class=sb d="M1315 2161l16 9-6-7-16-10z"/><path class=sc d="M1299 2145l16 16-6-8-16-17z"/><path class=sd d="M1292 2134l7 11-6-9-8-13z"/><path class=se d="M1284 2120l8 14-7-11-7-16z"/><path class=sf d="M1276 2102l8 18-6-13-8-19z"/><path class=sg d="M2563 1695l16-25-6-7-16 25z"/><path class=sf d="M2555 1708l8-13-6-7-8 12z"/><path class=se d="M2540 1732l15-24-6-8-15 23z"/><path class=sd d="M2516 1765l24-33-6-9-24 33z"/><path class=sc d="M2501 1785l15-20-6-9-15 20z"/><path class=sb d="M2477 1810l24-25-6-9-24 27z"/><path class=sa d="M2376 1848l23 2 24-4 23-11 16-11 15-14-6-7-15 14-16 12-23 13-24 7-23 0z"/><path class=sb d="M2352 1839l24 9-6 1-24-6z"/><path class=sc d="M2329 1824l23 15-6 4-23-11z"/><path class=sd d="M2313 1812l16 12-6 8-16-11z"/><path class=se d="M2298 1798l15 14-6 9-15-12z"/><path class=sf d="M2290 1790l8 8-6 11-8-7z"/><path class=sg d="M2274 1773l16 17-6 12-16-14z"/><path class=sh d="M2259 1756l15 17-6 15-15-16z"/><path class=si d="M2251 1747l8 9-6 16-8-8z"/><path class=sj d="M2235 1728l16 19-6 17-16-16z"/><path class=sk d="M2227 1719l8 9-6 20-8-9z"/><path class=sl d="M2212 1700l15 19-6 20-15-17z"/><path class=sm d="M2204 1691l8 9-6 22-8-8z"/><path class=sn d="M2188 1672l16 19-6 23-16-17z"/><path class=so d="M2180 1663l8 9-6 25-8-8z"/><path class=sp d="M2165 1647l15 16-6 26-15-15z"/><path class=sq d="M2149 1631l16 16-6 27-16-15z"/><path class=sr d="M2134 1617l15 14-6 28-15-13z"/><path class=ss d="M2118 1605l16 12-6 29-16-11z"/><path class=st d="M2094 1591l24 14-6 30-24-13z"/><path class=su d="M2071 1582l23 9-6 31-23-8z"/><path class=sv d="M1977 1605l24-15 23-9 24-3 23 4-6 32-23-3-24 3-23 8-24 14z"/><path class=su d="M1946 1633l16-15 15-13-6 31-15 12-16 15z"/><path class=st d="M1923 1661l23-28-6 30-23 25z"/><path class=ss d="M1907 1681l16-20-6 27-16 20z"/><path class=sr d="M1891 1703l16-22-6 27-16 20z"/><path class=sq d="M1876 1727l15-24-6 25-15 22z"/><path class=sp d="M1860 1751l16-24-6 23-16 24z"/><path class=so d="M1852 1764l8-13-6 23-8 11z"/><path class=sn d="M1837 1790l15-26-6 21-15 25z"/><path class=sm d="M1821 1816l16-26-6 20-16 24z"/><path class=sl d="M1813 1829l8-13-6 18-8 12z"/><path class=sk d="M1798 1856l15-27-6 17-15 25z"/><path class=sj d="M1782 1882l16-26-6 15-16 24z"/><path class=si d="M1766 1907l16-25-6 13-16 24z"/><path class=sh d="M1751 1931l15-24-6 12-15 23z"/><path class=se d="M1704 1998l15-21-6 7-15 20z"/><path class=sd d="M1688 2017l16-19-6 6-16 17z"/><path class=sc d="M1657 2051l31-34-6 4-31 31z"/><path class=sb d="M1626 2077l31-26-6 1-31 25z"/><path class=sa d="M1329 2173l8 2 15 2 16-1 23-6 63-22 70-21 31-11 39-18 32-21-6 0-32 19-31 14-31 11-70 21-71 24-23 6-16 0-15-2-8-4z"/><path class=sb d="M1313 2163l16 10-6-7-16-12z"/><path class=se d="M1282 2116l8 16-6-12-8-18z"/><path class=sg d="M2577 1691l8-13-6-8-8 13z"/><path class=sf d="M2561 1716l16-25-6-8-16 25z"/><path class=se d="M2546 1740l15-24-6-8-15 24z"/><path class=sd d="M2530 1763l16-23-6-8-16 22z"/><path class=sc d="M2515 1783l15-20-6-9-15 21z"/><path class=sb d="M2491 1810l24-27-6-8-24 27z"/><path class=sa d="M2390 1847l23 3 23-4 24-11 16-11 15-14-6-8-15 15-16 13-24 13-23 6-23 0z"/><path class=sb d="M2366 1838l24 9-6 2-24-7z"/><path class=sc d="M2351 1828l15 10-6 4-15-7z"/><path class=sd d="M2335 1815l16 13-6 7-16-11z"/><path class=se d="M2319 1801l16 14-6 9-16-12z"/><path class=sf d="M2304 1784l15 17-6 11-15-14z"/><path class=sg d="M2296 1775l8 9-6 14-8-8z"/><path class=sh d="M2280 1757l16 18-6 15-16-17z"/><path class=si d="M2272 1747l8 10-6 16-8-8z"/><path class=sj d="M2257 1727l15 20-6 18-15-18z"/><path class=sk d="M2249 1716l8 11-6 20-8-10z"/><path class=sl d="M2241 1706l8 10-6 21-8-9z"/><path class=sm d="M2226 1685l15 21-6 22-16-19z"/><path class=sn d="M2218 1675l8 10-7 24-7-9z"/><path class=so d="M2202 1655l16 20-6 25-16-19z"/><path class=sp d="M2194 1645l8 10-6 26-8-9z"/><path class=sq d="M2179 1626l15 19-6 27-15-17z"/><path class=sr d="M2171 1617l8 9-6 29-8-8z"/><path class=ss d="M2155 1600l16 17-6 30-16-16z"/><path class=st d="M2140 1585l15 15-6 31-15-14z"/><path class=su d="M2124 1571l16 14-6 32-16-12z"/><path class=sv d="M2108 1561l16 10-6 34-16-10z"/><path class=sw d="M2077 1546l16 6 15 9-6 34-15-8-16-5z"/><path class=sx d="M1975 1578l16-13 16-10 23-9 24-3 23 3-6 36-23-4-24 3-23 9-16 9-16 12z"/><path class=sw d="M1952 1601l23-23-6 33-23 22z"/><path class=sv d="M1936 1620l16-19-6 32-16 18z"/><path class=su d="M1921 1641l15-21-6 31-15 20z"/><path class=st d="M1905 1664l16-23-6 30-16 21z"/><path class=ss d="M1890 1688l15-24-6 28-15 23z"/><path class=sr d="M1874 1714l16-26-6 27-16 24z"/><path class=sq d="M1866 1727l8-13-6 25-8 12z"/><path class=sp d="M1850 1754l16-27-6 24-16 26z"/><path class=so d="M1835 1782l15-28-6 23-15 26z"/><path class=sn d="M1827 1796l8-14-6 21-8 13z"/><path class=sm d="M1811 1824l16-28-6 20-16 26z"/><path class=sl d="M1804 1838l7-14-6 18-7 14z"/><path class=sk d="M1788 1866l16-28-6 18-16 26z"/><path class=sj d="M1772 1893l16-27-6 16-16 25z"/><path class=si d="M1765 1907l7-14-6 14-7 12z"/><path class=sh d="M1749 1932l16-25-6 12-16 24z"/><path class=sg d="M1733 1957l16-25-6 11-16 23z"/><path class=sf d="M1718 1980l15-23-6 9-15 22z"/><path class=sd d="M1679 2031l23-29-6 6-23 27z"/><path class=sc d="M1655 2056l24-25-6 4-24 23z"/><path class=sb d="M1624 2083l31-27-6 2-31 25z"/><path class=sa d="M1335 2179l8 2 15 1 24-4 78-27 78-24 23-8 24-11 23-14 16-11-6 0-31 19-32 14-31 11-70 21-63 22-23 6-16 1-15-2-8-2z"/><path class=sb d="M1311 2164l8 7 16 8-6-6-16-10-8-8z"/><path class=sc d="M1304 2155l7 9-6-9-7-10z"/><path class=sd d="M1296 2143l8 12-6-10-8-13z"/><path class=se d="M1288 2129l8 14-6-11-8-16z"/><path class=sg d="M2583 1699l8-13-6-8-8 13z"/><path class=sf d="M2575 1712l8-13-6-8-8 13z"/><path class=se d="M2560 1737l15-25-6-8-15 24z"/><path class=sd d="M2544 1761l16-24-6-9-16 24z"/><path class=sc d="M2521 1792l23-31-6-9-23 31z"/><path class=sb d="M2497 1817l24-25-6-9-24 27z"/><path class=sa d="M2403 1847l16 4 8 0 15-2 8-2 24-11 23-19-6-7-23 20-24 14-23 6-24-1z"/><path class=sb d="M2380 1837l23 10-6 2-23-7z"/><path class=sc d="M2364 1826l16 11-6 5-16-9z"/><path class=sd d="M2349 1812l15 14-6 7-15-11z"/><path class=se d="M2341 1805l8 7-6 10-8-7z"/><path class=sf d="M2325 1788l16 17-6 10-16-14z"/><path class=sg d="M2310 1769l15 19-6 13-15-17z"/><path class=sh d="M2302 1759l8 10-6 15-8-9z"/><path class=si d="M2294 1748l8 11-6 16-8-9z"/><path class=sj d="M2278 1727l16 21-6 18-16-19z"/><path class=sk d="M2271 1715l7 12-6 20-7-10z"/><path class=sl d="M2263 1704l8 11-6 22-8-10z"/><path class=sm d="M2247 1681l16 23-6 23-16-21z"/><path class=sn d="M2239 1670l8 11-6 25-8-10z"/><path class=so d="M2232 1658l7 12-6 26-7-11z"/><path class=sp d="M2216 1636l16 22-6 27-16-20z"/><path class=sq d="M2208 1625l8 11-6 29-8-10z"/><path class=sr d="M2200 1614l8 11-6 30-8-10z"/><path class=ss d="M2185 1593l15 21-6 31-15-19z"/><path class=st d="M2177 1584l8 9-6 33-8-9z"/><path class=su d="M2161 1565l16 19-6 33-16-17z"/><path class=sv d="M2146 1549l15 16-6 35-15-15z"/><path class=sw d="M2130 1535l16 14-6 36-16-14z"/><path class=sx d="M2114 1523l16 12-6 36-16-10z"/><path class=sy d="M2099 1514l15 9-6 38-15-9z"/><path class=sz d="M2060 1504l15 2 24 8-6 38-24-8-15-1z"/><path class=sA d="M2021 1513l23-8 16-1-6 39-16 1-23 7z"/><path class=sz d="M1982 1541l23-19 16-9-6 38-16 9-24 18z"/><path class=sy d="M1958 1566l24-25-7 37-23 23z"/><path class=sx d="M1942 1586l16-20-6 35-16 19z"/><path class=sw d="M1927 1608l15-22-6 34-15 21z"/><path class=sv d="M1911 1633l16-25-6 33-16 23z"/><path class=su d="M1896 1659l15-26-6 31-15 24z"/><path class=st d="M1888 1672l8-13-6 29-8 13z"/><path class=ss d="M1872 1701l16-29-6 29-16 26z"/><path class=sr d="M1864 1715l8-14-6 26-8 14z"/><path class=sq d="M1849 1744l15-29-6 26-15 27z"/><path class=sp d="M1841 1759l8-15-6 24-8 14z"/><path class=so d="M1825 1789l16-30-6 23-16 28z"/><path class=sn d="M1817 1804l8-15-6 21-8 14z"/><path class=sm d="M1802 1834l15-30-6 20-15 28z"/><path class=sl d="M1794 1849l8-15-6 18-8 14z"/><path class=sk d="M1778 1878l16-29-6 17-16 27z"/><path class=si d="M1755 1920l16-27-6 14-16 25z"/><path class=sh d="M1747 1934l8-14-6 12-8 13z"/><path class=sg d="M1731 1959l16-25-6 11-16 24z"/><path class=sf d="M1716 1983l15-24-6 10-15 22z"/><path class=se d="M1700 2006l16-23-6 8-16 21z"/><path class=sd d="M1677 2036l23-30-6 6-23 28z"/><path class=sc d="M1653 2061l24-25-6 4-24 23z"/><path class=sb d="M1622 2089l31-28-6 2-31 26z"/><path class=sa d="M1333 2182l8 3 15 2 16-2 24-6 62-22 70-22 32-11 31-14 31-21-6 0-31 19-31 14-94 29-70 24-24 6-16 1-15-3-8-3z"/><path class=sb d="M1317 2172l16 10-6-6-16-12z"/><path class=sc d="M1302 2154l15 18-6-8-15-21z"/><path class=sd d="M1294 2141l8 13-6-11-8-14z"/><path class=sf d="M2581 1722l16-27-6-9-16 26z"/><path class=se d="M2566 1747l15-25-6-10-15 25z"/><path class=sd d="M2550 1770l16-23-6-10-16 24z"/><path class=sc d="M2534 1791l16-21-6-9-16 21z"/><path class=sb d="M2511 1817l23-26-6-9-23 27z"/><path class=sa d="M2425 1849l16 2 8 0 15-3 24-12 23-19-6-8-23 21-24 14-16 5-7 1-16 1z"/><path class=sb d="M2402 1840l23 9-6 2-23-7z"/><path class=sc d="M2386 1830l16 10-6 4-16-7z"/><path class=sd d="M2370 1817l16 13-6 7-16-11z"/><path class=se d="M2355 1801l15 16-6 9-15-14z"/><path class=sf d="M2339 1782l16 19-6 11-16-16z"/><path class=sg d="M2331 1772l8 10-6 14-8-8z"/><path class=sh d="M2324 1762l7 10-6 16-8-10z"/><path class=si d="M2308 1739l16 23-7 16-15-19z"/><path class=sj d="M2300 1728l8 11-6 20-8-11z"/><path class=sk d="M2292 1716l8 12-6 20-8-10z"/><path class=sl d="M2284 1704l8 12-6 22-8-11z"/><path class=sm d="M2269 1679l15 25-6 23-15-23z"/><path class=sn d="M2261 1666l8 13-6 25-8-11z"/><path class=so d="M2253 1654l8 12-6 27-8-12z"/><path class=sp d="M2245 1641l8 13-6 27-8-11z"/><path class=sq d="M2238 1628l7 13-6 29-7-12z"/><path class=sr d="M2222 1604l16 24-6 30-16-22z"/><path class=ss d="M2214 1592l8 12-6 32-8-11z"/><path class=st d="M2206 1580l8 12-6 33-8-11z"/><path class=su d="M2191 1558l15 22-6 34-15-21z"/><path class=sv d="M2183 1547l8 11-6 35-8-9z"/><path class=sw d="M2175 1537l8 10-6 37-8-10z"/><path class=sx d="M2159 1518l16 19-6 37-16-17z"/><path class=sy d="M2144 1502l15 16-6 39-15-16z"/><path class=sz d="M2128 1488l16 14-6 39-16-13z"/><path class=sA d="M2113 1477l15 11-6 40-15-10z"/><path class=sB d="M2089 1465l24 12-6 41-24-10z"/><path class=sC d="M2003 1487l24-16 23-8 16-2 7 1 16 3-6 43-23-4-16 1-23 8-24 14z"/><path class=sB d="M1980 1509l23-22-6 40-23 22z"/><path class=sA d="M1956 1538l24-29-6 40-24 27z"/><path class=sz d="M1941 1561l15-23-6 38-15 21z"/><path class=sy d="M1933 1573l8-12-6 36-8 11z"/><path class=sx d="M1917 1599l16-26-6 35-16 25z"/><path class=sw d="M1902 1627l15-28-6 34-15 26z"/><path class=sv d="M1894 1641l8-14-6 32-8 13z"/><path class=su d="M1878 1671l16-30-6 31-16 29z"/><path class=st d="M1870 1687l8-16-6 30-8 14z"/><path class=ss d="M1863 1702l7-15-6 28-7 15z"/><path class=sr d="M1847 1734l16-32-6 28-16 29z"/><path class=sq d="M1839 1750l8-16-6 25-8 15z"/><path class=sp d="M1831 1766l8-16-6 24-8 15z"/><path class=so d="M1816 1798l15-32-6 23-15 30z"/><path class=sn d="M1808 1814l8-16-6 21-8 15z"/><path class=sm d="M1800 1830l8-16-6 20-8 15z"/><path class=sl d="M1784 1861l16-31-6 19-16 29z"/><path class=sk d="M1777 1877l7-16-6 17-7 15z"/><path class=sj d="M1761 1906l16-29-6 16-16 27z"/><path class=sh d="M1738 1948l15-27-6 13-16 25z"/><path class=se d="M1698 2010l16-23-6 8-16 21z"/><path class=sd d="M1675 2041l23-31-6 6-23 29z"/><path class=sc d="M1652 2067l23-26-6 4-23 24z"/><path class=sb d="M1620 2095l32-28-6 2-32 26z"/><path class=sa d="M1339 2189l16 2 23-2 24-7 62-22 70-21 24-9 23-10 24-14 15-11-6 0-31 19-31 13-94 30-70 24-16 4-16 2-15-2-8-3z"/><path class=sb d="M1316 2173l7 7 16 9-6-7-16-10-7-8z"/><path class=sd d="M1300 2152l8 12-6-10-8-13z"/><path class=sf d="M2595 1718l8-14-6-9-8 14z"/><path class=se d="M2580 1744l15-26-6-9-15 25z"/><path class=sd d="M2564 1768l16-24-6-10-16 25z"/><path class=sc d="M2548 1790l16-22-6-9-16 22z"/><path class=sb d="M2525 1817l23-27-6-9-23 28z"/><path class=sa d="M2439 1849l16 3 7 0 16-4 8-3 15-8 24-20-6-8-24 22-23 14-16 5-7 1-16 0z"/><path class=sb d="M2415 1839l16 8 8 2-6 2-8-2-16-5z"/><path class=sc d="M2400 1828l15 11-6 5-15-9z"/><path class=sd d="M2384 1814l16 14-6 7-16-12z"/><path class=se d="M2369 1796l15 18-6 9-15-14z"/><path class=sf d="M2361 1787l8 9-6 13-8-8z"/><path class=sg d="M2353 1776l8 11-6 14-8-9z"/><path class=sh d="M2337 1754l16 22-6 16-16-20z"/><path class=si d="M2330 1742l7 12-6 18-7-10z"/><path class=sj d="M2322 1730l8 12-6 20-8-11z"/><path class=sk d="M2314 1717l8 13-6 21-8-12z"/><path class=sl d="M2306 1704l8 13-6 22-8-11z"/><path class=sm d="M2290 1678l16 26-6 24-16-24z"/><path class=sn d="M2283 1664l7 14-6 26-7-13z"/><path class=so d="M2275 1650l8 14-6 27-8-12z"/><path class=sp d="M2267 1636l8 14-6 29-8-13z"/><path class=sq d="M2259 1623l8 13-6 30-8-12z"/><path class=sr d="M2251 1609l8 14-6 31-8-13z"/><path class=ss d="M2244 1595l7 14-6 32-7-13z"/><path class=st d="M2236 1582l8 13-6 33-8-12z"/><path class=su d="M2220 1556l16 26-6 34-16-24z"/><path class=sv d="M2212 1543l8 13-6 36-8-12z"/><path class=sw d="M2205 1531l7 12-6 37-8-11z"/><path class=sx d="M2197 1519l8 12-7 38-7-11z"/><path class=sy d="M2181 1496l16 23-6 39-16-21z"/><path class=sz d="M2173 1486l8 10-6 41-8-10z"/><path class=sA d="M2158 1467l15 19-6 41-15-17z"/><path class=sB d="M2150 1458l8 9-6 43-8-8z"/><path class=sC d="M2134 1443l16 15-6 44-16-14z"/><path class=sD d="M2111 1426l23 17-6 45-23-16z"/><path class=sE d="M2087 1417l24 9-6 46-24-9z"/><path class=sF d="M2025 1430l15-8 16-5 16-2 15 2-6 46-15-2-16 2-16 4-15 8z"/><path class=sE d="M1994 1458l15-16 16-12-6 45-16 12-15 14z"/><path class=sD d="M1978 1476l16-18-6 43-16 17z"/><path class=sC d="M1954 1509l24-33-6 42-24 31z"/><path class=sB d="M1947 1522l7-13-6 40-7 12z"/><path class=sA d="M1931 1548l16-26-6 39-16 25z"/><path class=sz d="M1923 1562l8-14-6 38-8 13z"/><path class=sy d="M1908 1592l15-30-6 37-15 28z"/><path class=sx d="M1900 1607l8-15-6 35-8 14z"/><path class=sw d="M1884 1639l16-32-6 34-16 30z"/><path class=sv d="M1876 1656l8-17-6 32-8 16z"/><path class=su d="M1869 1673l7-17-6 31-7 15z"/><path class=st d="M1861 1689l8-16-6 29-8 16z"/><path class=ss d="M1845 1724l16-35-6 29-16 32z"/><path class=sr d="M1837 1741l8-17-6 26-8 16z"/><path class=sq d="M1829 1758l8-17-6 25-8 16z"/><path class=sp d="M1822 1775l7-17-6 24-7 16z"/><path class=so d="M1814 1792l8-17-6 23-8 16z"/><path class=sn d="M1798 1826l16-34-6 22-16 32z"/><path class=sm d="M1790 1843l8-17-6 20-8 15z"/><path class=sl d="M1783 1859l7-16-6 18-7 16z"/><path class=sk d="M1767 1891l16-32-6 18-16 29z"/><path class=sj d="M1759 1906l8-15-6 15-8 15z"/><path class=si d="M1744 1936l15-30-6 15-15 27z"/><path class=sh d="M1736 1950l8-14-6 12-8 14z"/><path class=sg d="M1720 1977l16-27-6 12-16 25z"/><path class=sf d="M1704 2002l16-25-6 10-16 23z"/><path class=se d="M1689 2025l15-23-6 8-15 21z"/><path class=sd d="M1673 2046l16-21-6 6-16 19z"/><path class=sc d="M1650 2073l23-27-6 4-23 25z"/><path class=sb d="M1619 2101l31-28-6 2-31 26z"/><path class=sa d="M1337 2192l8 2 16 2 15-2 24-7 62-22 71-21 23-8 31-15 32-20-6 0-32 19-31 13-94 29-62 22-24 6-15 1-16-2-8-4z"/><path class=sb d="M1322 2182l15 10-6-7-15-12z"/><path class=sc d="M1306 2163l16 19-6-9-16-21z"/></g><g><line class="a" x1="130.60" y1="221.70" x2="260.30" y2="181.30"/><line class="a" x1="130.60" y1="221.70" x2="30.60" y2="167.80"/><line class="a" x1="143.62" y1="217.64" x2="141.11" y2="216.29"/><line class="a" x1="120.56" y1="216.29" x2="123.82" y2="215.27"/><line class="a" x1="169.67" y1="209.53" x2="167.16" y2="208.18"/><line class="a" x1="100.48" y1="205.47" x2="103.74" y2="204.45"/><line class="a" x1="195.71" y1="201.42" x2="193.20" y2="200.07"/><line class="a" x1="80.40" y1="194.64" x2="83.65" y2="193.63"/><line class="a" x1="221.75" y1="193.31" x2="219.24" y2="191.95"/><line class="a" x1="60.32" y1="183.82" x2="63.57" y2="182.80"/><line class="a" x1="247.80" y1="185.19" x2="245.29" y2="183.84"/><line class="a" x1="40.24" y1="173.00" x2="43.49" y2="171.98"/></g><g><text class="ttl" x="145.2" y="10.5" text-anchor="middle">Parameter space</text><text class="tk" x="14.3" y="43.1">&#215;10<tspan class="sup8" dy="-2.9">8</tspan></text><text class="tk" x="25.0" y="169.1" text-anchor="end">0</text><text class="tk" x="25.0" y="148.8" text-anchor="end">0.5</text><text class="tk" x="25.0" y="128.6" text-anchor="end">1</text><text class="tk" x="25.0" y="108.3" text-anchor="end">1.5</text><text class="tk" x="25.0" y="88.0" text-anchor="end">2</text><text class="tk" x="25.0" y="67.7" text-anchor="end">2.5</text><text class="tk" x="32.0" y="182.9" text-anchor="middle">4</text><text class="tk" x="52.0" y="193.9" text-anchor="middle">2</text><text class="tk" x="72.2" y="204.6" text-anchor="middle">0</text><text class="tk" x="91.7" y="215.4" text-anchor="middle">-2</text><text class="tk" x="111.7" y="226.2" text-anchor="middle">-4</text><text class="tk" x="150.5" y="227.3" text-anchor="middle">-4</text><text class="tk" x="177.0" y="219.3" text-anchor="middle">-2</text><text class="tk" x="202.6" y="211.3" text-anchor="middle">0</text><text class="tk" x="228.0" y="203.3" text-anchor="middle">2</text><text class="tk" x="254.7" y="194.9" text-anchor="middle">4</text><text class="tk" x="82.6" y="226.9">x<tspan class="asub" dy="2.6">2</tspan></text><text class="tk" x="178.7" y="230.1">x<tspan class="asub" dy="2.9">1</tspan></text><text class="tk zl" transform="translate(9.9 110.6) rotate(-90)" text-anchor="middle">F18( x<tspan class="sub" dy="1.9">1</tspan><tspan dy="-1.9"> , x</tspan><tspan class="sub" dy="1.9">2</tspan><tspan dy="-1.9"> )</tspan></text></g><g><line class="mg" x1="311.6" y1="207.91" x2="541.5" y2="207.91"/><line class="mg" x1="311.6" y1="204.35" x2="541.5" y2="204.35"/><line class="mg" x1="311.6" y1="201.44" x2="541.5" y2="201.44"/><line class="mg" x1="311.6" y1="198.99" x2="541.5" y2="198.99"/><line class="mg" x1="311.6" y1="196.86" x2="541.5" y2="196.86"/><line class="mg" x1="311.6" y1="194.98" x2="541.5" y2="194.98"/><line class="mg" x1="311.6" y1="182.24" x2="541.5" y2="182.24"/><line class="mg" x1="311.6" y1="175.78" x2="541.5" y2="175.78"/><line class="mg" x1="311.6" y1="171.19" x2="541.5" y2="171.19"/><line class="mg" x1="311.6" y1="167.63" x2="541.5" y2="167.63"/><line class="mg" x1="311.6" y1="164.72" x2="541.5" y2="164.72"/><line class="mg" x1="311.6" y1="162.26" x2="541.5" y2="162.26"/><line class="mg" x1="311.6" y1="160.13" x2="541.5" y2="160.13"/><line class="mg" x1="311.6" y1="158.25" x2="541.5" y2="158.25"/><line class="mg" x1="311.6" y1="145.52" x2="541.5" y2="145.52"/><line class="mg" x1="311.6" y1="139.05" x2="541.5" y2="139.05"/><line class="mg" x1="311.6" y1="134.46" x2="541.5" y2="134.46"/><line class="mg" x1="311.6" y1="130.90" x2="541.5" y2="130.90"/><line class="mg" x1="311.6" y1="128.00" x2="541.5" y2="128.00"/><line class="mg" x1="311.6" y1="125.54" x2="541.5" y2="125.54"/><line class="mg" x1="311.6" y1="123.41" x2="541.5" y2="123.41"/><line class="mg" x1="311.6" y1="121.53" x2="541.5" y2="121.53"/><line class="mg" x1="311.6" y1="108.79" x2="541.5" y2="108.79"/><line class="mg" x1="311.6" y1="102.33" x2="541.5" y2="102.33"/><line class="mg" x1="311.6" y1="97.74" x2="541.5" y2="97.74"/><line class="mg" x1="311.6" y1="94.18" x2="541.5" y2="94.18"/><line class="mg" x1="311.6" y1="91.27" x2="541.5" y2="91.27"/><line class="mg" x1="311.6" y1="88.81" x2="541.5" y2="88.81"/><line class="mg" x1="311.6" y1="86.68" x2="541.5" y2="86.68"/><line class="mg" x1="311.6" y1="84.80" x2="541.5" y2="84.80"/><line class="mg" x1="311.6" y1="72.07" x2="541.5" y2="72.07"/><line class="mg" x1="311.6" y1="65.60" x2="541.5" y2="65.60"/><line class="mg" x1="311.6" y1="61.01" x2="541.5" y2="61.01"/><line class="mg" x1="311.6" y1="57.46" x2="541.5" y2="57.46"/><line class="mg" x1="311.6" y1="54.55" x2="541.5" y2="54.55"/><line class="mg" x1="311.6" y1="52.09" x2="541.5" y2="52.09"/><line class="mg" x1="311.6" y1="49.96" x2="541.5" y2="49.96"/><line class="mg" x1="311.6" y1="48.08" x2="541.5" y2="48.08"/><line class="mg" x1="311.6" y1="35.34" x2="541.5" y2="35.34"/><line class="mg" x1="311.6" y1="28.88" x2="541.5" y2="28.88"/><line class="mg" x1="311.6" y1="24.29" x2="541.5" y2="24.29"/><line class="mg" x1="311.6" y1="20.73" x2="541.5" y2="20.73"/><line class="rg" x1="311.6" y1="193.30" x2="541.5" y2="193.30"/><line class="rg" x1="311.6" y1="156.57" x2="541.5" y2="156.57"/><line class="rg" x1="311.6" y1="119.85" x2="541.5" y2="119.85"/><line class="rg" x1="311.6" y1="83.12" x2="541.5" y2="83.12"/><line class="rg" x1="311.6" y1="46.40" x2="541.5" y2="46.40"/><line class="rv" x1="334.38" y1="19.4" x2="334.38" y2="212.5"/><line class="rv" x1="357.40" y1="19.4" x2="357.40" y2="212.5"/><line class="rv" x1="380.41" y1="19.4" x2="380.41" y2="212.5"/><line class="rv" x1="403.42" y1="19.4" x2="403.42" y2="212.5"/><line class="rv" x1="426.43" y1="19.4" x2="426.43" y2="212.5"/><line class="rv" x1="449.45" y1="19.4" x2="449.45" y2="212.5"/><line class="rv" x1="472.46" y1="19.4" x2="472.46" y2="212.5"/><line class="rv" x1="495.47" y1="19.4" x2="495.47" y2="212.5"/><line class="rv" x1="518.49" y1="19.4" x2="518.49" y2="212.5"/><line class="rv" x1="541.50" y1="19.4" x2="541.50" y2="212.5"/><path class="rb" d="M311.6 19.4H541.5V212.5"/><path class="ra" d="M311.6 19.4V212.5H541.5"/><line class="ra" x1="311.6" y1="207.91" x2="312.8" y2="207.91"/><line class="ra" x1="541.5" y1="207.91" x2="540.3" y2="207.91"/><line class="ra" x1="311.6" y1="204.35" x2="312.8" y2="204.35"/><line class="ra" x1="541.5" y1="204.35" x2="540.3" y2="204.35"/><line class="ra" x1="311.6" y1="201.44" x2="312.8" y2="201.44"/><line class="ra" x1="541.5" y1="201.44" x2="540.3" y2="201.44"/><line class="ra" x1="311.6" y1="198.99" x2="312.8" y2="198.99"/><line class="ra" x1="541.5" y1="198.99" x2="540.3" y2="198.99"/><line class="ra" x1="311.6" y1="196.86" x2="312.8" y2="196.86"/><line class="ra" x1="541.5" y1="196.86" x2="540.3" y2="196.86"/><line class="ra" x1="311.6" y1="194.98" x2="312.8" y2="194.98"/><line class="ra" x1="541.5" y1="194.98" x2="540.3" y2="194.98"/><line class="ra" x1="311.6" y1="193.30" x2="313.6" y2="193.30"/><line class="ra" x1="541.5" y1="193.30" x2="539.5" y2="193.30"/><line class="ra" x1="311.6" y1="182.24" x2="312.8" y2="182.24"/><line class="ra" x1="541.5" y1="182.24" x2="540.3" y2="182.24"/><line class="ra" x1="311.6" y1="175.78" x2="312.8" y2="175.78"/><line class="ra" x1="541.5" y1="175.78" x2="540.3" y2="175.78"/><line class="ra" x1="311.6" y1="171.19" x2="312.8" y2="171.19"/><line class="ra" x1="541.5" y1="171.19" x2="540.3" y2="171.19"/><line class="ra" x1="311.6" y1="167.63" x2="312.8" y2="167.63"/><line class="ra" x1="541.5" y1="167.63" x2="540.3" y2="167.63"/><line class="ra" x1="311.6" y1="164.72" x2="312.8" y2="164.72"/><line class="ra" x1="541.5" y1="164.72" x2="540.3" y2="164.72"/><line class="ra" x1="311.6" y1="162.26" x2="312.8" y2="162.26"/><line class="ra" x1="541.5" y1="162.26" x2="540.3" y2="162.26"/><line class="ra" x1="311.6" y1="160.13" x2="312.8" y2="160.13"/><line class="ra" x1="541.5" y1="160.13" x2="540.3" y2="160.13"/><line class="ra" x1="311.6" y1="158.25" x2="312.8" y2="158.25"/><line class="ra" x1="541.5" y1="158.25" x2="540.3" y2="158.25"/><line class="ra" x1="311.6" y1="156.57" x2="313.6" y2="156.57"/><line class="ra" x1="541.5" y1="156.57" x2="539.5" y2="156.57"/><line class="ra" x1="311.6" y1="145.52" x2="312.8" y2="145.52"/><line class="ra" x1="541.5" y1="145.52" x2="540.3" y2="145.52"/><line class="ra" x1="311.6" y1="139.05" x2="312.8" y2="139.05"/><line class="ra" x1="541.5" y1="139.05" x2="540.3" y2="139.05"/><line class="ra" x1="311.6" y1="134.46" x2="312.8" y2="134.46"/><line class="ra" x1="541.5" y1="134.46" x2="540.3" y2="134.46"/><line class="ra" x1="311.6" y1="130.90" x2="312.8" y2="130.90"/><line class="ra" x1="541.5" y1="130.90" x2="540.3" y2="130.90"/><line class="ra" x1="311.6" y1="128.00" x2="312.8" y2="128.00"/><line class="ra" x1="541.5" y1="128.00" x2="540.3" y2="128.00"/><line class="ra" x1="311.6" y1="125.54" x2="312.8" y2="125.54"/><line class="ra" x1="541.5" y1="125.54" x2="540.3" y2="125.54"/><line class="ra" x1="311.6" y1="123.41" x2="312.8" y2="123.41"/><line class="ra" x1="541.5" y1="123.41" x2="540.3" y2="123.41"/><line class="ra" x1="311.6" y1="121.53" x2="312.8" y2="121.53"/><line class="ra" x1="541.5" y1="121.53" x2="540.3" y2="121.53"/><line class="ra" x1="311.6" y1="119.85" x2="313.6" y2="119.85"/><line class="ra" x1="541.5" y1="119.85" x2="539.5" y2="119.85"/><line class="ra" x1="311.6" y1="108.79" x2="312.8" y2="108.79"/><line class="ra" x1="541.5" y1="108.79" x2="540.3" y2="108.79"/><line class="ra" x1="311.6" y1="102.33" x2="312.8" y2="102.33"/><line class="ra" x1="541.5" y1="102.33" x2="540.3" y2="102.33"/><line class="ra" x1="311.6" y1="97.74" x2="312.8" y2="97.74"/><line class="ra" x1="541.5" y1="97.74" x2="540.3" y2="97.74"/><line class="ra" x1="311.6" y1="94.18" x2="312.8" y2="94.18"/><line class="ra" x1="541.5" y1="94.18" x2="540.3" y2="94.18"/><line class="ra" x1="311.6" y1="91.27" x2="312.8" y2="91.27"/><line class="ra" x1="541.5" y1="91.27" x2="540.3" y2="91.27"/><line class="ra" x1="311.6" y1="88.81" x2="312.8" y2="88.81"/><line class="ra" x1="541.5" y1="88.81" x2="540.3" y2="88.81"/><line class="ra" x1="311.6" y1="86.68" x2="312.8" y2="86.68"/><line class="ra" x1="541.5" y1="86.68" x2="540.3" y2="86.68"/><line class="ra" x1="311.6" y1="84.80" x2="312.8" y2="84.80"/><line class="ra" x1="541.5" y1="84.80" x2="540.3" y2="84.80"/><line class="ra" x1="311.6" y1="83.12" x2="313.6" y2="83.12"/><line class="ra" x1="541.5" y1="83.12" x2="539.5" y2="83.12"/><line class="ra" x1="311.6" y1="72.07" x2="312.8" y2="72.07"/><line class="ra" x1="541.5" y1="72.07" x2="540.3" y2="72.07"/><line class="ra" x1="311.6" y1="65.60" x2="312.8" y2="65.60"/><line class="ra" x1="541.5" y1="65.60" x2="540.3" y2="65.60"/><line class="ra" x1="311.6" y1="61.01" x2="312.8" y2="61.01"/><line class="ra" x1="541.5" y1="61.01" x2="540.3" y2="61.01"/><line class="ra" x1="311.6" y1="57.46" x2="312.8" y2="57.46"/><line class="ra" x1="541.5" y1="57.46" x2="540.3" y2="57.46"/><line class="ra" x1="311.6" y1="54.55" x2="312.8" y2="54.55"/><line class="ra" x1="541.5" y1="54.55" x2="540.3" y2="54.55"/><line class="ra" x1="311.6" y1="52.09" x2="312.8" y2="52.09"/><line class="ra" x1="541.5" y1="52.09" x2="540.3" y2="52.09"/><line class="ra" x1="311.6" y1="49.96" x2="312.8" y2="49.96"/><line class="ra" x1="541.5" y1="49.96" x2="540.3" y2="49.96"/><line class="ra" x1="311.6" y1="48.08" x2="312.8" y2="48.08"/><line class="ra" x1="541.5" y1="48.08" x2="540.3" y2="48.08"/><line class="ra" x1="311.6" y1="46.40" x2="313.6" y2="46.40"/><line class="ra" x1="541.5" y1="46.40" x2="539.5" y2="46.40"/><line class="ra" x1="311.6" y1="35.34" x2="312.8" y2="35.34"/><line class="ra" x1="541.5" y1="35.34" x2="540.3" y2="35.34"/><line class="ra" x1="311.6" y1="28.88" x2="312.8" y2="28.88"/><line class="ra" x1="541.5" y1="28.88" x2="540.3" y2="28.88"/><line class="ra" x1="311.6" y1="24.29" x2="312.8" y2="24.29"/><line class="ra" x1="541.5" y1="24.29" x2="540.3" y2="24.29"/><line class="ra" x1="311.6" y1="20.73" x2="312.8" y2="20.73"/><line class="ra" x1="541.5" y1="20.73" x2="540.3" y2="20.73"/><line class="ra" x1="334.38" y1="212.5" x2="334.38" y2="210.5"/><line class="ra" x1="357.40" y1="212.5" x2="357.40" y2="210.5"/><line class="ra" x1="380.41" y1="212.5" x2="380.41" y2="210.5"/><line class="ra" x1="403.42" y1="212.5" x2="403.42" y2="210.5"/><line class="ra" x1="426.43" y1="212.5" x2="426.43" y2="210.5"/><line class="ra" x1="449.45" y1="212.5" x2="449.45" y2="210.5"/><line class="ra" x1="472.46" y1="212.5" x2="472.46" y2="210.5"/><line class="ra" x1="495.47" y1="212.5" x2="495.47" y2="210.5"/><line class="ra" x1="518.49" y1="212.5" x2="518.49" y2="210.5"/><line class="ra" x1="541.50" y1="212.5" x2="541.50" y2="210.5"/></g><polyline fill="none" stroke="#f42828" stroke-width="1.05" points="311.6,19.4 311.6,75.9 314.4,75.9 314.6,93.9 316.1,94.3 316.6,101.0 317.7,101.3 317.8,115.6 319.2,120.6 319.4,146.1 322.6,146.1 322.8,153.3 324.6,153.8 325.0,159.5 328.5,160.3 329.3,167.8 333.8,168.3 335.0,169.8 339.4,169.8 340.6,172.8 341.2,180.6 344.2,180.6 345.4,196.3 346.0,208.0 350.5,208.0 353.3,211.1 357.0,212.6 541.5,212.6"/><polyline fill="none" stroke="#1a1aff" stroke-width="1.2" points="311.2,151.9 311.3,200.0 312.8,206.0 313.5,211.5 316.0,212.5 541.5,212.5"/><polyline fill="none" stroke="#14c814" stroke-width="1.7" points="311.9,165.3 311.9,209.0 313.0,212.6 541.5,212.7"/><g><text class="rtt" transform="translate(426.2 15.6) scale(0.470 1)" text-anchor="middle">Objective space</text><text class="rt" transform="translate(334.4 224.6) scale(0.460 1)" text-anchor="middle">100</text><text class="rt" transform="translate(357.4 224.6) scale(0.460 1)" text-anchor="middle">200</text><text class="rt" transform="translate(380.4 224.6) scale(0.460 1)" text-anchor="middle">300</text><text class="rt" transform="translate(403.4 224.6) scale(0.460 1)" text-anchor="middle">400</text><text class="rt" transform="translate(426.4 224.6) scale(0.460 1)" text-anchor="middle">500</text><text class="rt" transform="translate(449.4 224.6) scale(0.460 1)" text-anchor="middle">600</text><text class="rt" transform="translate(472.5 224.6) scale(0.460 1)" text-anchor="middle">700</text><text class="rt" transform="translate(495.5 224.6) scale(0.460 1)" text-anchor="middle">800</text><text class="rt" transform="translate(518.5 224.6) scale(0.460 1)" text-anchor="middle">900</text><text class="rt" transform="translate(541.5 224.6) scale(0.460 1)" text-anchor="middle">1000</text><text class="rt" transform="translate(426.6 237.3) scale(0.460 1)" text-anchor="middle">Iteration</text><text class="rt" transform="translate(309.9 198.8) scale(0.460 1)" text-anchor="end">10<tspan class="rsup" dy="-5.3">1</tspan></text><text class="rt" transform="translate(309.9 162.1) scale(0.460 1)" text-anchor="end">10<tspan class="rsup" dy="-5.3">2</tspan></text><text class="rt" transform="translate(309.9 125.3) scale(0.460 1)" text-anchor="end">10<tspan class="rsup" dy="-5.3">3</tspan></text><text class="rt" transform="translate(309.9 88.6) scale(0.460 1)" text-anchor="end">10<tspan class="rsup" dy="-5.3">4</tspan></text><text class="rt" transform="translate(309.9 51.9) scale(0.460 1)" text-anchor="end">10<tspan class="rsup" dy="-5.3">5</tspan></text><text class="ryl" transform="translate(301.6 115.7) scale(0.500 1) rotate(-90)" text-anchor="middle">Best score obtained so far</text></g><g><rect x="513.1" y="25.2" width="26.5" height="32.8" fill="#fff" stroke="#c8c8c8" stroke-width=".6"/><line x1="514" y1="31.1" x2="521.5" y2="31.1" stroke="#ff1010" stroke-width="1.4"/><text class="rlg" transform="translate(521.8 34.3) scale(0.420 1)" text-anchor="start">GWO</text><line x1="514" y1="41.9" x2="521.5" y2="41.9" stroke="#1010ff" stroke-width="1.4"/><text class="rlg" transform="translate(521.8 45.1) scale(0.420 1)" text-anchor="start">IGWO</text><line x1="514" y1="53.0" x2="521.5" y2="53.0" stroke="#10c810" stroke-width="1.4"/><text class="rlg" transform="translate(521.8 56.2) scale(0.420 1)" text-anchor="start">LF-IGWO</text></g><text class="cap" x="136.3" y="263.8" text-anchor="middle">(<tspan font-weight="bold">a</tspan>)</text><text class="cap" x="420.5" y="263.8" text-anchor="middle">(<tspan font-weight="bold">b</tspan>)</text></svg></body></html>
